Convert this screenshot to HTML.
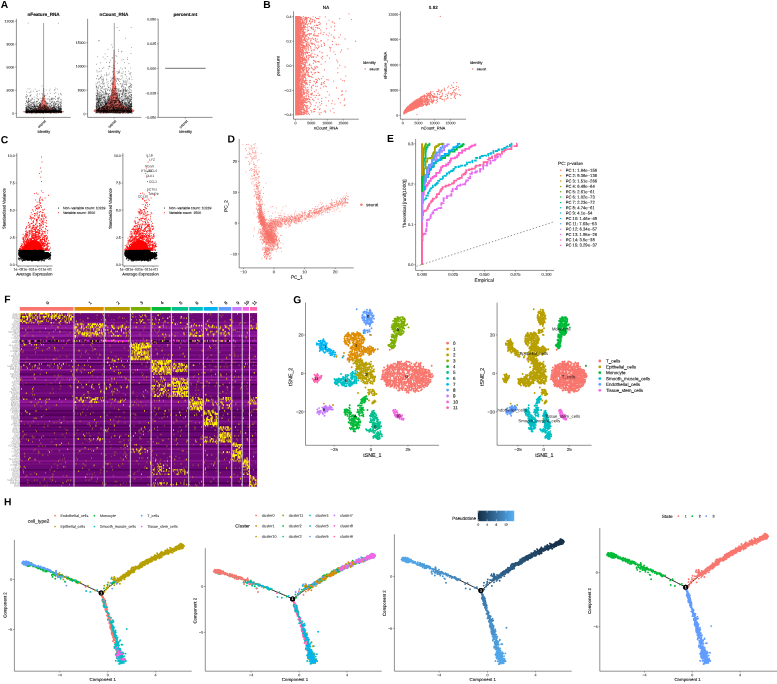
<!DOCTYPE html><html><head><meta charset="utf-8"><title>Figure</title><style>html,body{margin:0;padding:0;background:#fff}svg{display:block}text{font-family:"Liberation Sans",sans-serif;text-rendering:geometricPrecision}text:not([transform]){transform-box:fill-box;transform-origin:center;transform:rotate(.03deg)}</style></head><body><svg width="777" height="684" viewBox="0 0 777 684"><rect width="777" height="684" fill="#fff"/><text x=".8" y="8" font-size="10.3" fill="#000" font-weight="bold">A</text>
<path d="M43.6 23L43.6 92" stroke="#4a4a4a" stroke-width="0.5" fill="none"/>
<path d="M43.5 88L43.2 92L42.8 96L42.3 99L41.6 102L40.7 104L39.5 106L37.6 108L35.1 109.5L32.1 110.5L28.1 111.1L23.4 111.5L23.4 112.1L26.6 112.6L31.6 113.1L55.6 113.1L60.6 112.6L63.8 112.1L63.8 111.5L59.1 111.1L55.1 110.5L52.1 109.5L49.6 108L47.7 106L46.5 104L45.6 102L44.9 99L44.4 96L44 92L43.7 88Z" fill="#F8766D" stroke="#333" stroke-width="0.2"/>
<path d="M28.2 23.2h0m30.1 .1h0m-16.2 62.7h0m-14.2 2.8h0m2 .1h0m5.3 .3h0m14.9-.1h0m4.9 .7h0m.8-1.7h0m1.5 1h0m-30.5 2.8h0m2.4 .6h0m1.6-.1h0m.1-1.2h0m2.4 .1h0m3.4 .2h0m.6-.2h0m1.8-.8h0m7.1-.5h0m3.1 .8h0m5.1-.7h0m1.4 2.6h0m-29.3 1.9h0m.6 1.3h0m3.3 0h0m.1-.5h0m.5-.6h0m5.3 .2h0m1.1-1h0m2.2-.1h0m2.3-.3h0m.7 1.1h0m1.9 1.3h0m1.3-.4h0m1.8-1.8h0m2.7-.4h0m4.3 .1h0m4 .7h0m1.7-.6h0m.5 .4h0m.5 .9h0m-35.4 1.6h0m.1 .9h0m.4-.4h0m0 1.4h0m1.3-2.4h0m.5 2.8h0m.3-.2h0m.2-.2h0m1.1-2.2h0m2.1 2h0m.6 .5h0m1.7-1.7h0m1.9 .9h0m1.1 .7h0m.4-2.4h0m2.5 2.1h0m1.8 .1h0m.4 .5h0m.7-1.2h0m.3 1h0m.5 .2h0m.4-2.8h0m.3 .1h0m1.5 2.5h0m2.2 .1h0m1.4-2.3h0m1.9 1.8h0m.5-.2h0m.1 .4h0m1-.2h0m1.4 .3h0m.8-1.7h0m.2-.4h0m1.9 1.8h0m.4 .5h0m1-1.1h0m.1 .7h0m.2-1.1h0m-32.8 3.9h0m.1-.1h0m.5 0h0m.1 0h0m1.3-.4h0m.3 .9h0m.1-1.9h0m0 1.5h0m.1 .5h0m.2-1.6h0m.1 1.3h0m.2 .1h0m1-1.3h0m.4 1.8h0m.1-1.2h0m.3-1h0m.3 .1h0m1.3-.7h0m1.6 2.5h0m.2 .1h0m.1-2.1h0m2.1 1.9h0m0 .3h0m.3-.5h0m.1-.1h0m.1 0h0m.9-2.2h0m.5 .3h0m0 .6h0m2.4 .5h0m.1 .8h0m.9-.2h0m.4-.8h0m1.3 0h0m.8 1h0m.7 .1h0m.2-.1h0m.6 .6h0m1.6-2.8h0m1.7 .1h0m.1 2.1h0m.2-1.2h0m1.2 .9h0m0-1.6h0m.8 .3h0m0-.3h0m.4 2.1h0m.5 .2h0m.2-2.1h0m.7-.6h0m.4 2.9h0m.7-.1h0m1-2.4h0m1.4 2.1h0m.1 0h0m.3 .2h0m.6-1.3h0m.6-1.2h0m.4 2.4h0m1.8-2.3h0m.2 2.6h0m.3-2.2h0m.1 1.3h0m-35.7 2.5h0m1.4-1.1h0m.1 .3h0m.4 .1h0m.3-.1h0m.1 1.8h0m.4-.7h0m.1-1.2h0m.2 1.6h0m.5 .4h0m.3-1.2h0m.7 1.5h0m0 .1h0m.3-2.9h0m.5 2.6h0m.2 .1h0m.1-1.4h0m.2-.8h0m.4 2.1h0m.4-1.8h0m.5 0h0m0 .9h0m.3-.8h0m.2-.8h0m.4 2.4h0m.1-1.7h0m.3 .3h0m0-.4h0m.1 1.2h0m.1 .9h0m.4-.6h0m1.3-1.6h0m.1 1.4h0m.5 .6h0m.3-.8h0m.6 0h0m.7-.7h0m.4 .4h0m.8-1.2h0m.1 0h0m.1 1.8h0m.2 .6h0m.2-.2h0m0-.2h0m.2-1.3h0m.1 1.3h0m.1-.5h0m0 .3h0m0-.9h0m.5-.4h0m0 1h0m.1 .9h0m1.4-2.7h0m0 1.4h0m1.7 1.3h0m1 .2h0m.8-1.4h0m.4-.6h0m.6-.8h0m.1 .7h0m0 .5h0m.2 .8h0m.2 .1h0m.3-.9h0m.1-.1h0m.5-.1h0m.5 1.8h0m.3-1.3h0m.4 1.3h0m.6-1.7h0m.4 .7h0m0-.3h0m.8-.9h0m.1 2h0m.5-2.5h0m0 .2h0m.3 2.4h0m1.1-.8h0m.1-.8h0m.5 1.7h0m.1-1.8h0m0 .8h0m.4-1.6h0m.1 1.6h0m.9 1h0m.1-1.4h0m.2 1h0m0-1.7h0m.2 1.8h0m.3-.5h0m.1-.4h0m.2-.7h0m1.6 .5h0m0 .8h0m.5 .2h0m0-2.5h0m0 2.8h0m.8-1.8h0m.8-.3h0m0-.8h0m0 2.6h0m.2-1.6h0m.3 1.9h0m.1 0h0m.6-1.2h0m.1-.8h0m-35.8 2.5h0m.4 1.9h0m.1 .6h0m.2-.1h0m.1-.3h0m0-2.3h0m0 1.4h0m.2 1.3h0m.1 .1h0m.4-1.3h0m.1-1.1h0m.5 1.7h0m.3-.6h0m0 .4h0m.1-.8h0m0-.1h0m.1-.2h0m0 1.2h0m.3 0h0m.1-1.3h0m0-.9h0m.2 2.5h0m.4-.1h0m.1-1.7h0m.1 1.1h0m0 .5h0m.4 .1h0m0-1.8h0m.1 2.2h0m.1 .1h0m.3-1.8h0m.2 .3h0m.3 1.1h0m.5 .4h0m0-.1h0m.2-2.6h0m.4 1h0m.1 .7h0m0-.4h0m0-.1h0m.1 .1h0m.6-.1h0m.1 .4h0m.2 .5h0m.2-1.4h0m0 1.5h0m.3-2.3h0m.4 2h0m.1-.5h0m0 .3h0m.1-.4h0m0 1.3h0m.4-2.1h0m0-.5h0m.1 1.3h0m.1-.1h0m.1 .7h0m0-1.1h0m.1 .5h0m0-.5h0m.1-.7h0m0 1.2h0m.1-.3h0m.2 .2h0m.2 1.2h0m.1 0h0m.2-.9h0m0 1.2h0m.5-1.6h0m.5-.7h0m.1 .4h0m0 .2h0m0 .3h0m.2-.4h0m.1 .7h0m.2-.4h0m.1 .2h0m.1-1.5h0m.2 2h0m.7 .5h0m0-1.2h0m.2 .3h0m0 .1h0m.1 1.2h0m0-1.8h0m.2 1.7h0m0-.3h0m.2-1.9h0m0 1.8h0m.1-1.5h0m.1 1.6h0m.2-1.5h0m0-.4h0m.2-.2h0m.1 2.1h0m.1-2.1h0m.2 2.1h0m0-1.6h0m0-.5h0m.4 1h0m.1-.5h0m0 .8h0m0 .3h0m.1 .8h0m.1-.3h0m.6-2.5h0m.2 2.5h0m0 0h0m0 .3h0m.2-1.1h0m.1 .2h0m0 .1h0m.4-.4h0m.1 .8h0m0 .4h0m.4-2.6h0m.1 2.2h0m.1-1.8h0m0 .1h0m.2-.8h0m.1 2h0m0 .6h0m.1-1h0m.3 1.3h0m.4-2.8h0m.1 1.5h0m0 .2h0m.1-1.3h0m0 2h0m.1-.1h0m0 .3h0m0-1h0m.1-1.2h0m.1 2h0m.1-1.7h0m0 .3h0m.4 1.7h0m.1-1.1h0m0-.8h0m0 1.2h0m.1-.1h0m.1-.4h0m.5-.8h0m.1 1.4h0m0-.7h0m.1 1.4h0m.3-1.9h0m.1-.5h0m.2 2.3h0m.2-1.5h0m.7 1.5h0m.1-.5h0m.1 .3h0m.1-1.1h0m0 .7h0m.1 .3h0m.3 .4h0m.6-2.1h0m.2 1.8h0m.4-1.4h0m.1 0h0m.1 .5h0m.1-.5h0m.4 .5h0m.2 .5h0m.1 .7h0m.2-.6h0m.1-1.3h0m.4 0h0m0 2h0m.1-.6h0m.2-1.9h0m.4 0h0m.3 2.2h0m.4 .3h0m0-.5h0m.1 .3h0m.1-1h0m.3 .9h0m0-.3h0m0-.7h0m.1 .9h0m.2-.3h0m0-1.2h0m.1-.2h0m0 1.7h0m.5-.5h0m0-2.1h0m0 2.6h0m.4-1.2h0m.1 .9h0m.1-1.7h0m0 1.9h0m.1-1.6h0m0 1.3h0m.3-.9h0m.9 .3h0m.1 .8h0m.2-.3h0m.3-.6h0m.7-.9h0m.2 1.7h0m.1 .4h0m.4-1.7h0m.1 1.7h0m0-2.2h0m.3 2.1h0m0-.7h0m.1-.4h0m.2 .5h0m0 .2h0m0 .6h0m.3-.8h0m.4-.3h0m.4-.3h0m.2 1.4h0m0-.7h0m.5 .8h0m.4-2.4h0m.1 1.1h0m0 .3h0m.1-.5h0m.1-.4h0m-35.4 2.2h0m.2 1.1h0m0 .4h0m0 1.2h0m0-.1h0m.1 .1h0m.1-1.3h0m0-.8h0m.1 1.9h0m0-.4h0m0 .5h0m.1-.2h0m.1-1.2h0m.1 .9h0m0-1.2h0m.1 .1h0m.1-.4h0m.1 .2h0m.3 2h0m0-2.3h0m.1 2.1h0m.1-.6h0m0 .8h0m0-1.2h0m.1 0h0m.1-.1h0m0-.9h0m.1-.1h0m.2 1.2h0m.3 0h0m0-.1h0m.1 1.1h0m0-.5h0m.1-.8h0m0 1.4h0m0-2.2h0m0 .3h0m0 .3h0m.3 1.3h0m.1-2.7h0m.1 2.9h0m.2-.1h0m0-.8h0m.1 1h0m0-2.5h0m0 1.6h0m0 .7h0m.5 .1h0m0-.4h0m.2-2.2h0m0 1.7h0m0-.9h0m.1 1.8h0m.1-1.6h0m0-.5h0m.3 2.2h0m.1-1.1h0m0-1.4h0m0 2.4h0m.2-2.8h0m0 .9h0m0 .2h0m.1-.9h0m.1 1.4h0m0-1.4h0m.1 .3h0m.1 1.7h0m0-.2h0m.2 .9h0m0-2.3h0m0 1.9h0m.1-1.9h0m.3 .5h0m0 1.5h0m.1-.1h0m.1-.1h0m.1-2.2h0m0 2h0m0-1.1h0m.1-.2h0m.1 1.5h0m0-1.8h0m.1 2.3h0m.2-1.6h0m.1 .5h0m.1 .2h0m0-1.1h0m0 1.8h0m.1-2.6h0m.1 1.1h0m.3-.1h0m.1 .4h0m.1 .5h0m0 .8h0m.1 0h0m.1 0h0m.2-2.7h0m.1 1.7h0m0-.8h0m0 0h0m0 0h0m.1-.1h0m.1 .8h0m.1 0h0m0 0h0m.1-1.3h0m0-.4h0m.3 2.8h0m.1-.3h0m0 .3h0m0-.6h0m0-1.7h0m.2-.4h0m0 1.9h0m.1-1h0m.3 1.7h0m.2-2h0m0 .6h0m.1-.1h0m.1 .8h0m0 .8h0m.1-2.5h0m0 2.6h0m.1-2.8h0m0 2.5h0m0-.7h0m0 0h0m.1 .9h0m.1-1.3h0m.1-.8h0m0-.5h0m.1 2h0m0-.4h0m0-1.3h0m.1 1.2h0m0 1.2h0m0-1h0m.2 .9h0m.1 .1h0m0-1h0m.1 .1h0m.1-.1h0m.1 .2h0m0-2.1h0m0 1.1h0m0 1.3h0m.2-.7h0m.1 .7h0m.2 0h0m.2 .5h0m0-2.3h0m0 1.4h0m.2 .2h0m.1 .3h0m0 .1h0m.1-.4h0m.1-2h0m.1 .2h0m.1 .2h0m0 1.3h0m.1-.8h0m.1 1.2h0m.1-.5h0m.1 .2h0m.1-.2h0m.1 1h0m0-1.7h0m.1 .9h0m0 .5h0m.1-1.1h0m.1 .9h0m.1 0h0m.1-.6h0m.1-1.2h0m.1 2h0m0-.3h0m0-.7h0m.1 .5h0m.2-1.6h0m.4 2.4h0m0-.6h0m.1-.3h0m0-1.4h0m0 .5h0m.1 .6h0m.1-.1h0m0-1.3h0m0 2.5h0m.1-.6h0m.1 .2h0m.2-.4h0m0-1.2h0m0 1.4h0m.1-1.5h0m.1 0h0m0 .7h0m.2 1.2h0m0-1.1h0m.1 1.2h0m.1-.3h0m.1-.8h0m.1 1.3h0m.2-2.5h0m.1 1.4h0m0 .7h0m.1-.4h0m.1 .2h0m0 .2h0m.1-.3h0m0-2.1h0m.1 2h0m0 .6h0m.1-.9h0m.1 1h0m.1-2.7h0m.1 2.9h0m0-2.5h0m.2 1.8h0m0 .6h0m.1-2.6h0m.2 2h0m0 .1h0m.2-1h0m0-.8h0m.1 .7h0m.1 1.2h0m0 .3h0m0-.1h0m0-.7h0m.1-.4h0m.1 .8h0m0-1.9h0m.2-.5h0m.1 2.8h0m0 .1h0m.2 .1h0m0-1.4h0m0 .3h0m0-.4h0m.2-.9h0m.1 .8h0m.3-1.1h0m0 2.6h0m0-2.1h0m.1 1.5h0m0-.1h0m0 .4h0m.2-2.3h0m.2 .8h0m0 1.9h0m.1-1.6h0m0-1h0m.1 .6h0m0 1.9h0m.1-1.4h0m0-.9h0m0 .3h0m0 1.8h0m.1-.7h0m0-.1h0m.1 .1h0m.1-.1h0m0-.8h0m0 1h0m.1 .8h0m.1-2.1h0m0 2.2h0m.1-.3h0m0-1.4h0m.1 .8h0m0 .6h0m0-1.8h0m.1 1.8h0m.1-2.4h0m.1 2.2h0m0-2.5h0m.1 2.1h0m.2-.8h0m.1 1.6h0m.1-2.8h0m.1 .9h0m0 .7h0m.2-.2h0m0 1.5h0m.1-.1h0m0-.8h0m.1-.5h0m.1 .1h0m0-1.2h0m.4 .3h0m.1 1.3h0m0 .8h0m0-.2h0m.1-1.9h0m0 1.5h0m.1 .3h0m0 .4h0m0-2.6h0m.2 .6h0m.1 1h0m.1 .9h0m0-.3h0m0-.8h0m.1 .3h0m.1-.1h0m0-1h0m.2 1.3h0m.1 .5h0m0 .1h0m.1-.5h0m0 .1h0m.2 .2h0m0-.2h0m.1 .1h0m.2 .1h0m0-.5h0m0-.4h0m0-.7h0m0-.2h0m0-.9h0m.1 1h0m.2 1.2h0m.3 .1h0m.3-.3h0m.1 .6h0m.1-1.8h0m0 1.6h0m0-.4h0m0 .7h0m.2-2.1h0m0 .2h0m.1-.5h0m0 2.2h0m.1 .4h0m0-.3h0m.1-.6h0m0 .8h0m0-.2h0m.4-2.6h0m.1 1.9h0m0 .3h0m0-.8h0m.1-.9h0m.1 .8h0m.1 .8h0m0-1.3h0m0 1.6h0m.2-1.5h0m0 1.4h0m.1 .1h0m0-1.3h0m.1 .2h0m.2-.8h0m0 1.8h0m.1 .5h0m0-1.3h0m.1 1.4h0m0-.4h0m.1-.9h0m0 .3h0m.1 0h0m.2 1h0m0-.8h0m.1 .2h0m0 .2h0m.1-.3h0m0-.5h0m0-1.1h0m0 1.8h0m0-.6h0m0 1.1h0m.2-2.6h0m0 2.4h0m.1 .2h0m0-1.1h0m.1-.3h0m0 .3h0m0 1h0m0-2.8h0m.2 2.8h0m0-2.5h0m.1 2.5h0m0-2.1h0m0 2.1h0m.2-2.3h0m.1 .7h0m0 1.2h0m0-.2h0m.2-.5h0m.1 .6h0m0-.5h0m.1 .9h0m0-2.5h0m0 .2h0m.1 1.1h0m.1-.9h0m0 1.2h0m.1-.3h0m0 .9h0m0 .4h0m0-2.2h0m.1 .9h0m0 .4h0m.1-1h0m.1 .9h0m0 .7h0m.1-.6h0m.1 1h0m0 .1h0m.1-1.2h0m.1-1.7h0m0 2.5h0m.2 .3h0m.1-1.1h0m.1 1h0m.1-2.6h0m.2 2.6h0m.1 .1h0m.2-.7h0m.2-.7h0m.2 .7h0m0 .7h0m.2-2h0m.1-.4h0m.1 2.2h0m.1-.3h0m0 .4h0m.2-1.1h0m0 1.2h0m0-.3h0m.1-2.3h0m.1 .1h0m0 2h0m0-.5h0m.2-1.4h0m.1 1.4h0m0 .3h0m.1-.9h0m0 .1h0m0-.4h0m0 .8h0m.2 .9h0m0 0h0m.1-2.6h0m.1 2.8h0m0-.6h0m.2 .6h0m0-2.3h0m.1 0h0m0 1.8h0m.1-1.2h0m.1 .7h0m0-.5h0m0-.6h0m.1-.8h0m.1 1.6h0m0 .7h0m.1 .2h0m0-2.2h0m0 .6h0m.1 1.4h0m.1 .4h0m0-1.5h0m.1-.8h0m.1 .8h0m.1 0h0m.3 .5h0m.1-.5h0m.1-.9h0m.1 .8h0m0-.4h0m-35.9 4.2h0m.3-.7h0m.1 .3h0m.1-1.3h0m0 .2h0m.1 1h0m0-1.3h0m0 .8h0m0 .1h0m.1-.9h0m.1 1.4h0m.1-.7h0m0-.2h0m.1 1.2h0m0-1.3h0m0 1.3h0m.1-.4h0m0-.5h0m0-.1h0m0 .5h0m.1-.3h0m0-.2h0m.1 .8h0m0 .1h0m0-1.7h0m0 .6h0m.1 0h0m0 .3h0m.1-.9h0m0 0h0m0 .6h0m.1 1.1h0m0-.2h0m.1 .2h0m0-1.3h0m.1 .3h0m.1 1.1h0m.1-.2h0m0-1.5h0m.1 .2h0m0 0h0m0 .1h0m.1-.1h0m0-.1h0m.1 1.4h0m0-.7h0m0-.3h0m.1 .5h0m.1-.3h0m0-.6h0m.2 .4h0m.2 .5h0m.1-1h0m0 .9h0m.1 .7h0m0-.9h0m.1-.3h0m0 .3h0m.1 .1h0m.2 .9h0m.1-1h0m.1 1h0m.1-.9h0m0 0h0m0 .1h0m.1-.7h0m.1 .7h0m0-.4h0m0 .4h0m0 .5h0m.1-.4h0m0 .3h0m.1-.9h0m.1 .5h0m0-.4h0m0 .6h0m.2-.4h0m0-.2h0m.1-.4h0m0 .6h0m.1 1h0m0-1.1h0m.2 .4h0m0 .5h0m.2-.9h0m0-.1h0m.1 .4h0m.1 .2h0m.1-.7h0m0-.2h0m0 .2h0m0 .5h0m.1-.8h0m0 .3h0m.1 .4h0m.1-.2h0m.1 1.2h0m0-.3h0m.1-1.5h0m0 .8h0m0 1h0m0-1.8h0m.2 1.2h0m0 .3h0m0-.6h0m0 .7h0m0-1.6h0m.1 1.2h0m.1-.1h0m0-.9h0m0 .6h0m.1 .5h0m.1-.8h0m.1 .2h0m0 .2h0m0 .1h0m0-.9h0m0 .4h0m.1 .2h0m0-.4h0m0 1.4h0m.1-1h0m0 1h0m0-1.3h0m.1 .8h0m.1-.7h0m.2-.4h0m0 .9h0m0 0h0m.1 .5h0m0-1.3h0m0-.1h0m.1 .1h0m0 .1h0m.2 .7h0m.1-.3h0m0-.2h0m0 .9h0m.1-1h0m.1-.4h0m0 1.8h0m.1-1.3h0m.2-.4h0m0 0h0m0 .1h0m.2-.1h0m0 .2h0m0-.4h0m0 .3h0m.1 .1h0m0-.4h0m0 .2h0m.1 .5h0m.1 .3h0m0-.8h0m.1 .9h0m0 0h0m.1 .7h0m.1-1.6h0m0 .2h0m0 .3h0m0-.7h0m.1 .2h0m.1 .1h0m.1 1h0m0-1h0m.1 1.5h0m0-1h0m0-.2h0m0-.4h0m.3 1.6h0m.1-.9h0m0 .7h0m0-.3h0m.2 .1h0m.1-.2h0m0-.6h0m.2 .1h0m0 1h0m.1-.3h0m.1-1.4h0m0 1.4h0m0-.1h0m.1-.3h0m0-.9h0m.1 .3h0m.1 .1h0m0 1.3h0m.1-1.6h0m0 .5h0m0 1h0m.1 .2h0m.2-1.1h0m0-.7h0m0 .3h0m0 1.2h0m0-.7h0m.1 .2h0m0-.2h0m0 0h0m.1 .1h0m0 0h0m.1-.6h0m0 .2h0m.1-.2h0m.1-.1h0m.1 1.1h0m0 .5h0m.1-1.6h0m.1 .7h0m.1-.3h0m0 .1h0m0-.3h0m.1 .3h0m.1 .1h0m.1 .1h0m.1-.9h0m0 .9h0m0-1h0m.1 .3h0m0 .7h0m.1 .1h0m.1 .5h0m0-.5h0m0 .2h0m.1-1.1h0m0 .7h0m0-.5h0m0 .9h0m.1-.1h0m0-.7h0m.1 .9h0m0-.8h0m.1 .8h0m.1-.8h0m0-.5h0m.2 .7h0m0-.7h0m.1 .4h0m0 .4h0m.1-.7h0m0-.1h0m.1 .6h0m0-.1h0m0 .3h0m.2 0h0m0 .7h0m0-.5h0m.1 .7h0m.1-.3h0m0-1.1h0m.1 .5h0m.1 .2h0m.1-.1h0m0 .6h0m.1-.8h0m0 .3h0m0 0h0m0-.6h0m.1-.5h0m.1 .9h0m0 0h0m0-.3h0m.1-.6h0m0 .1h0m.1 1.8h0m0-1h0m.1-.1h0m0 .4h0m.1 .4h0m.1-1.6h0m0 1.7h0m0-.8h0m.2-.8h0m.1 .4h0m.1 .7h0m.1-.7h0m0 .7h0m.1-.4h0m0-.3h0m.2 1h0m0 0h0m0 0h0m0-1.1h0m.2 .2h0m0-.6h0m0 .5h0m0-.3h0m.1 .2h0m0-.3h0m0 1.2h0m0-.8h0m.1 1.3h0m.1-1.1h0m0-.1h0m.1-.2h0m0 .6h0m0 .6h0m.1-.4h0m0-1.2h0m.1 .6h0m0 .3h0m0-.3h0m0-.4h0m0 0h0m0 .4h0m0 .1h0m.1 .4h0m0-.3h0m0 .2h0m.1 .4h0m.1 .5h0m.1-1.2h0m.1 .2h0m0-.8h0m.1 .4h0m.1 .3h0m0 .6h0m0-.3h0m.1-.5h0m0 1.2h0m.1-1.4h0m0 .4h0m0 .1h0m.1 .2h0m0-.9h0m0 .3h0m0 1.4h0m0-.2h0m.1-.6h0m0 .4h0m0-1h0m.1 .6h0m0 .7h0m.2-1.3h0m.1 .4h0m0-.4h0m0 1.4h0m0-1.7h0m.2 .3h0m0-.4h0m.1 .2h0m.3 .2h0m0 .7h0m0-.3h0m0 0h0m.1 .2h0m0-.7h0m.1 .4h0m.1-.7h0m.1 1h0m.1-.4h0m0 .4h0m.1-1h0m0 1h0m0-.3h0m.1 .8h0m0-.8h0m0-.6h0m.1 0h0m0 .7h0m0 .7h0m.1-.2h0m0-.3h0m0-1h0m.1 .7h0m0-.5h0m.1-.1h0m0 1h0m.1 .1h0m.1-.6h0m.1 .6h0m0-.8h0m.1 1.1h0m.1-.6h0m0-.6h0m.1 1h0m.1-1h0m.1 1.1h0m0-1.4h0m.1 .6h0m0-.3h0m0 1.4h0m0-1h0m.1-.5h0m.1-.2h0m0 .8h0m.1 .2h0m0 .2h0m.2-.5h0m.1 .2h0m.1 .4h0m0-1.2h0m.1 1h0m0 0h0m.1-.5h0m.2-.1h0m.1 .4h0m0-.5h0m0-.4h0m0 1.4h0m0-1.3h0m.1 1.3h0m0-1.2h0m.1 0h0m.1 .6h0m0-.3h0m0 .3h0m0 .7h0m.2-1.5h0m0 .9h0m0-.9h0m0 .6h0m.3 .1h0m.1 .7h0m0-.6h0m.1 .6h0m.1-1.2h0m0 1.2h0m.1-1.2h0m0 .8h0m.1-.2h0m0 .1h0m.2 .1h0m0-.5h0m.2-.5h0m0 .2h0m.1 1.5h0m.1-1.7h0m0 .5h0m.1 .4h0m0 .1h0m.1-1h0m0-.1h0m0 1.8h0m.1-1.8h0m0 .7h0m0-.2h0m.2 .2h0m0-.5h0m.1 .8h0m0 .7h0m.1-1.7h0m0 .5h0m.1-.2h0m0 .2h0m.1 1h0m0-1h0m0 1.3h0m.1 .1h0m0-.9h0m.1-.8h0m.1 1.3h0m.1-.8h0m0 .7h0m0-.3h0m.1 0h0m0-.5h0m.1 1.2h0m0-.6h0m.1-.3h0m0-.5h0m.2 1h0m0 0h0m.1-1.1h0m0 .6h0m.1 .4h0m0-1.1h0m0 1.3h0m0-.6h0m.1-.4h0m0 0h0m.1 .1h0m0-.5h0m.2 .2h0m0 .5h0m.1-.5h0m0-.1h0m.1 .2h0m0 .2h0m.1 .1h0m0-.1h0m.2-.5h0m0 .6h0m.1-.6h0m.2 1.1h0m0-.8h0m.1 0h0m0 1.4h0m0-.8h0m.1-.2h0m0 .1h0m0-.2h0m.1-.6h0m0 .8h0m0-.1h0m.1-.7h0m0 1h0m0 .3h0m.1-.1h0m.1 0h0m0-.7h0m.2 1h0m.1-1.2h0m.2 .2h0m.1-.5h0m0 1.3h0m0-.2h0m.1-1.2h0m.1 .9h0m0-.4h0m0 1.3h0m0-1.6h0m.1 1.3h0m.1-1.3h0m0 .7h0m.1 .4h0m.1-.7h0m0-.2h0m0 .3h0m.1 .3h0m.3-.6h0m0 .3h0m.2 0h0m0 .1h0m0 1h0m0-1.1h0m.1 .3h0m.2-.4h0m.1-.6h0m0 .9h0m0-.8h0m0 .1h0m0 .4h0m.1-.5h0m.1 1.7h0m0-.5h0m.1-.4h0m.2-.8h0m.2 .7h0m.1-.6h0m0 .9h0m.1-.4h0m.1 1.1h0m0-1.1h0m0 1.1h0m.1-.3h0m0-1.1h0m0-.1h0m0-.2h0m.2 0h0m0 .2h0m.1 .2h0m.1-.4h0m.1 .2h0m0-.1h0m0-.1h0m.1 .6h0m.1 .4h0m.1 .1h0m0-.5h0m.1-.4h0m.1 .6h0m0-.4h0m.1-.3h0m0 .9h0m.1-1.1h0m.1 1.4h0m.2-.6h0m0-.4h0m.1-.3h0m0 .6h0m0 .1h0m.1 .7h0m0-.8h0m.1 .6h0m.1-.7h0m0 .8h0m0-.3h0m0-.3h0m.1 .1h0m0 .9h0m.1-1.3h0m.1 .7h0m.2-1.1h0m.1 0h0m0 .8h0m.1-.3h0m0 .2h0m.1-.2h0m0-.1h0m.1 .2h0m0-.5h0m0 .7h0m.1-.1h0m.1-.4h0m0 0h0m.1 .5h0m0-.2h0m.1 .2h0m.1 .3h0m0-.3h0m0-.5h0m.1 .2h0m.1 1h0m.1-1.3h0m0 .2h0m.1 .4h0m.2-.4h0m.2 1.2h0m0-.9h0m.1 .9h0m0-1h0m0 .6h0m0-.6h0m0 .2h0m0 .3h0m.1-.9h0m0-.2h0m0 .1h0m.1 .4h0m0 .2h0m0 .1h0m0-.9h0m0 .5h0m.1 .3h0m0-.7h0m0 1.2h0m.1-.2h0m.1-.1h0m0-.2h0m0-.8h0" stroke="#000" stroke-width="0.6" stroke-linecap="round" fill="none" opacity=".7"/>
<path d="M16.4 18.8V117.4H70.6" stroke="#222" stroke-width="0.5" fill="none"/>
<path d="M15.1 21.3L16.4 21.3" stroke="#222" stroke-width="0.4" fill="none"/>
<text x="14.3" y="22.6" font-size="3.5" fill="#333" stroke="#333" stroke-width="0.1" text-anchor="end">12000</text>
<path d="M15.1 44.2L16.4 44.2" stroke="#222" stroke-width="0.4" fill="none"/>
<text x="14.3" y="45.5" font-size="3.5" fill="#333" stroke="#333" stroke-width="0.1" text-anchor="end">9000</text>
<path d="M15.1 67.1L16.4 67.1" stroke="#222" stroke-width="0.4" fill="none"/>
<text x="14.3" y="68.4" font-size="3.5" fill="#333" stroke="#333" stroke-width="0.1" text-anchor="end">6000</text>
<path d="M15.1 90.3L16.4 90.3" stroke="#222" stroke-width="0.4" fill="none"/>
<text x="14.3" y="91.6" font-size="3.5" fill="#333" stroke="#333" stroke-width="0.1" text-anchor="end">3000</text>
<path d="M15.1 113.4L16.4 113.4" stroke="#222" stroke-width="0.4" fill="none"/>
<text x="14.3" y="114.7" font-size="3.5" fill="#333" stroke="#333" stroke-width="0.1" text-anchor="end">0</text>
<path d="M43.6 117.4L43.6 118.7" stroke="#222" stroke-width="0.4" fill="none"/>
<text x="46.1" y="121.3" font-size="3.6" fill="#333" stroke="#333" stroke-width="0.1" text-anchor="end" transform="rotate(-45 46.1 121.3)">seurat</text>
<text x="43.8" y="133.1" font-size="3.95" fill="#111" stroke="#111" stroke-width="0.1" text-anchor="middle">Identity</text>
<text x="43.6" y="16" font-size="4.65" fill="#111" stroke="#111" stroke-width="0.12" text-anchor="middle" font-weight="bold">nFeature_RNA</text>
<path d="M114.3 23L114.3 82" stroke="#4a4a4a" stroke-width="0.5" fill="none"/>
<path d="M113.9 50L113.7 60L113.3 70L112.8 80L112 88L111 94L109.8 98L108.4 101L106.2 104L103 106.5L99 108.3L95 109.6L93.8 110.4L93.8 111.2L96 112.2L102 113L126 113L132 112.2L134.2 111.2L134.2 110.4L133 109.6L129 108.3L125 106.5L121.8 104L119.6 101L118.2 98L117 94L116 88L115.2 80L114.7 70L114.3 60L114.1 50Z" fill="#F8766D" stroke="#333" stroke-width="0.2"/>
<path d="M117.2 27.6h0m14-.1h0m-11.5 3h0m5.7 7.7h0m-26.8 2.6h0m.7-.1h0m12.5 4h0m.6 2.5h0m19.3 .4h0m-23.7 1.8h0m10.4 .3h0m-13.3 4.2h0m13.3-2.5h0m3.3 .4h0m.1-.5h0m9.1 2.2h0m-33.2 3.2h0m9.5-.1h0m8.7-1h0m.9 .7h0m-13.6 .7h0m1.9 2h0m7-1h0m.5-.2h0m11.3 1.8h0m3.5-.1h0m0-1.7h0m-27 4.9h0m6-.4h0m2.9 0h0m.4 .4h0m.7-2.4h0m5.3 1.4h0m6.4-1.7h0m2.4 2.5h0m-28 1.8h0m17.3 1.2h0m3.6-2.3h0m11.5 .3h0m-29.5 5.1h0m3-.2h0m1.4-1h0m4.4 1.4h0m.8-2.2h0m.7 0h0m.2-.4h0m2.1 1.2h0m1.8 .6h0m1 .6h0m6-.7h0m4.2-.5h0m.4 1.2h0m5.3-.5h0m-33.9 2.2h0m.2 1.6h0m1.9 0h0m1.1-.6h0m1.5-.3h0m11 .9h0m.8-.5h0m3.6 .3h0m1.4 0h0m1-1.5h0m0 1.7h0m3.1-2.9h0m.8 2.8h0m2.2 0h0m3.3-.6h0m-27.4 3.7h0m5.1-.1h0m.1-1.9h0m.6 2h0m1.7 .1h0m.4-1.7h0m4.5 .9h0m3.7-.7h0m1.1-.7h0m.4-.1h0m.4-.6h0m1.9 1.1h0m1.5 .1h0m2.5 .9h0m.1 .6h0m4-1.5h0m.9 1.3h0m.1-.9h0m.7-1.2h0m-33.7 3h0m.5 .7h0m2.8 1.3h0m.3-.6h0m.5-.3h0m1.5 .5h0m1.7-2.1h0m2.1 .9h0m4.3 1.9h0m2.3-.2h0m.9-1h0m1.8 .3h0m5-.9h0m1.1-.4h0m.6 1.6h0m4.1-.5h0m4.5 .3h0m-34.8 1.7h0m1.7 .5h0m.7 0h0m.3-.8h0m1.1-.2h0m1.7 1.9h0m0-1.2h0m.2 .8h0m1.2 1.2h0m.1-2h0m0 .9h0m3.2 .1h0m.1-.9h0m3.6 1.8h0m.5 .2h0m.6-1.2h0m.8-1.5h0m.5 .1h0m1 0h0m.9 .7h0m.3 1.1h0m.4-1.1h0m.8 1.6h0m.1-1.8h0m1-.3h0m.1 .2h0m.6 .6h0m.6 1.2h0m.3-1.6h0m.2-.2h0m1.2 .7h0m1.6-.7h0m1.3 1.5h0m2.6 .3h0m.4-1.8h0m1.5 1.3h0m1.3-1.2h0m.3-.8h0m.2 1.1h0m2.5 .4h0m-36 4.2h0m1.2 0h0m.3-1.4h0m1.4-.5h0m.4 .1h0m.8 1.9h0m1.7-.5h0m.9-1.8h0m.1 .8h0m.3 1.5h0m.9-.3h0m.1-.4h0m2.8-.8h0m1.2-.9h0m.2 2.1h0m3.5 .2h0m.2-.6h0m.8-.3h0m.3 1h0m.3-1.9h0m3-.7h0m1.1 2.3h0m1.9-2.1h0m.8 2.4h0m.2-.4h0m2.5 .2h0m.7-1.5h0m.1-.9h0m1.1 .2h0m.2 .9h0m1.1 .4h0m.2-1h0m.4 2.1h0m1.2-2h0m1.3 1.3h0m1.2 .1h0m-34.3 2.6h0m.4 .8h0m.2-.4h0m2.3-.3h0m.3-.7h0m1.2 1.1h0m.3 0h0m1.6 0h0m.6-2.2h0m.9 2.1h0m.6-.3h0m2.8-1.2h0m.6 1.5h0m2.4-.9h0m1.8-1.3h0m.2 0h0m1 2.1h0m.1-1.6h0m2.3 1.9h0m3-1.6h0m3.2 1.6h0m.1-.2h0m0-1.2h0m.1-1h0m0 1.7h0m1-1h0m.6 2.1h0m.8-2.4h0m1.3-.3h0m.2 .1h0m.4 .9h0m2.3 1.8h0m.5-.7h0m.1 .7h0m.3-.3h0m.5-.1h0m.3-1.2h0m.5-.2h0m.1-.4h0m.2 1.4h0m.5-1.7h0m-35.5 3.6h0m.2 1.8h0m.2-2.6h0m1.2 .4h0m.1 1.4h0m.4-2h0m.1 1.1h0m1.9 1.7h0m.6-1.7h0m.6-.2h0m.5 0h0m.5-.2h0m1.2 1.5h0m.9-.2h0m1.1 .8h0m.1-1.4h0m1.1 .3h0m1.6-1.4h0m.4 2.3h0m0-1.9h0m.1-.5h0m1.4 2.1h0m.2-1.2h0m1.9 1.3h0m0-.6h0m.8-1.1h0m.9 1.1h0m.2-.4h0m.9 .6h0m.3-1.8h0m.1 1.4h0m.2-.3h0m.8-.1h0m.6 1.1h0m.7-.7h0m.7 .8h0m.4-.8h0m2.3-1.5h0m.6 2.6h0m.7-1.4h0m.5 1.3h0m.2-.6h0m.4-2.1h0m0 2.5h0m1 .5h0m.2-1.8h0m.4 1.2h0m.2 .5h0m0-2.2h0m0 .5h0m2.1 1.6h0m.5-1.9h0m1.1 .7h0m.5 .8h0m1.1 .5h0m0-2.4h0m.6-.3h0m-34.7 4.9h0m.5 .8h0m.2-2.5h0m.1 .2h0m0 1.7h0m0-1.2h0m1 .8h0m.8 .4h0m.5-.1h0m.5 .6h0m.5-2.1h0m.8-.4h0m0 .8h0m1 .8h0m.1 .2h0m.3-.3h0m.7 .9h0m1.4-2.7h0m.1 1.3h0m.2 1.5h0m.1-1.4h0m.2 1.3h0m.1-.8h0m1.5-1.7h0m.1-.2h0m2.2 .8h0m0-.2h0m1.3 .6h0m.7-.9h0m.5 .1h0m.2 2.1h0m.2 .4h0m.3-1.6h0m.1 1.4h0m.1-1.9h0m.2 1.9h0m.5-2.2h0m0 .2h0m.1 1.2h0m.8 0h0m.4-1.6h0m.1 2h0m1.9-1.8h0m.4 2h0m.5-1.1h0m.5-.3h0m.3-.8h0m.2 .5h0m.4 .3h0m.9 .9h0m.2-1.5h0m0 .9h0m.2-.5h0m.4-.2h0m.7 .5h0m.8 .8h0m.2 .3h0m.4-1.6h0m0 .1h0m.1 .3h0m.2-.3h0m.1 2.1h0m.1-.8h0m.1-.8h0m1.1-1.2h0m.4 .7h0m.4 .4h0m.1 1.8h0m0-2.2h0m.2 .8h0m.3-.9h0m.2 .5h0m0-1h0m.5 .7h0m.8 1.2h0m1.1-1.7h0m.1 1.8h0m.1 .2h0m.2-.5h0m.8 .5h0m.4 .2h0m.8-1.7h0m.3 1.4h0m-35.5 1.2h0m.1 2h0m.2 0h0m.5-.1h0m.5-1.1h0m.2-.4h0m0-.1h0m0 1.8h0m.2-1.6h0m.5-.2h0m.1 1h0m.3 .6h0m.3-1.9h0m.7 .6h0m.2 1.2h0m.1-.8h0m.3 .7h0m1-2h0m.4 2h0m.1-.1h0m.1 .3h0m.2-.3h0m0-.6h0m1.3-.1h0m0 1.6h0m.5-2.1h0m.5 .9h0m.5-1h0m.5-.4h0m.2 1.6h0m.3-.7h0m.2-.8h0m.3 1.2h0m.1-.8h0m.1-.8h0m.5 .5h0m.2-.2h0m.6 .8h0m.4 .5h0m.4-.5h0m.2 1.7h0m.2-2.3h0m.6-.2h0m1.5 2.4h0m.5-1.8h0m.2 1.3h0m.2-.5h0m.2-.4h0m.5 1.4h0m.2-.9h0m.4-.3h0m.3 .1h0m.3 1.2h0m.1-2.1h0m0 1.7h0m.1-1.6h0m.1 .4h0m.3-1h0m.1 .7h0m.7 .6h0m.2-1.6h0m.2 .9h0m.1 1.7h0m.1-1.8h0m.1 1.1h0m.1 .2h0m.1-1.5h0m.2 0h0m.8 1.1h0m.3-1.2h0m0 2.2h0m.1-2.2h0m0 2.4h0m.2-1.3h0m.3 .9h0m.4-2.4h0m.2 .9h0m.3 1.7h0m.1-.5h0m.2-.8h0m0-1.1h0m.3 1.9h0m0-.4h0m.4-.7h0m1.6 0h0m.2-.5h0m.2 1h0m.4-.2h0m0 .3h0m.1-1.3h0m.1-.1h0m.9 2.4h0m.2-1.3h0m.4-1.2h0m.1 1.8h0m.7-1.7h0m.1 1.4h0m.3 .6h0m.3-1.6h0m.2-.1h0m.2-.1h0m0 1.9h0m.1 .3h0m.7-1.7h0m1.4-.6h0m0 .4h0m.9 1.6h0m0 .5h0m.6 .1h0m.2-2h0m.9 .6h0m.4 .9h0m.1-.6h0m.1-.4h0m.2 .9h0m-35.5 3.3h0m.1-1.6h0m.4 .3h0m.2-1.4h0m.2 2.6h0m0-2.1h0m.1-.4h0m.2 1.6h0m.2 1.3h0m.1-.6h0m.2-.8h0m0 1.4h0m.3-2.6h0m.5 2.4h0m.2-.8h0m.1-1.3h0m.3-.5h0m0 .5h0m0 1.9h0m.1 .3h0m.1-.9h0m.3 .3h0m0-.1h0m0 .4h0m.2-2.3h0m.2 2.2h0m0-.1h0m0-1.4h0m.3-.6h0m.2 1.9h0m.9-1.9h0m0-.3h0m.1 2.7h0m.2-.9h0m0-.2h0m.1-.6h0m0 1.6h0m.1-1.5h0m.3 1.1h0m1-.7h0m.1-.6h0m.3 .8h0m0-.4h0m.2 .5h0m.1-1h0m.3 .7h0m0 .8h0m.4-1.1h0m0-.7h0m.1 1.2h0m.2-1.4h0m.4 1.7h0m1.4-1.4h0m.2-.7h0m0 2.7h0m.3-.6h0m.3-.9h0m.4 1.4h0m.3-1.5h0m.1 .9h0m.1-2h0m.2 .5h0m0-.3h0m.1-.1h0m0 1.8h0m.1 .6h0m.2-2.4h0m0 1.9h0m0-.1h0m.2-.1h0m.1 1.1h0m.6-2h0m.3-.8h0m.5 2.8h0m.3-1.3h0m.1 .7h0m.1-.8h0m.1-1.3h0m.3 2.7h0m.5-2.9h0m.3 2.6h0m.3 .4h0m.1-2h0m.1 .3h0m.3 0h0m0 .5h0m.3 .8h0m.4-.8h0m.1 .1h0m.8-.9h0m.7 1.4h0m.1-.8h0m.1 .4h0m.1-.1h0m.1 .6h0m.1 .4h0m.3-2.1h0m0 1.3h0m.1-.4h0m.1 .4h0m.6 .4h0m.1-.9h0m.1-.5h0m.1-.7h0m.2 2.4h0m.2-.7h0m.2-1.2h0m.5 1.3h0m.7-.8h0m0-1.4h0m.1 0h0m.1 2h0m.3 .2h0m0 .4h0m0 .3h0m.8-1.1h0m.6-1h0m.1 0h0m.1 0h0m.4-.5h0m0 2.1h0m.7-2.3h0m.1 1.8h0m.6 1h0m.6-2h0m.9-.7h0m0 2.1h0m0-2.3h0m.2 2.8h0m.1-.5h0m.2-.1h0m0-1.7h0m.4 .4h0m.3 1.2h0m.1-1.7h0m.1 1.2h0m.2 .9h0m.3-.1h0m.5 .3h0m.4-1.2h0m0-1.2h0m.2 .9h0m.1 .6h0m0 1.1h0m.1-2h0m.1 1.6h0m.2-2.3h0m.1 1.8h0m.4 .4h0m.3-.4h0m.6-1.7h0m.4 .8h0m.1-.4h0m.3 2.2h0m.5-2.7h0m0 .5h0m0 1.4h0m.3-.6h0m.2 .4h0m.3-.1h0m-35.7 2.1h0m.2 .4h0m.1-1.2h0m.4-.1h0m.1 2.7h0m.1-2.5h0m.1 .1h0m.3 .6h0m0 .7h0m.5-1.5h0m.3 1.5h0m0 .9h0m0-.2h0m.2-1.5h0m.1 .3h0m0 1.1h0m0 .8h0m.1-2.2h0m0 1.7h0m.1 .4h0m0-1.8h0m.1 1.1h0m.2 .6h0m.1 .1h0m.1-1.8h0m.1 1.2h0m.1-1.2h0m0 1h0m.1-1.9h0m.2 1.1h0m.4-.5h0m.2 .3h0m.3 .1h0m0 .1h0m.1 .4h0m.1 1.1h0m0-2.3h0m.4 2.4h0m.3-1.5h0m.5-.9h0m.2 2.4h0m.6-.2h0m.3-1.4h0m.3 .6h0m0-1.5h0m.7 .8h0m.1-.3h0m.4 .9h0m.1-.1h0m.2 1.1h0m0-2.7h0m.2 2.8h0m.2-.5h0m0-1.4h0m.1-.8h0m.1 2.2h0m.2-.5h0m.1 .1h0m0-1.2h0m.3 2.1h0m.1-.9h0m.4-.4h0m.6-1.1h0m0 1.9h0m.1-2h0m.2 1.6h0m.1 .8h0m.1-1.5h0m.2-.8h0m0 .7h0m.4 1.7h0m0-1.8h0m.2 0h0m.1-.7h0m0 1.4h0m.2-.2h0m0 0h0m.2-.9h0m.7-.4h0m.2 1.6h0m0-1.5h0m0 2.5h0m.1-.7h0m0-.9h0m.4 1.1h0m.4-1.8h0m.1 1.9h0m.1-.3h0m.5-.5h0m0-.8h0m0 1.1h0m0-1.7h0m.5 1.8h0m.6-1.3h0m0 1.3h0m.1-.5h0m.3-.2h0m.1 .6h0m.1-.2h0m0 .1h0m.1-.7h0m.3 .3h0m.7-.1h0m.1 .2h0m.3 .2h0m.1-.5h0m0 1.3h0m.1-.8h0m.3 .9h0m.1-1h0m.2 .1h0m.2-.9h0m.1 .6h0m0 .1h0m.1 .2h0m.4-.9h0m0-.8h0m.1 2.7h0m.2-1h0m0 .8h0m.4-1.3h0m.1 .8h0m.5-1.4h0m.2 .5h0m.3 .4h0m0 .4h0m0 0h0m.3-.4h0m0-1.4h0m.1 1.3h0m.2-1.3h0m.1 .3h0m.1 .8h0m.1 .2h0m.2 .6h0m.1 .5h0m.3 .3h0m0 0h0m.1-1.2h0m0 .8h0m.1-.4h0m.2 .6h0m0-2.1h0m.3 1.8h0m.3 .6h0m.7-.2h0m.3-.6h0m0-1.3h0m.1 1.4h0m.2-1.7h0m0 1h0m.4 .1h0m.1 0h0m.2-.5h0m.3 .6h0m.1 .5h0m.1-.8h0m.1-.5h0m.2-.5h0m.6 1h0m.4-.7h0m.3 1.7h0m.2-1.7h0m.6 1.1h0m.1-1.3h0m1.2 .5h0m0-.2h0m.3-.2h0m.4 1.5h0m.2-.3h0m.1-.9h0m.2-1h0m.2 2.3h0m.5-.3h0m.3 1h0m.1-2.1h0m.1 .1h0m0-.9h0m.3 0h0m0 2.6h0m.2-.9h0m.1 .4h0m.1 .1h0m.4-1.7h0m.1 1.4h0m.1-.1h0m.1-.5h0m.5 1h0m0-1.9h0m.1 .1h0m.2-.2h0m.3 1.7h0m-35.5 2h0m.3 1.3h0m0 0h0m.1-1.1h0m.1-.7h0m0 1.3h0m.2 1h0m.1-.2h0m.2-1.7h0m0 .5h0m0-1.3h0m.2 .6h0m.2-.1h0m.1 2.2h0m.1-.3h0m0-2.1h0m.2 2.3h0m0-2.1h0m.2 .7h0m0 .6h0m.1 .4h0m.1-1.7h0m.1-.4h0m0 .9h0m.8-.4h0m.1 0h0m.3-.1h0m.3 1.3h0m0 .2h0m0-.9h0m.1-.2h0m.3 1.6h0m0 0h0m.2-1.3h0m.1 1.1h0m.1 .5h0m0-2.4h0m.5 .6h0m.1 1h0m.2-1.6h0m.4 1.8h0m0-1.7h0m.2 .3h0m0-.6h0m0 2.2h0m.1-1.6h0m.1 .3h0m.4-.5h0m.5 1.6h0m0-1.4h0m.2 1.7h0m.2-2.1h0m.2 1.5h0m.4-.2h0m.1-1.7h0m.1 0h0m0 .6h0m.6 1.7h0m.1-2.2h0m.1 2h0m.2 .4h0m0-.9h0m.1-.1h0m0-.8h0m.1 .4h0m0 1.1h0m.1-1.4h0m0 .3h0m0 .9h0m0 .4h0m.1-1.3h0m0-.4h0m.1 .2h0m.1 .2h0m0 1.5h0m.1-1.2h0m.1 .4h0m.1-.2h0m0 1.2h0m.1-1.2h0m0-1.5h0m.1 2.4h0m.1-1h0m.2-.4h0m0 .2h0m0-1.2h0m.1 .7h0m.3 .5h0m.2-1.3h0m.1 2.1h0m.5-1.9h0m.2 .4h0m.1 .9h0m.2 .5h0m.2-1.3h0m.3-.2h0m.1 1.2h0m.1 .3h0m0 .6h0m.2-1.8h0m.1 .7h0m.2-.3h0m.5-.8h0m.1 2.2h0m.2-1.9h0m.1-.8h0m0 1h0m.1 .5h0m0-.7h0m0 .3h0m.1-.4h0m.2 .8h0m.1 1.2h0m.2-1.8h0m.1 1.6h0m0 .1h0m.1-2.4h0m0 .1h0m.1 0h0m.3 0h0m.1 1.9h0m0 .3h0m.2-1.5h0m.1-1h0m0 2.8h0m.4-.1h0m0-.6h0m0-1.9h0m.1 1.4h0m0 .4h0m.9-1.6h0m.1-.5h0m0 1.5h0m.3-1.2h0m0 1.3h0m0-.2h0m.2-.8h0m.2-.2h0m.1-.3h0m.1 .5h0m.1 2.1h0m0-.9h0m.3-1.5h0m.1-.1h0m.1 2.5h0m0-2h0m.4-.7h0m.1 0h0m0 2.1h0m.3-1.8h0m.6 2.5h0m0-2.1h0m.1 1.4h0m0-1.4h0m.3 2.1h0m.3 .1h0m.2-.1h0m.3 .1h0m.2 0h0m.3-2.4h0m.2 1.1h0m.2 1h0m0-1.1h0m.1-1.1h0m.2 2h0m.1-.3h0m.1-1.6h0m.1-.1h0m.1-.3h0m.2 .8h0m.3-.9h0m0 .7h0m.3 2h0m.2 .2h0m.1-.4h0m.1-1.1h0m0 .9h0m.1-2.1h0m0 1.4h0m.1 .4h0m.3 .4h0m.1 .1h0m.1-1.4h0m.2 0h0m.3 .2h0m.1-1.2h0m.1 1.9h0m.1-1.5h0m0 0h0m.1-.4h0m0 .3h0m.1 1.3h0m.1-.8h0m0-.1h0m.1 1.5h0m.1-2.2h0m.1 2.2h0m0-2h0m.5 2h0m.6-1.5h0m0 1.3h0m0-.6h0m.2 .5h0m.2-.4h0m.4-1.2h0m0 1.8h0m0-.9h0m.1 .2h0m.1-1h0m.1 2.3h0m.1-2.1h0m.1 2.2h0m0-.1h0m.1 .1h0m0-1.3h0m.1-.7h0m.5 1.8h0m0-1.4h0m.1 1h0m0-1.6h0m.1 2.1h0m.1-2.6h0m.1 1.4h0m0 1.4h0m.1-.1h0m.6-1.1h0m0-.6h0m.1 1.8h0m0-2.6h0m.1 2.4h0m.1-.2h0m.8-1.9h0m0 1.1h0m.1 .3h0m.5-1.5h0m0 .2h0m0 0h0m0 1h0m.2-1.7h0m0 1h0m.1-.5h0m.2 .3h0m.2 .6h0m.3 .8h0m.1-.2h0m.3 .6h0m0-.5h0m.1-.7h0m0 .8h0m.3 .2h0m.1 .1h0m.5-1.2h0m0 .8h0m0-.2h0m.1-1.8h0m.1 .9h0m.1 1.5h0m.1-.3h0m0-1h0m.2 .7h0m.1-.9h0m-35.8 4.5h0m0-2h0m.1 .7h0m.1 .1h0m0 1h0m0-1.4h0m.1 .2h0m.1 .1h0m.1 1.2h0m0-.4h0m.3-1.2h0m.3 .4h0m.4 .9h0m.1 .8h0m0-1h0m.1-1.7h0m.1 2.5h0m0-.8h0m.1-.4h0m.2-1.3h0m0 .7h0m.1 1h0m0-1.7h0m.3 1.4h0m0-1.3h0m0-.4h0m.1 2.7h0m.3-1.8h0m0 .5h0m0-.3h0m.1-.5h0m0 .3h0m.3 1.5h0m.2-1h0m0 1.3h0m.1-.2h0m0 .4h0m.1-1.2h0m0 1.2h0m.1-2.7h0m.2 2.1h0m0 .3h0m.1-1.6h0m.3-.4h0m.4-.5h0m.2 1.4h0m.1-1.1h0m.2 2h0m.1-2h0m.1 2.1h0m0-2.1h0m.2 1.9h0m.1-2.1h0m0 2.3h0m.1-1.1h0m0 1.5h0m.2-.8h0m.2-1.2h0m.1 .7h0m0-.3h0m0 1.6h0m.1-.6h0m.1 .6h0m.1-.4h0m.1-1.3h0m0 .7h0m.2 .8h0m.2 0h0m0-1.3h0m.1-1.1h0m0 1.7h0m.1-.1h0m0-.4h0m.4 1.5h0m.3-1.3h0m0 1.1h0m.1-1.3h0m0 1.3h0m.1-2.4h0m.3 1.1h0m.1-.4h0m0-.5h0m0 .8h0m.1-.9h0m.2 1.9h0m.1-1.3h0m.4 .2h0m.1 1.1h0m.1-.3h0m.1-1.4h0m.1-.6h0m0 .9h0m.2 .5h0m.3 1.2h0m0-.6h0m.1 .9h0m.1-.6h0m.2-.4h0m.1-1.1h0m0 1.5h0m.1-.6h0m0-.5h0m0 1.3h0m.1-1.4h0m.1 .8h0m0 .5h0m.1-1.3h0m.2 .8h0m.2-.8h0m0 .8h0m.1 .4h0m.1-2.1h0m.2 2.2h0m.2-1.2h0m.2 0h0m.1 .2h0m.3 .3h0m.1-.3h0m0 1.3h0m.2-.9h0m.3 .7h0m0-1.7h0m.1 1h0m.4 .6h0m.1-.2h0m0 0h0m0-1.5h0m.2 1.8h0m.2-2.2h0m.1 .9h0m.1-.2h0m.1-.8h0m0 .3h0m0 .6h0m.2 1.3h0m.3-1.7h0m0 .9h0m.2 .1h0m0-.7h0m.2 .7h0m.1 .5h0m.3 .3h0m0-2h0m.1 1.7h0m.1-2.2h0m.1 0h0m.2 2.5h0m.3-1.2h0m0-1h0m0 1h0m.1 .2h0m0 1.1h0m.2 .1h0m.2-2.7h0m0 1.2h0m0 1.2h0m.1 0h0m0 .5h0m0-2.6h0m.1 1.7h0m0-.5h0m.1-.4h0m.1 1.3h0m.3-2.4h0m.1 1.3h0m.2 .8h0m.1-.1h0m.1-1.6h0m0 2.3h0m.2-2.8h0m.1 1.3h0m.4-.1h0m0-.6h0m.2 2.1h0m.1-2.4h0m0 2h0m0 .4h0m0-.1h0m.2-.1h0m0 .1h0m.3-.5h0m.1-1.5h0m.1 2.1h0m0-2.2h0m0 2.1h0m.3-.1h0m.1-2.4h0m.1 1.4h0m.4 .5h0m.3 .2h0m.2 .5h0m.1-.4h0m0 .4h0m0-2.4h0m.3 2.5h0m.5-1.4h0m.1 .9h0m.1-1.4h0m.1 1.5h0m0-.5h0m.1-1.1h0m.2 .4h0m0-.7h0m.1 .3h0m0 2.1h0m.1-2.5h0m.1 1.2h0m.3 .4h0m.1 .7h0m0-.2h0m.2 .3h0m.2-1.1h0m.1-1h0m0-.7h0m.4 2.1h0m.1-1.8h0m.1 .5h0m.4-.5h0m.1 1.1h0m.1 .8h0m0-1.4h0m.1 1.9h0m.1-1.2h0m.1 .4h0m.2 .6h0m.2-1.2h0m.3-.9h0m.1 .8h0m.3 .2h0m.2 1h0m0 .1h0m.2-1.5h0m.3 .5h0m0 .4h0m0 .9h0m0 .1h0m0-2.2h0m.1 1.6h0m.6-1.2h0m.2 .6h0m.2-1.6h0m.5 2h0m.2 .8h0m.1-.5h0m.1-1.6h0m0 1.3h0m.1-.8h0m.2-1.1h0m.3 1.3h0m.1-.7h0m0 .4h0m.2-.1h0m0-.4h0m.6 1.7h0m0 .5h0m.3-1.7h0m0 1.6h0m.1-2h0m.1 .2h0m0 .4h0m0 .8h0m.2 .4h0m0-2.4h0m.2 2.1h0m.1 .5h0m.1-.2h0m0-2.6h0m.1 .5h0m.1-.1h0m.2 .8h0m0 1h0m.1-1.1h0m0 1.8h0m0-1.8h0m0-.7h0m.1 1.1h0m.1-1h0m.1 2.3h0m0-.8h0m0-.7h0m.2 1.5h0m.2-1.8h0m0 .4h0m0 .1h0m.1-1.3h0m.3 2.4h0m.1-.9h0m0 .1h0m0-.8h0m.1 .9h0m0-.7h0m0 1.6h0m.1-1.2h0m.1 .4h0m0-1.7h0m.1 1.9h0m.2-1.9h0m.1 1.3h0m.2-.2h0m.1-.5h0m0-.9h0m.1 1.7h0m0 .6h0m.2-1.4h0m0-.1h0m0 .5h0m.3-.4h0m0-.5h0m0 1.1h0m.3 .1h0m-35.9 3.5h0m.4-1.6h0m0 .3h0m.1-.8h0m0 .8h0m0 1.5h0m.1 .3h0m.1 .1h0m.1-.2h0m.1-.5h0m0-.4h0m.1 .4h0m.2 .2h0m.1-.2h0m.1 .6h0m0-1.3h0m.1 1.4h0m.1-2.6h0m0 2.4h0m.1-1h0m0-.1h0m0 1.4h0m0-.1h0m.4-.9h0m.1-1h0m0 1.6h0m0 .1h0m.1-1.4h0m.1 1h0m.2-.8h0m0 1.2h0m0-2h0m0 .5h0m.1 1h0m0-1.4h0m0 2.2h0m0-.3h0m.1-.5h0m0-1h0m0 .7h0m0-1.3h0m.1 2h0m0-2.1h0m.1 2.7h0m0-.3h0m0-1.1h0m.2 .7h0m.1-1.1h0m.1 0h0m.1 1.3h0m0-1.7h0m.1-.4h0m0-.2h0m.1 1h0m.3-.7h0m.1 1.9h0m.1-.4h0m.3-1.4h0m0 2h0m.1 .2h0m.1-.2h0m0-.9h0m.2-.7h0m0 1.5h0m.1 .1h0m.1-1.4h0m0 1.1h0m.1-1.7h0m0 1.3h0m.2-.1h0m0 1h0m.1-1.4h0m0 1h0m0-1.9h0m.1 2.2h0m.1 .2h0m.1-.9h0m.2 .7h0m0-.3h0m.2-.5h0m.1 .9h0m0-1.7h0m.1-.4h0m0 2.2h0m.1 0h0m0-.6h0m.1-2h0m0 2.6h0m0-2.6h0m0 0h0m.2 2.5h0m0-2.1h0m.1 1.8h0m.1 .2h0m0-1.5h0m0 .5h0m0-.7h0m.1 1.9h0m.1-1.2h0m0 1.3h0m.1-.9h0m.1-1.4h0m.1 1.9h0m0-.3h0m.1 .7h0m.1-2h0m.1 .7h0m.1-1.3h0m0 .1h0m.1 .2h0m.1 1.7h0m0-1h0m.1 0h0m0 1.6h0m0-.2h0m0-.5h0m0-.9h0m.1-.7h0m0-.5h0m.2 2.7h0m0-.2h0m.1-.6h0m0-1.8h0m0 2.5h0m.1-.2h0m0-2.1h0m0 1.5h0m.1-1.4h0m0 2.3h0m.2-1.3h0m.1-.1h0m0 .5h0m0-.3h0m.1-.5h0m0 1.8h0m.2-.4h0m0-1.7h0m.1 1.7h0m.1-2.6h0m.1 2.9h0m0-1.1h0m.1 1h0m0-2.2h0m0 .8h0m.2 1.2h0m0 .1h0m0-2h0m.1 2.2h0m.1-.1h0m.2-2h0m0 .5h0m0 1.3h0m0 0h0m.1 0h0m0 .3h0m0-.3h0m.1-2.5h0m0 2.5h0m.1-2.3h0m0 .9h0m.1-.9h0m0 1.7h0m0-.3h0m0-1.4h0m0 2.1h0m.3 0h0m0 .1h0m.1 .4h0m0-1.9h0m0 1.3h0m.1-2.2h0m0 .9h0m0 1.9h0m.1-.1h0m0-2.1h0m0 .6h0m.1-.4h0m0 1.7h0m.2-2.3h0m0 2.5h0m.1-.5h0m.1-.2h0m.2 .2h0m.3-1.1h0m.1 0h0m.1-.4h0m0 1.1h0m.1-.8h0m0 .3h0m.1 0h0m.1-.2h0m.1 1.3h0m0 0h0m.1-2.5h0m.1 2.9h0m.1-2.6h0m0 .4h0m.1 1.7h0m.1 .5h0m0-1h0m0 .4h0m.1-1.4h0m.1 1.3h0m.1 .7h0m.3-2.7h0m.2 1.2h0m.1 1.2h0m.1-.3h0m.1-1.3h0m0-1h0m.1 2.7h0m.1 .3h0m0-1.5h0m.1-.1h0m0 1.1h0m.1-1.3h0m.1 1.5h0m0-.2h0m.1-2.4h0m0 2.5h0m0-.1h0m.3-.4h0m.1 .4h0m.1-.8h0m0 .4h0m0-.2h0m.1 .6h0m.1-.6h0m.1 .4h0m.1-1.9h0m0 .4h0m.1 1.7h0m0-.1h0m0 .6h0m.2-1h0m.1-1h0m0 1.6h0m0-1.2h0m.3 1.2h0m0-1.1h0m.1-.3h0m0 1.1h0m0 .4h0m0-.2h0m.1-2.1h0m0 2.4h0m.1-.8h0m.1-1.1h0m.1 .5h0m.1 1.5h0m0-2.4h0m0 1.8h0m.1 .2h0m0-1.7h0m.1 1.9h0m0-1.1h0m0-.7h0m0 1.3h0m.1 .7h0m0 0h0m.1-2.8h0m.1 1.2h0m0-.6h0m0 1.6h0m0-1.3h0m0 .1h0m.1 1h0m.1-.9h0m.1 1.2h0m0-.5h0m0-.8h0m0 .6h0m.1-.4h0m.1 .6h0m0 .6h0m.1 0h0m.1-1.4h0m0 1.8h0m.1-.9h0m.1-1h0m0 1.3h0m0-1.2h0m.2-.2h0m0 1.7h0m.2-.2h0m.1-.4h0m0 1h0m.1-.6h0m.1-2.3h0m0 2.9h0m0-.2h0m.1-1.6h0m.2 1.1h0m.1 0h0m.1 0h0m0 .2h0m.1-.1h0m0 .2h0m0-1.5h0m.1 .3h0m0 1h0m0-1.7h0m0 1.9h0m.1-1.1h0m.1-.3h0m0 .4h0m0 1h0m.3-1.7h0m0 .9h0m0 .7h0m0 .3h0m.1-.1h0m0 0h0m0-.4h0m.1-.8h0m0 .5h0m0-1.9h0m.1 .8h0m.1 1.6h0m.1-.8h0m.1-.9h0m0-.2h0m.1 1.3h0m.1 1h0m.2-1.1h0m.2-.9h0m.1-.7h0m0 2.8h0m0-2.6h0m.1 1.5h0m0 .4h0m0-1.9h0m0 1.4h0m.1-1.1h0m.1 .1h0m0 1.5h0m0 .4h0m.1-.2h0m.1-1h0m0 1.3h0m.1-2.4h0m.1-.3h0m.1 .9h0m.1 .7h0m0 .7h0m.1-1.1h0m0 .7h0m.1 .4h0m.1 .4h0m0 .1h0m0-2.6h0m.1 1.3h0m.1 1.1h0m.2-2.1h0m0 2.4h0m0-1.9h0m.3 .5h0m0-.5h0m.1 .9h0m0 .6h0m0-.1h0m.1-.4h0m.1 .2h0m.1 .4h0m.1-1.1h0m0-.4h0m0 1.8h0m.1-2.3h0m.2-.2h0m.2 1.8h0m0-1.8h0m.1 .7h0m0-.3h0m0 1.2h0m0-1.6h0m.1 .7h0m.1-.7h0m0 1.3h0m.1 .5h0m0 .4h0m0-1.6h0m.1 1.4h0m.1-2.5h0m0 2.6h0m.1-2.5h0m.2 1.9h0m.2-1.6h0m0 2.4h0m0-1.5h0m.1 1h0m.1-.3h0m0 .7h0m0-2h0m0-.5h0m0 .5h0m0 2.2h0m.1-.3h0m0-2h0m0 .2h0m0 .6h0m0 1h0m.4-1.9h0m0 1.5h0m0-.8h0m0-1.2h0m.1 2.8h0m.1-2.8h0m.1 1.6h0m.1 .1h0m0 .9h0m0-.8h0m0 .8h0m.1-2.5h0m.1 .7h0m.1 1.3h0m.3-2h0m0 2.6h0m.1 .1h0m0 0h0m.1-.6h0m0 .7h0m0-2.7h0m0 .2h0m.1 .3h0m.2 1.9h0m0 .2h0m.1 .2h0m0 0h0m0-1h0m0 .4h0m0-1.2h0m0 1.7h0m.2-.5h0m0-.1h0m.1-1.1h0m0 1h0m.2 .2h0m.1-1.1h0m0 .6h0m.1 0h0m.1 .8h0m0-2.3h0m.2 .4h0m.3 .8h0m0-1.5h0m0 1.3h0m0 1.6h0m.2-.7h0m0 0h0m0-1.7h0m.1 0h0m0 2.3h0m0-.4h0m.2-2.3h0m.1 2.7h0m0-.5h0m.1-.8h0m0-.1h0m.1-.3h0m0 1.2h0m.1-1.4h0m.1 1.5h0m.2 .1h0m0-.2h0m0-1h0m.1-1.4h0m0 .7h0m.3-.7h0m.1 2.1h0m.1-.2h0m.1 .5h0m0-1.9h0m0 1.6h0m.1 .8h0m.1-1.1h0m0 1h0m0-.5h0m.1 .4h0m.1-2.6h0m0 2.7h0m.3-2h0m.1 2h0m0-2.4h0m.1 1.7h0m0-.9h0m.1 1.1h0m.1-.9h0m0 .9h0m0-.3h0m.1 .4h0m0-1.5h0m.1 1.6h0m.1-.7h0m.2-1.5h0m0 1.9h0m.2-1.7h0m0 2.2h0m.1 .1h0m.2-.8h0m0 .5h0m0-2.3h0m0 2.2h0m.1-1.2h0m.1 1.5h0m0-2h0m.3 1.2h0m.1-1.8h0m0 1h0m0-.9h0m0 .9h0m.1 1.4h0m.1-1.7h0m.1 2.2h0m.2-.1h0m0 0h0m0-1.4h0m.1 .3h0m0-1.5h0m0 2.6h0m.1-1.3h0m.1 .8h0m0 .1h0m.1-2.2h0m.1-.1h0m.1 2.4h0m0-2.5h0m0 .2h0m.1 .9h0m0 1.7h0m.1-.6h0m0 0h0m.1 .2h0m-35.7 1.5h0m.1 .9h0m0-.2h0m.1-.4h0m.1-1.2h0m0 0h0m.3 1.2h0m0-.9h0m.1 1.3h0m.3-.4h0m0-1.1h0m.3 .1h0m0 .9h0m.2 .2h0m.4-1.2h0m0 .1h0m0 1.1h0m.2 .2h0m.1-1.5h0m0 .3h0m0 .1h0m.1-.3h0m.4 1.7h0m.1-1.1h0m.2 0h0m.1 0h0m.1-.4h0m.1-.2h0m.1 1.1h0m0-1.1h0m.3-.1h0m0 .3h0m0 1.2h0m.2 .5h0m.3-1.2h0m0 .2h0m.1 1h0m0-1.3h0m0-.4h0m.3 0h0m0 .8h0m.1-1h0m.1 1.3h0m0-1.3h0m.2 1.6h0m0-.7h0m.1-.8h0m.1 .3h0m0 0h0m.2-.5h0m0 .1h0m.1 .4h0m0 .4h0m.2 .9h0m0-.9h0m.1-.8h0m0 .3h0m.2-.3h0m0 0h0m.3-.1h0m.1 1h0m.4 .9h0m.2-.7h0m0 .5h0m.1-1.7h0m.2 0h0m.1 .3h0m0 .2h0m0 .3h0m.1-.4h0m0-.3h0m0 .6h0m.1-.3h0m0 1.2h0m0-.2h0m0 .1h0m0-.7h0m0 .8h0m.1-1.5h0m.2-.1h0m0 0h0m.1 .1h0m.1 1.3h0m0-1.2h0m.2 1.6h0m.1-1h0m.1 .6h0m0-1.4h0m.2 .6h0m.1-.5h0m.1 .1h0m.2 .3h0m.1 .4h0m0-.8h0m.2 .2h0m.1 1.2h0m.1-.9h0m.1 .2h0m0 .8h0m0-1.3h0m.2 .9h0m0 .1h0m.2-.3h0m0 .9h0m.1-1.1h0m0 .1h0m.2-.8h0m0 .1h0m.1 .3h0m.1 .5h0m.1 .8h0m0-1.7h0m.1 1.3h0m.4 .5h0m.1-1.6h0m0 .9h0m.1-1.2h0m.1 .2h0m0 .3h0m.1-.2h0m0 1.1h0m0-.5h0m.1-.7h0m.3 .8h0m0 .3h0m0-1.1h0m.1 .1h0m.1 .8h0m.4-1.2h0m0 .1h0m0 .2h0m0 1.4h0m0-.1h0m.1 .1h0m.1-.3h0m.1-.9h0m.2 .7h0m.1-.1h0m0-.3h0m0-.7h0m.2 1.4h0m.2-1.3h0m.2 .2h0m0 0h0m0 .7h0m.1-1h0m.1 1.6h0m0-1.4h0m0 .2h0m.1 1h0m.1-1.2h0m.3 1.3h0m.1-.3h0m.1 .2h0m.1-.8h0m0 1.1h0m.2-.9h0m.2-.9h0m.1 .2h0m0-.1h0m.1-.1h0m.1 .9h0m.1-.5h0m.1 .3h0m0 .7h0m0-.9h0m.2 1h0m.1 0h0m.1-1h0m0 1h0m0-1.3h0m.2 0h0m.3 1h0m.2-.8h0m.1 1.3h0m.1 .3h0m0-1.2h0m.1 .2h0m.1 .6h0m.1-1.6h0m0 .3h0m.1 0h0m.1 .1h0m0-.2h0m.1 1.5h0m0-1.5h0m.2 0h0m0 1h0m.3 0h0m.1 .6h0m.2-1h0m.1 .5h0m.2 .4h0m0 0h0m.1-1.5h0m.1-.1h0m0 .8h0m0-.5h0m.1 1.1h0m.2-1.4h0m0 1.3h0m0-.7h0m.2-.5h0m0 0h0m0 1.7h0m0-1.4h0m.2 1.1h0m.1-1.2h0m0 0h0m0 .6h0m.1-.5h0m0-.2h0m0 .7h0m0-.2h0m0 .8h0m.1-1.5h0m0 1.6h0m0-.9h0m.3 .6h0m.2-.4h0m0 .9h0m.3-1.7h0m.1 1.1h0m0-.3h0m.2-.3h0m0 1.4h0m0-1h0m.2 .5h0m.1 .5h0m0-1.9h0m0 .5h0m.2-.3h0m.1-.1h0m0-.2h0m.1-.1h0m.1 .1h0m.1 .7h0m0 .6h0m0-.2h0m0-.4h0m0-.7h0m.2 1.6h0m.1 .4h0m.3-2h0m0 1.4h0m.2-.5h0m.2-.1h0m0-.7h0m.1 1.6h0m.2-1.1h0m.1 1.3h0m.2-.9h0m0 .4h0m.1-.5h0m.1-.5h0m0 1.3h0m.2-1.7h0m.1 1.7h0m0 .1h0m.1 0h0m0 .1h0m0-.5h0m.3 .3h0m.1-.9h0m.1-.8h0m0 1.6h0m.1-1.6h0m.1 .6h0m0 .5h0m.2-1.1h0m.1 0h0m.3 1.4h0m0-.8h0m.1-.6h0m.2 .8h0m.2 .5h0m.2-.3h0m.1-1h0m.1 1.8h0m.1-1.8h0m0 .2h0m0-.2h0m.2 1.9h0m0-.8h0m.1-.8h0m.1-.2h0m0 0h0m.2 1.3h0m.2 .3h0m.1-.6h0m0-.7h0m0-.5h0m.1 .8h0m.1 1h0m.1-1.6h0m0 .3h0m.1 .8h0m0-.8h0m.2 .6h0m.2 1h0m0-1.3h0m0 .8h0m.2-.8h0m0-.3h0m0-.4h0m.3 .3h0m0 0h0m0-.3h0m0 .1h0m.3 .1h0m.1 1.4h0m.1-1.6h0m.2 .1h0m.2-.1h0m.1 .1h0m.1 1.9h0m.2-.7h0m.3-.6h0m.1 0h0m.1-.3h0m.1 1.3h0m.2-.5h0m.2-1.2h0m0 1.4h0m.1 .2h0m.1-1.4h0m.1-.1h0m0 0h0m0-.1h0m.1 1.8h0m0-1.6h0m.1-.2h0m0 1.7h0m.2-1.5h0m.1 .7h0m0-.8h0m.2 1.4h0m0-.7h0m.1 1.1h0m.1-1.8h0m.1 0h0m0-.2h0m.3 1.9h0m.1-1.6h0m.1-.2h0m0 1.5h0m0 .4h0m0-1.7h0m0 .3h0m.1 1.1h0m.1 0h0m.1-.9h0m0 .3h0m0-1h0m.3 .8h0m.1 .6h0m.1-1.4h0m0 .2h0m0 .5h0m0 .7h0m0-.5h0m.1-.8h0m.1 1.4h0m.1-1.2h0m0 .2h0m.3 1h0m0-.2h0m.1-1.1h0m.1 1.3h0m.1-.5h0m0-.9h0m.2 .9h0m.1-.7h0m.1 0h0m.1 .7h0m0 .4h0m.1 .5h0m.1 0h0m0-1.4h0m.1-.2h0m.3 .2h0m0-.2h0m.1 .1h0m.1 1.1h0m.1-.7h0m.1 1h0m0-1.8h0m.1 1.8h0" stroke="#000" stroke-width="0.6" stroke-linecap="round" fill="none" opacity=".7"/>
<path d="M87.6 18.8V117.4H141.3" stroke="#222" stroke-width="0.5" fill="none"/>
<path d="M86.3 42.6L87.6 42.6" stroke="#222" stroke-width="0.4" fill="none"/>
<text x="85.5" y="43.9" font-size="3.5" fill="#333" stroke="#333" stroke-width="0.1" text-anchor="end">15000</text>
<path d="M86.3 66.3L87.6 66.3" stroke="#222" stroke-width="0.4" fill="none"/>
<text x="85.5" y="67.6" font-size="3.5" fill="#333" stroke="#333" stroke-width="0.1" text-anchor="end">10000</text>
<path d="M86.3 90.2L87.6 90.2" stroke="#222" stroke-width="0.4" fill="none"/>
<text x="85.5" y="91.5" font-size="3.5" fill="#333" stroke="#333" stroke-width="0.1" text-anchor="end">5000</text>
<path d="M86.3 114L87.6 114" stroke="#222" stroke-width="0.4" fill="none"/>
<text x="85.5" y="115.3" font-size="3.5" fill="#333" stroke="#333" stroke-width="0.1" text-anchor="end">0</text>
<path d="M114 117.4L114 118.7" stroke="#222" stroke-width="0.4" fill="none"/>
<text x="116.5" y="121.3" font-size="3.6" fill="#333" stroke="#333" stroke-width="0.1" text-anchor="end" transform="rotate(-45 116.5 121.3)">seurat</text>
<text x="114.2" y="133.1" font-size="3.95" fill="#111" stroke="#111" stroke-width="0.1" text-anchor="middle">Identity</text>
<text x="114" y="16" font-size="4.65" fill="#111" stroke="#111" stroke-width="0.12" text-anchor="middle" font-weight="bold">nCount_RNA</text>
<path d="M158.2 18.8V117.4H212.5" stroke="#222" stroke-width="0.5" fill="none"/>
<path d="M156.9 19.2L158.2 19.2" stroke="#222" stroke-width="0.4" fill="none"/>
<text x="156.1" y="20.5" font-size="3.5" fill="#333" stroke="#333" stroke-width="0.1" text-anchor="end">0.050</text>
<path d="M156.9 43.8L158.2 43.8" stroke="#222" stroke-width="0.4" fill="none"/>
<text x="156.1" y="45.1" font-size="3.5" fill="#333" stroke="#333" stroke-width="0.1" text-anchor="end">0.025</text>
<path d="M156.9 68.4L158.2 68.4" stroke="#222" stroke-width="0.4" fill="none"/>
<text x="156.1" y="69.7" font-size="3.5" fill="#333" stroke="#333" stroke-width="0.1" text-anchor="end">0.000</text>
<path d="M156.9 93.3L158.2 93.3" stroke="#222" stroke-width="0.4" fill="none"/>
<text x="156.1" y="94.6" font-size="3.5" fill="#333" stroke="#333" stroke-width="0.1" text-anchor="end">−0.025</text>
<path d="M156.9 117.4L158.2 117.4" stroke="#222" stroke-width="0.4" fill="none"/>
<text x="156.1" y="118.7" font-size="3.5" fill="#333" stroke="#333" stroke-width="0.1" text-anchor="end">−0.050</text>
<path d="M165.2 68.3L205.7 68.3" stroke="#111" stroke-width="0.6" fill="none"/>
<path d="M185.4 117.4L185.4 118.7" stroke="#222" stroke-width="0.4" fill="none"/>
<text x="187.9" y="121.3" font-size="3.6" fill="#333" stroke="#333" stroke-width="0.1" text-anchor="end" transform="rotate(-45 187.9 121.3)">seurat</text>
<text x="185.6" y="133.1" font-size="3.95" fill="#111" stroke="#111" stroke-width="0.1" text-anchor="middle">Identity</text>
<text x="185.4" y="16" font-size="4.65" fill="#111" stroke="#111" stroke-width="0.12" text-anchor="middle" font-weight="bold">percent.mt</text>
<text x="263.3" y="8" font-size="10.3" fill="#000" font-weight="bold">B</text>
<rect x="295.1" y="16" width="4.2" height="99.4" fill="#F8766D"/>
<path d="M349 13.8h0m-49.7 3.2h0m.1 .3h0m.1 .6h0m.2-1.3h0m.3 1.2h0m.1-.9h0m.4 .8h0m.1-.6h0m0-.1h0m.9 .7h0m.3 0h0m.1-.3h0m1.5-.8h0m1.5 .7h0m.5 .2h0m.5-.4h0m.9 .8h0m.2-.1h0m1.4-.4h0m4.7-.6h0m2.4 .6h0m4.4-.6h0m5.4 .1h0m-26.4 1.8h0m.2 .9h0m.3 1.3h0m0-2.7h0m.3 2.4h0m0-2.5h0m.3 .7h0m.2-.3h0m.1-.1h0m.1 1.2h0m0 .7h0m.1-.9h0m0-.2h0m.3 .6h0m0-.3h0m.3 .2h0m.1-.7h0m.4 .4h0m.1-.7h0m.4 1.4h0m.1-.2h0m0 .8h0m.3-.1h0m.2-.7h0m.1 1h0m.8-2.4h0m.9 1.7h0m.3-1.2h0m.2 .8h0m.1-1.7h0m0 1.7h0m.4-.4h0m.4-1.4h0m.1 .2h0m.4 2.5h0m.2-1.5h0m.1 1.6h0m.8-1.9h0m1.9 1.7h0m.4 .3h0m.2-2.7h0m.8 1.4h0m.1-.9h0m1.5 1.4h0m.6-.8h0m1.6 .7h0m.1 .4h0m1.8-1.9h0m.7 .2h0m.9-.4h0m.2 .2h0m.7 .3h0m10 1.3h0m10.7-1.4h0m11.8 .8h0m-52.8 3.3h0m.2 0h0m.2-1.5h0m.2 .9h0m0 .1h0m0-.9h0m.1 .1h0m.1 .8h0m0-.8h0m.2 .9h0m0-.2h0m.1 1.2h0m.1-1.7h0m.5 1.5h0m0-1.8h0m0-.1h0m.2 1.3h0m.1 1.2h0m.1 .2h0m.1-1.6h0m.3 1.1h0m.3 .2h0m.1 .3h0m0-.2h0m.2-1.3h0m.4-1.1h0m0 1.6h0m.1-1.5h0m.1 1.5h0m.5-.5h0m0 .6h0m.3 .4h0m.2-.8h0m.5-1h0m.2 1h0m.1-.7h0m.1 .7h0m.7 1h0m.7 .3h0m.2-.6h0m.2-.5h0m.1-1.4h0m.2 .2h0m.1 .5h0m.4-.9h0m1.9 2.3h0m.9-2.1h0m.3 .2h0m.5 2.2h0m.2-.8h0m1-1.3h0m.1 .2h0m.6-.3h0m2.4-.3h0m0 1.1h0m4-.1h0m1-.3h0m.6 1.7h0m0 0h0m6.2 .1h0m5.6-2.1h0m.6 .2h0m1.6 1.2h0m-35.7 1.3h0m.1 2.2h0m0-.1h0m0 .2h0m.1 .1h0m.1-2.9h0m.2 .9h0m.1 .1h0m.1 1h0m.1-.5h0m.1 .2h0m.1-1.2h0m.2-.2h0m0 .7h0m0 1.2h0m.3 .7h0m0-2.2h0m.1 .5h0m0 1.7h0m0-1.3h0m.3 1.1h0m.1-2.3h0m0 1.2h0m0 .1h0m.4 1h0m.6-1h0m.1-1.6h0m.1 .4h0m.1-.4h0m1 2.7h0m.2-1h0m.1 .8h0m.1-1.7h0m.1 1.8h0m.1 .3h0m.2-1.1h0m.2 .5h0m.5-1.5h0m.4 1.9h0m.2-2.5h0m.3 2.1h0m1.5-2.1h0m.6 2.7h0m0-2.1h0m1.6 1.7h0m4 .4h0m1.6-1.5h0m1.8-.3h0m.6 .4h0m.7-.2h0m1.4-1h0m12 2.5h0m3.5-.7h0m-36 3.5h0m0 .1h0m.1-2.6h0m.1 2.2h0m.1-.2h0m.2-1.9h0m0 .3h0m.3-.5h0m0 1.8h0m.1-1.7h0m0 1.2h0m.1-.4h0m0-.9h0m.1 .1h0m0 .9h0m0 .1h0m.1 1.1h0m.1-1.6h0m.1 1.7h0m0-1.1h0m0 1.2h0m.1-1.7h0m0 .8h0m.1 .3h0m.1-.7h0m.1 0h0m.1 .1h0m.1-.6h0m0-.4h0m0 .2h0m.2 0h0m0 .2h0m.1 1.4h0m.2 .9h0m0-2.7h0m.3 .7h0m.1 .8h0m.3-1.5h0m.2 2h0m.2-.3h0m0-.9h0m0 1.3h0m.2-1.2h0m.4-.5h0m.5 0h0m.1 1.8h0m0 .5h0m.3-1.9h0m.1 .2h0m.1-1h0m.2-.1h0m.1 1.9h0m0-1.3h0m.2-.2h0m1.1 2h0m.4-2h0m1.8 1.5h0m3-1.5h0m.1 .2h0m.6-.6h0m.2 1.2h0m1.2 .7h0m.6 .3h0m2.2-1.9h0m1.6 0h0m.5 .8h0m.3-.3h0m1.4 .3h0m1.3 1.6h0m5.8-1.2h0m-27.2 2.7h0m.1-.2h0m0 1h0m.2-1.2h0m.1-.3h0m0 1h0m.1-1.5h0m0 .2h0m.1 .1h0m.2 1.3h0m0-.1h0m0-1.1h0m0 1.6h0m.3 .1h0m.1-.6h0m0-.8h0m.2-.2h0m.1 .2h0m0-.3h0m.1 .1h0m.2-.4h0m.3-.1h0m.1 .1h0m.1 .2h0m.1 .6h0m0 1.6h0m.6-1.3h0m.3 1.6h0m.2-2h0m.3-.2h0m.1 1.9h0m.2-.4h0m.2-.4h0m.2 .6h0m.1-1h0m.6 1h0m.9-.4h0m1.9-1.2h0m1.2-.5h0m6 .9h0m.6-1.2h0m5.9 2h0m2.9 .6h0m10.5-2.5h0m-35.7 3.1h0m0 1.6h0m.1-1.7h0m0 .4h0m.1 0h0m.1 1.5h0m.1 0h0m0-2h0m.1 2.6h0m.1-.6h0m.3 .9h0m.1-1.8h0m.1 .7h0m.1 .7h0m0 .2h0m.1 .1h0m0-1.9h0m0 1.5h0m.5-1.9h0m0 2h0m.1 .3h0m0 0h0m.6-2.8h0m0 2.4h0m.8-.1h0m.1-1.2h0m.1-.2h0m.1 0h0m.3 .1h0m.1 1.7h0m.3-1.4h0m.2-.9h0m.5 1.9h0m.1-1.5h0m.3-.8h0m.2 .4h0m.2 1.3h0m.8 .3h0m.2 .4h0m.5 .3h0m.2-.1h0m.5-1.2h0m.7-.2h0m1.4-.7h0m.1 .7h0m.5 .8h0m.3-1.4h0m.7 .2h0m.7 .2h0m.2-.5h0m1.9 1.5h0m.6-.6h0m.3-1.4h0m.9 2h0m1.1 .6h0m.8 .2h0m1.1-.5h0m.5-1.8h0m2.1 0h0m2.4 1.1h0m3.2-.2h0m1.9 1.3h0m1.1-2.7h0m2 1.8h0m9.1-.1h0m-41.7 3.4h0m0 .3h0m.1-1h0m.2-.7h0m.4 .4h0m0-.7h0m.1 1.1h0m.1-.3h0m0-.6h0m0 1.6h0m.1-.8h0m.2 .3h0m0 .6h0m.1-.9h0m.1-.8h0m.1-.3h0m0 1.3h0m.1 1.1h0m0-.8h0m0 .5h0m.3 .2h0m0-.7h0m0 .2h0m.2 .3h0m.1 .3h0m0-.9h0m.5-1.8h0m.2 1.3h0m.1 0h0m.1-1.3h0m.3 1.8h0m0-.5h0m.1-.7h0m.5-.4h0m.5 .1h0m.4-.1h0m.4 1.5h0m0-.3h0m.1-.1h0m.2 .1h0m.1-.2h0m.3 1.1h0m.5-1.2h0m.4-.2h0m1 1.9h0m.5-2.7h0m1.4 2.7h0m0-1.3h0m0 1.2h0m1.4-.1h0m1.3 .2h0m1.3-.7h0m1.6-2.2h0m1.2 2.4h0m2.8-2.4h0m15.6 1h0m.6 1.2h0m4.7-.8h0m-40.1 3.1h0m.1-1h0m.2 2h0m.1 .1h0m.2 .4h0m.1-1h0m.1-.4h0m.2-1.3h0m0 1.9h0m.1-1.9h0m0 1.8h0m0-.7h0m.2-.7h0m.1-.5h0m.1 2.4h0m.2-.7h0m0-.3h0m.2-1.1h0m.3 .8h0m0 1.6h0m.2-.2h0m0-2.6h0m.1 1.6h0m.4-1.7h0m.3 .4h0m0 .2h0m.1 1.1h0m.2 1.2h0m.2-.6h0m.9-1.6h0m.2 .9h0m.8-1.5h0m.1 1.4h0m.1-1h0m0 .1h0m.2 .3h0m.2 .9h0m.3-.6h0m.1 1.5h0m.3-.5h0m.4 .3h0m.5 .3h0m.5-1.7h0m.4-.3h0m2.9 1.1h0m.4-.5h0m2.6-1h0m1.8 .5h0m.6 .9h0m.9 1.2h0m.4-2.9h0m1 2.9h0m2.5-1h0m.7-.3h0m6.6-.9h0m4.3 1.7h0m12.8-2.5h0m10.4 2.2h0m-56.8 3.2h0m.3-1.4h0m.6 1.3h0m0-.5h0m.3 .9h0m0-1.1h0m.1-1.5h0m.2 1.3h0m.1-.6h0m.1 1.5h0m0-2h0m.2 .6h0m.1-.6h0m0 2.4h0m.1-1.1h0m.4 1.1h0m.2-.7h0m0 .2h0m.4-1.5h0m.1 0h0m.1-.4h0m0-.1h0m.8 2.4h0m.1-.7h0m0 .8h0m.3-2.2h0m.6 .1h0m.1-.1h0m.2 .2h0m2 1.9h0m.1-1.2h0m.5 .5h0m.4 .7h0m.6-2.6h0m.5 1.2h0m.3 1.3h0m1.7-1.7h0m1.2 .9h0m.4-.9h0m.5 1.5h0m.4-.7h0m1.2-.3h0m.7 1.3h0m6.7 .3h0m2.7-2h0m.4 1h0m8 .6h0m3.7-.5h0m.5 .8h0m2.1-.4h0m-40 .7h0m0 .5h0m.1-.4h0m0 .2h0m.1 .1h0m.1 1.8h0m0-2.2h0m.1 2.1h0m.1-.6h0m.1-1.1h0m.1 1.8h0m.1-.5h0m.1 .3h0m.1-.3h0m.1 .8h0m.5-.6h0m.5 .8h0m.1-2.2h0m.1 1.7h0m.1 .6h0m.2-.7h0m.1-2h0m.2 2.1h0m.3-1.8h0m.5-.3h0m0 2h0m.1-.6h0m.4-.3h0m0 1h0m.4 .5h0m.2-2.3h0m0 2.2h0m.2 0h0m0-1.3h0m.1 .7h0m.4 .5h0m.1-.7h0m0 0h0m0 .5h0m.2-1h0m.1 0h0m.1-.8h0m.9 2.3h0m.3-1.4h0m.2-.6h0m0 .2h0m.2 .7h0m.1 .1h0m.6-1.4h0m.1-.2h0m.6 1.3h0m.5-.4h0m0 1.3h0m1.2-2.5h0m.1 .3h0m1.1 1.4h0m4.5 1.1h0m.2-2h0m1.4 2h0m1.3-2.6h0m.6 2.4h0m.4-1h0m2.7-.1h0m2.9-1.1h0m5 1.8h0m1.3 .4h0m-32.2 2h0m.1-.6h0m.1-.7h0m.2 2.4h0m.1-2.1h0m0 1.5h0m0-.7h0m.1 1.1h0m.1-.7h0m0 .7h0m.1-1.9h0m.1 .3h0m0 .9h0m.1-1h0m.3-.1h0m0 .8h0m0 0h0m.1 .7h0m0-.7h0m.1 .6h0m.1-.4h0m.2-.9h0m.1 .6h0m0-.1h0m.4 .3h0m.2 1.1h0m.2-.9h0m.7-.3h0m.1 .7h0m.3-.3h0m0-1.6h0m0-.3h0m.2 1.7h0m.1 1.1h0m.4-.7h0m0 .5h0m.3 .3h0m0-.2h0m.1-.1h0m0-2.5h0m.5 .7h0m.3 .3h0m.8-1h0m.6 1.8h0m0 .1h0m.1 1h0m.1-1.2h0m.3-.9h0m1.8-.2h0m.3 1.2h0m2.4-1.7h0m.4 1.9h0m.4 .8h0m1.7-.9h0m1.3 0h0m2.9-1.3h0m12.7 .1h0m.1 2h0m11.2-.9h0m6.4-1.1h0m-49.1 3.7h0m0 .7h0m.1-1.7h0m.6 2.4h0m0-2.2h0m.1 .5h0m0 1.5h0m.1-.7h0m0-1.4h0m.2 .4h0m.1-.6h0m.3 .7h0m.1-1h0m.4 1.3h0m.5-.9h0m0 1.1h0m.1 1h0m.1-1.9h0m.1 .6h0m0-.7h0m0 .9h0m0-.9h0m.2 2.4h0m0-.8h0m.3 .4h0m.1-1.2h0m.4 .3h0m.1-.6h0m0 1.2h0m.3-1.5h0m.6 1.9h0m.3-1.1h0m.4 .2h0m.8-.5h0m.6 .8h0m.4-.1h0m.5-.4h0m.4-.6h0m.1 .7h0m.4 .8h0m.5-1.1h0m1.3 0h0m2.7 1h0m7.8-1.7h0m2.2 1.3h0m.2-.4h0m11.7-.8h0m6.8 .1h0m-42 3.6h0m.1-.4h0m0 1.6h0m0-.3h0m.2-1.4h0m0-.9h0m.2 2.7h0m.1-2.4h0m0 .1h0m.1 2h0m.1-1.8h0m0 .5h0m.1 .4h0m0 1.3h0m0-2.7h0m.1 2h0m.2 .5h0m.2-.3h0m0 0h0m0 0h0m.5-.2h0m.1-1.8h0m.1 .5h0m.6 .3h0m.1-.8h0m.1-.3h0m0 1.2h0m.6-.1h0m.2 1.4h0m.7-1.4h0m.5-.6h0m.2 1.6h0m1.5-1.6h0m.9 2.2h0m.3-.1h0m.1-.9h0m.2 0h0m1.6 0h0m.4-.6h0m.8 .5h0m1.3-1.2h0m0 1.9h0m0-.9h0m1.9 1.5h0m1-.3h0m1.1-2.3h0m2.4 .7h0m.7 .7h0m4.7 .7h0m4.5-.8h0m8.1-1.4h0m-36.5 4.8h0m.1 .3h0m.2-1.3h0m0 .3h0m.1-.1h0m.3-.4h0m.1 0h0m0 .8h0m.1-.4h0m.1 1.5h0m0-.5h0m.2-.1h0m.1-.5h0m.3 .3h0m0-.3h0m.2-.2h0m0-.5h0m0-.6h0m.1 .4h0m.1 .2h0m.1 .7h0m.1 1.1h0m.1-2.3h0m.1 .8h0m.1 .4h0m.7 0h0m.2-1.4h0m0 .6h0m.1 1h0m.1-1.4h0m0 2.5h0m.1-2.9h0m.1 2.6h0m.2-.8h0m0-1.6h0m.1 2.2h0m0-.5h0m.2-.7h0m.7 .7h0m.5-1.3h0m.1 .7h0m.1 .9h0m0 .4h0m.1-1.5h0m0 .1h0m.2 1.3h0m.5-.3h0m.6-.1h0m.5 .1h0m.3-1.9h0m1.4 1.2h0m.5 .4h0m.4-1.6h0m2.5-.1h0m1.6 .3h0m3-.5h0m5.1 .5h0m1.1 1.4h0m7.2-.9h0m-30.8 3.1h0m.1 1.3h0m0-1.4h0m.1-.2h0m.1 .8h0m0 .6h0m.1-2h0m.3 .8h0m.1 1.2h0m.1-1.6h0m.1 1.8h0m.1-2.3h0m.4 1.1h0m.1 1.6h0m.1-2h0m.1-.4h0m.2 2.3h0m.1-1.6h0m0 .7h0m.1-.3h0m0 .3h0m0-1.1h0m.1 .7h0m.4-.7h0m.4 .7h0m.2 .5h0m.6-1.3h0m0 .7h0m.7 1.2h0m.3-2.5h0m.2 .3h0m.1 .2h0m.7 1.5h0m.1 .6h0m.5-.3h0m.1-1.6h0m.6-.4h0m.7 .4h0m.2 1h0m.1-.5h0m.2 1.5h0m1-2.7h0m5.4 .3h0m.4 .2h0m.8 .6h0m.8-.1h0m.4 1.2h0m1.3-1h0m1.4 .4h0m.5 .4h0m.1-.3h0m6 0h0m11.6-1.6h0m.9 1.7h0m-39 1.7h0m.1 1.2h0m0-.2h0m0-.3h0m.1 .9h0m.1-2h0m.3 2.7h0m.4-1.7h0m0-.8h0m.2 1.7h0m.2-1.3h0m.2-.1h0m.1 2.1h0m0 0h0m0 0h0m.1-.7h0m.1 .4h0m.7-1.9h0m0 1.5h0m.2 .7h0m.1-2.5h0m.5 .7h0m.4-.9h0m.3 .6h0m.6 .3h0m.4 .7h0m.7-.3h0m.2 1.1h0m.1 0h0m.5-1.3h0m.4 1.4h0m.1 0h0m0-2.6h0m2.3 2.1h0m1.5-1h0m0 .6h0m.2 .4h0m1.4 .7h0m2.1-2.6h0m0-.1h0m7.8 1.1h0m18.7 1h0m-41.1 1.1h0m0 1.6h0m.1-.1h0m.1 1.1h0m.2-2.7h0m.2 .3h0m.1 .3h0m0-.1h0m0 .2h0m.1 1.9h0m.1-1.7h0m.1-.4h0m.1-.2h0m.1-.5h0m.1 1.8h0m.1-1.1h0m.1 1.8h0m.2-1.6h0m.2 .5h0m0-1.4h0m.1 1.3h0m0 .7h0m0-1.3h0m.2 1.8h0m.1-.1h0m0 .4h0m0-1.2h0m.1 .6h0m0-.8h0m.1-.6h0m.3 2.1h0m0-.9h0m.3 .9h0m.2-.6h0m0-1.3h0m.1-.1h0m0 .1h0m.7 1.6h0m.3-.9h0m.1 .6h0m.1 .6h0m.5-2h0m.5 .7h0m0 .2h0m.1-.4h0m.1-.1h0m.3-.8h0m.9 .6h0m.5 1.5h0m.5-1h0m0 .1h0m.2 .5h0m1.5-.2h0m1.3 .4h0m1.8-.7h0m.8 .6h0m2.5-1.4h0m.1 .5h0m.9 .9h0m.7-1.6h0m1.1 .5h0m20.2 .8h0m7.3-1.1h0m-46.4 2.2h0m0 .4h0m.1 1.8h0m.2-2h0m.1 1.8h0m0-1.9h0m.2 1.2h0m.1 .3h0m.2-1.6h0m.4 .6h0m.1 .7h0m.2 .6h0m0-.9h0m.1 1.2h0m.4 .6h0m0-1.8h0m0-.1h0m.9 1.6h0m.9-1.4h0m.1-1h0m.2 .3h0m0 1.5h0m.2 0h0m.3-.9h0m.3 .7h0m.1 .7h0m.5-1.8h0m.8-.6h0m1.1 1.6h0m.4-.7h0m.1 1.4h0m.2-.5h0m.1 .9h0m0 0h0m.7-.3h0m.5-1.4h0m.6-.6h0m2.3 2.4h0m2.1-2.2h0m.9 .1h0m.1-.6h0m10.3 .8h0m-25.8 5h0m.3-1.8h0m.1 1.2h0m.1-.7h0m.2-.7h0m.1 1.7h0m.1-2.5h0m.2 2.4h0m0-2.1h0m.1 .4h0m.2-.4h0m.2 .5h0m.3-.8h0m.2 2.2h0m0-.1h0m.1-.2h0m.2-1.2h0m.3-.7h0m1.2 2h0m.4-1.8h0m.1 .7h0m0-.5h0m1.1 1.8h0m.2-1.6h0m.4 1.7h0m.2 .3h0m.3-1.7h0m.2 .9h0m.5 .2h0m.5-2h0m.9 .7h0m.1 1.9h0m1-.7h0m0-1.6h0m3.2 .2h0m.9 1.8h0m1.7-1.6h0m.7-.1h0m.7-.3h0m2.1-.4h0m.9 .3h0m.3 .3h0m18.8 0h0m-39.1 4.4h0m0-1.4h0m.1 .5h0m0 1.2h0m0-2.4h0m0 1.3h0m.2 1.1h0m.4 0h0m.1-.3h0m0-1.8h0m.1 .6h0m.3-.1h0m0 .4h0m.1-.6h0m.5 2.4h0m.1-2.2h0m.4 .5h0m.1-.4h0m.4 1h0m.2-1h0m.5 1.4h0m.1-2h0m.2 1.5h0m.2-1.6h0m.3 1.3h0m.3 1.1h0m0-2.5h0m.1 .2h0m.2 0h0m0-.2h0m.1 .4h0m.1-.2h0m0 .6h0m.5 .3h0m.1-.2h0m0 1.1h0m.3 .3h0m.1-.7h0m.5 .3h0m0 .6h0m.5-2.3h0m2.1-.1h0m.5 1h0m.3-.4h0m.8 .9h0m.3-.7h0m1.3 .4h0m.4 .7h0m1.4 .2h0m10.2-.7h0m22.7-.6h0m-47.1 3.2h0m.2-.4h0m0-.2h0m.1 .3h0m.1-.7h0m.3 2.1h0m0 .3h0m.2-.2h0m.3-1.4h0m0 .2h0m.3 1.4h0m.2-.8h0m0 .5h0m.1 .6h0m.4-1.3h0m.1-1.2h0m.7 1.5h0m.5-1.4h0m0 .4h0m.4 1.4h0m.1-.5h0m.3-.8h0m.1-.5h0m0 .8h0m.5 1h0m0-1.6h0m1.1 2h0m.5-.7h0m.6 .5h0m.1-2h0m.1 .5h0m.8 1.7h0m3-.2h0m.6-.2h0m5.4-.9h0m.5 0h0m1.1 .9h0m1.1-1.9h0m1 1.2h0m2.1-.9h0m5.3 .8h0m1.3 .4h0m12.7-.8h0m1.9 1.5h0m1.7 .3h0m-45.8 2.8h0m.2-1h0m0-.3h0m0 1.1h0m0-.4h0m.1-.7h0m.1 1.3h0m.4-2.5h0m0 1.1h0m0-.7h0m.5 2.1h0m1.1 .1h0m0-.9h0m0-1.5h0m.1 .6h0m0-.8h0m.5 .7h0m.2 1.5h0m.3-.5h0m.5-1.7h0m.1 1.1h0m.5-.5h0m.7 .2h0m.1 .6h0m.2-.5h0m.3-.6h0m0 .5h0m.2 1h0m.1-1.6h0m0 1.8h0m0-1.9h0m.9 2.6h0m0-1.4h0m.2 1.2h0m.6-1.1h0m.1 1h0m0 0h0m2.5-1.5h0m1 .3h0m3.7-1.3h0m.4 .5h0m1.4 1.9h0m.5-1.2h0m.2-.6h0m.7 .7h0m4.5 .5h0m1.7-.4h0m.8 1.1h0m.5-1.9h0m9-.7h0m-34.9 5.1h0m.8 0h0m.1-.4h0m.2 .5h0m.1-2.1h0m.2 .7h0m.5 1.7h0m.3 .3h0m.2-2.2h0m.2 1.2h0m.2 .7h0m0-2.3h0m.1 1.5h0m0 1h0m.2-2.2h0m.2 1.4h0m1-1h0m0-.6h0m.1 2.7h0m.1-1.2h0m.1-1h0m.4 1.6h0m1-.8h0m1.2-1h0m1.7-.4h0m1.9 .6h0m1.8 1.7h0m1.5-1.1h0m.6-.2h0m2.3 .8h0m1.5 .4h0m3.9-2.2h0m.7 .3h0m1.6 2.3h0m1.8-.9h0m1.1 .7h0m-27.4 2.4h0m.1-1.8h0m.1 .4h0m.1 .6h0m0-.7h0m.1 .5h0m.1 .4h0m0 1.3h0m0-1.3h0m.2-.7h0m0 2.2h0m.2-1.9h0m.2 1.9h0m0-.3h0m.2-1.8h0m0 1.5h0m.2-1.7h0m.2-.1h0m.1 1.7h0m0-1.3h0m.1 .3h0m.3 1.5h0m.2-2.1h0m0 1.1h0m.8-.2h0m0 .7h0m.1-2.1h0m.3 1.4h0m.5 1.2h0m.3-2.5h0m.1 2.7h0m.1-2.8h0m.3 2h0m.4-1.8h0m1.5-.1h0m0 1.7h0m0-1.9h0m.4 2.1h0m1.7-1.5h0m.4 2.1h0m3.2-2.2h0m.5 .5h0m4.4 1.9h0m4.1-1.9h0m16.1-.1h0m-37.7 3.9h0m.1 1.2h0m.4-1.7h0m.2-.4h0m0 .2h0m.1 .9h0m.1-.9h0m0 1.9h0m.4-2.5h0m0 1.4h0m.1-.1h0m0-.2h0m.1 .7h0m.1-.3h0m0-.6h0m.1-.6h0m0 .1h0m.1 1.9h0m0-2.8h0m.2 .4h0m.1 1.1h0m0 .3h0m.1-1.5h0m.3 2.4h0m0-.9h0m.1-.5h0m0 .6h0m.1 0h0m.2-1.8h0m0 .5h0m.2 1.8h0m.1-.5h0m.3 .3h0m.8-.4h0m.4 .3h0m0-.5h0m.1-.6h0m0 .6h0m.1 .6h0m0-1.4h0m.1-.7h0m.1 .9h0m0-.4h0m.2-.4h0m.1 1.8h0m.5 .6h0m.5 0h0m.9-2.2h0m.4 1.5h0m.3 1.1h0m.7-1.8h0m.1-1.1h0m1.1 2.1h0m0-.2h0m.1-.1h0m2.6-1.8h0m1 2.9h0m2.1-1.5h0m12.7 .1h0m14.3-.6h0m1-.1h0m3.3 0h0m-46.9 4.5h0m0-.3h0m.2-1.7h0m.3 .2h0m.1 2.4h0m0-1.1h0m.1-.9h0m.1 .8h0m.1 1h0m0-2.3h0m.2 2h0m.1 .2h0m0 .3h0m.1-.3h0m.2-.8h0m.2-.8h0m0-.2h0m0-.1h0m0 1h0m.1-.5h0m.2 1.1h0m.1 .4h0m.2-.6h0m.1 .5h0m.1-1.2h0m.2-1.5h0m0 1.1h0m.4 .8h0m.1 .9h0m.1-.8h0m.3-.3h0m0 .6h0m.1-.8h0m.1 1.4h0m.2-1.9h0m.3 .4h0m.1-.8h0m.2-.4h0m.9 1.1h0m.2-.8h0m1.7 1.9h0m.6-1.8h0m.5-.4h0m.6 1.8h0m.6-.9h0m2.2 .6h0m.3-1h0m.1 .8h0m.5-.3h0m.3 .6h0m2 .5h0m2.4 .2h0m1.7-2.4h0m.9 2.3h0m.8-.5h0m9.4 .1h0m12.1 .2h0m1.3-.5h0m-43.9 2.4h0m.3 0h0m.1 1.8h0m.2-1.9h0m.2 1.8h0m.1-.5h0m.2-.3h0m0-.5h0m0 .8h0m.1 .4h0m.3-1.5h0m.1 0h0m0 1.6h0m0-2.5h0m0-.1h0m.2 1.2h0m0 1.2h0m.3-.8h0m.1-1.1h0m.7-.1h0m0 .4h0m.1-.2h0m.1 .4h0m.2 1.3h0m0-1.2h0m1.2-.6h0m0 1h0m.2-.4h0m.7 1.1h0m.7-2h0m.1 1.3h0m.2 .8h0m1.1 .1h0m.4-1.8h0m.6 1.8h0m1.4-2.2h0m.2 2h0m.1-1.5h0m.3 2h0m1.8-1.5h0m4.2 .1h0m6.6 .8h0m4.1-1h0m12.6 1.2h0m6.1 .3h0m-45.9 .2h0m0 1h0m.2 1.9h0m0-1h0m.2 .3h0m0-1.5h0m.3 .9h0m0 1.4h0m.1-.3h0m.4-2.4h0m.5-.3h0m.1 1h0m0-.9h0m0 2.4h0m0-.1h0m.2 .2h0m.1 .2h0m.1-2.1h0m.4 1.2h0m.1-1h0m.1 .8h0m.2-.6h0m.3 1.4h0m.2-.9h0m.2-1.5h0m.2 1.7h0m.2 .7h0m.1-.3h0m.2-1.4h0m.1 2h0m.5-2.8h0m0 1.7h0m.1-1.3h0m.6 2.6h0m.4-1.3h0m.2-.7h0m.2 1.3h0m.3-2.3h0m.2 .2h0m.4 1.6h0m.5-1.6h0m.4 .8h0m.1-.3h0m.6-.3h0m.6 1.9h0m1-2h0m.2 2.3h0m.5-1.8h0m2.5-.7h0m.3 .3h0m1 1.3h0m4.3-1.5h0m3.5 2h0m6.9-.2h0m3.9-.2h0m11.8-.6h0m-45.3 2.2h0m.4 .8h0m.2 .7h0m0-1.9h0m.1 .4h0m.1 1.7h0m.1-1.8h0m.1 2.4h0m.2 .3h0m.1-1.8h0m.2-.1h0m.2-.9h0m.1 2.2h0m.1-1.2h0m.1 1.6h0m.1-1.3h0m.3 .5h0m.2-1.4h0m.1 .3h0m.1 1.6h0m.4-1.5h0m0 0h0m0 .4h0m.1-1.2h0m0 0h0m.1 .2h0m.4 2h0m0-.3h0m.3-.1h0m.1-1.1h0m.1 .8h0m.1 0h0m.1-1h0m.1-.4h0m.1 0h0m.5-.1h0m.2 .3h0m.2 1.9h0m.1-2.2h0m1.1 .4h0m.5 .2h0m.7-.1h0m.3-.6h0m2.7 .7h0m.8 .4h0m.4 1.4h0m5.1-1.8h0m3.4-.2h0m2 1.1h0m10.2-.1h0m3.1 .4h0m5.3-1.2h0m4.9 2h0m-46.3 .7h0m.1 .7h0m0 1.3h0m.2 .1h0m.2-1.7h0m0 1.4h0m.1-1h0m.1 .3h0m.1-1h0m0 .3h0m0-.2h0m.1 .8h0m.1 .6h0m.3-1.3h0m.1-.7h0m.1 1.3h0m0 .3h0m.2-.4h0m0 1.3h0m0-1.5h0m.6 1.6h0m.2-1.4h0m.1-.2h0m.3 1.5h0m.1 .3h0m0-.2h0m.4-2.3h0m.2 .7h0m.3 1.2h0m.2-1.5h0m.1 .3h0m.2 .7h0m0-.3h0m.1 .8h0m.1 0h0m.2-1.8h0m0 1.4h0m.6-1.7h0m1.1 .6h0m.2 .9h0m.5-1.1h0m0 .1h0m.4 .5h0m.2 1.5h0m.4-2.2h0m.3 2.3h0m.5-2h0m.1 .3h0m1.4 1.7h0m1.1-1.5h0m4.9-.7h0m2.6 1.4h0m0-.1h0m2.3-1.8h0m6.1 .5h0m17.9-.1h0m-45.5 5.4h0m.1-1.3h0m.1-.1h0m.5 0h0m.1 1h0m0-2.2h0m.2 1.1h0m0-.6h0m.1-.6h0m.1 .5h0m.2 1.6h0m0-.8h0m.3 .4h0m0 0h0m.2-.3h0m.1 0h0m0 .4h0m.2 .9h0m0-1.4h0m0 .4h0m.1 .6h0m.2-.4h0m0-.8h0m.1-1.3h0m0 .5h0m.2 1h0m.2-.1h0m.9-.1h0m.2-1h0m.2 .4h0m0 .5h0m.2-.8h0m.4 .8h0m.1 1.1h0m.1-.6h0m0 1.2h0m0-1h0m.1-.2h0m.2-.3h0m.6 1.1h0m0-1.7h0m.8 1.7h0m1-1.6h0m.2 1.8h0m.1-1.8h0m.1-.8h0m.1 1.3h0m.2-.4h0m1.8-.6h0m2 2h0m2.8-.9h0m.7-.7h0m.6 .6h0m4.5 0h0m.4-.8h0m5.2 2.3h0m5.1-.1h0m2.7-2.2h0m-34.2 4h0m.1-.5h0m.1-1.1h0m0 2.4h0m.1-.1h0m.4 .7h0m0-.9h0m.1-.7h0m0 .9h0m.1-1.7h0m.2 2h0m.2-1.9h0m0 .4h0m.1 1.8h0m0-1.9h0m.1 1.7h0m.1-1.6h0m.1 1.8h0m.6-.8h0m0 .3h0m.1-.1h0m.1-2.2h0m.3 .8h0m0 1.3h0m.6-1h0m.4 .2h0m.3-.3h0m.4 1.4h0m.6-1.1h0m.4 .1h0m.2 .9h0m.1-1h0m.2 .9h0m.1-.1h0m.1-1.5h0m.6 1.3h0m.6-1.7h0m0 1.3h0m.2-1.1h0m.4 2.1h0m.5-2.5h0m.4 .9h0m.1-.9h0m0 .1h0m.8 2.1h0m3-1.4h0m1.7-.1h0m1.3-.3h0m4.4 1.3h0m2-.1h0m3.2-1.6h0m1.3 1.1h0m8.6 .4h0m-35 2h0m1.3 0h0m.8 .1h0m.2-.6h0m.5 .3h0m.1-.2h0m1.2 .3h0m.9-.1h0m2.8 0h0m2.4 .1h0m10.4-.1h0" stroke="#F8766D" stroke-width="1.25" stroke-linecap="round" fill="none"/>
<path d="M293.5 11.3V119.2H358.8" stroke="#222" stroke-width="0.5" fill="none"/>
<path d="M292.2 16.6L293.5 16.6" stroke="#222" stroke-width="0.4" fill="none"/>
<text x="291.4" y="17.9" font-size="3.6" fill="#333" stroke="#333" stroke-width="0.1" text-anchor="end">0.4</text>
<path d="M292.2 41.3L293.5 41.3" stroke="#222" stroke-width="0.4" fill="none"/>
<text x="291.4" y="42.6" font-size="3.6" fill="#333" stroke="#333" stroke-width="0.1" text-anchor="end">0.2</text>
<path d="M292.2 65.7L293.5 65.7" stroke="#222" stroke-width="0.4" fill="none"/>
<text x="291.4" y="67" font-size="3.6" fill="#333" stroke="#333" stroke-width="0.1" text-anchor="end">0.0</text>
<path d="M292.2 90.5L293.5 90.5" stroke="#222" stroke-width="0.4" fill="none"/>
<text x="291.4" y="91.8" font-size="3.6" fill="#333" stroke="#333" stroke-width="0.1" text-anchor="end">−0.2</text>
<path d="M292.2 114.8L293.5 114.8" stroke="#222" stroke-width="0.4" fill="none"/>
<text x="291.4" y="116.1" font-size="3.6" fill="#333" stroke="#333" stroke-width="0.1" text-anchor="end">−0.4</text>
<path d="M295.5 119.2L295.5 120.5" stroke="#222" stroke-width="0.4" fill="none"/>
<text x="295.5" y="124.2" font-size="3.6" fill="#333" stroke="#333" stroke-width="0.1" text-anchor="middle">0</text>
<path d="M311.3 119.2L311.3 120.5" stroke="#222" stroke-width="0.4" fill="none"/>
<text x="311.3" y="124.2" font-size="3.6" fill="#333" stroke="#333" stroke-width="0.1" text-anchor="middle">5000</text>
<path d="M327.2 119.2L327.2 120.5" stroke="#222" stroke-width="0.4" fill="none"/>
<text x="327.2" y="124.2" font-size="3.6" fill="#333" stroke="#333" stroke-width="0.1" text-anchor="middle">10000</text>
<path d="M343.2 119.2L343.2 120.5" stroke="#222" stroke-width="0.4" fill="none"/>
<text x="343.2" y="124.2" font-size="3.6" fill="#333" stroke="#333" stroke-width="0.1" text-anchor="middle">15000</text>
<text x="326" y="8.9" font-size="4.6" fill="#111" text-anchor="middle" font-weight="bold">NA</text>
<text x="326" y="129.5" font-size="4.1" fill="#111" stroke="#111" stroke-width="0.1" text-anchor="middle">nCount_RNA</text>
<text x="279.5" y="66" font-size="4.1" fill="#111" stroke="#111" stroke-width="0.1" text-anchor="middle" transform="rotate(-90.03 279.5 66)">percent.mt</text>
<text x="363" y="63.9" font-size="3.95" fill="#111" stroke="#111" stroke-width="0.1">Identity</text>
<path d="M365.2 69h0" stroke="#F8766D" stroke-width="1.5" stroke-linecap="round" fill="none"/>
<text x="369.6" y="70.2" font-size="3.45" fill="#222" stroke="#222" stroke-width="0.1">seurat</text>
<path d="M403.8 112.2L404.7 110.6L405.7 109.4L406.6 108.3L407.6 107.3L408.5 106.4L409.5 105.6L410.4 104.8L411.4 104L412.3 103.3L413.3 102.6L414.2 101.9L415.2 101.3L416.2 100.6L417.1 101.4L418.1 100.8L419 100.3L420 99.7L420.9 99.2L421.9 98.7L422.8 98.2L422.8 103.9L421.9 104.3L420.9 104.6L420 105L419 105.4L418.1 105.7L417.1 106.1L416.2 107.8L415.2 108.2L414.2 108.6L413.3 108.9L412.3 109.3L411.4 109.7L410.4 110.1L409.5 110.6L408.5 111L407.6 111.5L406.6 112L405.7 112.6L404.7 113.2L403.8 113.9Z" fill="#F8766D" stroke="none" stroke-width="0"/>
<path d="M440.3 16.4h0m13.2 66.1h0m3.2 .1h0m-8.1 3.4h0m3-.9h0m4.8 1.2h0m-17.6 3.4h0m5.4-1.5h0m.2 1.5h0m3.4-2.1h0m3 .8h0m2-1.3h0m.1 .2h0m.8 .3h0m.9 1.9h0m.9 .3h0m.9-1.3h0m2.2-1.5h0m.4 2.9h0m-28.7 2.8h0m.5-1.4h0m0 1.5h0m.2 0h0m2-1.2h0m3.9 .1h0m.7-.3h0m1.1 .1h0m.3-1.1h0m1.1 2.3h0m.2-.4h0m.9-1.7h0m.1 1h0m.9-1.5h0m2.7 .7h0m3.8 1.2h0m3.6 .9h0m.7-.3h0m.4-2h0m.3 .3h0m.5 1.6h0m-30.4 3.1h0m.4-.7h0m.2 .5h0m.2 .5h0m.8 0h0m1.1-2.2h0m.1 2.1h0m.9 .1h0m.1-1.3h0m.3-1.4h0m.1 2.3h0m.3 .2h0m.2-2.1h0m.2 0h0m.1 .2h0m0 .5h0m.2 1.3h0m.1-.3h0m.1-1.8h0m.3 .6h0m.4-.5h0m0 1.8h0m.9-1.1h0m.1 .9h0m.6-.7h0m.8 1.3h0m0-.3h0m.6 0h0m1.1-1.9h0m.7 .6h0m2.9-.6h0m.3 .8h0m1.7 .2h0m2.5 1h0m.2-1.5h0m.1-.8h0m3.7 .9h0m1.3 1.2h0m.1 .4h0m.7-2.1h0m2.3-.4h0m.6 1.9h0m.1-1.2h0m.7 .2h0m2.4 1h0m.9-1.5h0m.4 1.4h0m.6-2h0m1 1.2h0m2.1 .3h0m1.1 .6h0m-42.3 3.6h0m1.1-.2h0m.3-.2h0m.3 .5h0m0-.8h0m.7 .8h0m0-1.7h0m.2 .6h0m.1 .8h0m.4 .3h0m.2-2.2h0m.4 .9h0m.3 1h0m.1-2h0m.3-.4h0m.6 2.7h0m.1-2.1h0m.1 .1h0m0 2h0m.6-2.6h0m.1 2.2h0m0-2.1h0m.5 .6h0m0 .7h0m.1 1.3h0m.3-2.9h0m.3 2.8h0m.1-2.8h0m.6 0h0m.1 2.8h0m.3-.5h0m0-2.4h0m0 2.6h0m.2-.9h0m0 0h0m0 .3h0m.1 0h0m.1-.8h0m.1 1.4h0m.1-2.1h0m.1 1.9h0m.3-.8h0m.2 .5h0m.2 .3h0m0-.2h0m1.4-1.3h0m.7 .5h0m.2 1.4h0m.1-2h0m.3-.2h0m.2 .6h0m.5 .3h0m.1 .4h0m1.4-1.5h0m.2 1.4h0m.2-1.3h0m.2 .3h0m0-.5h0m.2 1.5h0m0-.5h0m.3-.6h0m.5-.7h0m.3 1.4h0m.4-.3h0m0-.6h0m.5 .4h0m1.3 .3h0m.1-.3h0m.1 1h0m.1-1.9h0m.7 1.5h0m2 1.1h0m.3-1.6h0m.3-.4h0m.3 1.6h0m.3 .3h0m.4-2h0m.7-.3h0m3.3 .2h0m1.2 2.5h0m1.3-1.6h0m.1 1h0m3.1 0h0m3.3-1.1h0m.3-.5h0m.8 1.7h0m-42.2 3.5h0m.8 0h0m.4-.9h0m.2 .6h0m.1-.1h0m.2-.2h0m0-.4h0m.1 .6h0m.3 0h0m.2-.3h0m.2 .4h0m0-1.1h0m0 1.3h0m.2-.9h0m.3 .2h0m0-1.5h0m.1 1h0m.1 1.2h0m0-.6h0m.1-.8h0m0 .6h0m0-.3h0m.3-.2h0m0 1.4h0m.1-1.3h0m.2 1h0m.1 .1h0m.1-2.4h0m.1 1.1h0m0 .7h0m.2 .8h0m.1-1.2h0m.2 .8h0m.1 0h0m.4-1.1h0m0-.9h0m.1 2.4h0m.1-.3h0m.2-1.4h0m.1 1h0m.1-1.6h0m.1 .2h0m.1 1.3h0m0-.5h0m.2-.8h0m.1 1.5h0m.2-.8h0m0 .8h0m.1-.6h0m0 .7h0m.1-.7h0m.1-1.5h0m0 .9h0m.2 1.6h0m0-.6h0m.1-.3h0m.1-.3h0m.2 0h0m.2-.3h0m.1 1.1h0m.2-.6h0m.1 .1h0m.2-1.1h0m.1 .9h0m0-.1h0m.1-.8h0m0 1h0m.1-1.6h0m.2 2.3h0m.4 .3h0m0-2.3h0m.2 .8h0m.2-.7h0m.1 .5h0m.1 1.4h0m0-2.1h0m.1 .9h0m.3 .8h0m1 0h0m0 .5h0m.4-1.5h0m.1 1.6h0m0-2.6h0m.3 2.7h0m.1-.1h0m.1 .3h0m0-.3h0m.2-.7h0m0-1.5h0m0 1.8h0m.1-.9h0m.1-.2h0m0-.6h0m.1 1.7h0m.1-.5h0m.2-1h0m.2 0h0m0-.4h0m.2 .8h0m.4 1.6h0m.4-.7h0m0 .9h0m.1-.5h0m0 .5h0m0-1.1h0m.1-.2h0m.1-1h0m.2-.5h0m.2 1.9h0m.2-1.6h0m.6 .9h0m.1 .8h0m.1-1.2h0m.1 1.1h0m0 .9h0m.1-2h0m.9-.9h0m.4 2.3h0m.8-1.9h0m.1 1.5h0m.2 0h0m0 .1h0m.3-.9h0m.2 1.9h0m.1-1.4h0m.1 .8h0m.1-.7h0m.4 1h0m.5-.8h0m.1-.2h0m.1 1.1h0m.3-1.2h0m0-1.3h0m.3 1.3h0m2-.3h0m.9-.1h0m.2-.6h0m.4 2h0m4.4-2.3h0m1 0h0m1.4 1.6h0m.4-1.9h0m-35.2 5.9h0m.4 .1h0m.2-.1h0m.2-.4h0m.2 0h0m.1-.4h0m0 .8h0m.2 0h0m0-.1h0m.1 .1h0m0-1h0m.1 .8h0m0-.1h0m.2-.6h0m.1-.6h0m.1 .2h0m0 .9h0m0-.3h0m.1 .5h0m0-.3h0m0 .1h0m.1-.2h0m.1 .5h0m0-.2h0m.1-1.1h0m.3 .8h0m0-.7h0m.1-.4h0m0 .3h0m0 .4h0m.1-.9h0m.2 1.6h0m0-1.6h0m.1-.1h0m0-.2h0m0-.1h0m0 1h0m.1 .8h0m.1 0h0m.1-.6h0m0-.1h0m0-.6h0m0 1.4h0m.2-1.1h0m.1 1.1h0m0-1.3h0m.1-.7h0m0 1.4h0m.2-1.7h0m0 2.5h0m0 .2h0m.1-2h0m.1-.3h0m.1-.1h0m0-.3h0m.1-.1h0m.2 2.4h0m0-.2h0m0-1.5h0m0 .5h0m.1-1.2h0m0 2.3h0m.1 .4h0m.1-1.7h0m0-.2h0m0 1.3h0m0-1.2h0m.1 .8h0m0 .9h0m.1 .1h0m0-1.4h0m0 .1h0m.2-.8h0m0 1.8h0m.1-1.8h0m0 1.2h0m0-1h0m.1 0h0m.1 1.6h0m.1 0h0m0-2h0m.2 0h0m.2 1.4h0m0-1.6h0m.1-.3h0m.1 .8h0m0 .8h0m.1 .7h0m.1-1.3h0m.1 .2h0m0 1.4h0m0-.8h0m.1-1.5h0m.1 0h0m.2 2h0m0-1.2h0m0-.4h0m.1-.4h0m0 2.2h0m0-1.4h0m0-.8h0m.1 2h0m0-1.3h0m.2 1.6h0m.1-.7h0m.1-1.3h0m.1 .4h0m0 .3h0m0-.4h0m0-.7h0m.3 2.3h0m0-1.8h0m0-.5h0m.1 2.6h0m0-1.7h0m.1 1.7h0m0-.6h0m.1-1.5h0m0 1.7h0m.2-1.4h0m0-.2h0m.1 .6h0m0 1.4h0m0-.1h0m.1-.5h0m0-.2h0m0 .9h0m0-.4h0m0-1.4h0m.1-.4h0m.1-.2h0m0 2.1h0m.3-.4h0m.1-1.9h0m.1 1.9h0m0-.6h0m.1-.6h0m.1-.5h0m0-.3h0m.1 2.2h0m0-1.4h0m.1 1.2h0m0 .6h0m0-2.5h0m.1 .3h0m.4 .9h0m0-.7h0m.1 1.3h0m.2-.9h0m.1 1.8h0m.1-.9h0m0-1.4h0m.2 .4h0m.5 1.5h0m.1-1.4h0m.1 1.2h0m0-1.2h0m.1-1.1h0m.1 2.3h0m0-1.5h0m.3 .2h0m.1 1.8h0m0-1.9h0m0-.2h0m.2-.4h0m.1 .6h0m.4 .7h0m.2-.8h0m.2 1.9h0m.1-.8h0m.3 .6h0m.6-2h0m.2 1.5h0m.7-2h0m0 .2h0m.2 .5h0m.1 1.7h0m.3-.3h0m.2 .5h0m0-1h0m.1-.2h0m0 .4h0m.1 .5h0m.1 .6h0m.5-.7h0m.1-2h0m.2 2.1h0m.2-1.9h0m.1-.1h0m.1 1.4h0m.3 .6h0m.3-.3h0m.2-1.1h0m.3-.4h0m0 1.4h0m1-.5h0m.1 1h0m1.9-2h0m1.2 .6h0m3.6-.2h0m-29.6 5h0m.4-.1h0m.1 .1h0m.2-.4h0m0 .3h0m.1-.1h0m0 0h0m.1-.5h0m.2 .7h0m0-1h0m0 .9h0m0-.4h0m0-.2h0m.1 .2h0m0 .4h0m.1-1.1h0m0 .3h0m0 .6h0m0-.6h0m0 .6h0m.1-1.1h0m.1 .9h0m0-.9h0m0 .7h0m.1-.2h0m0 .8h0m0 .1h0m0-.2h0m.1-.4h0m0 .2h0m0 .2h0m0 .3h0m0-1.1h0m0 .8h0m0-.9h0m0 1h0m.1-.1h0m.1-.4h0m0 .3h0m0 .1h0m0-.4h0m.1-.2h0m0-.5h0m.1 .9h0m0-.9h0m0 .7h0m0-.6h0m0 .5h0m.1-.5h0m0 .7h0m0-.3h0m0 .6h0m.1-.5h0m0-.2h0m0-.1h0m0-1.1h0m.1 .1h0m0 .5h0m0 .1h0m0 .4h0m.1 .3h0m0 0h0m0 .7h0m0-.2h0m.1-1.6h0m0 .9h0m.1-.9h0m0 1h0m0 .1h0m0 .1h0m0-1.7h0m.1 2.1h0m0-1.1h0m.1 0h0m0-1.4h0m.1 1.3h0m0 .6h0m.1-1.7h0m0 1.6h0m0-2h0m0 1.2h0m0 .7h0m0-1.8h0m0 2.8h0m.1-2h0m0 2.1h0m0-1.5h0m0-1.3h0m.1 1h0m0 0h0m0-.3h0m0-.6h0m.1 2.3h0m0-1.4h0m.1-.3h0m0-.5h0m0 1.5h0m.1-.1h0m0 .4h0m0-.4h0m.1 .4h0m0 .2h0m0-.5h0m0 .8h0m0-1.5h0m.1 .3h0m0-1.4h0m0 1.7h0m.1-.8h0m0-.3h0m0-.7h0m.1 .5h0m0 1.1h0m0-.6h0m.1 0h0m0 1h0m0 .3h0m.1 .4h0m0-1.6h0m0-.5h0m0 .4h0m0 .5h0m0-.3h0m.1-.6h0m0 .6h0m0 1.2h0m0-.3h0m0 .2h0m0-1.3h0m0 .7h0m0-1.6h0m0 .5h0m0 2h0m.1-1.4h0m0 1.5h0m0-.7h0m.1-1.6h0m.1 2.2h0m0-1.7h0m.1 2h0m0-2.6h0m0 .6h0m.1 .7h0m.1 0h0m0 .3h0m0 0h0m0 .9h0m.1-1.1h0m0-1.3h0m.1 1h0m.1-.8h0m0 .2h0m0 .5h0m0 0h0m0 1.6h0m0-.6h0m.1 .4h0m0-1.7h0m0 1.4h0m0 .1h0m.1-1.6h0m0 .1h0m.1 1.5h0m0-.3h0m0-1.1h0m0-.7h0m0 .3h0m0 1.9h0m0-2.6h0m0 .9h0m.1 .5h0m0-.6h0m0-.1h0m0 2.1h0m.1-1.6h0m0-1.1h0m0 1.1h0m0 .5h0m0-.6h0m.1 1.1h0m0-1.3h0m0-.5h0m0 2.1h0m0 .2h0m.1-2.4h0m0 1.5h0m0-.1h0m0-.3h0m0-.8h0m.1-.6h0m0 2.4h0m0-.5h0m.1 .6h0m.1-.1h0m0-1.1h0m.1 .7h0m0-.7h0m.1-.7h0m0 1.9h0m0-.8h0m0-1.4h0m.1 1.4h0m0 .6h0m.1-2.3h0m0 1.1h0m0-.4h0m0 .9h0m0 1.1h0m.1 .3h0m0-.6h0m.1 .1h0m0-.3h0m0 .4h0m0-2.4h0m.1 .5h0m0 0h0m0-.1h0m0 .1h0m0 2.2h0m0-1.2h0m.1-1.3h0m0 1.2h0m0-.3h0m0 .8h0m.2-.8h0m0-.5h0m0 1.2h0m.1-1.9h0m0 .4h0m0 1.5h0m0-.4h0m.1-.5h0m.1 1.7h0m0-2.3h0m.1 .2h0m0 .7h0m.1-1.3h0m.1 .7h0m0 0h0m0-.8h0m0 2h0m.1-.3h0m0 1.3h0m.1-2.2h0m0 2h0m0-1.6h0m0 .2h0m.2-.5h0m0 .9h0m.1 1h0m.1-2.7h0m.1 1.8h0m0-1.6h0m0 1h0m.1-.8h0m0 .7h0m.1 .9h0m.1-1.9h0m0 .6h0m0 1.5h0m0-2.2h0m.2 2.1h0m0 .3h0m0-2.5h0m.1 2.6h0m0-1.9h0m.1 .2h0m0-.5h0m0 1.7h0m.1-1.5h0m.1 .5h0m0-.5h0m0 2.1h0m0-1.7h0m0 1.5h0m.2-1.2h0m.1 .4h0m0-1.6h0m0 1h0m0-.1h0m.1 .1h0m.1 1.3h0m.2-1.6h0m.1 .9h0m.2 .7h0m.2-1h0m.3 0h0m.1-1.3h0m.1 .1h0m0 1.2h0m.1-.3h0m.2 1.6h0m.1-1.7h0m.2-.7h0m.1 1.8h0m.1-1.6h0m0 .9h0m0-.6h0m.2 .2h0m0 .3h0m.2-.2h0m.4-.1h0m.2 .1h0m.2 .3h0m.2-1.2h0m.4 .7h0m.3 .3h0m1.3-.8h0m0 1.2h0m.6-.7h0m1-.8h0m0 .2h0m3.3 .1h0m-22.3 5.5h0m.1 0h0m0-.1h0m.1-.4h0m.1 .3h0m0 0h0m.1 .3h0m0-.5h0m0-.2h0m0 0h0m0 .5h0m0-.5h0m.1 .7h0m0-.5h0m0-.4h0m0 .4h0m0-.4h0m0 0h0m.1 .9h0m0-.7h0m0-.1h0m.1 .5h0m0-.1h0m.1-.3h0m0 .5h0m0-.8h0m0 .4h0m0 0h0m.1 .5h0m0-.9h0m0 .9h0m0-.4h0m.1 .2h0m0-.3h0m0 .3h0m0-.2h0m0 .2h0m0-1.2h0m0 0h0m.1-.2h0m0 1.2h0m0-1.2h0m.1 1.2h0m0-.7h0m0 .9h0m0-.4h0m0 .4h0m0 .1h0m0 0h0m.1-.3h0m0 .2h0m0 0h0m0-.5h0m0 .5h0m0-.5h0m0 0h0m.1 .4h0m0-.1h0m0-.1h0m0-.9h0m0 .6h0m0-.2h0m0 .7h0m0-.7h0m0 .7h0m.1-.2h0m0-1.4h0m0 .7h0m0 0h0m0 .8h0m0-1.8h0m0 2h0m0 .2h0m0-1.1h0m0 .6h0m0-.7h0m0 .8h0m0-.4h0m.1 0h0m0-.7h0m0-.4h0m0 .4h0m0-.2h0m0 1.3h0m0-.2h0m0-.6h0m0 .4h0m0 .5h0m0-.2h0m0 .3h0m0 .1h0m.1 0h0m0-1.1h0m0-.2h0m0 1.1h0m0-1.9h0m.1 1.8h0m0-1.2h0m0-.2h0m0 1.8h0m0-2.3h0m0 .8h0m0 .1h0m0 .7h0m0-1.2h0m0 1.7h0m.1-1.1h0m0-.5h0m0-.2h0m0 1.7h0m0-.4h0m0-.5h0m0 .3h0m0 .1h0m.1 .1h0m0 .7h0m0-.5h0m0-1.2h0m0 .9h0m0 .3h0m0-1h0m0 .3h0m0-1.7h0m0 1.3h0m0 1.3h0m0 .4h0m.1-2.5h0m0 .6h0m0 1.6h0m0-.8h0m0 .4h0m0-1.5h0m0 .3h0m.1-.6h0m0 2.2h0m0-1.5h0m0 1.8h0m0-1.7h0m0 1.2h0m0-1.1h0m0 .2h0m0-.6h0m0 .8h0m0-.2h0m0-.3h0m0 1.3h0m0-.4h0m0-1.4h0m.1 2h0m0-1.3h0m0 .3h0m0 .9h0m0-.6h0m0-.6h0m0-.3h0m0 .9h0m0 .6h0m.1-1h0m0 1h0m0-.1h0m0 .1h0m0-.4h0m0-1.4h0m0-.2h0m0 1.9h0m0 .4h0m0-.5h0m0-2.3h0m.1 2.5h0m0-1.8h0m0 .9h0m0 .7h0m0-1.2h0m0 1.5h0m0-.4h0m0-1.4h0m0-.6h0m.1 1.1h0m0-.8h0m0 1.2h0m0 .2h0m0 .1h0m0-1.8h0m0 .1h0m.1 .4h0m0 .3h0m0 .1h0m0-.1h0m0 1.2h0m0-2.2h0m0 1.9h0m0-.7h0m.1-.4h0m0 .9h0m0-.2h0m0-1.2h0m0 .5h0m0 0h0m0 0h0m0 0h0m0-.2h0m0 2h0m.1-.1h0m0-1.3h0m0-.4h0m0 .7h0m0-.6h0m0 .3h0m0-.5h0m0 .2h0m0-.5h0m0 2h0m0-2.2h0m0 1.1h0m.1 .4h0m0-1.6h0m0 .9h0m0 .1h0m0 1.1h0m0 .3h0m0 .2h0m0-2.2h0m.1 2.1h0m0-1.5h0m0-.2h0m0 .6h0m0 0h0m0 .9h0m0-1.9h0m0 1h0m.1 .3h0m0-1.5h0m0 1.4h0m0-1.8h0m0 1.5h0m0 .6h0m0-1.1h0m0 1.2h0m0-.8h0m.1 .6h0m0-.7h0m0 1.1h0m0 .4h0m0-2.6h0m0 1.8h0m0-.6h0m.1 1.3h0m0-2.2h0m0 .3h0m0 1.9h0m.1 .1h0m0-1.2h0m0-.3h0m0 .7h0m0 .5h0m0-.4h0m0 .2h0m0 .1h0m.1-2.4h0m0 .1h0m0 .5h0m.1-.2h0m0 .7h0m0 .9h0m0 .5h0m0-1.6h0m0 .9h0m0 0h0m.1-.1h0m0-.6h0m0 .7h0m.1-.4h0m0-1.3h0m0 2.1h0m0-1.7h0m0 1.2h0m0 .6h0m0-1.2h0m.1-1h0m0 .9h0m0-.7h0m0 .6h0m0 .5h0m0-.4h0m0 1.8h0m0-2.3h0m0 .5h0m0 .2h0m.1-.1h0m0-.2h0m0 0h0m0-.1h0m0-.5h0m0 .5h0m0 .7h0m0 1.2h0m.1-.1h0m0-.4h0m0-1.3h0m0 1.2h0m0-1.5h0m0 .6h0m.1 1.3h0m0-2.3h0m0 1.4h0m0 .8h0m0 .1h0m0 .2h0m.1-.8h0m0 .6h0m.1 .2h0m0-.7h0m0-1.2h0m0 1h0m0-.1h0m0-.9h0m.1 .6h0m0-1.3h0m0 .1h0m0 1.6h0m0-.1h0m0-.2h0m0-.9h0m.1-.7h0m0 2h0m0-2h0m0 1.1h0m0-1h0m0 2h0m0-1.9h0m0 .3h0m.1 0h0m0 .2h0m.1-.4h0m0 1.2h0m0-1h0m0 .3h0m.1-.5h0m0 1.8h0m.1 .8h0m0-2.3h0m0-.4h0m0 .1h0m.1 .8h0m0-.2h0m0-.9h0m0 1.5h0m.1 .9h0m0-1.7h0m0 0h0m0 .4h0m0 .8h0m.1-1.2h0m.1 1.7h0m0-1.3h0m0 1.9h0m0-2.1h0m0 .7h0m.1-.6h0m0 .8h0m0 .8h0m0-2.4h0m0 1.5h0m0 .8h0m0-2.1h0m0-.2h0m0 .8h0m0-.4h0m.1 0h0m0 .9h0m0-1.2h0m0 .7h0m0 1.6h0m0-2.5h0m0 1.7h0m0-.8h0m0 .6h0m0-.6h0m0 .7h0m0 .4h0m.1-.1h0m0-1h0m0-.8h0m0 .6h0m0 0h0m0-.1h0m.1-.1h0m0 .8h0m0 .1h0m0-.6h0m.1 .9h0m0 .1h0m.1-1.8h0m0 1.1h0m0-.4h0m0-.6h0m0 .7h0m0 .6h0m.1 .9h0m0 0h0m0-1.3h0m0 .7h0m0 .5h0m.1-2h0m0 .8h0m.1 .2h0m0-.1h0m.1-.3h0m0 .6h0m0-1.1h0m0 0h0m.1 1.2h0m0-.6h0m0-.5h0m0-.4h0m0 .5h0m.1 1.7h0m0-1.6h0m0 .3h0m.2-.2h0m0-.4h0m0 1.2h0m0 0h0m0-.2h0m.1-.5h0m0-.4h0m.1 .3h0m.1 1.3h0m0-1.2h0m.1-.8h0m.1 2h0m0-2h0m.1 1.2h0m0-1.3h0m0 2.1h0m0-1.8h0m.1 1.4h0m.1 .2h0m0-1.4h0m0-.4h0m0 .3h0m.1-.3h0m0 .9h0m.1-.8h0m.2 1.6h0m0-1h0m0 0h0m.1 .8h0m.1 .1h0m.2-.9h0m0 .3h0m0-1h0m.1 .5h0m.2 .2h0m.2 .6h0m0-1.1h0m.1 1.1h0m.1-.5h0m0 .3h0m.3 .3h0m.1-1.1h0m.4 .1h0m.2-.2h0m.2-.2h0m.3 .1h0m1.2 .1h0m.1-.1h0m-12.5 4h0m0 1.3h0m0-1.4h0m0 1h0m0-1.1h0m0 1.7h0m0-1h0m0-.4h0m0 1h0m0-1h0m0 1.2h0m0 .4h0m0-1.2h0m.1 .2h0m0 .1h0m0 0h0m0-.2h0m0 .3h0m0-1.2h0m0 2h0m0-.5h0m0-.1h0m0-.3h0m0 .1h0m0 .4h0m0 .4h0m0-1.2h0m0 1h0m0-1.8h0m0 .8h0m0-.5h0m0 .1h0m0-.2h0m.1 0h0m0 .3h0m0 .7h0m0-.1h0m0 .2h0m0 .2h0m0 .1h0m0-1.6h0m0 1h0m0 .3h0m0-1.1h0m0 .3h0m0 .7h0m0-1.1h0m0 1.3h0m0-.1h0m.1 .2h0m0-1.8h0m0 2h0m0-1.5h0m0 .5h0m0-.5h0m0 1.6h0m0-.8h0m0-.1h0m0-.3h0m0-.8h0m0-.1h0m0-.4h0m0 1.7h0m0 .4h0m0 0h0m0-.3h0m0-1.4h0m0 1.8h0m0-1h0m0 .9h0m0-.7h0m0-.9h0m0 1h0m0-.3h0m.1 .5h0m0 .4h0m0-1.1h0m0 .9h0m0-.7h0m0 .9h0m0-.4h0m0-1h0m0 .8h0m0 .5h0m0-1.7h0m0 1.1h0m0-.5h0m0 .9h0m0-1.1h0m0 1.7h0m0-1.8h0m0 1h0m0-1h0m0-.1h0m0 .8h0m0-.9h0m.1 1.2h0m0-.3h0m0 .4h0m0-1.4h0m0 1.5h0m0-1.4h0m0 .4h0m0 .6h0m0-.7h0m0-.7h0m0 .7h0m0 .8h0m.1-1.6h0m0 .9h0m0 .2h0m0 .8h0m0 .1h0m0-.4h0m0-.8h0m0 .9h0m0-.8h0m0 .3h0m0 .9h0m0-.5h0m0 .7h0m0-1h0m0 1h0m0-.7h0m0-1.1h0m.1 .2h0m0 1.4h0m0-1.4h0m0 1.5h0m0-1.4h0m0-.4h0m0 1.8h0m0-1h0m0-.2h0m0 1.1h0m0-1.5h0m0 .1h0m0-.6h0m0 .6h0m0 .7h0m0 .2h0m0-.5h0m0-1.1h0m0 .8h0m.1-.1h0m0 .9h0m0-1.2h0m0 1.7h0m0-.1h0m0-.3h0m0-.4h0m0-1.2h0m0 1.8h0m0-.2h0m0-.2h0m0-1.6h0m0 .6h0m.1 1.1h0m0-1.3h0m0 .4h0m0-.3h0m0 .8h0m0-.7h0m0 1.4h0m0-.7h0m0-.1h0m0 .5h0m0 .2h0m0 .1h0m0-.3h0m.1-1.3h0m0 .7h0m0-.6h0m0 .8h0m0-.1h0m0-.1h0m0 .4h0m0-.2h0m0-1.3h0m0 1.9h0m0-.7h0m0-.1h0m0 .7h0m.1-.2h0m0-.9h0m0 0h0m0 .9h0m0-1.6h0m0 .3h0m0 1.4h0m0 .2h0m0-.6h0m0-.8h0m0-.2h0m0 .1h0m.1 .7h0m0 1h0m0-.5h0m0-.6h0m.1 .3h0m0-.6h0m0-.4h0m0-.1h0m0 1.3h0m0 .1h0m0 .5h0m0-1.4h0m0 .2h0m0-.6h0m.1 .9h0m0-.3h0m0-.8h0m0 .7h0m0 .3h0m0 .8h0m0-.4h0m.1-.4h0m0-.1h0m0 .4h0m0 .1h0m0-.8h0m0 1h0m0-.7h0m.1-.2h0m0-.6h0m0 .9h0m0-.4h0m0-.4h0m.1-.1h0m0-.1h0m0 1.2h0m0 .3h0m0 0h0m.1-.3h0m0-.9h0m0 .7h0m0-.6h0m0 .3h0m.1-.2h0m0 1h0m0-.4h0m0 .6h0m0-1.1h0m0 .4h0m.1-1h0m0 1.3h0m0-1.4h0m.1 1.3h0m0-.5h0m0 .4h0m0-1h0m0 .2h0m0 .1h0m0 0h0m.1-.2h0m0 .2h0m0 .4h0m0-.6h0m0 .2h0m.1 .9h0m0-.6h0m0-.7h0m0 .9h0m0-.9h0m0 1.2h0m0-1h0m0 .2h0m0-.4h0m0 1.2h0m0-1.3h0m.1 1.1h0m0-.7h0m.1-.2h0m0 .2h0m0 .2h0m0-.5h0m.1 1.3h0m0-1.3h0m0 1.2h0m.1-1h0m0 .6h0m0-.8h0m.1 1.1h0m0-.9h0m0 .5h0m0 .3h0m.1-.8h0m0-.1h0m0 .7h0m0 0h0m.1-.7h0m0 .7h0m.1-.1h0m0-.4h0m0 .1h0m.1 .4h0m0-.7h0m0 .5h0m.1-.1h0m.2-.4h0m.1 .3h0m0-.3h0m0 .3h0m.1 .2h0m.2 0h0m.1 0h0m0-.4h0m0-.3h0m.3 .4h0m.2-.3h0m.2 0h0m8.4 3.5h0" stroke="#F8766D" stroke-width="1.25" stroke-linecap="round" fill="none"/>
<path d="M400.4 11.3V119.2H466" stroke="#222" stroke-width="0.5" fill="none"/>
<path d="M399.1 14.5L400.4 14.5" stroke="#222" stroke-width="0.4" fill="none"/>
<text x="398.3" y="15.8" font-size="3.6" fill="#333" stroke="#333" stroke-width="0.1" text-anchor="end">12000</text>
<path d="M399.1 39.5L400.4 39.5" stroke="#222" stroke-width="0.4" fill="none"/>
<text x="398.3" y="40.8" font-size="3.6" fill="#333" stroke="#333" stroke-width="0.1" text-anchor="end">9000</text>
<path d="M399.1 64.9L400.4 64.9" stroke="#222" stroke-width="0.4" fill="none"/>
<text x="398.3" y="66.2" font-size="3.6" fill="#333" stroke="#333" stroke-width="0.1" text-anchor="end">6000</text>
<path d="M399.1 90.2L400.4 90.2" stroke="#222" stroke-width="0.4" fill="none"/>
<text x="398.3" y="91.5" font-size="3.6" fill="#333" stroke="#333" stroke-width="0.1" text-anchor="end">3000</text>
<path d="M399.1 115.4L400.4 115.4" stroke="#222" stroke-width="0.4" fill="none"/>
<text x="398.3" y="116.7" font-size="3.6" fill="#333" stroke="#333" stroke-width="0.1" text-anchor="end">0</text>
<path d="M402.8 119.2L402.8 120.5" stroke="#222" stroke-width="0.4" fill="none"/>
<text x="402.8" y="124.2" font-size="3.6" fill="#333" stroke="#333" stroke-width="0.1" text-anchor="middle">0</text>
<path d="M418.6 119.2L418.6 120.5" stroke="#222" stroke-width="0.4" fill="none"/>
<text x="418.6" y="124.2" font-size="3.6" fill="#333" stroke="#333" stroke-width="0.1" text-anchor="middle">5000</text>
<path d="M434.6 119.2L434.6 120.5" stroke="#222" stroke-width="0.4" fill="none"/>
<text x="434.6" y="124.2" font-size="3.6" fill="#333" stroke="#333" stroke-width="0.1" text-anchor="middle">10000</text>
<path d="M450.5 119.2L450.5 120.5" stroke="#222" stroke-width="0.4" fill="none"/>
<text x="450.5" y="124.2" font-size="3.6" fill="#333" stroke="#333" stroke-width="0.1" text-anchor="middle">15000</text>
<text x="433.3" y="8.9" font-size="4.6" fill="#111" text-anchor="middle" font-weight="bold">0.82</text>
<text x="433.3" y="129.5" font-size="4.1" fill="#111" stroke="#111" stroke-width="0.1" text-anchor="middle">nCount_RNA</text>
<text x="386.8" y="65.5" font-size="4.1" fill="#111" stroke="#111" stroke-width="0.1" text-anchor="middle" transform="rotate(-90.03 386.8 65.5)">nFeature_RNA</text>
<text x="469.8" y="63.9" font-size="3.95" fill="#111" stroke="#111" stroke-width="0.1">Identity</text>
<path d="M472.8 69h0" stroke="#F8766D" stroke-width="1.5" stroke-linecap="round" fill="none"/>
<text x="476.7" y="70.2" font-size="3.45" fill="#222" stroke="#222" stroke-width="0.1">seurat</text>
<text x=".7" y="143.2" font-size="10.3" fill="#000" font-weight="bold">C</text>
<path d="M21.5 250.3L23.5 247.6L26 244.6L28.5 242.2L31 240.6L33.5 240L36 240.3L38.5 241.6L40.5 243.8L42 246.6L43 250.3Z" fill="#FF0000" stroke="none" stroke-width="0"/>
<path d="M41.5 157h0m.5 5h0m-1.4 6h0m-1 5.4h0m1.6-1.6h0m-.4 5.4h0m.6 4.4h0m.1 9.3h0m-7.2 2.7h0m2.2-.5h0m1.5 1.1h0m5-1.7h0m-2.4 4.7h0m4.4 .8h0m3.5-2.7h0m-12.8 4.7h0m3.9-.9h0m0 1.2h0m.4-.1h0m0-2.1h0m2 1h0m.1 .6h0m.8 .7h0m-5.8 1.8h0m2 .1h0m.4-.4h0m.8 1.5h0m.2-.6h0m-5.4 4h0m.2 0h0m1.2-.9h0m.5-.6h0m.9-.4h0m1.4-.7h0m1.3 1.5h0m.6 .3h0m-8.7 3.9h0m3.8-1.1h0m.2-.5h0m.2 .2h0m.3-.4h0m.5 1h0m.7-2h0m.2 1.7h0m.6-1.4h0m.2 .9h0m.2-1h0m2.1 0h0m.9 2.5h0m2-.6h0m-13.2 3.5h0m2.1-1.6h0m2.2-.9h0m2 2.8h0m.3-1.3h0m1.5 .4h0m.5 .3h0m.6-.9h0m1.6 1.3h0m.3-.4h0m.8 .1h0m.6-2.3h0m-13.4 5.7h0m1.8-1.4h0m2.2-.8h0m.1-.2h0m.1 1.9h0m1.2-1.6h0m.4 1.3h0m.2-2h0m1.4 1h0m1.4 1.4h0m.3-.7h0m2.5 .3h0m0 0h0m1.1-.2h0m1.7-.7h0m.1 1.1h0m-14.8 3.2h0m.3-1.8h0m.4 .4h0m.2 1.6h0m.2-1.1h0m.9 .3h0m.1 0h0m.8 .3h0m.7-.4h0m1.2 .8h0m0-2.4h0m3.1 0h0m0 1.5h0m.6 .5h0m.3-.4h0m0-.6h0m.5-.2h0m1.8 1.5h0m.3-2.4h0m.6 0h0m.5 .2h0m.5 1.7h0m.8 .9h0m.2-.1h0m.3-2.4h0m1.2 .9h0m.5-.4h0m0 1.1h0m-14.4 1.8h0m1.4 1.8h0m.6-.9h0m.9-1.6h0m1.8 .9h0m.2 .5h0m.1-1.3h0m.1 1.8h0m.1-1.1h0m.1 .8h0m0-.7h0m.3 1.9h0m.2-2.5h0m2 .8h0m1.4 .7h0m.3-1.6h0m.6 .1h0m.5 1h0m.5 1.3h0m0 .2h0m.4-.4h0m.8-1.2h0m2.5 .3h0m-18.1 2.3h0m.1-.3h0m1.4 2h0m.3-.7h0m1.4-.5h0m0 .2h0m.9-.4h0m1-1.1h0m0 .1h0m1.9 2.1h0m.4 0h0m.5-.5h0m.6-1h0m2.4 .8h0m.4-.1h0m.5-.3h0m0 1.4h0m1.4 .4h0m.2-2.8h0m.4-.1h0m0 1.9h0m.8-.3h0m.5 .7h0m.5-1.7h0m1.3-.1h0m1.2 .5h0m-19.8 3.6h0m.3 .4h0m1.1-1.9h0m.9 2.6h0m.1-2.3h0m.5 1.1h0m.3 .9h0m.6-1.3h0m2.3 1.6h0m.1-.4h0m0-1.6h0m.4 .1h0m.1-.7h0m.1 2.3h0m.1-.5h0m.1-1.6h0m.7 1.7h0m0-1.5h0m1.2 1.7h0m.3 .4h0m.4-1.3h0m.3 1.3h0m0 .1h0m.7-2.3h0m.5 1.5h0m.2-.5h0m1.4-.7h0m.3 .1h0m.4 1.8h0m.4-2.4h0m.4 1.5h0m.8-1.3h0m.9 1.7h0m1.1-.1h0m2.2-1.2h0m.8 .6h0m.1 .1h0m-21.2 2.1h0m.6 1.5h0m.4-2.1h0m2.3 2.9h0m1.2-.1h0m.1-.7h0m1-2h0m.5 2.4h0m.2-1.5h0m.1 .9h0m.2-1.8h0m.2 .2h0m.3 2.6h0m.6-1.7h0m.7-.1h0m.8 0h0m.2-.1h0m0 .8h0m.2-.7h0m0-.3h0m.3 1.7h0m.2-.5h0m.3-.7h0m.5-.6h0m.9 2h0m.2-1h0m.8-.1h0m.2 0h0m.3 1.2h0m.9-.3h0m0 0h0m0-2.3h0m.4 .5h0m.1 2h0m1.5-1.6h0m0 .4h0m3.7-1h0m.5 1.1h0m1.4 .9h0m.6 .1h0m-22.4 3.1h0m.1-2.1h0m.5 1.8h0m.3-2.2h0m.5 1.6h0m.1-.3h0m.4-.4h0m.7 .5h0m1.3 1.1h0m.1-1.1h0m.1-1.7h0m0 .4h0m.6 0h0m.1 1.6h0m1.3-.3h0m.3-1.1h0m.1-.4h0m.2 1.3h0m.8 1.3h0m0-2.3h0m0 1.9h0m.2-2h0m.1 2.5h0m1.2-2.6h0m.2 2.2h0m.8-1.8h0m0 1h0m.2-.2h0m.1 .8h0m0-.2h0m.2-.5h0m0-.9h0m.6 .6h0m.2-.2h0m.1-.6h0m.1 1.2h0m0-.9h0m.7 .9h0m.5-.3h0m.1-.2h0m.1 1.5h0m.4-.6h0m.5-.4h0m0-1.1h0m0 1.9h0m.4-1.1h0m.1 1.1h0m1.2-.1h0m.8-2h0m.5 .7h0m.1 1.2h0m.4-2.2h0m.2 2.4h0m.7-2h0m.7 0h0m.4 .7h0m.3 1.2h0m.7-1.6h0m1.9 1.2h0m-24.6 1.4h0m1.8 1.2h0m.2 .4h0m.5-1h0m.3 .1h0m.1 1.3h0m.2 .6h0m0-2.2h0m.2 1.2h0m0-1.7h0m.5 .3h0m.1 .6h0m0 .7h0m.4-1.6h0m.3 1.5h0m.2-1.7h0m.9 1.9h0m.4-1.9h0m.3 1.6h0m1.3-1.7h0m.7 1.8h0m.2 .9h0m.1-2.3h0m.2 1.8h0m.1-2.1h0m.2 2.9h0m.2-1.4h0m.2 .6h0m.1-2.1h0m.1 1h0m.4 .2h0m.5 0h0m0 1.1h0m.2-1.4h0m.1 .8h0m.1-.5h0m.6-.7h0m.1 1.9h0m.5-2.1h0m.1 .2h0m.1 1.7h0m0-.7h0m.1 .4h0m.2 .3h0m.1-.6h0m0-1h0m0 1.3h0m.3 .8h0m.3-.1h0m.2-1.8h0m.2 1.9h0m.1-2.3h0m.6 2.1h0m.2 0h0m.1-.3h0m0-.5h0m.5 .3h0m.1-1.5h0m.1 .4h0m.7 1.4h0m.3 0h0m.4-1h0m1.2-.7h0m.4 1h0m.1 .3h0m.1-1.5h0m1 .1h0m.3 1.5h0m1-.4h0m.3 .2h0m.5 .2h0m0 .1h0m.2 .3h0m.4-.8h0m.5-.3h0m.4-.1h0m1 1.5h0m-24.7 2.2h0m.2-1h0m.1 .2h0m.2-1.1h0m.2 1.2h0m0 1h0m.1 .1h0m.8-2.3h0m.7 1.6h0m.2-1.5h0m0 2h0m.6 .6h0m.4-1.9h0m0-.8h0m1.1 2.3h0m.1 .2h0m0-1.5h0m.4 1.1h0m0 0h0m0-.2h0m.6-1.9h0m.4 2.8h0m.6-1.2h0m.3 .3h0m.4 .3h0m.3-.7h0m.5 .9h0m0-.2h0m.2-1.2h0m.1 1.5h0m.2 .2h0m.1-.7h0m.3-.6h0m0-.6h0m.2-.2h0m.4 .8h0m.1-.8h0m.6 .4h0m.2-.2h0m.1-.2h0m0 .7h0m.4 1.4h0m.1-.7h0m0-.8h0m.2-.4h0m.3 1.7h0m0 .2h0m.1-.1h0m.1-1.6h0m.2-.6h0m.1 .4h0m.1 1h0m.1 .8h0m.3-2.1h0m.1 0h0m.3-.3h0m.1 1.8h0m.3-1.1h0m.3 1.9h0m0-1h0m.3 .4h0m.1 0h0m0-2h0m.4 .7h0m.3 1.4h0m.4-.9h0m0 1h0m.4-1.1h0m.3-1h0m.1 .4h0m.2 .4h0m.3 .5h0m.1-1.6h0m.7 2.4h0m.1-2.3h0m0 .6h0m.2-.7h0m.2 2.3h0m.4-.1h0m.7 .7h0m.2-.5h0m.5-1.4h0m.1 .4h0m.2 .9h0m0 .5h0m.1-2.7h0m0 2.3h0m.1 0h0m.4-2h0m.6 2.2h0m.2-.3h0m.1-.9h0m.2-1.2h0m.1 2.3h0m.4-1.4h0m1.2 .3h0m.1 1.2h0m.1-.3h0m.3-.5h0m0-1.6h0m.6 1.3h0m.4-.8h0m-24.6 3.5h0m.3 .8h0m.2 .1h0m.2-1.2h0m.1 .2h0m.1-.9h0m.4-.1h0m.3 2.6h0m.1-1.1h0m.4 .1h0m.2-.1h0m.8 0h0m0-.3h0m.1-.1h0m.1-.2h0m.2 1.2h0m0 .6h0m0-2.8h0m.2 2.6h0m0-.1h0m.4-1.2h0m0-1.3h0m.1 .5h0m.4 1.8h0m.2 .2h0m0-1.7h0m.1 .1h0m.4-.1h0m0 1.3h0m.2-.2h0m0-1.9h0m0 1.4h0m0 1.2h0m.3-1.4h0m.6-.8h0m.5 .7h0m.5-.2h0m.1-.8h0m.2 0h0m.1 0h0m.3 1h0m.2-.5h0m1.3-.5h0m1.2 2.7h0m.5-1.6h0m.2 1.6h0m.2-2.3h0m.3 1h0m.5-1.2h0m1.1 .1h0m.5-.5h0m1.1 2.7h0m.3 .1h0m.1 .2h0m.1-1.4h0m.2 1.1h0m.1 .3h0m.2-.6h0m.4-.5h0m.1-1.5h0m.6 .6h0m0 1.9h0m.2-2.6h0m0 .1h0m.2 1.7h0m0-.3h0m.3-1h0m.2 .2h0m0 1.1h0m.2 .6h0m.1-1.4h0m0 1.7h0m.2-.8h0m.6-.9h0m.5 1.1h0m.5 .4h0m.2 .2h0m.8-1.5h0m.1-1h0m.3 .1h0m.4 .6h0m.3 .1h0m.7-.5h0m.3 .9h0m1.3 .8h0m.6-1.8h0m-27.3 3.1h0m.5 1.5h0m.1 .2h0m.2 .2h0m.2-.8h0m.2-.9h0m1.2-.1h0m.3 1.4h0m.5 .7h0m.1-2.2h0m.1-.6h0m0 1.1h0m.5 1.6h0m.1-1.8h0m0 1h0m.1-.5h0m0-.1h0m0 .7h0m.1-2.2h0m0 1.6h0m.1 .5h0m.1 .8h0m.1-.3h0m.7-.5h0m.2-.9h0m.2 1.4h0m.1-2.4h0m.3 .3h0m.1 2.1h0m.1-2.2h0m.1 1.6h0m.2-1.2h0m0 2.1h0m.4-1.3h0m0-.4h0m.1 1.6h0m.2-.4h0m.1 .3h0m0-.7h0m.2-.1h0m.1 .7h0m.1-.1h0m.2-.5h0m.3 .6h0m2.8-.4h0m.2 .1h0m.4-1.6h0m1.3 1h0m.2-.6h0m.2 1.4h0m1.6 .2h0m.5-1.3h0m1.1 1h0m.6-2.2h0m0 1.6h0m0-.1h0m.1-1.2h0m0-.2h0m.1 1.2h0m0-.1h0m.1-1h0m.2 .9h0m0 1.3h0m.2-.5h0m.1-.7h0m.2 .2h0m0 .3h0m.1 .3h0m.3 0h0m.1-1.6h0m.1 .9h0m0 1.4h0m.5-.1h0m.1 .1h0m.2-.7h0m.1 .6h0m.1 .1h0m0-2.3h0m.1 1.8h0m.1-1.6h0m0 .7h0m.2 .8h0m.2-1h0m.8-1.3h0m0 .7h0m.1 1.6h0m.3-1.4h0m0 .9h0m.1-1.2h0m0 1.7h0m0-.2h0m.1-1.7h0m.3 .3h0m0 2.2h0m.1-1.7h0m.3-.4h0m0 0h0m.3 1.3h0m.2-.2h0m.2 .6h0m.1-2.5h0m0 2.6h0m.1-.1h0m.2-2.2h0m0 .5h0m0 1.6h0m.5-.3h0m0 .6h0m.2-2.5h0m.2 0h0m.4 1h0m.7 .2h0m0 .7h0m.4-.2h0m.1-.6h0m.2 .9h0m.4-1.4h0m0 .1h0m.3-.4h0m.9-.3h0m.9 .4h0m-30.2 5.2h0m.1 0h0m.6 .2h0m0-2h0m0 1.8h0m.3 .1h0m.1-2.5h0m.4 1.3h0m.4 .3h0m.4-1.1h0m.1-.4h0m.4 1.6h0m.1-.3h0m.3-.7h0m.1 1.2h0m0 .1h0m.1-.4h0m0-1.1h0m0-.3h0m.2 2h0m.1-.8h0m.4-.9h0m.3 .7h0m0 .5h0m.1-.3h0m.1-.1h0m0-.4h0m0-1h0m.1 .3h0m0 2.1h0m.1-1.7h0m.2 1.9h0m.2-2.8h0m.1 2.4h0m0-1.2h0m.1 .5h0m0 0h0m.1 .3h0m.2-.1h0m.3-.2h0m.2 1h0m.8-.3h0m.8-1.5h0m1.4-.6h0m0 1.8h0m.6-.3h0m.3 .3h0m.1 .2h0m.2 .4h0m.9-.9h0m0 1h0m.4-2h0m1 .1h0m.2 1.5h0m.1-1.9h0m0 1.5h0m.3 .3h0m.4-.3h0m.1 .3h0m.2-.5h0m.3-.4h0m.1-.4h0m.1 .4h0m.2-.4h0m1.2 1h0m1.2-1.4h0m.3 1.8h0m0-2.1h0m.7 0h0m.1 1.1h0m.8 .2h0m.3-.7h0m1.2 1.1h0m.9-1.3h0m.1-.1h0m.1-.5h0m.1 1.6h0m.8-1.1h0m0 1.8h0m.2-1h0m.4 1.2h0m.7-1.5h0m.3 1.5h0m0 .2h0m.1-.1h0m.1-2.3h0m.4 0h0m1 1.7h0m.2 .6h0m.8-.5h0m.2 0h0m0-.4h0m.4-1.8h0m.4 2.4h0m.1-.9h0m.1 1.3h0m0-2.2h0m.7-.3h0m.1-.2h0m.9 2.7h0m1.2-1h0m-31.1 2.4h0m.6-1.3h0m.2 .6h0m.5-.2h0m.2 .4h0m.2 0h0m.4-.2h0m.2 .5h0m.2-.2h0m.1 0h0m.3-.5h0m.1 .4h0m.8 .1h0m.2 .2h0m.3-.4h0m0 .1h0m.9 .3h0m0-.4h0m.1 .3h0m.1-.7h0m.4 .9h0m1.9-.1h0m.5-.7h0m1.5-.2h0m.2 .4h0m1 .6h0m.3-.4h0m.1 .4h0m3.7-.9h0m2.4 .4h0m1.6 .3h0m.5-1h0m.3 .8h0m.9-.1h0m1.1 .1h0m0 .1h0m.4-.2h0m.4 .2h0m.1 .3h0m.2-.4h0m.7-.2h0m.3 .8h0m.8-.4h0m.7-.8h0m.8 .5h0m0 .5h0m0 0h0m.1-.7h0m.1 .2h0m.1 .5h0m.2-.6h0m.2 .8h0m.2-.9h0m.3-.2h0m.1 .6h0m.2 .5h0m.1-.5h0m.1-.8h0m1 1h0m0 .2h0m.3-.1h0m.8-1h0m.3 .8h0" stroke="#FF0000" stroke-width="0.95" stroke-linecap="round" fill="none"/>
<path d="M18.1 254L18.4 251.4L19.6 250.2L25 250L33 250L40 250L43.6 250.3L45 252L47.5 252.4L50.3 253.2L51.3 255L50.8 256.6L48.5 258L45.5 258.9L42 259.8L36 260.6L28 260.6L23.5 259.6L20.5 257.8L18.6 256Z" fill="#000" stroke="none" stroke-width="0"/>
<path d="M18.7 250.5h0m.2-.1h0m.2-.1h0m.7 .1h0m0 0h0m.2-.1h0m.2 .1h0m1.1 .1h0m1.7 .5h0m0-.8h0m.9 .2h0m2.4-.1h0m1.2 .3h0m1.2-.2h0m.7-.1h0m.1-.1h0m.8 .3h0m3.2-.2h0m.3 0h0m.3-.1h0m.3 .2h0m.2 0h0m0 0h0m.5-.2h0m.6 0h0m2.1 .3h0m.8 .1h0m.2-.2h0m.3-.2h0m.2 0h0m.7 0h0m0 0h0m1.1 .1h0m1.3 0h0m.4 .3h0m.5-.1h0m.3 .1h0m.4-.2h0m.4-.1h0m1.6 2.2h0m.2 0h0m.3 .5h0m.1 0h0m.5-.4h0m.6 .1h0m.1-.2h0m0 .1h0m.1 .2h0m.8 0h0m1.9-.1h0m.2-.1h0m-31.9 5.3h0m2.1-.2h0m.8 .2h0m27.4-.6h0m1 .4h0m-31.5 1.6h0m.2-.7h0m.1 .2h0m.2-.6h0m.3 .6h0m.2 0h0m.1 1.4h0m.8-1.3h0m.1-.2h0m.3-.1h0m.4 .3h0m.3 .3h0m.4 1.6h0m0-1h0m.1 .4h0m.4 .4h0m.3-.7h0m.3 .1h0m.2 .1h0m0-.6h0m.5 1h0m.3-.5h0m.2-.7h0m.1 .1h0m.1 .9h0m.3 0h0m1-.2h0m0 .2h0m1.2-.4h0m.3 .2h0m.2-.2h0m.2 0h0m.7 0h0m.3-.2h0m.2 .2h0m0 .3h0m.4-.3h0m.1-1.3h0m.9 .2h0m.6 .8h0m.1 0h0m.1 .7h0m.1-1h0m.4 1.3h0m.1 .3h0m.1-.7h0m.1-.2h0m.1 .8h0m.1-1.1h0m0 .5h0m.3 .1h0m0 .5h0m.6-.7h0m.7 .1h0m.4-.1h0m.6 .1h0m.1 .2h0m.2-.1h0m.5-.6h0m.1 .4h0m.2 .4h0m.7-.9h0m.1 .6h0m0-1.1h0m.2 1.5h0m.4-.4h0m0-.6h0m.7 1.3h0m0-.5h0m.5-.2h0m.1 .4h0m.4 .1h0m.3-.1h0m.5-.9h0m.6 .1h0m.3-.5h0m.4 .7h0m.5-.2h0m.3 .4h0m.3-.2h0m.1 0h0m.2-.5h0m.3 .6h0m.9 .5h0m0-.5h0m.8 .1h0m0-1.4h0m.6 .2h0m0 .1h0m.8-.7h0m.4 .6h0m1.4-.9h0m.1 .6h0m.3-.2h0m.6 1h0m.8-.6h0m.1-.7h0m.3 .3h0m0-.3h0m.3 1.4h0m.1-1.5h0m-27.6 3h0m18.5-.1h0m3.1 0h0" stroke="#000" stroke-width="0.9" stroke-linecap="round" fill="none"/>
<path d="M16.8 153.1V266H52.6" stroke="#222" stroke-width="0.5" fill="none"/>
<path d="M15.5 155.6L16.8 155.6" stroke="#222" stroke-width="0.4" fill="none"/>
<text x="14.7" y="156.9" font-size="3.5" fill="#333" stroke="#333" stroke-width="0.1" text-anchor="end">10.0</text>
<path d="M15.5 183L16.8 183" stroke="#222" stroke-width="0.4" fill="none"/>
<text x="14.7" y="184.3" font-size="3.5" fill="#333" stroke="#333" stroke-width="0.1" text-anchor="end">7.5</text>
<path d="M15.5 210.2L16.8 210.2" stroke="#222" stroke-width="0.4" fill="none"/>
<text x="14.7" y="211.5" font-size="3.5" fill="#333" stroke="#333" stroke-width="0.1" text-anchor="end">5.0</text>
<path d="M15.5 237.6L16.8 237.6" stroke="#222" stroke-width="0.4" fill="none"/>
<text x="14.7" y="238.9" font-size="3.5" fill="#333" stroke="#333" stroke-width="0.1" text-anchor="end">2.5</text>
<path d="M15.5 264.7L16.8 264.7" stroke="#222" stroke-width="0.4" fill="none"/>
<text x="14.7" y="266" font-size="3.5" fill="#333" stroke="#333" stroke-width="0.1" text-anchor="end">0.0</text>
<path d="M18.4 266L18.4 267.2" stroke="#222" stroke-width="0.4" fill="none"/>
<text x="18.4" y="270.6" font-size="3.4" fill="#333" stroke="#333" stroke-width="0.1" text-anchor="middle">1e−05</text>
<path d="M28 266L28 267.2" stroke="#222" stroke-width="0.4" fill="none"/>
<text x="28" y="270.6" font-size="3.4" fill="#333" stroke="#333" stroke-width="0.1" text-anchor="middle">1e−03</text>
<path d="M37.6 266L37.6 267.2" stroke="#222" stroke-width="0.4" fill="none"/>
<text x="37.6" y="270.6" font-size="3.4" fill="#333" stroke="#333" stroke-width="0.1" text-anchor="middle">1e−01</text>
<path d="M47.2 266L47.2 267.2" stroke="#222" stroke-width="0.4" fill="none"/>
<text x="47.2" y="270.6" font-size="3.4" fill="#333" stroke="#333" stroke-width="0.1" text-anchor="middle">1e+01</text>
<text x="34.4" y="275.5" font-size="4.08" fill="#111" stroke="#111" stroke-width="0.1" text-anchor="middle">Average Expression</text>
<text x="5.6" y="208.6" font-size="4.08" fill="#111" stroke="#111" stroke-width="0.1" text-anchor="middle" transform="rotate(-90.03 5.6 208.6)">Standardized Variance</text>
<path d="M58.5 208h0" stroke="#000" stroke-width="1.1" stroke-linecap="round" fill="none"/>
<path d="M58.5 212.7h0" stroke="#FF0000" stroke-width="1.1" stroke-linecap="round" fill="none"/>
<text x="63" y="209.2" font-size="3.55" fill="#222" stroke="#222" stroke-width="0.1">Non−variable count: 10239</text>
<text x="63" y="213.9" font-size="3.55" fill="#222" stroke="#222" stroke-width="0.1">Variable count: 1500</text>
<path d="M127.6 250.3L129.6 247.6L132.1 244.6L134.6 242.2L137.1 240.6L139.6 240L142.1 240.3L144.6 241.6L146.6 243.8L148.1 246.6L149.1 250.3Z" fill="#FF0000" stroke="none" stroke-width="0"/>
<path d="M147.6 157h0m.5 5h0m-1.4 6h0m-1 5.4h0m1.6-1.6h0m-.4 5.4h0m.6 4.4h0m.1 9.3h0m-7.2 2.7h0m2.2-.5h0m1.5 1.1h0m5-1.7h0m2 5.5h0m3.5-2.7h0m-12.2 3.7h0m.2-.3h0m.6 .4h0m1.3 1.6h0m.4 .3h0m1.2-.8h0m2-1.1h0m1.1 1.1h0m-3.2 2.2h0m.4 .7h0m.8-.7h0m-4.2 2h0m2.4 .6h0m.4 .4h0m1.7-.6h0m.4 1.7h0m1.5-2h0m-10.3 4.6h0m1.5 .4h0m2.8 0h0m.6 .1h0m.6-2.5h0m0 2.7h0m.8-2h0m.5 .2h0m.8 .6h0m-8.5 3.1h0m.7 .4h0m.2-.2h0m.3 .9h0m.1-.2h0m.5-1.3h0m.1 .7h0m.7-1.7h0m.3 2.6h0m0-2.2h0m.7 1.2h0m.2-1.4h0m.3 1.8h0m2.1-1.3h0m.4 .9h0m2.5 0h0m.4-.4h0m3.4 1h0m-12 1.3h0m1.1 1.1h0m.6-1.4h0m1 0h0m1.4 1h0m.5-1.2h0m1.1 1h0m.4-1.2h0m0 2.8h0m.7-2.8h0m.5 2.3h0m.7-.4h0m.5-.2h0m1.1-.1h0m1.5 .2h0m1.6-1.3h0m-15.9 4h0m1.7 .1h0m3.1 .5h0m.9 .4h0m.6-.3h0m.3 .1h0m.3 0h0m.2-2.3h0m.2 2.1h0m1.9-2.2h0m.2 2.7h0m.6-.3h0m.8-1.2h0m3.7-.4h0m.3 2.1h0m-16.6 3h0m.8-1.6h0m.3 1.5h0m.3 .1h0m3.5-2.6h0m.3 0h0m0 1.6h0m.6-1.3h0m1 .7h0m.5-.3h0m1.3 1.3h0m.5 .7h0m1.2-2.7h0m.2-.1h0m.2 2.5h0m.7-.5h0m.7-2.1h0m.9 1.6h0m1.5-1.4h0m1.4 1.1h0m1.5 1.3h0m-16.2 2h0m.2-.7h0m1.4 .5h0m.6-1.3h0m.6 2.5h0m.2-.6h0m.1-1.8h0m1.6 2.2h0m1.1-.5h0m1.3 .3h0m.1-.3h0m1.3 .8h0m1.2-.3h0m.2-1.5h0m.2-.5h0m.2 .4h0m.4 1.6h0m.3-.7h0m1.2-1.6h0m.6 2h0m.2 .1h0m0-1.9h0m1 2.5h0m.4-.5h0m1.9 .6h0m.8-1.6h0m-18.6 3.7h0m.5-.7h0m.2-.3h0m0 .4h0m.7-.2h0m.4-.4h0m.3 1.9h0m.4-2.1h0m.7-.3h0m.1 2.6h0m0-2.4h0m.2 .9h0m.6 .4h0m1.7-1.2h0m.1 1h0m0 .4h0m1.4-1.7h0m0 1.4h0m.3 1.1h0m0-.9h0m.4 .5h0m.2-1.6h0m3-.1h0m.5 2h0m0-.1h0m.7-.5h0m.4 0h0m.4 .7h0m.2-1.4h0m0 .2h0m.1-1.5h0m.2 .7h0m.3-.6h0m.2 .1h0m.2 .8h0m.4-.1h0m.2 .7h0m0-1.7h0m.2 1.2h0m.7 .1h0m.1 1h0m1.7-.7h0m1.1-.4h0m0-.2h0m.7 .8h0m-21.3 2.5h0m.2 0h0m.7-.6h0m.3-.4h0m.5 1h0m.2 0h0m0 1.4h0m.6-1.5h0m.4 1.3h0m.8-1.5h0m.2 .3h0m0 .6h0m.7-.7h0m.6-.5h0m.1 1.7h0m.1-.8h0m.3 .5h0m.5 .3h0m.3-1.6h0m.1 .5h0m.1-.4h0m.1-.8h0m.3 .2h0m.2 .1h0m0-.4h0m.6 2.3h0m.2 .4h0m.1-2.3h0m.1 1h0m.7 1.3h0m.3-1h0m.3-.9h0m.9 1.8h0m.5-.1h0m.2-.3h0m.7-.1h0m.1-.8h0m.5-1.1h0m.1 1.5h0m.4-1.4h0m.2 .5h0m.3 .9h0m.3 .9h0m1.4 .1h0m.8-.5h0m0 .6h0m.6-2.1h0m.8 1.8h0m.5-.6h0m0-.6h0m.1-.8h0m.1 .4h0m0 1.7h0m.1-2.4h0m.3 2.4h0m2-1.6h0m.1 .3h0m.3-.1h0m.7-.6h0m-23.1 3.3h0m.7-.5h0m.6 1.9h0m.1 .4h0m.1-1.6h0m1.8 1.6h0m.3-2.2h0m.2 1h0m0-.1h0m.2 1.2h0m.1 .2h0m.2-.1h0m.1-2.5h0m.4 2.5h0m.1-2.6h0m0 0h0m.3-.1h0m.2 .5h0m.1 1h0m.2-.5h0m.5-.3h0m0 1.8h0m.1-.3h0m0 0h0m.3-2.1h0m.1 1.7h0m.1-.8h0m.2-.8h0m0 1.1h0m0 1.4h0m.5-1.1h0m0 1.2h0m.7-2.7h0m0-.2h0m.1 .7h0m.1 0h0m0 1.2h0m.4 .8h0m.1-.8h0m.5-1.5h0m.2 2.5h0m.2-1.8h0m.2 1.4h0m1-.6h0m.4 .4h0m.4-.1h0m.1 .7h0m0-.5h0m.7-1.1h0m.6 1.3h0m.2-2.2h0m.3 .1h0m.1 2h0m.3-2h0m1.7-.2h0m.2 .4h0m.1 1.7h0m.5-.8h0m1.1-1.5h0m.6 2.6h0m.5-.7h0m.3-1.7h0m.6 2.1h0m.3-1.5h0m.7-.6h0m.5 1.9h0m2.4 .6h0m-24.8 2.5h0m.8-2.3h0m.8 2.3h0m.2-2h0m.7 2.1h0m.1-.1h0m0-1.3h0m.1 1.3h0m0 .3h0m.3 .4h0m.4-1.6h0m1.2 1.4h0m1.1 0h0m.3-1.9h0m.5 .4h0m.1 .5h0m0 1h0m.5-2.2h0m.2 2h0m.2 0h0m.2 .3h0m0-.3h0m.9 .1h0m.1-.2h0m.6-1.4h0m.1 0h0m.3-1h0m0 2h0m.2-.2h0m.2-1.2h0m0 .1h0m.7 2.1h0m.1-2.2h0m.3-.5h0m.2 1.8h0m0 .1h0m.1 .8h0m.6-1.4h0m.2-.4h0m.6 .4h0m.1-.3h0m0 1.1h0m.1-.7h0m.1 .5h0m.8 .3h0m.1-.7h0m.3-.9h0m.3 1.9h0m.4-.5h0m.1-.6h0m.1 .6h0m.3-.1h0m.5-2.1h0m0 2.2h0m.2-1.7h0m0 2.5h0m.8-.3h0m.2-1.2h0m.1 1h0m.2-1h0m.2-.9h0m1 .7h0m.1 .8h0m.3-.5h0m.2 .6h0m.1-.4h0m.3 .2h0m.1-.6h0m.3 1h0m.2-1.8h0m.2 2.3h0m1-.6h0m.3-.9h0m1 1.4h0m1.1-2.1h0m.1 .2h0m.1 1.3h0m.1 .6h0m.4-1.2h0m.7 1.2h0m-26.7 1.4h0m1.2 1.4h0m.8 .3h0m.1-.6h0m.1-2.1h0m.4 1.1h0m.1-1.1h0m.5-.1h0m.5 .5h0m.5 1.1h0m0 1h0m.5-.5h0m.3-1.6h0m.3 2.1h0m.3-1.1h0m.4 .2h0m.1 1.1h0m.2-2.2h0m.1 1.3h0m0 .8h0m.3-.7h0m.1-.9h0m.1 .2h0m.3 1.3h0m0-2.6h0m.1 1.2h0m0-1.3h0m.3 .7h0m.6 1.3h0m.1 .8h0m0-1.9h0m.2 2h0m0-.1h0m.3-1.4h0m.1 1.1h0m.7-.2h0m.1 .3h0m.2-.6h0m.5-.4h0m0 .7h0m.3-1h0m.5-1h0m.2 .9h0m.1 .6h0m.4 .8h0m.1-1.3h0m.1-.9h0m.1 .8h0m.1-.8h0m0-.4h0m.3 .7h0m.3-.6h0m.1 .7h0m0-.5h0m0 .8h0m.1-.8h0m.1 1.4h0m0 .2h0m.7-1.8h0m0 1.6h0m.2-1.6h0m0 .9h0m.2-.9h0m.1 .8h0m.1 1.5h0m0-.5h0m.3-.2h0m0-.8h0m.1-.6h0m.2 .3h0m.5 .2h0m.1 1.6h0m.5-.6h0m0-1.4h0m.3 1.9h0m1.3-2h0m.3 2h0m.4-1.5h0m.3 2h0m.1-.4h0m.2-1.9h0m0 1.1h0m.3-.5h0m.4 1.6h0m.2-2.1h0m.5 1.3h0m.4-1.3h0m.4 .8h0m.8 1.6h0m.1-1.7h0m.3 1.2h0m.1-.6h0m1.3-.9h0m.2 .2h0m.1-.2h0m1 .6h0m-25.3 2.2h0m.1 1.8h0m.4 .3h0m.2-2.2h0m.3 .7h0m.5-.8h0m0 .4h0m.5 1h0m.2-.6h0m.3 .4h0m.1-.5h0m.3-.3h0m.2 .5h0m.2-.6h0m.2-.4h0m.1 1.1h0m.5-1.5h0m.2 2h0m0-1.7h0m.1 .1h0m0 2.1h0m.3-.3h0m.3 .5h0m.2-1.8h0m.5 1h0m0-1.9h0m.1 2h0m.2-.1h0m.2 .1h0m.3 .7h0m.1-1.1h0m.3-.6h0m0 .2h0m.3-.7h0m.1-.5h0m.2 2h0m1.2-1.6h0m.6-.1h0m.2 .9h0m.1-.6h0m.8-.2h0m.4-.3h0m0-.1h0m.4 .5h0m0-.5h0m.1-.1h0m.1 0h0m.2 .7h0m.9 .7h0m.6-1h0m.8-.1h0m.4 1.8h0m.2-.3h0m.2-.7h0m.8-.9h0m.7 2.8h0m1.2-.5h0m.5-2h0m0 2.2h0m.2-.9h0m.2-1.4h0m.2 1.2h0m.4-.6h0m.8-.2h0m.2 .6h0m0-.1h0m.3 1.5h0m0-.3h0m.2-2.3h0m0 2.7h0m.2 0h0m0-2.1h0m0 1.9h0m.1-2.5h0m0 1.8h0m0 0h0m.4 .2h0m0-1.1h0m0 .6h0m.6 0h0m.1-.2h0m.3-.4h0m0 .6h0m.1-1.1h0m.2 1.1h0m.9 .7h0m.1-.4h0m.8 .3h0m.2-1h0m.3 .4h0m0 0h0m1.5 .6h0m1.2-.2h0m-30.1 3.5h0m1.4-.5h0m1.2-1.1h0m.6 .2h0m1 1.2h0m.1-.1h0m.3-.1h0m.6-.7h0m.2 0h0m.2-.3h0m.1 0h0m.2 .8h0m.1-.8h0m.2 1h0m.1-1.6h0m.4 2.2h0m0-1.1h0m.2-.5h0m.1 .4h0m.1 .1h0m0-.8h0m.1 1.9h0m0-.1h0m.1-1.2h0m.1 .5h0m.3-1.7h0m.4 1.3h0m0-1h0m.1 1.2h0m0-1.7h0m.2 1.5h0m0 1.1h0m0 0h0m.2-2.3h0m.2 .1h0m0 2.1h0m.1-.9h0m.3 .9h0m.3-2.5h0m.1 .4h0m.3 .6h0m.9-.9h0m1.1 0h0m1.1 2.3h0m.6-1.5h0m1.8 1.8h0m1.3-2.7h0m.1 .6h0m.1-.4h0m1 1.6h0m.1 .5h0m.3-1.9h0m.9 .7h0m.3 1.5h0m.3-1.1h0m.1-1.1h0m.1 0h0m.3-.1h0m.1 .7h0m.2 .5h0m.3 0h0m.1 .2h0m.2-1.5h0m0 .5h0m.1 1.7h0m.3-.1h0m.2-1h0m.3 .7h0m.2-1.6h0m.5 .2h0m.4 .3h0m0 1.5h0m.5 .5h0m.2-.6h0m.3-1.3h0m.2 .2h0m.2 .7h0m.1 .1h0m.8-2.1h0m.1 2.1h0m0-.9h0m0 1.8h0m.2-1.6h0m1 1.2h0m.2-1h0m.1 .2h0m.2 .3h0m.3 .6h0m.1-2.6h0m0 2.5h0m.1-1.5h0m.1 .8h0m.1 1h0m0 .1h0m.4-.7h0m.5-1.5h0m.3-.4h0m.3 2h0m.6-.4h0m.2 .5h0m.3-1.2h0m.2-.4h0m-30.3 4.4h0m.8-1.2h0m.2-.3h0m.2 2.2h0m.1-2.3h0m.1 2.2h0m.1-1.4h0m.2 .1h0m.1 1.2h0m.3-2.5h0m0-.1h0m0 1.6h0m.2 .5h0m.1-.5h0m.1 0h0m.1 .1h0m.4 .4h0m.2 .7h0m.6-.2h0m0-1.7h0m0-1h0m0 1.3h0m.2-.8h0m.1-.5h0m.2 2.4h0m.1-2.2h0m0 0h0m0 2h0m.1-1.1h0m0-.4h0m.3 1.8h0m.1-1.5h0m0 1.4h0m1.5-.9h0m.7-1.6h0m.1 .7h0m.1-.7h0m.2 .5h0m1.2 .9h0m.1-.3h0m.4 0h0m1.2 1.6h0m2 .2h0m0-.8h0m.9 .9h0m0-1.7h0m.1 1.5h0m0-.5h0m.3-.9h0m.1 1.4h0m.7-.5h0m1-1h0m.9 1.1h0m.8-.1h0m1.2-.7h0m0-.6h0m.6-.7h0m.1 2.3h0m1 .2h0m.4-1.1h0m.4 .1h0m.7-1.6h0m.1 .5h0m.2-.5h0m.2 2.2h0m0 .4h0m.6-.6h0m.2 .2h0m.3 .1h0m.1 .2h0m0-1.1h0m.3 .6h0m0 .3h0m.1-2h0m.2 1.4h0m.5 .7h0m.1-.2h0m.1-.1h0m.4-.7h0m.2 .9h0m.2 0h0m.2 .4h0m0 0h0m.3-.1h0m.2 .1h0m.1 .1h0m.1-1.5h0m.1 .1h0m.1-.3h0m.2-.7h0m.1 2.3h0m0-.9h0m.2-.2h0m.1 .6h0m1 .5h0m.1-2h0m0 .9h0m.2-.6h0m.5-1h0m.4 1.7h0m.3-1.2h0m.3-.2h0m.3-.5h0m.5 .6h0m-31.4 3.8h0m0-1.1h0m.1 .5h0m.8 .2h0m.4-.5h0m.1 0h0m.1 .7h0m.2-.3h0m.4-.7h0m1 .7h0m1.2 .3h0m0-.9h0m.2 .8h0m.6-.9h0m.1 .2h0m2.9 .4h0m1.5-.2h0m.1-.5h0m2.8 .1h0m.7 .9h0m.5-.2h0m2 0h0m.3-.7h0m.3 1.2h0m.3-.3h0m1.2-.9h0m2.6 .6h0m1.7 .1h0m.1 .2h0m.2-.5h0m0 .4h0m.2-1h0m.1 1.2h0m.8-.9h0m.2 1h0m.1-.4h0m0-.3h0m.1-.4h0m0 1h0m.3-.3h0m.1-.7h0m.2 0h0m.9 .5h0m.4 .7h0m.1-.5h0m0 .2h0m.4-.9h0m0 .3h0m.1 .4h0m.3 .4h0m.7 .1h0m.3-.4h0m.1-.2h0m.1 .1h0m0 0h0m2-.3h0m.2 .1h0m.1 .7h0m.1 0h0" stroke="#FF0000" stroke-width="0.95" stroke-linecap="round" fill="none"/>
<path d="M124.2 254L124.5 251.4L125.7 250.2L131.1 250L139.1 250L146.1 250L149.7 250.3L151.1 252L153.6 252.4L156.4 253.2L157.4 255L156.9 256.6L154.6 258L151.6 258.9L148.1 259.8L142.1 260.6L134.1 260.6L129.6 259.6L126.6 257.8L124.7 256Z" fill="#000" stroke="none" stroke-width="0"/>
<path d="M125.3 250.4h0m1.1 .1h0m1 0h0m.3 0h0m.9-.1h0m.1 .1h0m.7-.1h0m.1 0h0m.2-.2h0m1.7 .5h0m0-.3h0m.1 0h0m0 .3h0m.7-.1h0m1.2-.3h0m1.6 0h0m1.4 0h0m0 .1h0m.4-.2h0m0 .4h0m.1-.1h0m0 .1h0m.2-.1h0m1.7-.1h0m.4 0h0m.3 0h0m.8-.1h0m.9-.1h0m.8 .2h0m1.1-.2h0m.1 .2h0m1-.2h0m0 0h0m.3 .4h0m0-.1h0m0-.2h0m.9 0h0m.9 0h0m.4-.1h0m.2 .2h0m.5 .2h0m.4-.4h0m.8 .1h0m0 .1h0m.5 0h0m.9 0h0m.1-.2h0m.6 2.4h0m.4 .5h0m.6-.4h0m.5 0h0m.1 .2h0m.3-.2h0m0 0h0m1.7-.2h0m.5 .2h0m.2-.1h0m1.2 .1h0m.1 .2h0m0-.4h0m.7 .1h0m-29.7 5h0m.7-.1h0m23.6 .3h0m1.7-.6h0m.7 .7h0m.7-.1h0m1.2 0h0m1.1 .2h0m-30.8 1h0m.2-.3h0m0-.5h0m1.4 0h0m.4 2.4h0m0-.5h0m.5-1.2h0m.5 .8h0m1.7 .3h0m.3 .3h0m.2-.6h0m.3 .1h0m.2 1.1h0m.1-.1h0m.2 0h0m.3-.8h0m0-.5h0m.4-.2h0m.2 .9h0m0-.1h0m.2 .9h0m.1-.4h0m0-.8h0m.9 .3h0m.3-.1h0m.6 .1h0m.8-.3h0m.1 1h0m.8-.4h0m.6-.9h0m.3 .8h0m.6-.1h0m.7-.4h0m.2 .3h0m1.4-.4h0m.6 1.3h0m0-.8h0m.2-.8h0m.1 .5h0m.6-.3h0m.3 .9h0m.1-.7h0m.3 .2h0m.6 0h0m.6 0h0m.3 .7h0m.1-.5h0m.1-.4h0m0 .6h0m.5-1.1h0m0 .1h0m.1 .7h0m.8-.2h0m0 .3h0m.1-.1h0m.1-.1h0m0 .1h0m.6-.5h0m0 .6h0m.2-.7h0m.4 1.4h0m.4-1.4h0m0 .7h0m.1-.8h0m.1 1.2h0m.1 .1h0m.1-1.1h0m.3 .8h0m.3-.7h0m.1 .7h0m.1-.3h0m.6-.2h0m.4 .9h0m.3-1.1h0m.2 .5h0m.3-.5h0m0-.1h0m0 .7h0m1-1.8h0m.2-.3h0m.2 .4h0m.1 0h0m1.9 .5h0m.3-.4h0m.2-.3h0m.4-.1h0m.5 .8h0m.4-.6h0m.2 .2h0m.6-.1h0m-8.6 2.6h0" stroke="#000" stroke-width="0.9" stroke-linecap="round" fill="none"/>
<path d="M122.9 153.1V266H158.7" stroke="#222" stroke-width="0.5" fill="none"/>
<path d="M121.6 155.6L122.9 155.6" stroke="#222" stroke-width="0.4" fill="none"/>
<text x="120.8" y="156.9" font-size="3.5" fill="#333" stroke="#333" stroke-width="0.1" text-anchor="end">10.0</text>
<path d="M121.6 183L122.9 183" stroke="#222" stroke-width="0.4" fill="none"/>
<text x="120.8" y="184.3" font-size="3.5" fill="#333" stroke="#333" stroke-width="0.1" text-anchor="end">7.5</text>
<path d="M121.6 210.2L122.9 210.2" stroke="#222" stroke-width="0.4" fill="none"/>
<text x="120.8" y="211.5" font-size="3.5" fill="#333" stroke="#333" stroke-width="0.1" text-anchor="end">5.0</text>
<path d="M121.6 237.6L122.9 237.6" stroke="#222" stroke-width="0.4" fill="none"/>
<text x="120.8" y="238.9" font-size="3.5" fill="#333" stroke="#333" stroke-width="0.1" text-anchor="end">2.5</text>
<path d="M121.6 264.7L122.9 264.7" stroke="#222" stroke-width="0.4" fill="none"/>
<text x="120.8" y="266" font-size="3.5" fill="#333" stroke="#333" stroke-width="0.1" text-anchor="end">0.0</text>
<path d="M124.5 266L124.5 267.2" stroke="#222" stroke-width="0.4" fill="none"/>
<text x="124.5" y="270.6" font-size="3.4" fill="#333" stroke="#333" stroke-width="0.1" text-anchor="middle">1e−05</text>
<path d="M134.1 266L134.1 267.2" stroke="#222" stroke-width="0.4" fill="none"/>
<text x="134.1" y="270.6" font-size="3.4" fill="#333" stroke="#333" stroke-width="0.1" text-anchor="middle">1e−03</text>
<path d="M143.7 266L143.7 267.2" stroke="#222" stroke-width="0.4" fill="none"/>
<text x="143.7" y="270.6" font-size="3.4" fill="#333" stroke="#333" stroke-width="0.1" text-anchor="middle">1e−01</text>
<path d="M153.3 266L153.3 267.2" stroke="#222" stroke-width="0.4" fill="none"/>
<text x="153.3" y="270.6" font-size="3.4" fill="#333" stroke="#333" stroke-width="0.1" text-anchor="middle">1e+01</text>
<text x="140.5" y="275.5" font-size="4.08" fill="#111" stroke="#111" stroke-width="0.1" text-anchor="middle">Average Expression</text>
<text x="111.7" y="208.6" font-size="4.08" fill="#111" stroke="#111" stroke-width="0.1" text-anchor="middle" transform="rotate(-90.03 111.7 208.6)">Standardized Variance</text>
<path d="M164.4 208h0" stroke="#000" stroke-width="1.1" stroke-linecap="round" fill="none"/>
<path d="M164.4 212.7h0" stroke="#FF0000" stroke-width="1.1" stroke-linecap="round" fill="none"/>
<text x="168.9" y="209.2" font-size="3.55" fill="#222" stroke="#222" stroke-width="0.1">Non−variable count: 10239</text>
<text x="168.9" y="213.9" font-size="3.55" fill="#222" stroke="#222" stroke-width="0.1">Variable count: 1500</text>
<text x="149.6" y="156.6" font-size="3.2" fill="#2a2a2a" text-anchor="middle">IL1B</text>
<text x="152.1" y="160.7" font-size="3.2" fill="#2a2a2a" text-anchor="middle">LYZ</text>
<text x="149.6" y="167.2" font-size="3.2" fill="#2a2a2a" text-anchor="middle">RGS5</text>
<text x="146.6" y="172" font-size="3.2" fill="#2a2a2a" text-anchor="middle">PTGDS</text>
<text x="153" y="171.8" font-size="3.2" fill="#2a2a2a" text-anchor="middle">CCL4</text>
<text x="150.3" y="177" font-size="3.2" fill="#2a2a2a" text-anchor="middle">DLK1</text>
<text x="153" y="182.8" font-size="3.2" fill="#2a2a2a" text-anchor="middle">CCL3</text>
<text x="151.9" y="190.6" font-size="3.2" fill="#2a2a2a" text-anchor="middle">ACTA2</text>
<text x="153.9" y="195.1" font-size="3.2" fill="#2a2a2a" text-anchor="middle">MMP9</text>
<text x="143" y="197.6" font-size="3.2" fill="#2a2a2a" text-anchor="middle">CCL20</text>
<text x="227.6" y="142.4" font-size="10.3" fill="#000" font-weight="bold">D</text>
<path d="M255.4 143.7h0m-12.4 .9h0m3.6 .1h0m.3-.3h0m1.4 0h0m2.8 1.2h0m.4 1.2h0m2-2.6h0m1.3 .9h0m-9.4 3.4h0m3.7-.6h0m.8 1.8h0m.3-1.3h0m1.6 .8h0m.4-.3h0m.7-1.2h0m1.2 .7h0m.6-1h0m2.3 .6h0m-10.4 2.7h0m2.4 1.4h0m3.7 .1h0m0-1.5h0m.2 2h0m.4-.5h0m1.3 .7h0m.8-.4h0m.3-.8h0m.2-1.2h0m1.1 2.4h0m-9.6 1.4h0m1.6 .3h0m.6-1.1h0m.1 .5h0m.5-.3h0m.5 2.2h0m1.2-1.7h0m3.1-.5h0m.3 1.6h0m1.3 .6h0m4.5-2.5h0m-15.7 4.3h0m1.2 .2h0m1.2-.6h0m3.2-.8h0m.3 1.7h0m1.7-.6h0m0 .8h0m.3-1.1h0m1.2-.9h0m.4 2.4h0m.1-.4h0m.2-1.6h0m1.1 1.1h0m-7.9 3.6h0m2.6-.2h0m1.1-1.3h0m.2-1h0m5 1.8h0m1.7-1.1h0m-9.7 5h0m.2-1.6h0m.5 .4h0m3.5-1.3h0m.2 2h0m.1 .2h0m.8-.3h0m-.1 2.8h0m.5 .5h0m.2-1.9h0m.8 2.1h0m.2-2h0m2.7 2.2h0m-9.2 2.4h0m.6-.4h0m.9-1.4h0m.1 .1h0m.3 2.1h0m.8-.8h0m.8-.3h0m1-.2h0m.5 .6h0m1.2 1h0m.9-1.3h0m-10.9 2.2h0m7.9 2h0m.1-2.2h0m.7 .7h0m0-.4h0m.3-.3h0m1.1 1.6h0m.1-2.1h0m.4 .9h0m.2-.1h0m.1 2h0m1.3-.8h0m.6-2h0m.8 .6h0m-8.1 4.3h0m.7 .2h0m1.4-1h0m.9-.1h0m.1 .8h0m.1-.6h0m.1-.6h0m2.7 0h0m.3-.3h0m.1-.3h0m0 .3h0m.6 1.9h0m1 .3h0m-8.3 2.4h0m1.4-.2h0m1.1-.5h0m.7 1.6h0m.6-2h0m.6 .1h0m.7 1.6h0m0-2h0m.1 .4h0m1.7 .4h0m.4-1h0m-6.9 5.5h0m1.5-1.2h0m2.9-1.5h0m.7 2.3h0m1.5-1.8h0m.7 1.4h0m0 .1h0m.9 .6h0m.1-.1h0m-6.8 1.3h0m1.9 .8h0m.1 .7h0m.8-1.4h0m.7 1.2h0m.2-.7h0m.9-.9h0m.2 1.7h0m.6-1.9h0m.9 1.9h0m0-.1h0m6.6-2.2h0m-11.9 3h0m2.4 .2h0m0 2.3h0m.1-.5h0m.4-1.6h0m.1-.2h0m.1 .4h0m.2-.2h0m.2 1.9h0m0-2.1h0m.4 1.2h0m.1 .6h0m.4-1.3h0m.3 2h0m4.8-1.1h0m-9.2 1.9h0m.6-.4h0m.1 2.3h0m.1 .2h0m1.8 .1h0m.3-2.5h0m.8 .6h0m.1 2h0m.3-.7h0m.3-.1h0m.5 .2h0m1-.2h0m1-1.1h0m-5.8 2.1h0m.5 2.3h0m0-.6h0m.2 .7h0m0 .4h0m.1-2.6h0m1.4 .5h0m.1 1.7h0m.5-.4h0m.4 .3h0m.1 .4h0m.3-1.2h0m.1-.3h0m.6-.2h0m.3-.6h0m.5 .9h0m3.1 .1h0m82.8-.4h0m-92.2 3h0m.1-.1h0m2.3 1.4h0m.1-.2h0m.3-.5h0m.2-1.3h0m.2 1.9h0m.8-.5h0m.3 .4h0m.2 .3h0m.3-2.2h0m.1 .3h0m.1 .1h0m.2 1.8h0m0-1.6h0m.3 .1h0m.2-.4h0m0 .5h0m.1 .7h0m.3 1.1h0m2.2-.8h0m80.8-.1h0m1.9-1h0m.2 1.5h0m1-2.2h0m1.3 1.2h0m.6 .1h0m-91.6 1.5h0m.2-.1h0m.1 .1h0m0 1.2h0m1-.2h0m.1-.3h0m.3-.1h0m.3 1.3h0m.2-.3h0m.1-.4h0m.2-.8h0m.4 .2h0m.7 1.8h0m.5-1h0m.5 .2h0m.1-.6h0m.6 1.9h0m69.6-1.4h0m.5 1.3h0m4-.8h0m.9 .9h0m.9-2.9h0m1.3 2.8h0m.4 0h0m1.1-2h0m1 .9h0m0-.5h0m.8-1h0m1.1 1.5h0m.3-.8h0m.2 0h0m.4-.4h0m.2-.5h0m.2 2.1h0m.6-.7h0m.1 .8h0m0-.3h0m.1-.9h0m.7-.7h0m1.2 .7h0m.5 0h0m-92 3h0m.6 1.8h0m0-1.6h0m.4 1.5h0m1.8-2.4h0m.5 .5h0m.1-.1h0m0 1.5h0m.3-1.5h0m.3 2.1h0m.7-2h0m1.4 .1h0m58 .6h0m2.3 .5h0m7.6 .4h0m.6-.1h0m.1 .5h0m.1-.1h0m.7-1.2h0m1 .6h0m1.6-.6h0m.5-.1h0m1.8-.3h0m.2-.6h0m.2 .3h0m.1 1.5h0m0 0h0m1.5-.8h0m.1 1.2h0m.8-1.9h0m.4-.4h0m.4 1.7h0m0-.1h0m.3-.8h0m0 1.1h0m1.1-.5h0m0-1h0m.1-.8h0m.4 0h0m.2 2.4h0m.2-2.4h0m.3 2h0m.4 .5h0m.2-1.3h0m.6-.1h0m.1 1.7h0m.5-1.1h0m.1-1.4h0m.8 .6h0m.1 0h0m0 .4h0m.3 1.1h0m.3-.9h0m.2-.2h0m.9-.1h0m.2 .7h0m0-.5h0m.6 .6h0m-91.6 1.7h0m1.2 1h0m.2-1.5h0m.1 .5h0m.3-.1h0m.2 .8h0m.3 1.2h0m.1-2.2h0m.2 1.9h0m.4-.8h0m.1 0h0m.2 1.2h0m0-2.5h0m.2 .2h0m.2 1.5h0m.1-.2h0m0 .3h0m.1 0h0m.1-.2h0m.2-1.5h0m.5 1.5h0m0 .6h0m.2 .3h0m.2-2.3h0m.4-.3h0m.2 .2h0m.7-.3h0m1.9 .8h0m7.6 1.6h0m10.7 .4h0m2.7-.8h0m29.9 .6h0m2-.1h0m1.1-1.7h0m2.7-.5h0m1.1 2.2h0m.4 .1h0m.4-.8h0m1.7 .3h0m1.3 .6h0m.3-1.5h0m.2 .6h0m1.4 .2h0m2.4 .3h0m.4-1.2h0m.4-.1h0m0-.7h0m.3 2.5h0m.3-2h0m0 .3h0m.2 .2h0m0-.4h0m1 1.4h0m.6-1h0m.7-.5h0m0 1.6h0m.2 .1h0m.5 .2h0m0-.8h0m.2-1.5h0m.5-.3h0m.2 0h0m.8 1.4h0m.4 .5h0m0-1.3h0m.5 1.1h0m.4-1.7h0m.5 .2h0m0 .9h0m.1-.3h0m.1-.9h0m1.3 .4h0m1 .7h0m1-.3h0m.2 .8h0m.3-1.6h0m1.7 2h0m.8-.5h0m-89 2.9h0m.5-1.5h0m0 2.4h0m.9 .5h0m.6 0h0m.1-.2h0m0-.7h0m.3-.7h0m.4-.1h0m0 1.7h0m.2-1.4h0m.1 .6h0m.2-.5h0m.1-1.1h0m0 1.9h0m0-.7h0m0 .5h0m.5-2.1h0m.2 1.4h0m0-.5h0m0 1.2h0m.3-1.1h0m.2 1.7h0m.7 0h0m0-1.1h0m0 .1h0m0-1.5h0m.1 2.4h0m.2-1.5h0m2.1 1.1h0m6.8-2.2h0m5.4 .9h0m36.1 .6h0m2-.3h0m.4 .8h0m1 .4h0m.4-.4h0m.1 .6h0m.4-.2h0m1-.4h0m.2-.3h0m1.4 .3h0m.1-.5h0m.4-.1h0m.5 .2h0m.1-.2h0m.2-.6h0m.5 1h0m.2-1h0m.2 1.2h0m0 .8h0m0-2.8h0m.2 .5h0m.3 1.9h0m.2-1.4h0m.4-.3h0m1.4-.7h0m.1 2.9h0m.4-1.7h0m.4 .9h0m.1-1.1h0m.1 1h0m.3 .1h0m.5-.3h0m1-.4h0m0-.3h0m.2 1h0m0-.2h0m.6 0h0m.1-.8h0m0 1.1h0m.1-1.3h0m.1-.3h0m.1 1.7h0m.2-.2h0m.1-1.2h0m0-1h0m.7 .4h0m.1 1.3h0m.2 .2h0m0-.9h0m0-.3h0m.3-.2h0m.6 2.3h0m.2-2.2h0m.2 1.8h0m0-2h0m1.1 .2h0m.8 .1h0m.5-.6h0m.1 1.2h0m1.8 .9h0m1.7 .5h0m.6-1.8h0m.9 .2h0m3.8-.9h0m-84.6 3.3h0m.2 2h0m.1-1.1h0m0-1h0m.7 2.2h0m.7-.3h0m.3-1.7h0m0-.2h0m.2 2.2h0m.1-.9h0m.2 .5h0m0-.6h0m0-1.4h0m.3 2.6h0m0-1.4h0m.1-1.2h0m0 .3h0m.1 1.2h0m0 .8h0m0-.1h0m.1-1.4h0m.1 2h0m.1-1.9h0m0 .7h0m.2 .5h0m.1-2h0m0 1.6h0m.1-1.3h0m.1 2.2h0m.1-2.4h0m.1 1.7h0m.1-.4h0m0-.1h0m.1 .1h0m0-.5h0m.3 1.3h0m.1 .4h0m0-1.9h0m.1 1.1h0m.1-.9h0m.3 1.7h0m1.3-.8h0m1-.8h0m3.6 .3h0m7 .6h0m6.7-1.8h0m13.7 .7h0m5.8 .7h0m1.1 .2h0m1.7 .6h0m.6-.5h0m.2-1.3h0m.6 1.7h0m3.1-1.2h0m.6 1.1h0m.1-2h0m.4 1.4h0m.1-1.2h0m.4 0h0m.7 0h0m0 1.3h0m.1 .7h0m1.5-.1h0m.6-.6h0m.4-.9h0m.3 1.6h0m.1-1.8h0m0 1.4h0m.4-1.3h0m0 1.6h0m.2-2.1h0m.2 2.3h0m0 .1h0m.1 .1h0m.1 .1h0m.3-.9h0m.1 0h0m.3 .1h0m.4 .4h0m0-.3h0m.4-.6h0m0-.7h0m.1 .7h0m.1 .8h0m1-.9h0m.2 .7h0m.2-.6h0m.1-.9h0m.2 1.7h0m0-1.2h0m.4 1h0m.3-1.7h0m.3 .4h0m0 .3h0m.3 1.1h0m.2-2.1h0m.1 .7h0m.2-.2h0m.1 .6h0m.2-.1h0m.8-1h0m.3 2.6h0m.1-2.2h0m.4 1.3h0m.1 .6h0m.6-2.1h0m.4 1.2h0m.8 0h0m1.1-.4h0m.3-1.1h0m.3 2.2h0m1-1.6h0m.4 .2h0m.4 1.4h0m.2 .2h0m1.3-.2h0m.3-1.8h0m2.7 .8h0m2.2-.5h0m5.6 .7h0m-85.7 1.6h0m3.8 2.1h0m.1-.5h0m.6-1.5h0m0-.1h0m.1 1h0m.1 1.6h0m.1-1.7h0m0 1.4h0m.2-1.9h0m.1 .6h0m.2-1.1h0m0 2.1h0m0 .8h0m.1-.1h0m.2-1.3h0m0 .2h0m0 .5h0m.1-1.5h0m.1 .2h0m0 1.4h0m.1 .5h0m0-1.9h0m.1 1.1h0m0-2h0m0 0h0m.1 2.1h0m0-.3h0m0-.6h0m.1-.4h0m0 .7h0m.1-.7h0m0 1.2h0m.1 .2h0m0-2h0m.1 2h0m0 0h0m0 0h0m0-.3h0m0 .9h0m.1-.6h0m.1 .5h0m0-2.4h0m.1 1.9h0m.1 .1h0m0-1.1h0m.1 .6h0m.1-.8h0m.1 1.8h0m.3-1.5h0m.3 1.3h0m0 .2h0m.1-2.3h0m0 2.4h0m0-1.8h0m.1-.7h0m.5 1.5h0m.1-1.7h0m.2 1.7h0m.2-.2h0m0 0h0m.4-.5h0m.8-.7h0m.6 2h0m7.4-2.5h0m5.7 0h0m.7 2.5h0m.9 0h0m.7 0h0m.6-2.5h0m.5 2.8h0m3-2.1h0m3.5 1h0m2.6 1h0m1.1-.8h0m2.7 0h0m.1-1.9h0m1.9 2.9h0m.1-1.1h0m.7 1h0m.3-.6h0m.2 .5h0m.9-1.9h0m.5 1.1h0m0 .2h0m.5-1.1h0m.5 1.5h0m.3-.9h0m1.3 .7h0m0 .2h0m.1 .2h0m.1-.2h0m.5 0h0m.1-1.4h0m.1-.9h0m.4 .3h0m0 2.3h0m1.2-2.9h0m.2 0h0m.3 2.1h0m.1 .7h0m.4-1.9h0m.5 .7h0m.9 1.2h0m.1 .1h0m1.2-1.3h0m0 .6h0m.1-2h0m.1 2.1h0m.1-1.6h0m.2 2.3h0m.3-1.8h0m.2 .5h0m.1 0h0m0-.3h0m.2-1h0m0 1.2h0m0-1.2h0m.1 1.7h0m.1-1.5h0m.1 2h0m.4-1.9h0m.4 2h0m.8 0h0m.1-2.1h0m.6 1.8h0m.6-1.4h0m.2-.1h0m.8 1.8h0m.7-2.4h0m.1-.1h0m.5 1.8h0m.2-1.1h0m.6 0h0m.5-.3h0m.8 .1h0m0 2.2h0m.3-2.9h0m.4 .8h0m.4-.3h0m.6 1.7h0m.1-1.5h0m.7 .6h0m.2-.8h0m1.5-.1h0m.7 1.6h0m1.5-.2h0m-66.3 2.7h0m.2-1h0m1.1-.2h0m.2 0h0m.1 1.1h0m.2-.5h0m.1 1.2h0m0-1h0m0 1.2h0m.2-.3h0m.1 .1h0m0-1h0m.2-.7h0m.2 2.1h0m0-1.3h0m0 1.1h0m.2 .4h0m.1-1.3h0m.1 .2h0m0-1.5h0m.1 2.3h0m0-.6h0m0-.7h0m.2 .1h0m0 .4h0m0-1.4h0m0 .2h0m.1 1.4h0m0 .1h0m0-.7h0m0-.7h0m.2 2.4h0m0-.7h0m0-.3h0m.1-1.4h0m0 1.4h0m0 1h0m.2-1.9h0m.1 .8h0m.1 .2h0m0-1.4h0m.1 .3h0m.1 1.6h0m.1-2h0m0 .4h0m.1 .4h0m0-.6h0m0 2.3h0m0-.1h0m0-1h0m.1-1h0m0 .8h0m.1 .6h0m.1-.8h0m0 1.2h0m0-1.6h0m.1 1.8h0m0-1h0m.1-1.8h0m0 1.3h0m.1-.1h0m0 1.2h0m.1-.9h0m0 1.3h0m0-2.1h0m.1-.4h0m0-.2h0m0 1.3h0m.1 .2h0m.1 0h0m.1 .1h0m0 .6h0m0-1.8h0m0-.4h0m.2 .1h0m.2 1.8h0m0-.2h0m.1 .1h0m.1 .2h0m0 0h0m.1-.5h0m0 0h0m0 .5h0m0-1.7h0m.1 0h0m0 .2h0m0 1.7h0m.1-1.6h0m0 .9h0m0-.2h0m.1 1.4h0m.1-2.3h0m0 1.8h0m0-.8h0m0 .6h0m.1-.3h0m.2 .6h0m.1-.5h0m.2 .8h0m0-2.5h0m.3 2.5h0m0-1.4h0m0 .4h0m5.2-1.6h0m0 2.2h0m1.8-2.4h0m.1 2.6h0m3.8-.7h0m.8-.4h0m1.9 0h0m1.2 1.2h0m.2-1.3h0m.9 1.4h0m.3-.7h0m.9-.4h0m.2 .3h0m.9 1h0m0-.1h0m.2-.1h0m.2-2.6h0m.9 1.4h0m.1 1.4h0m.4-2.6h0m.1 .5h0m.1 1.8h0m.6-2.3h0m.8 2h0m.1-.4h0m.5 .2h0m.1-1.1h0m1 1.5h0m0-1.4h0m.1 1h0m.5-1.9h0m.7 1.5h0m.1 .5h0m.3-1.8h0m.1 .8h0m.7 1.4h0m.3-.7h0m.1-.5h0m.8-1h0m0 0h0m.4 .1h0m0-.3h0m.5 .7h0m.2 .4h0m.4 .1h0m.2 1.3h0m.1-.7h0m.7 .4h0m.1-1.8h0m.3 1.3h0m.3 .6h0m.2-1.7h0m0 1h0m.1-1.1h0m.1 1.8h0m.1-.2h0m.1-.8h0m.1 1h0m.1-1.5h0m.3-1h0m.3 2.8h0m.1-.6h0m.2-.3h0m.4 .7h0m.1-.6h0m.9-1.8h0m.1 2.6h0m.2-1.8h0m.1 1.3h0m.1-.1h0m0-.7h0m.4 0h0m.7-.6h0m.1 1h0m.2 .2h0m.6-.5h0m.4-.2h0m.2-1.2h0m0 1h0m.2 .3h0m0-1.2h0m1.1 .1h0m.3 1.2h0m.1-1.5h0m1.4 2.5h0m.1-1.5h0m.5 1.6h0m.3-1h0m.4 .6h0m.4 .5h0m.4 0h0m.1-.7h0m.2-1.4h0m.9-.2h0m.3-.3h0m0 1.1h0m.8-1.2h0m.2 1h0m0-.2h0m.1-.2h0m.7 .3h0m.6 .3h0m.4-.7h0m.5 .2h0m.7-.4h0m.6 1.7h0m.6-1.4h0m2.1 .8h0m.1-.8h0m-56.7 5.2h0m0-2.4h0m1 1.7h0m0-.4h0m.3 1.1h0m0-1h0m.1 .7h0m.3-1.2h0m0-.8h0m.1-.7h0m.2 .7h0m.1 .1h0m0 .5h0m0 0h0m.2 1h0m.1-.6h0m0-1.1h0m.2 1.7h0m0 .4h0m0-2.6h0m0 2.3h0m0-.5h0m.1 0h0m.1 .9h0m.1-1.9h0m0-.1h0m0 .7h0m.1-1.1h0m0 1.3h0m0 .3h0m0-1.4h0m.2 0h0m0 2.4h0m0-1.2h0m.1 .8h0m0 .1h0m.1-1.3h0m0-.8h0m.1 .4h0m0-.4h0m.1 .4h0m0 1.2h0m.1-1.4h0m0-.7h0m0 .9h0m0 .9h0m.1 .7h0m.1-1.9h0m0 .8h0m.1-.8h0m0 .9h0m0 .7h0m0-1h0m0 0h0m.1 0h0m0-.2h0m.1 1.2h0m0-.7h0m0 .6h0m.2 0h0m0-1.6h0m0 1.5h0m.1-.4h0m.1-1.2h0m0 2.3h0m.2-2.2h0m0 1.2h0m.1-.5h0m.1-.5h0m0 2.1h0m.1-.6h0m0-.7h0m0 .7h0m.1 .3h0m0-.8h0m.1-1.8h0m.3 2h0m.1-.1h0m0 .9h0m0-2.3h0m.1 .1h0m0-.2h0m.1 .7h0m0 1.1h0m.1-.6h0m0 1h0m.6-2h0m0 1.3h0m0-.5h0m.1 .6h0m.1-1h0m.3-.1h0m0 1.9h0m.4-2.7h0m.3 1.1h0m.3-.8h0m.7-.1h0m1.1 .9h0m.3 .6h0m1 .3h0m.6-.4h0m.3-.6h0m.1 1h0m.3-1.7h0m.3 .8h0m.3 .7h0m.5 .1h0m.1-1h0m.4 1.4h0m.1-.3h0m.5 .5h0m0-2.1h0m.1 1.1h0m.2-.5h0m.1 .9h0m.2 .7h0m.2-.5h0m.2 .7h0m.1-1h0m.2 .9h0m.5-2.7h0m0 .7h0m.1-.2h0m.1 1.8h0m.2 .4h0m.1-1.9h0m.1 1.5h0m.1-1.1h0m.3 1.7h0m.2-1.6h0m0 1.4h0m.7-1.6h0m.2 1.3h0m.1-1.9h0m0 .4h0m.2 1.4h0m.2 .2h0m.2-.3h0m0 .2h0m.2-.2h0m.1-2.1h0m.2 1.6h0m0 1.1h0m.3-2.6h0m.1 1.7h0m.7-.4h0m.4 1.2h0m.1-.4h0m.5-1.5h0m.1 1.8h0m.2-1.7h0m1.2 .5h0m0-.6h0m.4 .2h0m.3 .8h0m0 .9h0m.2-2.7h0m.1 1.2h0m0 .1h0m.1-1.1h0m.3 1.9h0m.3-1.8h0m.8 2.1h0m.1 0h0m.2-.1h0m.2 .1h0m.1 .1h0m.1-1.7h0m.1 1.3h0m0-.4h0m0-1.1h0m.3 1.1h0m.5-1h0m.2 1h0m0-1.2h0m.3 1.6h0m.1 .2h0m.3-1.5h0m.1 .8h0m.1-.9h0m.2 .2h0m.7 .5h0m.3-.4h0m.4-.9h0m.2 1.9h0m0 .3h0m.1 .2h0m.5-1.1h0m0-.2h0m.1-.6h0m.1 2h0m.2-2.6h0m.6 .5h0m.2 2.1h0m.1-2.5h0m.3 2.8h0m0-2.7h0m.4 .9h0m.1 .9h0m0-.8h0m0 1.6h0m.1-1.6h0m0 .5h0m.1 .4h0m.1-1.2h0m.1 1.6h0m0-2.3h0m.5 0h0m.4 1.6h0m.2-1.7h0m.1 1.3h0m.9 1.2h0m0-1.7h0m.2 .1h0m.5 .8h0m.2 .7h0m.4-1.2h0m.1-.8h0m.3 .7h0m.1 .7h0m0-1.9h0m.8 2.1h0m.3-1.1h0m.1-.5h0m.2 1h0m.1 0h0m.3 .3h0m.8-1.1h0m.1-.2h0m0 2h0m.1-2.2h0m.1 2.2h0m.2-.8h0m.2-.3h0m.1-1.5h0m0 2.6h0m.3-2h0m.1 1.5h0m0-1.8h0m.3 2.2h0m.3-.2h0m0-2.2h0m.2 1.8h0m.9-1.6h0m.7 .8h0m.6 1h0m.3-1.1h0m2.3-.2h0m.3-.4h0m1.8 2h0m1.8-2h0m-50.5 3h0m1.5 2.1h0m.5-.8h0m0 .2h0m0-.1h0m.1-.4h0m0-1.3h0m.4 0h0m0 .5h0m0 .3h0m0 1.7h0m.1 .2h0m0-2.4h0m0 1.3h0m0-1.6h0m0 .7h0m.1-.8h0m0 1.4h0m.2 .6h0m.1-.9h0m.1 .3h0m.1-.5h0m.1 .7h0m0 .2h0m0 0h0m.2-.7h0m0 .3h0m0-.4h0m.1 1.3h0m.1-2h0m0 1.8h0m0-.2h0m.1 .6h0m.1-.3h0m0-2.1h0m.1 2.5h0m0 .1h0m0-.8h0m0-.1h0m0 1h0m.1-2h0m0-.6h0m.1 2.3h0m.1-1.7h0m.1 .8h0m0 1.4h0m0-1.7h0m0-.3h0m.1 1.3h0m.1-.9h0m.1-.3h0m0 1h0m0-.2h0m0-.1h0m.2-.6h0m0 .7h0m0 .8h0m0-1.1h0m0-1.1h0m0 .2h0m0 1.7h0m.1-1.9h0m0 .1h0m0 1.4h0m0-.4h0m0 1h0m.1-2.3h0m0-.3h0m0 .6h0m0 1.8h0m0-1.6h0m0 1.1h0m0 .2h0m.1-1.4h0m0-.3h0m0 1.1h0m.1-.6h0m.1-.9h0m.1 .4h0m0 .6h0m0 1.9h0m0-.2h0m.1-1.5h0m0 .4h0m.1-.3h0m0 .3h0m0 1.1h0m.1-2.3h0m0 .2h0m.1 1.1h0m.2-1.3h0m0 1.1h0m0 1.3h0m0-.5h0m.1 .7h0m0-2.4h0m.3-.5h0m.1 2.5h0m.2-1.6h0m.1-.9h0m.1 2.9h0m0-.1h0m.1 0h0m.1-1.4h0m0 1.4h0m0-2.8h0m.1 2.6h0m0-2.4h0m.2 2.2h0m0-1.8h0m.3 .5h0m.1 1.3h0m.1-.5h0m.4-.5h0m.1-.1h0m0-.8h0m.2 1.3h0m.5-.7h0m.1 .9h0m.1-1.9h0m.3 2.2h0m.1-.5h0m.3-1.2h0m.8 .8h0m0 .8h0m.1-1.5h0m.2 .8h0m.2 1.1h0m.1-1.6h0m0 .9h0m.1-.2h0m.1-1.2h0m.3 1.4h0m0 1h0m.1-1.8h0m.3 1.1h0m.1-1.2h0m.1-1h0m.1 .3h0m0 2.5h0m.2-1.3h0m.1-.2h0m.2-.4h0m.1-.7h0m.2 .8h0m.1 .8h0m0-.6h0m.2-1h0m0 1.7h0m.1-.6h0m.1 .6h0m.1-.3h0m.2 .9h0m.1 .3h0m.3-.4h0m.3-2.3h0m.2 .8h0m.2 .8h0m.1-.9h0m.1 .6h0m0 .8h0m0 .6h0m.1-2.5h0m.2 1.4h0m0-1.5h0m.1 0h0m.3 .4h0m0 .6h0m0 1h0m.2 .4h0m.3-1.8h0m.2 .8h0m0 .4h0m.1 .6h0m.4 .3h0m.1-.9h0m.2-.1h0m.4-1.2h0m0 2h0m.1-1.7h0m.4 0h0m.1-.5h0m0 1h0m.3 1.3h0m.2-2.3h0m0 .8h0m.5 1h0m0 .1h0m.1-.3h0m.2-1.7h0m.3 1.4h0m0 .2h0m.3-1.4h0m.1 1.1h0m.1-1.8h0m.7 .6h0m.1 .4h0m.2-.5h0m.2 1.3h0m.1-.8h0m.1 1.6h0m0-.9h0m.2 .8h0m0-2.5h0m.3 1.5h0m0 1.4h0m.1-1.8h0m0 0h0m.6-.1h0m.3 1.5h0m.5-.5h0m1.2-1.7h0m.4 1h0m.1-1.3h0m.2 1.9h0m.2-.5h0m.1-1.1h0m.4 2.1h0m.2-2.3h0m0 2.4h0m.8 .4h0m.7-1.8h0m.6-1.1h0m.2 1.4h0m.2-.6h0m.2 1.8h0m.2-.7h0m.5-1.2h0m.5 2.1h0m.9-1h0m.3-.6h0m.6-.6h0m2.7-.2h0m.6 0h0m.2 .2h0m.9 1h0m.4-.8h0m.5 .2h0m1.3 .9h0m3.7-.9h0m-47.1 5h0m7-2.8h0m0 .6h0m.1-.5h0m0 .3h0m.1 .4h0m.4-.2h0m.2-.8h0m.1 .4h0m.3 .6h0m0-.6h0m0 2h0m.5-1.8h0m0 2.3h0m.1-1.5h0m.1 1.1h0m0-.6h0m.2-.1h0m.1 .8h0m0-2.5h0m.1 1.7h0m0-1.1h0m.1 1.2h0m0-.2h0m.2-1.1h0m0 2h0m.1-1.1h0m0-.8h0m0-.4h0m.1-.3h0m.1 1h0m0 1.1h0m.2-.5h0m.1 0h0m0 0h0m0-.4h0m.1-.2h0m.1 .5h0m.1 .4h0m0 .7h0m.2-1.7h0m0 1.8h0m.1-1.1h0m.2-1h0m.3-.5h0m0 .6h0m.1 2.1h0m0-1.7h0m0 .3h0m.1 1h0m.1-2h0m0 2.4h0m.4-1.6h0m0-.2h0m.2-.3h0m.1 1.9h0m0-.5h0m.3 .5h0m.2-2.5h0m0 1h0m.1-.9h0m0 2.1h0m.1-1.5h0m.1 2.2h0m.1-2.3h0m0-.6h0m.3 0h0m0 2h0m.1 .8h0m.1-.4h0m0-1.9h0m.1-.4h0m.3 1.4h0m.1-.7h0m0 1.7h0m.1-1.8h0m0-.1h0m.1 1.8h0m.2-1.8h0m.1-.2h0m0 .9h0m0-.4h0m0 .5h0m.1 .8h0m.2-1.3h0m.1-.1h0m0 .9h0m0 .8h0m0-1.6h0m.2-.7h0m.1 0h0m.2 2.1h0m.1-2.2h0m0 .2h0m.2 1.6h0m.1-.6h0m.2 .9h0m.2-2.2h0m0 1.3h0m0-.4h0m0-.9h0m.2 0h0m0 .3h0m.2 2.5h0m0-.5h0m0 .4h0m.1-.3h0m.1-2h0m.3 .6h0m.1 1h0m0-.7h0m0 .8h0m.1 .4h0m0 .3h0m0 0h0m0-1h0m.1-.7h0m.3 1.8h0m0-1.9h0m.1 .1h0m.3 1h0m.2-.8h0m.3 1.5h0m.1-2.2h0m.1 .5h0m.4 1.1h0m0 .2h0m.1-.7h0m0-.2h0m.2-.7h0m.2 .1h0m.4 1.3h0m.6-1.5h0m.1 .8h0m.1 0h0m.1 .7h0m.1-.2h0m0-1.2h0m.2 .2h0m.2 .1h0m.3 1.3h0m.4-2.5h0m.4 0h0m.2 .5h0m.2 .7h0m.3-.8h0m0 .7h0m.4 0h0m.3-.1h0m.2 1.1h0m.7-1.7h0m0 1.2h0m.4-.3h0m.2-.7h0m.2 .7h0m.5 1.1h0m.2-1h0m.5-.4h0m.9 0h0m3.6 1.9h0m2.7-1.1h0m.5-1h0m.7-.7h0m.3 .7h0m-36.1 4.2h0m5-.9h0m.8 .8h0m.1 .1h0m.3-.9h0m1.5 1.3h0m.2-1.2h0m.2-.5h0m.2-.6h0m.1 .2h0m.1-.1h0m0 2.5h0m0-.9h0m.2 .6h0m.1-2.2h0m.2 .6h0m.2 1.1h0m.2-.9h0m.3 .9h0m0-1.8h0m0 .4h0m.2 .3h0m0-.2h0m0 1h0m0-.1h0m.1-.1h0m0 0h0m.1 .6h0m.2 .1h0m.1-2h0m0 0h0m.1 2.2h0m.1-.6h0m0 1.3h0m0-.1h0m.3-2h0m.3 1.2h0m.2-1.8h0m0 .4h0m0 1.5h0m.1-.9h0m.1-.4h0m.2 1.7h0m.1-2.3h0m.2 2.1h0m.1-1.7h0m0 2.2h0m.1-.6h0m.1 .2h0m.1-1.4h0m0 1.5h0m.2 .2h0m0-1.1h0m0 .3h0m.1 0h0m.2-1.7h0m0 2.6h0m0-2.7h0m.1 2h0m.1 .4h0m.4-.7h0m.1-.8h0m.1 1.3h0m.3 .1h0m0-.6h0m.2-.2h0m.1 .5h0m.2-.5h0m0-.4h0m.1 1.5h0m.3-2.6h0m.3 1.1h0m.2 .4h0m.1-1.2h0m.1 1h0m0-.1h0m0-1h0m.1 1.1h0m.1 .1h0m.1-1h0m0 .7h0m.2-.4h0m.1 1.1h0m.1 .7h0m0-1.3h0m.2-.8h0m.1 .9h0m.1-.6h0m0 .4h0m0-.2h0m.1 1.4h0m.2-1h0m.1 1h0m0-1h0m0 1h0m.2-1.1h0m0 .5h0m.1-.1h0m.3 .6h0m0-1.8h0m0 1.5h0m.1-1.6h0m0 1.2h0m.3-1.2h0m.2 1.7h0m.3 .4h0m.4-.3h0m0-.3h0m.1-1.9h0m0 2.1h0m0 .4h0m.3-1.1h0m.5-.7h0m.1 .2h0m.3-.9h0m.3 2.6h0m.1-.2h0m.2-.7h0m.4 .1h0m0-1.1h0m.5-.3h0m.2 .4h0m.2 .5h0m.6-.3h0m-19.1 4.7h0m.3-2.6h0m.4 1.2h0m1.1 .6h0m.6-1.4h0m.1 2.2h0m0-1.2h0m0-.6h0m.6 1.1h0m.2 .2h0m.1-1.8h0m.3 1h0m.4 1h0m0 .1h0m.6-1.9h0m0 .9h0m.3 .4h0m.3 .2h0m0-2.1h0m.2 .5h0m.2-.2h0m.2 2.6h0m.2-.2h0m0-.8h0m.3 1h0m.2-.9h0m.1 .5h0m0-2.5h0m0 2.7h0m.1-1.9h0m.2 1.2h0m.2-.8h0m0-1.1h0m0 1.9h0m.1-1.8h0m.1 1.6h0m0-1.3h0m.1 2.1h0m0-1.4h0m0-.5h0m0 2.2h0m0-2.9h0m.1 .1h0m.3 1.5h0m0 .3h0m0-.7h0m0-.2h0m.1 .6h0m.1-1.5h0m0 2.7h0m.1-1.2h0m0-1.6h0m.1 .5h0m0 .5h0m0-1h0m.1 2.1h0m0-.7h0m0 1.4h0m.1-2.9h0m0 1.6h0m.1 .4h0m.1 .2h0m0 .2h0m0 .1h0m0 .3h0m.1-.7h0m0-.9h0m0-.3h0m.2-.4h0m.1 1.8h0m.1-1.6h0m.1-.5h0m0 .4h0m.1 1.7h0m0-.3h0m0-1.7h0m.1 1.5h0m0 1.1h0m.1 .1h0m0-1.6h0m0-1.3h0m0 1.8h0m.1 .3h0m.1-.5h0m0-.6h0m.1 1.1h0m0-.3h0m0 .7h0m.1 .3h0m0-2.1h0m.1 1.6h0m0 0h0m0 .1h0m.1-.4h0m.1-.6h0m0-1.5h0m0 .6h0m0 .2h0m.1-.2h0m.1 2h0m.1-.1h0m.1-.4h0m.1 .6h0m.1 .1h0m.1-1.1h0m.1 .6h0m0-2.1h0m.1-.1h0m0 1.2h0m.1-1h0m0 1.2h0m0-.5h0m0 .4h0m.1 .5h0m.1-.7h0m.1-.6h0m0 1h0m0-.3h0m.1 .3h0m0-1h0m.1 2.3h0m.2-2.6h0m.1 1.6h0m0 .9h0m.1-.7h0m0 .7h0m.1-.1h0m0-1.7h0m0 1.1h0m0 .6h0m.2-1.5h0m.2 .4h0m.1-.3h0m0 1.3h0m0-1.1h0m.2-1.1h0m0 1.1h0m0-1.2h0m.2 .5h0m0 .5h0m.2-.4h0m.1 1.3h0m0-.2h0m.1-1.2h0m.1-.3h0m0 1.7h0m0-.9h0m0-.3h0m.1-.5h0m.1-.5h0m.2 1.3h0m.1-1h0m0 .9h0m.1 .9h0m.2-.4h0m.3 .8h0m0-1.8h0m.1 .4h0m.2 1.7h0m.1-1.6h0m0-1.2h0m.1 1.2h0m.3 1.5h0m0-.3h0m.5-.3h0m.2 .9h0m.2-.7h0m0-1.1h0m0 1.5h0m.2-2.2h0m0-.3h0m.5 2.2h0m.1-1.4h0m.9-.7h0m1.1 1.1h0m.9 1.2h0m-24.7 2.5h0m7.1 .4h0m.4-.5h0m.2 .4h0m.5-2.1h0m.2 .9h0m.7 .7h0m0-1.6h0m.1-.1h0m.2 .4h0m.1 .4h0m.4 1.6h0m0-.6h0m0-1h0m0 .1h0m.7-.6h0m.1 2.2h0m0-.1h0m.2-1.7h0m.1 2h0m0-1.5h0m.2 1.1h0m.1-1.5h0m.6 1.4h0m.1-2.1h0m0 .1h0m.2 2.5h0m.1-.3h0m0-1.4h0m0 1h0m0 .5h0m0-.4h0m.1-2.2h0m0 1.6h0m.2-.6h0m.3-.2h0m0 .6h0m.2-.5h0m0 1.3h0m.1-1.8h0m.1 2.2h0m.2-1.3h0m0-.6h0m0 1.9h0m.1-2.7h0m.1 1.9h0m0-1.7h0m0 .9h0m.2 1.8h0m0-1h0m.3-.4h0m0 0h0m.1 .7h0m0 .5h0m0-1.9h0m.1-.7h0m0 2.7h0m.1-2.2h0m0 1h0m0 .1h0m0-.9h0m.1 .1h0m0 .6h0m0-.6h0m0 1.4h0m.2-.4h0m.2-1.1h0m0 1.8h0m0-2.2h0m.2 .8h0m0 .1h0m.1 .8h0m0-.6h0m0 .9h0m.1-.7h0m0-1h0m0 1.1h0m0-.3h0m0 0h0m.1-1.2h0m0 .6h0m0 .4h0m.1-.1h0m0 1.1h0m0-2.2h0m0-.1h0m.1 1.8h0m0 .5h0m0-1.6h0m.1-.1h0m0 2.3h0m0-2h0m.1 .8h0m0-1.6h0m.1 .5h0m0 2.2h0m0-.3h0m.1 .1h0m0-.1h0m.1-.9h0m0-.5h0m.1 .1h0m.1 .6h0m.1-1.2h0m0 .3h0m0 .7h0m0-1.2h0m.1 0h0m0 .9h0m.1 1.1h0m.1 .3h0m0-.4h0m.1-1.4h0m0 1.7h0m0 .2h0m0 0h0m.1-.6h0m.1-.7h0m0 .5h0m.2 .3h0m0-2.2h0m.1 1.9h0m.1 0h0m0-1h0m0 1h0m.1-1.8h0m0 .3h0m0 2.1h0m0-2.4h0m.1 .8h0m0 .1h0m0-1h0m0 2.3h0m0-1.8h0m.1 1.5h0m0-2.1h0m0 .9h0m.1 .7h0m0-1.6h0m.1 .7h0m0 .7h0m0 .5h0m.1 1.1h0m0-2.4h0m.1 1.8h0m0-1.7h0m.1 1.2h0m0-.8h0m.1 .8h0m0-.6h0m.1-.4h0m0-.1h0m0 .1h0m.2 .4h0m0 1.2h0m0-.7h0m.2 .7h0m.1-.7h0m0 0h0m0 .3h0m.2-1.9h0m.1 .9h0m.1-.1h0m0-.2h0m.2-.4h0m.1 .6h0m.1 1.5h0m.2-.6h0m0 .5h0m0-.5h0m0 .6h0m.3 .2h0m.2-1.5h0m0-1h0m.2 .3h0m0 1.9h0m0 .3h0m.1-.3h0m0-2.3h0m.1 .7h0m.3 1.7h0m0-.6h0m.1-1.8h0m0 2h0m.1 0h0m.1 .4h0m.1-.6h0m0 .9h0m.2-2.1h0m0 .3h0m0 .6h0m.2 .1h0m.1-.4h0m.2-.1h0m.1 .9h0m.2 .6h0m.2-.2h0m0-2.4h0m.5 2.5h0m.2-.4h0m.4-.3h0m3.3-.5h0m.9-.1h0m-21.8 2.1h0m.2 2.5h0m.4-.5h0m.7-.2h0m.5-1.3h0m.3-.7h0m.3-.1h0m.4 2.5h0m.2-.6h0m.3 .5h0m.5-.3h0m.4-.9h0m.2-.5h0m.2 .7h0m.1 1.2h0m.1-2.1h0m0-.3h0m0 .5h0m0 1.9h0m.2-1.2h0m.2-.6h0m.2-.3h0m0-.1h0m.2 2h0m0-.5h0m.1-1h0m.1 .3h0m.1-.3h0m.1-.7h0m.2 1h0m.1 1h0m.2-1.1h0m0 1.6h0m.1-.9h0m.4-1.4h0m0 0h0m.1 0h0m.1 2.4h0m0-.6h0m.1 .3h0m0-.8h0m.2-.3h0m.1-.8h0m.1 1.2h0m0-.2h0m.2-1.5h0m0 1.6h0m.2-1h0m0 .4h0m0 .3h0m.1-1.1h0m.1-.3h0m.1 2h0m0 .1h0m0-1.8h0m.1 1.8h0m0-1.4h0m.1-.2h0m0 .4h0m0 1.4h0m.1-2.4h0m0 1.9h0m.1-1.5h0m.1 2.3h0m0-2.6h0m0 2.6h0m.1-2.5h0m.1 1.4h0m.1 1h0m0-2.2h0m0 .7h0m0-.7h0m.1 1.1h0m0-.3h0m.1-.5h0m.2 .7h0m0-1h0m0 2h0m0-1.9h0m.1 1.3h0m0-1.5h0m.1 2.2h0m.1-1.5h0m0 1.4h0m.1 0h0m0 0h0m.1-1.6h0m.3 2.1h0m0-2.3h0m.1 .2h0m.1-.1h0m0 0h0m0 .9h0m.2-1.4h0m0 .7h0m.1 .3h0m0 1.1h0m0-1.7h0m0 2.3h0m.1-.7h0m0 .5h0m.1-2.6h0m0 .7h0m0 1.7h0m.1-2.3h0m0 .8h0m0-.5h0m.2 2.4h0m.1-.6h0m0-.5h0m.2-1h0m0 .1h0m.1 1.3h0m0-1.2h0m0 .7h0m0 .9h0m.1-.8h0m0-1.1h0m0 .1h0m.1-.2h0m0 2.3h0m0-1h0m.1-.6h0m.1-1.1h0m0 1.1h0m.1 1h0m0-.8h0m0-.4h0m.1-.9h0m.1 .5h0m0 .6h0m.1 1.3h0m.1-1.5h0m.1-.3h0m0 .4h0m0-.1h0m.1-.3h0m0-.5h0m0 2.4h0m.1-.4h0m.2-.4h0m0-1.4h0m0 1.5h0m0-1.3h0m.3 1.3h0m0-1.6h0m0 1.2h0m.1 1.4h0m0-3h0m0 1h0m.2 1.2h0m.2-2h0m.1 .6h0m.1 1.8h0m.1 0h0m.2-.4h0m0-.8h0m.2 1.4h0m.1-.6h0m0-2.1h0m.2 2.1h0m.1-2.1h0m0 1h0m0 1.3h0m.1-1.2h0m.3 1.2h0m.1 .4h0m.3-.2h0m0-.6h0m.2-.5h0m.1 1h0m.3-.3h0m.1-.4h0m.1 .7h0m0-2h0m.1 2.2h0m0-2h0m.1-.7h0m.2 1.1h0m1.7 1.3h0m.4-1.3h0m.1 .7h0m-17.7 3.6h0m1.2-1.6h0m.9-.5h0m.2 2.2h0m0-.8h0m.1 0h0m.1-1.5h0m0 .4h0m.2 .8h0m.1-.2h0m.2 .7h0m.3 .2h0m0-.3h0m.1 .6h0m.9-2h0m0 .7h0m0 1.4h0m.3 .2h0m.1-.7h0m0-.7h0m.4-.3h0m0 .7h0m0 .7h0m0 0h0m.2-.1h0m.1-1.4h0m.4 1.5h0m0-2.2h0m.3 1.9h0m.2 .6h0m.1-2.7h0m.1 2.2h0m.1-2.1h0m0 1.1h0m0 1h0m.1 .3h0m0-1.8h0m.1 2.1h0m0-2.1h0m.2 0h0m.1 1.1h0m.1-.6h0m0 1.7h0m0-2.8h0m0 .4h0m.3-.3h0m0 .7h0m.1 1.4h0m.1-1.9h0m0 .9h0m0 .3h0m.2 .9h0m.1 .2h0m0-2.5h0m.1 1h0m.2 1.6h0m0-2.1h0m.1-.3h0m.1-.3h0m0 .2h0m.2 .4h0m.2 2h0m0-1.8h0m.2 1.6h0m.1-2.3h0m.1 1.7h0m.2-1.1h0m0-.4h0m.1 1.1h0m0-.9h0m.3-.3h0m.1 .2h0m0 .2h0m0 2h0m.1-1.3h0m.1-.2h0m.1 .3h0m0-.9h0m.1 .7h0m.1-.8h0m0 .6h0m0 .2h0m0 1.4h0m.1-.1h0m.1-.7h0m.1-1.8h0m.1 2.5h0m0-.1h0m0-.4h0m.3-1.1h0m.1 1.7h0m0-1.5h0m0-1h0m0 2h0m0-.3h0m0 .1h0m.1-1.8h0m0 1.3h0m.1 1.4h0m.2-2h0m0 1.6h0m.2 .5h0m0-.8h0m0-1h0m.1-.2h0m.1-1h0m0 .2h0m.1 .6h0m.1 .7h0m0-.9h0m0 1.7h0m.1-1.1h0m0 1.6h0m.1-2.3h0m.2 1.7h0m0 .3h0m0-.4h0m.1 .6h0m0-.7h0m.1-.7h0m.1 .5h0m.2 .9h0m0-2.3h0m.1 1h0m0-.2h0m0 .3h0m.1 .7h0m.4-.7h0m0-.2h0m0-1.1h0m.5 2.3h0m.4-1.7h0m.1 .7h0m.3-1h0m.1-.3h0m.1 2.7h0m0-2.5h0m.3-.1h0m.2 .4h0m.3 2.2h0m.4-2.1h0m.2 1.3h0m1.1-1.2h0m0-.4h0m.1 1.1h0m.4-.6h0m1.1 1.7h0m-18.1 1.1h0m.2-.3h0m2.2 .6h0m.8-.4h0m0 1.2h0m.4-1.2h0m.1-.7h0m.2 1.5h0m.3-.5h0m0 .1h0m.2 0h0m.3 0h0m.2-.9h0m.7 2.3h0m.2-.7h0m0 .3h0m.1-1.3h0m.4 2.1h0m.1 0h0m.2-2.7h0m.2 1.4h0m.4 .8h0m.1-2.3h0m0 2.7h0m0-2.4h0m.1-.1h0m.1 2.1h0m0-1.8h0m.6 1.1h0m.3-1.1h0m.5-.4h0m.1 1.3h0m.3 .4h0m0-.7h0m.2-.7h0m0 1.4h0m.2 .4h0m.5 .5h0m.2-1.4h0m.2 .9h0m0-2.2h0m0-.1h0m.2 2.5h0m.4-2.1h0m.2 1.4h0m.2-.2h0m.1-1.3h0m.9 .8h0m0-.9h0m.3 1.4h0m.3-.6h0m.1 .5h0m.8 .8h0m.2 .4h0m.3-1.5h0m.1-.1h0m0 1.5h0m.1-1.4h0m0 .7h0m.3-.1h0m.2-1.5h0m.2 .7h0m4.9 0h0m-21 4.2h0m1.6-.3h0m.5-.2h0m.1 .5h0m.8-.3h0m.5-.9h0m.2-.9h0m0 2.6h0m0-.2h0m.3-.5h0m.1-1.2h0m.3 1h0m.1 .7h0m.4 .2h0m.4-.9h0m.1 .7h0m0-1.5h0m.2 .9h0m.1 .5h0m.5-.1h0m.1 .4h0m.1-.8h0m.7 .9h0m0-.9h0m.7-.5h0m.1 1.2h0m.1-2.5h0m.3 0h0m.4 1.8h0m.2-1.4h0m.2 1.8h0m.2-1.8h0m.1 1.6h0m.4 0h0m.5-1.3h0m.4 1.5h0m.1 .7h0m.5-2.8h0m0-.1h0m.1 1.4h0m.4-.9h0m.1 .2h0m.2 1.6h0m.3-2.3h0m.9-.1h0m1.7 2.3h0m.2 .3h0m.2-.7h0m.2-1.7h0m.4 .1h0m.4 1.1h0m0 .3h0m1.4 1h0m1.1-.4h0m0-.6h0m-18.6 2.1h0m.1-.1h0m1.3-.4h0m1 .7h0m.4 .2h0m.1 1.5h0m0 .1h0m0-1.5h0m.3 1.4h0m0 .2h0m0-2.6h0m.2 .5h0m.1 .7h0m.5 .5h0m0-.7h0m.1 0h0m0-.6h0m.1 2.2h0m.2-1.4h0m.5 .5h0m0 .7h0m.4-.2h0m0-1h0m.1-1.4h0m.2 .2h0m0 2h0m0-1.3h0m.1 1.6h0m.1-1.7h0m.1-.6h0m.1 2.6h0m.2-2.4h0m.5 1.4h0m0-.7h0m.1 .5h0m.2-1.5h0m.2 .7h0m.2 .2h0m0-1.1h0m.5 .9h0m.8 1h0m.1-1.8h0m.1 1.2h0m.7 0h0m.1-.3h0m.5-.1h0m.1-.5h0m.2 .4h0m.2 .2h0m.9-.9h0m1.8 .3h0m.2 .1h0m.3 1.9h0m5.1-.1h0m-17.6 1.6h0m.6-.3h0m.1 .6h0m.1 1.3h0m0-2h0m0-.1h0m.2 2h0m.5-1.7h0m.6-.2h0m.3 .2h0m.1 .6h0m.2-.4h0m.2 1.8h0m0-.1h0m.2 .3h0m.1-1.3h0m0 1.1h0m.1-1.5h0m.2 1.5h0m.6 .1h0m0-.9h0m.2 .7h0m.2 .3h0m.2-.7h0m.2-.5h0m0 .9h0m.6-2.2h0m.1 .9h0m.1-.6h0m.4-.1h0m.4 .7h0m.8-.3h0m-7.7 2.4h0m1 1.2h0m0 1.2h0m.1-.9h0m.9-.9h0m.2-.8h0m.3 1.6h0m.9 .4h0m.3 .4h0m.1-1.1h0m.6-1.5h0m1.4 1.4h0m.4-.1h0m.9-.6h0m.5 1.7h0m0 .6h0m-9.1 .6h0m4.1 .7h0m.6-.7h0m0 .1h0m.3 .1h0m2.4 0h0m.4 .3h0m.1-.4h0m.8 .4h0" stroke="#F8766D" stroke-width="0.85" stroke-linecap="round" fill="none" opacity=".9"/>
<path d="M239.2 138.9V267.9H353.7" stroke="#222" stroke-width="0.5" fill="none"/>
<path d="M237.9 161.3L239.2 161.3" stroke="#222" stroke-width="0.4" fill="none"/>
<text x="237.1" y="162.7" font-size="4.0" fill="#333" stroke="#333" stroke-width="0.1" text-anchor="end">20</text>
<path d="M237.9 192.4L239.2 192.4" stroke="#222" stroke-width="0.4" fill="none"/>
<text x="237.1" y="193.8" font-size="4.0" fill="#333" stroke="#333" stroke-width="0.1" text-anchor="end">10</text>
<path d="M237.9 223.2L239.2 223.2" stroke="#222" stroke-width="0.4" fill="none"/>
<text x="237.1" y="224.6" font-size="4.0" fill="#333" stroke="#333" stroke-width="0.1" text-anchor="end">0</text>
<path d="M237.9 254.1L239.2 254.1" stroke="#222" stroke-width="0.4" fill="none"/>
<text x="237.1" y="255.5" font-size="4.0" fill="#333" stroke="#333" stroke-width="0.1" text-anchor="end">−10</text>
<path d="M243.4 267.9L243.4 269.2" stroke="#222" stroke-width="0.4" fill="none"/>
<text x="243.4" y="273.2" font-size="4.0" fill="#333" stroke="#333" stroke-width="0.1" text-anchor="middle">−10</text>
<path d="M274 267.9L274 269.2" stroke="#222" stroke-width="0.4" fill="none"/>
<text x="274" y="273.2" font-size="4.0" fill="#333" stroke="#333" stroke-width="0.1" text-anchor="middle">0</text>
<path d="M304.6 267.9L304.6 269.2" stroke="#222" stroke-width="0.4" fill="none"/>
<text x="304.6" y="273.2" font-size="4.0" fill="#333" stroke="#333" stroke-width="0.1" text-anchor="middle">10</text>
<path d="M335.2 267.9L335.2 269.2" stroke="#222" stroke-width="0.4" fill="none"/>
<text x="335.2" y="273.2" font-size="4.0" fill="#333" stroke="#333" stroke-width="0.1" text-anchor="middle">20</text>
<text x="296.8" y="278.8" font-size="4.6" fill="#111" stroke="#111" stroke-width="0.1" text-anchor="middle">PC_1</text>
<text x="227.4" y="206" font-size="4.6" fill="#111" stroke="#111" stroke-width="0.1" text-anchor="middle" transform="rotate(-90.03 227.4 206)">PC_2</text>
<path d="M361.4 204.8h0" stroke="#F8766D" stroke-width="2.6" stroke-linecap="round" fill="none"/>
<text x="366.1" y="206.3" font-size="4.4" fill="#222" stroke="#222" stroke-width="0.1">seurat</text>
<text x="387" y="142.1" font-size="10.3" fill="#000" font-weight="bold">E</text>
<path d="M416.5 266.3L554.6 221.6" stroke="#222" stroke-width="0.5" fill="none" stroke-dasharray="1.4 1.9"/>
<path d="M422.1 264.5L422.1 264.5L422.1 261.6L422.1 261.6L422.1 254.6L422.1 248.6L422.1 248.6L422.1 248.6L422.1 245.4L422.1 240.1L422.1 240.1L422.5 240.1L422.5 235.2L422.5 234.8L423.2 234.8L423.2 234L424.4 234L424.4 233.6L425.1 233.6L425.8 233.6L425.8 233.1L425.8 231.1L426.1 231.1L426.3 231.1L426.3 228.6L426.3 227.4L426.5 227.4L426.8 227.4L426.8 224.6L426.8 222.9L427 222.9L427 219.9L428.5 219.9L428.5 219.5L428.7 219.5L430.5 219.5L430.5 216.7L430.5 216.2L430.8 216.2L430.8 213.7L432.5 213.7L432.5 212.8L433.4 212.8L433.4 211.5L434.7 211.5L434.7 209.8L436.5 209.8L436.9 209.8L436.9 209.5L436.9 208.2L438.2 208.2L441.3 208.2L441.3 204.5L441.3 203.2L442.5 203.2L443.6 203.2L443.6 201.9L443.6 198.1L446.9 198.1L446.9 196.1L448.6 196.1L449.1 196.1L449.1 195.6L451.4 195.6L451.4 192.9L451.4 191.4L452.7 191.4L452.7 189L454.8 189L456.9 189L456.9 187.3L456.9 186.8L457.8 186.8L457.8 185.6L460.1 185.6L460.1 185.2L460.7 185.2L460.7 184.3L462.4 184.3L465.2 184.3L465.2 181.6L466.3 181.6L466.3 180.3L468.1 180.3L468.1 178.1L470.2 178.1L470.2 175.7L470.2 173.9L471.8 173.9L471.8 172.5L474.2 172.5L475.9 172.5L475.9 171.5L480.1 171.5L480.1 169L483.2 169L483.2 167.2L483.2 165.7L485.5 165.7L487 165.7L487 164.7L487 163.7L488.5 163.7L490.6 163.7L490.6 162.3L490.6 160.4L493.2 160.4L494.9 160.4L494.9 159.2L495.6 159.2L495.6 158.7L495.6 157.6L497.2 157.6L497.2 156.5L498.8 156.5L500.4 156.5L500.4 155.4L500.4 154.9L501.1 154.9" stroke="#E76BF3" stroke-width="1.8" fill="none" stroke-dasharray="5 1"/>
<path d="M422.1 264.5L422.1 264.5L422.1 263.1L422.1 248.7L422.1 248.7L422.1 239.8L422.1 239.8L422.1 239.8L422.1 227.9L422.1 227.9L422.1 224.2L422.1 215L422.1 215L423.1 215L423.1 211.7L423.9 211.7L423.9 211.4L423.9 211.1L424.5 211.1L424.5 210.6L425.7 210.6L426.4 210.6L426.4 210.4L427.3 210.4L427.3 209.5L427.3 209L427.5 209L427.5 207.8L428 207.8L428 206.1L428.7 206.1L429 206.1L429 205.5L429 204.6L429.4 204.6L429.4 202.6L430.9 202.6L430.9 201.4L432.1 201.4L432.1 200.5L432.8 200.5L432.8 198.6L434.6 198.6L436.1 198.6L436.1 197L436.8 197L436.8 196.2L436.8 194.1L438.5 194.1L439.1 194.1L439.1 193.4L439.1 191.6L440.4 191.6L440.4 190.5L441.3 190.5L441.3 188.9L442.5 188.9L442.5 187.2L444.8 187.2L444.8 186.8L445.6 186.8L445.6 185.7L448 185.7L448.8 185.7L448.8 185.4L448.8 184.6L450.5 184.6L450.5 183.5L452.4 183.5L453.5 183.5L453.5 182.6L454.2 182.6L454.2 182.1L454.2 180.6L456.1 180.6L457.5 180.6L457.5 179.4L457.5 178.8L458.3 178.8L459.5 178.8L459.5 177.8L461.8 177.8L461.8 175.7L462.7 175.7L462.7 174.9L463.6 174.9L463.6 174L465.3 174L465.3 172.5L466.3 172.5L466.3 171.5L466.3 170L469.1 170L469.1 169.3L470.6 169.3L471.8 169.3L471.8 168.7L475.1 168.7L475.1 167.1L475.8 167.1L475.8 166.8L475.8 165.7L478.2 165.7L479.9 165.7L479.9 164.8L483.6 164.8L483.6 162.7L483.6 162.2L484.5 162.2L487.6 162.2L487.6 160.5L487.6 159.8L489 159.8L489 158.1L492.1 158.1L492.1 156.5L495 156.5L495 155.4L497.1 155.4L497.1 154.2L499.4 154.2L501.9 154.2L501.9 152.9L501.9 151.6L504.3 151.6L504.3 150L506.9 150L506.9 149.2L508.2 149.2L511.4 149.2L511.4 147.2L511.4 146.1L513.2 146.1L516.9 146.1L516.9 143.8L516.9 143.6L517.3 143.6" stroke="#FF67A4" stroke-width="1.8" fill="none" stroke-dasharray="9 1"/>
<path d="M422.1 264.5L422.1 261.5L422.1 261.5L422.1 242.1L422.1 242.1L422.1 239.2L422.1 239.2L422.1 221.3L422.1 221.3L422.1 216.2L422.1 216.2L422.1 216.2L422.1 202.7L423.2 202.7L423.2 200.8L423.2 200.6L423.4 200.6L423.4 199.5L424.4 199.5L424.4 198.9L425 198.9L425.7 198.9L425.7 198.2L426.4 198.2L426.4 196.8L426.4 195.7L426.9 195.7L428 195.7L428 193.3L428 192.8L428.3 192.8L428.3 191.1L429 191.1L429.7 191.1L429.7 189.9L429.7 188.5L431.4 188.5L431.4 187.2L432.9 187.2L432.9 185.6L435 185.6L435 185L435.7 185L435.7 184.1L436.8 184.1L436.8 182.8L438.1 182.8L438.1 180.9L440.1 180.9L440.3 180.9L440.3 180.8L440.3 179.1L442 179.1L442 178.2L442.9 178.2L442.9 176.7L444.4 176.7L444.4 175.9L445.2 175.9L446.8 175.9L446.8 174.4L446.8 173.5L447.7 173.5L449 173.5L449 172.2L451.1 172.2L451.1 171L452.4 171L452.4 170.3L453.5 170.3L453.5 169.7L453.5 168.8L455.3 168.8L455.3 167L458.6 167L458.6 166.4L459.8 166.4L459.8 165.7L461.5 165.7L465.4 165.7L465.4 164L467 164L467 163.4L467 162.3L469.6 162.3L472.3 162.3L472.3 161.1L472.3 160.7L473.4 160.7L475.8 160.7L475.8 159.5L475.8 158L479.3 158L480 158L480 157.6L480 156L483.7 156L484.6 156L484.6 155.6L488.2 155.6L488.2 154L490.6 154L490.6 153.1L493.4 153.1L493.4 151.9L493.4 151L495.5 151L497.1 151L497.1 150.4L497.1 150L498.4 150L498.4 149.5L500.2 149.5L502.7 149.5L502.7 148.8L502.7 148.2L504.5 148.2L504.5 147.9L505.7 147.9L505.7 146.7L507.9 146.7L507.9 146.2L508.6 146.2L509.9 146.2L509.9 145.4L509.9 144.9L510.5 144.9L510.5 144.2L511.5 144.2L511.5 143.6L512.3 143.6" stroke="#00BCD8" stroke-width="1.8" fill="none" stroke-dasharray="3 .8"/>
<path d="M422.1 264.5L422.1 264.5L422.1 260.9L422.1 243.3L422.1 243.3L422.1 230.5L422.1 230.5L422.1 215.9L422.1 215.9L422.1 215.9L422.1 210.7L422.1 197.5L422.1 197.5L422.1 194.5L422.8 194.5L423.8 194.5L423.8 192.5L423.8 189.7L425.2 189.7L425.2 188.9L425.6 188.9L425.6 186.3L426.9 186.3L426.9 185L427.8 185L427.8 183L429.2 183L429.2 180.9L430.8 180.9L430.8 178.3L432.7 178.3L432.7 176.8L433.8 176.8L434.5 176.8L434.5 176L436.2 176L436.2 174.1L436.2 172.8L437.4 172.8L439.7 172.8L439.7 170.3L441 170.3L441 168.9L441 167.4L442.5 167.4L442.5 165.8L444.4 165.8L446.1 165.8L446.1 164.5L448.3 164.5L448.3 162.7L449.9 162.7L449.9 161.4L449.9 160.6L450.9 160.6L450.9 158.3L453.7 158.3L454.9 158.3L454.9 157.3L457.2 157.3L457.2 155.4L458.8 155.4L458.8 154.2L458.8 152.9L460.4 152.9L462.1 152.9L462.1 151.5L462.1 150.5L463.8 150.5L465.3 150.5L465.3 149.6L465.3 148.8L466.6 148.8L469.3 148.8L469.3 147.2L470.8 147.2L470.8 146.4L472 146.4L472 145.9L472 145.7L472.7 145.7L473.7 145.7L473.7 145.3L474.9 145.3L474.9 144.9L475.4 144.9L475.4 144.7L475.4 144.4L476.2 144.4" stroke="#FD61D1" stroke-width="1.8" fill="none"/>
<path d="M422.1 264.5L422.1 254.1L422.1 254.1L422.1 254.1L422.1 235.3L422.1 235.3L422.1 217.4L422.1 217.4L422.1 198.2L422.2 198.2L422.2 187.5L422.2 185.5L422.9 185.5L422.9 185.1L423 185.1L423 182.6L423.7 182.6L423.7 180.1L424.5 180.1L424.5 178.5L425.3 178.5L425.3 175.7L426.6 175.7L427 175.7L427 175.1L427 172.1L428.4 172.1L429.3 172.1L429.3 170.3L429.3 167.9L431.3 167.9L431.3 166.1L433 166.1L433.8 166.1L433.8 165.2L433.8 163.1L435.8 163.1L435.8 161.4L437.5 161.4L437.5 159.6L440.1 159.6L441.6 159.6L441.6 158.5L441.6 158L442.3 158L445 158L445 156.1L445 155.6L445.8 155.6L448.6 155.6L448.6 153.7L449.6 153.7L449.6 152.9L449.6 151.7L451.4 151.7L454.6 151.7L454.6 149.8L454.6 149.5L455.3 149.5L456.9 149.5L456.9 148.6L456.9 147.3L459.7 147.3L459.7 146.6L460.9 146.6L460.9 146.2L461.2 146.2L462.3 146.2L462.3 145.1L462.3 144.6L462.8 144.6L463.5 144.6L463.5 143.8L463.8 143.8L463.8 143.6" stroke="#00BA38" stroke-width="1.8" fill="none"/>
<path d="M422.1 264.5L422.1 257.4L422.1 257.4L422.1 257.4L422.1 243.5L422.1 243.5L422.1 231.5L422.1 206.4L422.1 206.4L422.1 203L422.1 203L422.1 195.3L422.8 195.3L422.8 190.1L423.6 190.1L423.6 189.1L423.8 189.1L424.6 189.1L424.6 183.8L424.6 181.3L425.6 181.3L426 181.3L426 180.1L426 177L427.1 177L428.3 177L428.3 174L429.1 174L429.1 172.5L429.1 170.1L430.6 170.1L430.6 169.2L431.2 169.2L431.2 167.2L432.4 167.2L433.5 167.2L433.5 165.5L433.5 163.3L435.5 163.3L435.5 161.1L437.5 161.1L437.5 160L438.5 160L440.4 160L440.4 158.3L440.4 157.5L441.5 157.5L441.5 155.9L443.9 155.9L444.6 155.9L444.6 155.3L444.6 153.9L446.6 153.9L449 153.9L449 152L449 150.5L450.8 150.5L452.1 150.5L452.1 149.5L453.4 149.5L453.4 148.5L453.4 147.1L455.2 147.1L456.4 147.1L456.4 146.2L457.8 146.2L457.8 145.2L457.8 143.8L459.8 143.8L459.8 143.6L460 143.6" stroke="#00B0F6" stroke-width="1.8" fill="none"/>
<path d="M422.1 264.5L422.1 258.5L422.1 258.5L422.1 244.1L422.1 244.1L422.1 244.1L422.1 226.6L422.1 226.6L422.1 219.3L422.5 219.3L422.5 209.4L422.5 199.1L422.9 199.1L423.1 199.1L423.1 193L423.1 185.2L423.9 185.2L423.9 181.2L424.7 181.2L425.6 181.2L425.6 177.1L425.8 177.1L425.8 175.8L427.2 175.8L427.2 173L428.1 173L428.1 171L428.1 167.1L430 167.1L430 165L431.3 165L431.3 164L431.9 164L431.9 159.6L434.6 159.6L436.5 159.6L436.5 157.2L436.5 155.5L437.8 155.5L439.6 155.5L439.6 153.2L439.6 151.8L440.7 151.8L442 151.8L442 150.4L444.1 150.4L444.1 148.1L444.1 147.2L445 147.2L445 145.9L446.3 145.9L447.2 145.9L447.2 145L447.2 144.4L448 144.4L448.8 144.4L448.8 143.6" stroke="#B983FF" stroke-width="1.8" fill="none"/>
<path d="M422.1 264.5L422.1 264.5L422.1 255.2L422.1 255.2L422.1 240.9L422.1 222.2L422.1 222.2L422.1 211.3L422.1 211.3L422.1 193.3L422.5 193.3L423.1 193.3L423.1 188.9L423.1 185.2L423.6 185.2L423.6 182.8L423.9 182.8L424.8 182.8L424.8 177.3L424.8 174.9L425.8 174.9L426.9 174.9L426.9 172.2L426.9 167.5L428.9 167.5L428.9 164.9L430.1 164.9L430.3 164.9L430.3 164.6L432.3 164.6L432.3 161.3L432.3 159.8L433.3 159.8L433.3 158.2L434.2 158.2L434.2 156.5L435.3 156.5L435.3 153.9L436.9 153.9L436.9 152.3L437.9 152.3L439.3 152.3L439.3 150L440.4 150L440.4 148.5L440.9 148.5L440.9 147.7L442.6 147.7L442.6 145.4L442.6 143.7L443.8 143.7L443.9 143.7L443.9 143.6" stroke="#619CFF" stroke-width="1.8" fill="none"/>
<path d="M422.1 264.5L422.1 258.3L422.1 258.3L422.1 228.3L422.1 228.3L422.1 228.3L422.1 208.5L422.1 182.9L422.2 182.9L423 182.9L423 176.9L423.3 176.9L423.3 174L424 174L424 168.4L425.6 168.4L425.6 162.4L425.6 161.7L426.1 161.7L427.2 161.7L427.2 160.4L427.2 158.3L429.3 158.3L430 158.3L430 157.8L432 157.8L432 156.5L432 155.9L433 155.9L433 153.5L433.8 153.5L433.8 152.2L434.1 152.2L434.9 152.2L434.9 148.9L434.9 147.1L435.8 147.1L436.4 147.1L436.4 146.7L436.4 145.8L437.5 145.8L438.4 145.8L438.4 145.2L438.4 145L439 145L439 144.2L441 144.2L442.1 144.2L442.1 143.8L442.6 143.8L442.6 143.6" stroke="#A3A500" stroke-width="1.8" fill="none"/>
<path d="M422.1 264.5L422.1 264.5L422.1 246.4L422.1 246.4L422.1 222.1L422.1 205.6L422.1 205.6L422.1 205.6L422.1 186.6L422.5 186.6L422.5 180L423.3 180L423.3 170.6L423.3 165.7L423.8 165.7L423.8 160.4L424.5 160.4L424.8 160.4L424.8 158.1L425.6 158.1L425.6 153.3L425.6 151.5L425.9 151.5L425.9 148.9L426.7 148.9L426.7 147.2L427.2 147.2L427.6 147.2L427.6 145.9L427.6 145.1L428.4 145.1L429.2 145.1L429.2 144.4L429.6 144.4L429.6 144.1L429.6 143.6L430.2 143.6" stroke="#00BF7D" stroke-width="1.8" fill="none"/>
<path d="M422.1 264.5L422.1 264.5L422.1 258.3L422.1 258.3L422.1 237.5L422.1 237.5L422.1 207.6L422.1 207.6L422.1 189.1L422.1 173.9L422.2 173.9L422.2 166.9L422.5 166.9L422.9 166.9L422.9 159L423.2 159L423.2 155.1L423.6 155.1L423.6 152.8L423.8 152.8L423.8 151.6L423.8 148.5L424.3 148.5L424.6 148.5L424.6 146.8L425.1 146.8L425.1 146L425.5 146L425.5 145.2L425.5 144.3L426.1 144.3L426.1 143.6L426.5 143.6" stroke="#6BB100" stroke-width="1.8" fill="none"/>
<path d="M422.1 264.5L422.1 255.3L422.1 255.3L422.1 245.3L422.1 245.3L422.1 245.3L422.1 243.3L422.1 243.3L422.1 233L422.1 233L422.1 216.1L422.1 216.1L422.1 206.9L422.1 197.5L422.1 197.5L422.1 190.7L422.1 190.7L422.1 177.9L422.1 177.9L422.1 167.8L422.1 167.8L422.1 158L422.1 158L422.1 151.7L422.1 151.7L422.1 143.6L422.1 143.6" stroke="#C99800" stroke-width="1.8" fill="none"/>
<path d="M422.1 264.5L422.1 222.2" stroke="#FF67A4" stroke-width="1.9" fill="none"/>
<path d="M422.1 222.2L422.1 183.9" stroke="#B983FF" stroke-width="1.8" fill="none"/>
<path d="M422.1 192L422.1 143.6" stroke="#C99800" stroke-width="2.0" fill="none"/>
<path d="M422.1 192L422.1 175.8" stroke="#00BA38" stroke-width="1.8" fill="none"/>
<path d="M415.6 138.9V270.4H554" stroke="#222" stroke-width="0.5" fill="none"/>
<path d="M414.3 143.8L415.6 143.8" stroke="#222" stroke-width="0.4" fill="none"/>
<text x="413.5" y="145.2" font-size="4.0" fill="#333" stroke="#333" stroke-width="0.1" text-anchor="end">0.3</text>
<path d="M414.3 184.2L415.6 184.2" stroke="#222" stroke-width="0.4" fill="none"/>
<text x="413.5" y="185.6" font-size="4.0" fill="#333" stroke="#333" stroke-width="0.1" text-anchor="end">0.2</text>
<path d="M414.3 224.5L415.6 224.5" stroke="#222" stroke-width="0.4" fill="none"/>
<text x="413.5" y="225.9" font-size="4.0" fill="#333" stroke="#333" stroke-width="0.1" text-anchor="end">0.1</text>
<path d="M414.3 264.7L415.6 264.7" stroke="#222" stroke-width="0.4" fill="none"/>
<text x="413.5" y="266.1" font-size="4.0" fill="#333" stroke="#333" stroke-width="0.1" text-anchor="end">0.0</text>
<path d="M422.1 270.4L422.1 271.7" stroke="#222" stroke-width="0.4" fill="none"/>
<text x="422.1" y="275.7" font-size="4.0" fill="#333" stroke="#333" stroke-width="0.1" text-anchor="middle">0.000</text>
<path d="M453.2 270.4L453.2 271.7" stroke="#222" stroke-width="0.4" fill="none"/>
<text x="453.2" y="275.7" font-size="4.0" fill="#333" stroke="#333" stroke-width="0.1" text-anchor="middle">0.025</text>
<path d="M484.4 270.4L484.4 271.7" stroke="#222" stroke-width="0.4" fill="none"/>
<text x="484.4" y="275.7" font-size="4.0" fill="#333" stroke="#333" stroke-width="0.1" text-anchor="middle">0.050</text>
<path d="M515.5 270.4L515.5 271.7" stroke="#222" stroke-width="0.4" fill="none"/>
<text x="515.5" y="275.7" font-size="4.0" fill="#333" stroke="#333" stroke-width="0.1" text-anchor="middle">0.075</text>
<path d="M546.6 270.4L546.6 271.7" stroke="#222" stroke-width="0.4" fill="none"/>
<text x="546.6" y="275.7" font-size="4.0" fill="#333" stroke="#333" stroke-width="0.1" text-anchor="middle">0.100</text>
<text x="484.2" y="281.8" font-size="4.7" fill="#111" stroke="#111" stroke-width="0.1" text-anchor="middle">Empirical</text>
<text x="405.9" y="203.7" font-size="4.57" fill="#111" stroke="#111" stroke-width="0.1" text-anchor="middle" transform="rotate(-90.03 405.9 203.7)">Theoretical [runif(1000)]</text>
<text x="558" y="165.1" font-size="4.75" fill="#111" stroke="#111" stroke-width="0.1">PC: p-value</text>
<path d="M560.7 170.3h0" stroke="#F8766D" stroke-width="1.5" stroke-linecap="round" fill="none"/>
<text x="565.7" y="171.8" font-size="4.17" fill="#222" stroke="#222" stroke-width="0.1">PC 1: 1.64e−156</text>
<path d="M560.7 175.7h0" stroke="#E58700" stroke-width="1.5" stroke-linecap="round" fill="none"/>
<text x="565.7" y="177.1" font-size="4.17" fill="#222" stroke="#222" stroke-width="0.1">PC 2: 9.36e−136</text>
<path d="M560.7 181h0" stroke="#C99800" stroke-width="1.5" stroke-linecap="round" fill="none"/>
<text x="565.7" y="182.4" font-size="4.17" fill="#222" stroke="#222" stroke-width="0.1">PC 3: 1.51e−266</text>
<path d="M560.7 186.4h0" stroke="#A3A500" stroke-width="1.5" stroke-linecap="round" fill="none"/>
<text x="565.7" y="187.8" font-size="4.17" fill="#222" stroke="#222" stroke-width="0.1">PC 4: 6.48e−64</text>
<path d="M560.7 191.7h0" stroke="#6BB100" stroke-width="1.5" stroke-linecap="round" fill="none"/>
<text x="565.7" y="193.2" font-size="4.17" fill="#222" stroke="#222" stroke-width="0.1">PC 5: 2.61e−61</text>
<path d="M560.7 197.1h0" stroke="#00BA38" stroke-width="1.5" stroke-linecap="round" fill="none"/>
<text x="565.7" y="198.5" font-size="4.17" fill="#222" stroke="#222" stroke-width="0.1">PC 6: 1.02e−73</text>
<path d="M560.7 202.4h0" stroke="#00BF7D" stroke-width="1.5" stroke-linecap="round" fill="none"/>
<text x="565.7" y="203.8" font-size="4.17" fill="#222" stroke="#222" stroke-width="0.1">PC 7: 2.23e−72</text>
<path d="M560.7 207.8h0" stroke="#00C0AF" stroke-width="1.5" stroke-linecap="round" fill="none"/>
<text x="565.7" y="209.2" font-size="4.17" fill="#222" stroke="#222" stroke-width="0.1">PC 8: 4.74e−61</text>
<path d="M560.7 213.1h0" stroke="#00BCD8" stroke-width="1.5" stroke-linecap="round" fill="none"/>
<text x="565.7" y="214.6" font-size="4.17" fill="#222" stroke="#222" stroke-width="0.1">PC 9: 4.1e−54</text>
<path d="M560.7 218.5h0" stroke="#00B0F6" stroke-width="1.5" stroke-linecap="round" fill="none"/>
<text x="565.7" y="219.9" font-size="4.17" fill="#222" stroke="#222" stroke-width="0.1">PC 10: 1.46e−49</text>
<path d="M560.7 223.8h0" stroke="#619CFF" stroke-width="1.5" stroke-linecap="round" fill="none"/>
<text x="565.7" y="225.2" font-size="4.17" fill="#222" stroke="#222" stroke-width="0.1">PC 11: 7.63e−53</text>
<path d="M560.7 229.2h0" stroke="#B983FF" stroke-width="1.5" stroke-linecap="round" fill="none"/>
<text x="565.7" y="230.6" font-size="4.17" fill="#222" stroke="#222" stroke-width="0.1">PC 12: 6.34e−57</text>
<path d="M560.7 234.5h0" stroke="#E76BF3" stroke-width="1.5" stroke-linecap="round" fill="none"/>
<text x="565.7" y="235.9" font-size="4.17" fill="#222" stroke="#222" stroke-width="0.1">PC 13: 1.95e−26</text>
<path d="M560.7 239.9h0" stroke="#FD61D1" stroke-width="1.5" stroke-linecap="round" fill="none"/>
<text x="565.7" y="241.3" font-size="4.17" fill="#222" stroke="#222" stroke-width="0.1">PC 14: 3.5e−38</text>
<path d="M560.7 245.2h0" stroke="#FF67A4" stroke-width="1.5" stroke-linecap="round" fill="none"/>
<text x="565.7" y="246.6" font-size="4.17" fill="#222" stroke="#222" stroke-width="0.1">PC 15: 3.29e−37</text>
<text x="4.3" y="302.7" font-size="10.3" fill="#000" font-weight="bold">F</text>
<rect x="19.8" y="307" width="53.7" height="3.7" fill="#F8766D"/>
<text x="48.5" y="303.9" font-size="4.3" fill="#111" stroke="#111" stroke-width="0.15" text-anchor="middle" transform="rotate(-45 48.5 303.9)">0</text>
<rect x="74.5" y="307" width="29.2" height="3.7" fill="#DE8C00"/>
<text x="91" y="303.9" font-size="4.3" fill="#111" stroke="#111" stroke-width="0.15" text-anchor="middle" transform="rotate(-45 91 303.9)">1</text>
<rect x="104.7" y="307" width="25.1" height="3.7" fill="#B79F00"/>
<text x="119.2" y="303.9" font-size="4.3" fill="#111" stroke="#111" stroke-width="0.15" text-anchor="middle" transform="rotate(-45 119.2 303.9)">2</text>
<rect x="130.8" y="307" width="19.8" height="3.7" fill="#7CAE00"/>
<text x="142.6" y="303.9" font-size="4.3" fill="#111" stroke="#111" stroke-width="0.15" text-anchor="middle" transform="rotate(-45 142.6 303.9)">3</text>
<rect x="151.6" y="307" width="19.2" height="3.7" fill="#00BA38"/>
<text x="163.1" y="303.9" font-size="4.3" fill="#111" stroke="#111" stroke-width="0.15" text-anchor="middle" transform="rotate(-45 163.1 303.9)">4</text>
<rect x="171.8" y="307" width="16.4" height="3.7" fill="#00C08B"/>
<text x="181.9" y="303.9" font-size="4.3" fill="#111" stroke="#111" stroke-width="0.15" text-anchor="middle" transform="rotate(-45 181.9 303.9)">5</text>
<rect x="189.2" y="307" width="13.6" height="3.7" fill="#00BFC4"/>
<text x="197.9" y="303.9" font-size="4.3" fill="#111" stroke="#111" stroke-width="0.15" text-anchor="middle" transform="rotate(-45 197.9 303.9)">6</text>
<rect x="203.8" y="307" width="13.9" height="3.7" fill="#00B4F0"/>
<text x="212.7" y="303.9" font-size="4.3" fill="#111" stroke="#111" stroke-width="0.15" text-anchor="middle" transform="rotate(-45 212.7 303.9)">7</text>
<rect x="218.7" y="307" width="12.6" height="3.7" fill="#619CFF"/>
<text x="226.9" y="303.9" font-size="4.3" fill="#111" stroke="#111" stroke-width="0.15" text-anchor="middle" transform="rotate(-45 226.9 303.9)">8</text>
<rect x="232.3" y="307" width="9.4" height="3.7" fill="#C77CFF"/>
<text x="238.9" y="303.9" font-size="4.3" fill="#111" stroke="#111" stroke-width="0.15" text-anchor="middle" transform="rotate(-45 238.9 303.9)">9</text>
<rect x="242.7" y="307" width="6.3" height="3.7" fill="#F564E3"/>
<text x="247.8" y="303.9" font-size="4.3" fill="#111" stroke="#111" stroke-width="0.15" text-anchor="middle" transform="rotate(-45 247.8 303.9)">10</text>
<rect x="250" y="307" width="7.1" height="3.7" fill="#FF64B0"/>
<text x="255.5" y="303.9" font-size="4.3" fill="#111" stroke="#111" stroke-width="0.15" text-anchor="middle" transform="rotate(-45 255.5 303.9)">11</text>
<rect x="19.8" y="313.1" width="237.3" height="173.6" fill="#6C0876"/>
<rect x="19.8" y="321.9" width="237.3" height="1.5" fill="#8A148F"/>
<rect x="19.8" y="324.9" width="237.3" height="1.5" fill="#8E1698"/>
<rect x="19.8" y="327.8" width="237.3" height="1.5" fill="#8A148F"/>
<rect x="19.8" y="330.8" width="237.3" height="1.5" fill="#50005A"/>
<rect x="19.8" y="333.7" width="237.3" height="1.5" fill="#7E1086"/>
<rect x="19.8" y="335.2" width="237.3" height="1.5" fill="#50005A"/>
<rect x="19.8" y="339.6" width="237.3" height="1.5" fill="#8E1698"/>
<rect x="19.8" y="341.1" width="237.3" height="1.5" fill="#78107E"/>
<rect x="19.8" y="342.5" width="237.3" height="1.5" fill="#50005A"/>
<rect x="19.8" y="344" width="237.3" height="1.5" fill="#8E1698"/>
<rect x="19.8" y="345.5" width="237.3" height="1.5" fill="#7E1086"/>
<rect x="19.8" y="348.4" width="237.3" height="1.5" fill="#7E1086"/>
<rect x="19.8" y="349.9" width="237.3" height="1.5" fill="#7E1086"/>
<rect x="19.8" y="354.3" width="237.3" height="1.5" fill="#7E1086"/>
<rect x="19.8" y="358.7" width="237.3" height="1.5" fill="#9C20A6"/>
<rect x="19.8" y="360.2" width="237.3" height="1.5" fill="#50005A"/>
<rect x="19.8" y="361.6" width="237.3" height="1.5" fill="#9C20A6"/>
<rect x="19.8" y="363.1" width="237.3" height="1.5" fill="#4A0050"/>
<rect x="19.8" y="369" width="237.3" height="1.5" fill="#9C20A6"/>
<rect x="19.8" y="373.4" width="237.3" height="1.5" fill="#560360"/>
<rect x="19.8" y="376.4" width="237.3" height="1.5" fill="#9C20A6"/>
<rect x="19.8" y="379.3" width="237.3" height="1.5" fill="#9C20A6"/>
<rect x="19.8" y="382.2" width="237.3" height="1.5" fill="#8A148F"/>
<rect x="19.8" y="383.7" width="237.3" height="1.5" fill="#4A0050"/>
<rect x="19.8" y="392.5" width="237.3" height="1.5" fill="#7E1086"/>
<rect x="19.8" y="397" width="237.3" height="1.5" fill="#560360"/>
<rect x="19.8" y="399.9" width="237.3" height="1.5" fill="#8A148F"/>
<rect x="19.8" y="401.4" width="237.3" height="1.5" fill="#9C20A6"/>
<rect x="19.8" y="404.3" width="237.3" height="1.5" fill="#8E1698"/>
<rect x="19.8" y="405.8" width="237.3" height="1.5" fill="#78107E"/>
<rect x="19.8" y="410.2" width="237.3" height="1.5" fill="#4A0050"/>
<rect x="19.8" y="413.1" width="237.3" height="1.5" fill="#560360"/>
<rect x="19.8" y="414.6" width="237.3" height="1.5" fill="#50005A"/>
<rect x="19.8" y="419" width="237.3" height="1.5" fill="#560360"/>
<rect x="19.8" y="420.5" width="237.3" height="1.5" fill="#8E1698"/>
<rect x="19.8" y="422" width="237.3" height="1.5" fill="#78107E"/>
<rect x="19.8" y="424.9" width="237.3" height="1.5" fill="#50005A"/>
<rect x="19.8" y="427.9" width="237.3" height="1.5" fill="#560360"/>
<rect x="19.8" y="430.8" width="237.3" height="1.5" fill="#50005A"/>
<rect x="19.8" y="436.7" width="237.3" height="1.5" fill="#50005A"/>
<rect x="19.8" y="438.2" width="237.3" height="1.5" fill="#78107E"/>
<rect x="19.8" y="444" width="237.3" height="1.5" fill="#8A148F"/>
<rect x="19.8" y="445.5" width="237.3" height="1.5" fill="#50005A"/>
<rect x="19.8" y="448.4" width="237.3" height="1.5" fill="#8A148F"/>
<rect x="19.8" y="452.9" width="237.3" height="1.5" fill="#78107E"/>
<rect x="19.8" y="460.2" width="237.3" height="1.5" fill="#8A148F"/>
<rect x="19.8" y="463.2" width="237.3" height="1.5" fill="#78107E"/>
<rect x="19.8" y="469" width="237.3" height="1.5" fill="#50005A"/>
<rect x="19.8" y="476.4" width="237.3" height="1.5" fill="#9C20A6"/>
<rect x="19.8" y="482.3" width="237.3" height="1.5" fill="#4A0050"/>
<rect x="19.8" y="326.5" width="237.3" height="2.5" fill="#9A1FA8" opacity=".8"/>
<rect x="19.8" y="331" width="237.3" height="2.5" fill="#8E1A9C" opacity=".8"/>
<rect x="19.8" y="334.5" width="237.3" height="2.5" fill="#A024AE" opacity=".8"/>
<rect x="19.8" y="340.2" width="1.2" height="1.5" fill="#12001A"/>
<rect x="22.2" y="340.2" width="1.2" height="1.5" fill="#E8E020"/>
<rect x="24.6" y="340.2" width="1.2" height="1.5" fill="#12001A"/>
<rect x="25.8" y="340.2" width="1.2" height="1.5" fill="#12001A"/>
<rect x="28.2" y="340.2" width="1.2" height="1.5" fill="#F020F0"/>
<rect x="29.4" y="340.2" width="1.2" height="1.5" fill="#E8E020"/>
<rect x="30.6" y="340.2" width="1.2" height="1.5" fill="#12001A"/>
<rect x="31.8" y="340.2" width="1.2" height="1.5" fill="#12001A"/>
<rect x="33" y="340.2" width="1.2" height="1.5" fill="#12001A"/>
<rect x="34.2" y="340.2" width="1.2" height="1.5" fill="#F020F0"/>
<rect x="35.4" y="340.2" width="1.2" height="1.5" fill="#E8E020"/>
<rect x="36.6" y="340.2" width="1.2" height="1.5" fill="#12001A"/>
<rect x="37.8" y="340.2" width="1.2" height="1.5" fill="#12001A"/>
<rect x="39" y="340.2" width="1.2" height="1.5" fill="#12001A"/>
<rect x="41.4" y="340.2" width="1.2" height="1.5" fill="#12001A"/>
<rect x="43.8" y="340.2" width="1.2" height="1.5" fill="#12001A"/>
<rect x="46.2" y="340.2" width="1.2" height="1.5" fill="#F020F0"/>
<rect x="47.4" y="340.2" width="1.2" height="1.5" fill="#12001A"/>
<rect x="48.6" y="340.2" width="1.2" height="1.5" fill="#12001A"/>
<rect x="49.8" y="340.2" width="1.2" height="1.5" fill="#12001A"/>
<rect x="52.2" y="340.2" width="1.2" height="1.5" fill="#12001A"/>
<rect x="53.4" y="340.2" width="1.2" height="1.5" fill="#12001A"/>
<rect x="55.8" y="340.2" width="1.2" height="1.5" fill="#12001A"/>
<rect x="57" y="340.2" width="1.2" height="1.5" fill="#12001A"/>
<rect x="58.2" y="340.2" width="1.2" height="1.5" fill="#E8E020"/>
<rect x="59.4" y="340.2" width="1.2" height="1.5" fill="#12001A"/>
<rect x="60.6" y="340.2" width="1.2" height="1.5" fill="#F020F0"/>
<rect x="63" y="340.2" width="1.2" height="1.5" fill="#F020F0"/>
<rect x="65.4" y="340.2" width="1.2" height="1.5" fill="#12001A"/>
<rect x="66.6" y="340.2" width="1.2" height="1.5" fill="#F020F0"/>
<rect x="69" y="340.2" width="1.2" height="1.5" fill="#12001A"/>
<rect x="71.4" y="340.2" width="1.2" height="1.5" fill="#12001A"/>
<rect x="72.6" y="340.2" width="1.2" height="1.5" fill="#F020F0"/>
<rect x="74" y="340.2" width="1.2" height="1.5" fill="#E8E020"/>
<rect x="75.2" y="340.2" width="1.2" height="1.5" fill="#12001A"/>
<rect x="76.4" y="340.2" width="1.2" height="1.5" fill="#E8E020"/>
<rect x="77.6" y="340.2" width="1.2" height="1.5" fill="#12001A"/>
<rect x="78.8" y="340.2" width="1.2" height="1.5" fill="#E8E020"/>
<rect x="82.4" y="340.2" width="1.2" height="1.5" fill="#12001A"/>
<rect x="84.8" y="340.2" width="1.2" height="1.5" fill="#12001A"/>
<rect x="87.2" y="340.2" width="1.2" height="1.5" fill="#F020F0"/>
<rect x="88.4" y="340.2" width="1.2" height="1.5" fill="#F020F0"/>
<rect x="89.6" y="340.2" width="1.2" height="1.5" fill="#12001A"/>
<rect x="90.8" y="340.2" width="1.2" height="1.5" fill="#12001A"/>
<rect x="92" y="340.2" width="1.2" height="1.5" fill="#E8E020"/>
<rect x="93.2" y="340.2" width="1.2" height="1.5" fill="#12001A"/>
<rect x="94.4" y="340.2" width="1.2" height="1.5" fill="#12001A"/>
<rect x="95.6" y="340.2" width="1.2" height="1.5" fill="#E8E020"/>
<rect x="96.8" y="340.2" width="1.2" height="1.5" fill="#12001A"/>
<rect x="98" y="340.2" width="1.2" height="1.5" fill="#12001A"/>
<rect x="102.8" y="340.2" width="1.2" height="1.5" fill="#E8E020"/>
<rect x="104.2" y="340.2" width="1.2" height="1.5" fill="#FF20FF"/>
<rect x="105.4" y="340.2" width="1.2" height="1.5" fill="#E8E020"/>
<rect x="106.6" y="340.2" width="1.2" height="1.5" fill="#FF20FF"/>
<rect x="107.8" y="340.2" width="1.2" height="1.5" fill="#FF20FF"/>
<rect x="109" y="340.2" width="1.2" height="1.5" fill="#FF20FF"/>
<rect x="110.2" y="340.2" width="1.2" height="1.5" fill="#FF20FF"/>
<rect x="111.4" y="340.2" width="1.2" height="1.5" fill="#E8E020"/>
<rect x="112.6" y="340.2" width="1.2" height="1.5" fill="#FF20FF"/>
<rect x="113.8" y="340.2" width="1.2" height="1.5" fill="#FF20FF"/>
<rect x="115" y="340.2" width="1.2" height="1.5" fill="#FF20FF"/>
<rect x="116.2" y="340.2" width="1.2" height="1.5" fill="#FF20FF"/>
<rect x="117.4" y="340.2" width="1.2" height="1.5" fill="#FF20FF"/>
<rect x="118.6" y="340.2" width="1.2" height="1.5" fill="#FF20FF"/>
<rect x="119.8" y="340.2" width="1.2" height="1.5" fill="#FF20FF"/>
<rect x="121" y="340.2" width="1.2" height="1.5" fill="#FF20FF"/>
<rect x="122.2" y="340.2" width="1.2" height="1.5" fill="#FF20FF"/>
<rect x="123.4" y="340.2" width="1.2" height="1.5" fill="#FF20FF"/>
<rect x="124.6" y="340.2" width="1.2" height="1.5" fill="#FF20FF"/>
<rect x="125.8" y="340.2" width="1.2" height="1.5" fill="#FF20FF"/>
<rect x="127" y="340.2" width="1.2" height="1.5" fill="#FF20FF"/>
<rect x="128.2" y="340.2" width="1.2" height="1.5" fill="#E8E020"/>
<rect x="131.5" y="340.2" width="1.2" height="1.5" fill="#B030C0"/>
<rect x="132.7" y="340.2" width="1.2" height="1.5" fill="#B030C0"/>
<rect x="136.3" y="340.2" width="1.2" height="1.5" fill="#B030C0"/>
<rect x="139.9" y="340.2" width="1.2" height="1.5" fill="#B030C0"/>
<rect x="142.3" y="340.2" width="1.2" height="1.5" fill="#B030C0"/>
<rect x="143.5" y="340.2" width="1.2" height="1.5" fill="#B030C0"/>
<rect x="145.9" y="340.2" width="1.2" height="1.5" fill="#B030C0"/>
<rect x="148.3" y="340.2" width="1.2" height="1.5" fill="#B030C0"/>
<rect x="151.1" y="340.2" width="1.2" height="1.5" fill="#E8E020"/>
<rect x="152.3" y="340.2" width="1.2" height="1.5" fill="#12001A"/>
<rect x="153.5" y="340.2" width="1.2" height="1.5" fill="#12001A"/>
<rect x="154.7" y="340.2" width="1.2" height="1.5" fill="#12001A"/>
<rect x="157.1" y="340.2" width="1.2" height="1.5" fill="#12001A"/>
<rect x="159.5" y="340.2" width="1.2" height="1.5" fill="#12001A"/>
<rect x="160.7" y="340.2" width="1.2" height="1.5" fill="#12001A"/>
<rect x="161.9" y="340.2" width="1.2" height="1.5" fill="#E8E020"/>
<rect x="164.3" y="340.2" width="1.2" height="1.5" fill="#12001A"/>
<rect x="165.5" y="340.2" width="1.2" height="1.5" fill="#12001A"/>
<rect x="166.7" y="340.2" width="1.2" height="1.5" fill="#12001A"/>
<rect x="167.9" y="340.2" width="1.2" height="1.5" fill="#12001A"/>
<rect x="169.1" y="340.2" width="1.2" height="1.5" fill="#F020F0"/>
<rect x="171.3" y="340.2" width="1.2" height="1.5" fill="#F020F0"/>
<rect x="172.5" y="340.2" width="1.2" height="1.5" fill="#12001A"/>
<rect x="173.7" y="340.2" width="1.2" height="1.5" fill="#F020F0"/>
<rect x="174.9" y="340.2" width="1.2" height="1.5" fill="#12001A"/>
<rect x="176.1" y="340.2" width="1.2" height="1.5" fill="#F020F0"/>
<rect x="178.5" y="340.2" width="1.2" height="1.5" fill="#E8E020"/>
<rect x="179.7" y="340.2" width="1.2" height="1.5" fill="#12001A"/>
<rect x="180.9" y="340.2" width="1.2" height="1.5" fill="#F020F0"/>
<rect x="183.3" y="340.2" width="1.2" height="1.5" fill="#F020F0"/>
<rect x="188.7" y="340.2" width="1.2" height="1.5" fill="#12001A"/>
<rect x="189.9" y="340.2" width="1.2" height="1.5" fill="#12001A"/>
<rect x="191.1" y="340.2" width="1.2" height="1.5" fill="#12001A"/>
<rect x="192.3" y="340.2" width="1.2" height="1.5" fill="#E8E020"/>
<rect x="193.5" y="340.2" width="1.2" height="1.5" fill="#F020F0"/>
<rect x="194.7" y="340.2" width="1.2" height="1.5" fill="#E8E020"/>
<rect x="195.9" y="340.2" width="1.2" height="1.5" fill="#12001A"/>
<rect x="197.1" y="340.2" width="1.2" height="1.5" fill="#12001A"/>
<rect x="198.3" y="340.2" width="1.2" height="1.5" fill="#E8E020"/>
<rect x="200.7" y="340.2" width="1.2" height="1.5" fill="#12001A"/>
<rect x="201.9" y="340.2" width="1.2" height="1.5" fill="#12001A"/>
<rect x="203.3" y="340.2" width="1.2" height="1.5" fill="#F020F0"/>
<rect x="204.5" y="340.2" width="1.2" height="1.5" fill="#E8E020"/>
<rect x="205.7" y="340.2" width="1.2" height="1.5" fill="#12001A"/>
<rect x="206.9" y="340.2" width="1.2" height="1.5" fill="#E8E020"/>
<rect x="208.1" y="340.2" width="1.2" height="1.5" fill="#12001A"/>
<rect x="209.3" y="340.2" width="1.2" height="1.5" fill="#F020F0"/>
<rect x="211.7" y="340.2" width="1.2" height="1.5" fill="#F020F0"/>
<rect x="212.9" y="340.2" width="1.2" height="1.5" fill="#E8E020"/>
<rect x="215.3" y="340.2" width="1.2" height="1.5" fill="#E8E020"/>
<rect x="219.4" y="340.2" width="1.2" height="1.5" fill="#F020F0"/>
<rect x="220.6" y="340.2" width="1.2" height="1.5" fill="#E8E020"/>
<rect x="221.8" y="340.2" width="1.2" height="1.5" fill="#E8E020"/>
<rect x="224.2" y="340.2" width="1.2" height="1.5" fill="#F020F0"/>
<rect x="225.4" y="340.2" width="1.2" height="1.5" fill="#E8E020"/>
<rect x="226.6" y="340.2" width="1.2" height="1.5" fill="#12001A"/>
<rect x="227.8" y="340.2" width="1.2" height="1.5" fill="#12001A"/>
<rect x="229" y="340.2" width="1.2" height="1.5" fill="#E8E020"/>
<rect x="230.2" y="340.2" width="1.2" height="1.5" fill="#F020F0"/>
<rect x="233" y="340.2" width="1.2" height="1.5" fill="#B030C0"/>
<rect x="234.2" y="340.2" width="1.2" height="1.5" fill="#B030C0"/>
<rect x="235.4" y="340.2" width="1.2" height="1.5" fill="#B030C0"/>
<rect x="242.2" y="340.2" width="1.2" height="1.5" fill="#B030C0"/>
<rect x="244.6" y="340.2" width="1.2" height="1.5" fill="#B030C0"/>
<rect x="247" y="340.2" width="1.2" height="1.5" fill="#B030C0"/>
<rect x="248.2" y="340.2" width="1.2" height="1.5" fill="#B030C0"/>
<rect x="249.5" y="340.2" width="1.2" height="1.5" fill="#B030C0"/>
<rect x="251.9" y="340.2" width="1.2" height="1.5" fill="#B030C0"/>
<rect x="253.1" y="340.2" width="1.2" height="1.5" fill="#B030C0"/>
<rect x="254.3" y="340.2" width="1.2" height="1.5" fill="#B030C0"/>
<rect x="255.5" y="340.2" width="1.2" height="1.5" fill="#B030C0"/>
<path d="M51.5 313.8h.7M69.2 313.8h1.4M73.1 313.8h.7M79.8 313.8h1.5M191 313.8h1.2M248.6 313.8h1.1M28.5 315.3h1.4M60.3 315.3h.8M108.1 315.3h.8M131.1 315.3h.9M210.3 315.3h1.1M219.2 315.3h1.3M221.9 315.3h1.4M50.2 316.8h1.5M72.7 316.8h1M118.9 316.8h1.3M145.7 316.8h.8M172.3 316.8h1.3M220.8 316.8h1.2M250.4 316.8h1.2M42.7 318.2h.8M63 318.2h1.2M88.3 318.2h.6M96.4 318.2h.7M102.4 318.2h.8M104 318.2h.9M117.9 318.2h1M123.8 318.2h1.2M248.9 318.2h1.4M79.7 319.7h1.2M105.5 319.7h.7M111.1 319.7h1M113.1 319.7h1.4M145.6 319.7h.6M192.5 319.7h1.2M208.3 319.7h1.5M22.1 321.2h1.5M24.2 321.2h1.2M61.4 321.2h.6M66.3 321.2h.9M71.8 321.2h1.1M126.1 321.2h1.4M188.3 321.2h1M207.5 321.2h1M224.2 321.2h1.5M30.5 322.7h1M80.3 322.7h1.4M113 322.7h.7M133.7 322.7h1.3M148.8 322.7h1.5M232 322.7h1.2M55.7 324.1h.7M83.3 324.1h1.4M114.1 324.1h.7M124 324.1h1.3M145.4 324.1h1M162.6 324.1h.9M238.8 324.1h1.3M51.2 325.6h1.4M77.9 325.6h.9M161.1 325.6h.6M252.3 325.6h1M27.9 327.1h1.1M56.8 327.1h1M65 327.1h.7M116.4 327.1h1M121.9 327.1h1.4M133.1 327.1h1M143.8 327.1h1.3M165.6 327.1h1.3M57.3 328.5h.7M57.3 328.5h1.4M75.8 328.5h.6M202.1 328.5h1.2M215.9 328.5h1.3M245 328.5h1.4M137.7 330h.6M142.9 330h1.3M150.6 330h1.4M186.5 330h.7M248 330h1.3M39.2 331.5h1.5M63.6 331.5h.9M125.5 331.5h.7M150.5 331.5h1M155 331.5h.8M215.4 331.5h1.3M236.6 331.5h1.5M238.9 331.5h1.1M246.6 331.5h.8M27 333h1.4M48.3 333h1M48.7 333h1.4M59.2 333h1M76.9 333h.9M138.9 333h.7M174.7 333h1M176.8 333h.8M215.4 333h1.4M228.1 333h1.4M25.5 334.4h1.1M66.8 334.4h.9M76 334.4h1M126 334.4h1.4M139.3 334.4h1.3M149.3 334.4h1M165.9 334.4h.6M168.7 334.4h.9M223.5 334.4h.8M76.8 335.9h1.2M165.8 335.9h1.1M207.5 335.9h1.2M208.3 335.9h.7M249.1 335.9h.7M46.2 337.4h1.4M74.7 337.4h.7M77.2 337.4h1M91.2 337.4h1M124.9 337.4h1.1M104 338.8h1.2M105.8 338.8h.9M128.7 338.8h1.2M212.1 338.8h.8M224.3 338.8h1.2M226.4 338.8h.8M254.3 338.8h1M40 340.3h1.5M151.9 340.3h.7M158.8 340.3h.8M35.1 341.8h1.1M74.7 341.8h1.1M81 341.8h1.3M83.6 341.8h1.3M101.2 341.8h1.2M144 341.8h1.3M144.2 341.8h1.2M184.5 341.8h1.3M243.2 341.8h.8M28.6 343.3h1.3M127.9 343.3h.8M134.2 343.3h1.5M151.7 343.3h1.3M172.6 343.3h.9M196.7 343.3h1.4M64.8 344.7h.8M109.4 344.7h1M201.2 344.7h.7M213.5 344.7h1.1M214.4 344.7h1.3M21.5 346.2h1.3M21.9 346.2h.7M52.4 346.2h.8M91 346.2h1.1M98.7 346.2h.8M109.3 346.2h1.4M158.6 346.2h.9M166.8 346.2h1.3M221.4 346.2h.8M233.5 346.2h1.4M239.5 346.2h.7M36 347.7h.8M37.8 347.7h1.5M91.9 347.7h1.2M123.8 347.7h1.5M129.6 347.7h1.2M161.9 347.7h.7M179.4 347.7h1.3M215.4 347.7h.9M217.2 347.7h1.4M34.1 349.1h1.5M46.7 349.1h1.4M93.4 349.1h.7M142.5 349.1h.7M155.7 349.1h1.3M207.8 349.1h.7M242.3 349.1h1.5M23 350.6h.9M54.5 350.6h1.3M57.2 350.6h1.2M74.3 350.6h.9M79.2 350.6h1.2M85.6 350.6h1.4M92.1 350.6h1.3M127.8 350.6h1.3M143.5 350.6h1M201.4 350.6h.8M35 352.1h.6M35.2 352.1h.7M35.3 352.1h.9M110.6 352.1h1.5M135 352.1h1.3M233.6 352.1h.9M35 353.6h.7M80.9 353.6h.9M87.5 353.6h1.1M96.2 353.6h.9M99 353.6h.8M142.4 353.6h1.2M188 353.6h1.1M233.7 353.6h.9M98.9 355h1.2M156.8 355h.7M163.8 355h.9M179.6 355h.8M211.5 355h.7M234.1 355h1.4M240.6 355h.9M248.3 355h1.3M59.6 356.5h1.2M79.8 356.5h1.3M134.4 356.5h1.4M135.5 356.5h1.2M188.1 356.5h1.3M199.5 356.5h1M208.4 356.5h.6M226.1 356.5h.6M233.9 356.5h1.5M237.4 356.5h1.3M26.4 358h1.4M56.3 358h1.3M89.7 358h.8M230.8 358h1.3M247.9 358h1.3M252.9 358h.9M45.4 359.4h1.1M54.9 359.4h.7M56.5 359.4h.7M160.3 359.4h1.2M170.6 359.4h1.3M103.1 360.9h1.1M151.5 360.9h1.4M173.7 360.9h1.4M211.9 360.9h1.4M221.3 360.9h.6M222.5 360.9h.8M231.3 360.9h1.2M75.6 362.4h.9M110.6 362.4h1.2M115.3 362.4h.8M117.1 362.4h1.3M150 362.4h1.3M166.4 362.4h.6M232.5 362.4h1M234.5 362.4h1.4M241.2 362.4h1M249.5 362.4h1M252.9 362.4h1.4M28.8 363.9h1.5M141.1 363.9h1.4M145.6 363.9h.7M173.4 363.9h.9M188.4 363.9h1.4M199 363.9h1M202 363.9h1.3M225.5 363.9h1M33.9 365.3h1.4M57.3 365.3h.8M87.8 365.3h1.3M101.9 365.3h.9M129.3 365.3h1.1M209.2 365.3h1.2M229.9 365.3h1.3M238.6 365.3h1.5M252.7 365.3h1.3M255.4 365.3h1M37.4 366.8h.9M53.1 366.8h.8M61 366.8h1.3M145.5 366.8h1.4M168.7 366.8h1M169.9 366.8h1M214.4 366.8h1.3M215.7 366.8h1M223.8 366.8h.9M226.3 366.8h1.4M20.5 368.3h1.4M32 368.3h.7M51.4 368.3h.8M80.6 368.3h.8M82.2 368.3h1M110.1 368.3h.9M149 368.3h1.5M155 368.3h.8M241.1 368.3h1.5M20.2 369.7h1.3M31.7 369.7h.8M70 369.7h.8M135.1 369.7h.8M139.2 369.7h.7M193.4 369.7h1M76.1 371.2h1.5M80.1 371.2h1.5M177.4 371.2h.8M210.3 371.2h1.2M230.2 371.2h1.2M132.5 372.7h1.2M141.1 372.7h1.3M201.3 372.7h1.5M204.3 372.7h1.3M57.9 374.2h.7M101.9 374.2h1M143.2 374.2h.8M169.6 374.2h1.2M33.1 375.6h1.3M54.1 375.6h1.2M60.5 375.6h1.2M72 375.6h1.4M91.7 375.6h1.5M160.3 375.6h.6M194.3 375.6h1M210.9 375.6h1.1M230.4 375.6h1.5M241.3 375.6h1.3M58.8 377.1h.9M96.9 377.1h1.1M117.4 377.1h.6M119.2 377.1h1.2M123.9 377.1h1.3M161.4 377.1h1.4M179.3 377.1h.6M218.2 377.1h.7M221.5 377.1h1.2M20.1 378.6h1.3M21.2 378.6h.9M61.2 378.6h.7M62.7 378.6h.8M66.6 378.6h1M69.1 378.6h.8M70.9 378.6h1.1M76.4 378.6h1M143.5 378.6h.9M243.9 378.6h1.4M93.4 380h.7M132.9 380h1M145.8 380h1M188.7 380h1.2M211.3 380h1.5M232.2 380h1.2M22.1 381.5h.6M54.9 381.5h.8M60.2 381.5h.9M88.3 381.5h1.4M111.1 381.5h1.4M152.5 381.5h.7M153.8 381.5h1.4M197.8 381.5h1.2M198.3 381.5h.9M198.6 381.5h.9M25.8 383h.8M50.4 383h1.4M72.9 383h1.3M77.1 383h.6M79.5 383h1.2M99.4 383h.9M132.5 383h.8M190.5 383h1.3M200.2 383h1.3M22.9 384.5h.7M46.4 384.5h.7M123.8 384.5h.7M126.9 384.5h.7M223 384.5h1M240.9 384.5h1M249.4 384.5h1.2M59.9 385.9h1.4M68.7 385.9h.8M89.1 385.9h.7M119.8 385.9h.9M120.5 385.9h.8M163 385.9h1.3M202.5 385.9h1.1M207.8 385.9h.7M214.6 385.9h1.3M244.6 385.9h.6M246.1 385.9h1.1M70.6 387.4h1.2M106.4 387.4h.7M120.1 387.4h1.4M129.5 387.4h.6M150.3 387.4h1.4M195.7 387.4h1.2M201.9 387.4h1.1M232.2 387.4h1.4M52.1 388.9h1M59.6 388.9h.8M165.5 388.9h1M239.9 388.9h1.2M246.4 388.9h1.3M33.2 390.3h.9M100.9 390.3h1.2M195.2 390.3h1.2M197.9 390.3h1.3M227.2 390.3h1M31.8 391.8h1.1M32 391.8h1.1M73.6 391.8h.9M87.7 391.8h1.4M118.5 391.8h1.3M132.6 391.8h1.3M162.8 391.8h1.5M52.7 393.3h1.4M112 393.3h1.1M116.5 393.3h.8M123.2 393.3h.8M165.7 393.3h1M188 393.3h1.4M218.4 393.3h1.4M219.8 393.3h1.1M225.8 393.3h.8M246.7 393.3h.7M247.5 393.3h1.5M34 394.8h.6M142.2 394.8h1.1M159 394.8h.9M199.2 394.8h.6M199.3 394.8h.7M205.6 394.8h1.4M81.6 396.2h1.1M88.1 396.2h1.4M136.6 396.2h.9M156.6 396.2h1.1M189.7 396.2h1.1M190.1 396.2h1.2M192.6 396.2h1.3M210.2 396.2h1.3M249.8 396.2h1.3M21.9 397.7h1M32.9 397.7h1M96.9 397.7h.8M105.9 397.7h.7M119.9 397.7h.6M144.3 397.7h1M157.4 397.7h.7M158.9 397.7h.9M168.1 397.7h1.1M182 397.7h1.3M25.3 399.2h.6M73.4 399.2h1.1M79.3 399.2h1.4M89.1 399.2h.9M94.7 399.2h1.3M96.1 399.2h1.1M96.5 399.2h1M111.6 399.2h.8M136.3 399.2h.9M212.8 399.2h.8M229.6 399.2h1.2M79.9 400.6h1.4M84.3 400.6h1.3M85.3 400.6h1.4M122.1 400.6h1.2M147.5 400.6h.6M156.1 400.6h1.4M170.9 400.6h1.4M194.6 400.6h1M211.4 400.6h1.4M221.1 400.6h.8M250 400.6h.9M29.7 402.1h1.3M41 402.1h1M61.2 402.1h.7M123.3 402.1h.8M130.7 402.1h1.5M139.8 402.1h1.2M141.1 402.1h1M200.5 402.1h.7M205 402.1h.8M231.5 402.1h.6M110.8 403.6h1.3M136.2 403.6h.8M204.9 403.6h.8M241.7 403.6h1.5M247.2 403.6h1.3M55.6 405h1.4M83.7 405h1.4M90.5 405h1M131.8 405h1.3M145.1 405h1.2M165.7 405h.8M234.8 405h1.1M247.5 405h.8M34 406.5h1.4M40.2 406.5h1.3M88.3 406.5h.7M91 406.5h1.4M110.2 406.5h.9M142 406.5h.8M194.9 406.5h1.2M222.9 406.5h1.2M48.5 408h1.1M75.7 408h1.2M114 408h.9M191.7 408h1.1M214.3 408h1.2M217.6 408h.9M221.2 408h1M82.9 409.5h1M86.9 409.5h1.1M168.3 409.5h.9M170.2 409.5h1.4M178 409.5h.7M182.5 409.5h.9M206.1 409.5h1.3M212.2 409.5h1.2M242 409.5h1.4M34.8 410.9h1.3M153.4 410.9h1.3M168.3 410.9h1.2M204.3 410.9h1M26.4 412.4h.7M92.6 412.4h1.2M109.3 412.4h.8M250.1 412.4h1.3M21.1 413.9h.8M30.2 413.9h.9M74.5 413.9h.8M77 413.9h.8M131.5 413.9h.8M133.2 413.9h1.1M134.4 413.9h1.3M170.4 413.9h1.2M43.4 415.3h.8M80.4 415.3h1M85.2 415.3h1.2M134.9 415.3h1.5M154.7 415.3h1.3M196 415.3h1.4M204.1 415.3h.7M222.5 415.3h1.4M63.2 416.8h1.3M115.3 416.8h1.5M118.8 416.8h1.1M120 416.8h.7M234.1 416.8h1M33.2 418.3h1.4M35.2 418.3h.9M124 418.3h.8M134.4 418.3h1M150.5 418.3h.9M158.7 418.3h.8M161 418.3h1.5M161.7 418.3h1.3M204.4 418.3h.8M216.5 418.3h.8M58.8 419.8h1.4M63.5 419.8h1M113 419.8h1.3M152.5 419.8h1.1M175.6 419.8h1.5M176 419.8h1.2M176.3 421.2h1.2M180.7 421.2h.8M188.8 421.2h1.4M190.7 421.2h1M27.6 422.7h.9M31.4 422.7h.9M53.3 422.7h1.4M55.8 422.7h.8M67.4 422.7h.6M117.1 422.7h1.3M124.5 422.7h1.2M139 422.7h1.3M194.9 422.7h1.4M240.5 422.7h.6M253.7 422.7h1.5M24.2 424.2h.8M37.7 424.2h.8M44 424.2h.8M87.2 424.2h.9M88.6 424.2h1.3M110 424.2h1.1M113.2 424.2h1.1M247.2 424.2h1.3M113.8 425.6h.8M133.4 425.6h1.1M163.8 425.6h1.3M185 425.6h.7M201.6 425.6h.8M203.5 425.6h1.1M43.3 427.1h1.4M179.5 427.1h1.1M185.2 427.1h.9M194.1 427.1h1.3M210.9 427.1h1.2M216.4 427.1h1.1M222.4 427.1h.6M225.3 427.1h.8M247.4 427.1h1.4M64.7 428.6h.7M204.5 428.6h1.2M227.4 428.6h1.4M35.4 430.1h.8M102.7 430.1h1.1M114.1 430.1h1M138.8 430.1h1.3M151.1 430.1h1.1M156.9 430.1h1.4M214.5 430.1h1.5M219.2 430.1h1.3M237.4 430.1h.9M81.7 431.5h.7M107.1 431.5h1.5M147.5 431.5h1.3M150.1 431.5h1.1M170.7 431.5h1.1M180.1 431.5h1.3M76.6 433h.6M86.1 433h1.1M88.4 433h1.2M98.4 433h1.1M139.4 433h1.2M140.1 433h.7M239.7 433h1.3M245.7 433h1M254.9 433h1.1M25.5 434.5h1.2M61.9 434.5h1.4M73.9 434.5h1.3M125.4 434.5h1M140.9 434.5h.8M173.2 434.5h1.4M188.1 434.5h1.2M230.9 434.5h1.2M22.8 435.9h1.1M31.6 435.9h.9M32 435.9h.8M89.4 435.9h1.4M119.1 435.9h1.1M120 435.9h1.4M235.5 435.9h.9M22.1 437.4h1.5M32.1 437.4h.9M64.6 437.4h1.1M156.9 437.4h1.3M200.4 437.4h1.2M215.6 437.4h1M21.1 438.9h.6M26 438.9h1M55.2 438.9h1.1M139.5 438.9h.6M140.4 438.9h1.2M167.9 438.9h1.2M200.1 438.9h.9M212.6 438.9h1.5M224.3 438.9h.8M236.1 438.9h1.2M86.7 440.4h.6M92.7 440.4h.6M123.4 440.4h1.2M127.9 440.4h1.5M130.7 440.4h1.2M174.3 440.4h1.2M176.2 440.4h.8M236.9 440.4h1.2M246.9 440.4h1M20 441.8h1.1M50.9 441.8h1.3M88.9 441.8h1.2M104.7 441.8h1.2M108.9 441.8h1.3M118.8 441.8h1M119.7 441.8h1.3M121.7 441.8h.7M147.3 441.8h.6M147.6 441.8h1.2M170.7 441.8h.8M195.1 441.8h.8M207.8 441.8h1.3M248.7 441.8h1.3M251.5 441.8h.8M82.2 443.3h.8M205.3 443.3h.8M206.1 443.3h.8M219.5 443.3h1M54.6 444.8h1M110.6 444.8h.9M192.7 444.8h1.2M225 444.8h1.3M235.8 444.8h.8M38 446.2h1.5M41.8 446.2h1.2M44.7 446.2h1.2M56 446.2h.7M123.4 446.2h1.3M126.5 446.2h.7M166 446.2h.9M167 446.2h.7M96.1 447.7h.9M110.4 447.7h1.1M120.3 447.7h1.4M140.5 447.7h.8M148.4 447.7h1.3M77.6 449.2h.8M81 449.2h.7M83.2 449.2h.6M90.3 449.2h1M96.1 449.2h.6M122.9 449.2h1.2M126.9 449.2h.6M127.7 449.2h1M168.5 449.2h1.2M173.6 449.2h.7M177.4 449.2h1M218.7 449.2h.7M33.2 450.7h1M37.8 450.7h1M47.6 450.7h1.4M51.1 450.7h1.2M79.7 450.7h.9M91.2 450.7h1M181.4 450.7h.8M204.9 450.7h1.1M238.8 450.7h.7M78.2 452.1h.7M113.8 452.1h.9M115.5 452.1h.9M124.4 452.1h1M132.7 452.1h1.1M142 452.1h.7M144.4 452.1h.8M150.8 452.1h.9M186.5 452.1h.8M220.6 452.1h.6M234.8 452.1h.8M239.9 452.1h1.4M242 452.1h1.5M253.2 452.1h1.1M255.3 452.1h1.2M38.1 453.6h1M124.6 453.6h1.3M221.6 453.6h1.3M221.7 453.6h.9M228.4 453.6h1.1M230.8 453.6h1.4M47.4 455.1h1M63 455.1h1M104.5 455.1h1.3M105.7 455.1h.8M113.9 455.1h1.4M123 455.1h.8M126.1 455.1h1.4M150.8 455.1h1.3M104.1 456.5h.6M110.8 456.5h.9M63.9 458h.8M76.1 458h.8M120.1 458h1.1M141 458h1.2M142.3 458h1.2M152.7 458h1.2M166.7 458h1.1M171 458h1.5M178.8 458h1.4M216.3 458h1.1M226.1 458h.6M20 459.5h1M59.4 459.5h.9M62 459.5h.8M64.1 459.5h.6M159.8 459.5h1.4M184.5 459.5h1M205.1 459.5h1.1M215.9 459.5h.8M21.1 461h1.4M85.2 461h1M86.4 461h.6M128.3 461h.8M135.7 461h1.3M164.2 461h1.3M170.8 461h.9M38.9 462.4h1.4M108.8 462.4h.7M146.2 462.4h1.3M159.2 462.4h1.2M217.5 462.4h1.3M255.1 462.4h1.1M54.4 463.9h.8M60.7 463.9h.8M75.2 463.9h1.3M76 463.9h1.1M106.9 463.9h.8M110.2 463.9h.8M138.3 463.9h.8M165.4 463.9h.8M174.2 463.9h.8M210.7 463.9h1.4M56.7 465.4h1.3M57.5 465.4h.8M84.2 465.4h.9M85.2 465.4h1.1M192.4 465.4h1.1M251.4 465.4h.7M51.3 466.8h.9M65.4 466.8h.7M102.5 466.8h1.4M111.1 466.8h1.4M119.3 466.8h1M144.5 466.8h1.3M185.4 466.8h1.1M207.6 466.8h1.1M51.1 468.3h.6M56.9 468.3h.9M144.2 468.3h.9M162.5 468.3h.9M183.1 468.3h1.3M215.1 468.3h1.4M230.1 468.3h.9M235 468.3h1.3M238.8 468.3h1.3M245.7 468.3h1.2M22.3 469.8h1.3M49.3 469.8h1.5M138.9 469.8h.8M180.1 469.8h1M242.9 469.8h.8M106.4 471.3h1.1M137.1 471.3h1.1M153.7 471.3h1.5M160.6 471.3h1.4M215.7 471.3h.7M34.1 472.7h1.2M93.9 472.7h.8M100.1 472.7h.8M134.1 472.7h1.2M173.8 472.7h1M205 472.7h1.4M240.4 472.7h.9M249 472.7h.9M30 474.2h.8M31.4 474.2h.7M86.6 474.2h1.4M88.9 474.2h.9M91.6 474.2h1.2M161.4 474.2h1.3M166.6 474.2h.6M177.8 474.2h1.5M178.2 474.2h1.2M233.5 474.2h1.5M52.6 475.7h.9M62.8 475.7h1M94.9 475.7h.7M112.7 475.7h1.3M127.6 475.7h1.5M151.4 475.7h.9M151.8 475.7h1.3M152.7 475.7h.9M205.7 475.7h.9M218.5 475.7h1.2M236.7 475.7h1.4M24.8 477.1h1.3M147 477.1h1.1M147 477.1h1.4M148.9 477.1h1.2M157.6 477.1h1.3M168.5 477.1h.8M185.7 477.1h.8M244.3 477.1h.7M49.6 478.6h1.1M90.8 478.6h1.4M133.7 478.6h1.3M134.6 478.6h.9M140.7 478.6h.7M156.3 478.6h.8M27.3 480.1h1.1M33.9 480.1h1.1M36.4 480.1h1M43.5 480.1h.8M85.3 480.1h1.2M88.6 480.1h1.2M50.8 481.6h.7M54.9 481.6h1.1M95.9 481.6h.9M114.4 481.6h1.3M116.2 481.6h1.1M183.6 481.6h1.2M189.3 481.6h1M227.2 481.6h1.1M238.4 481.6h1.5M245.7 481.6h.7M46.6 483h.8M105.6 483h.9M123 483h1M126 483h.9M153.5 483h1.3M230 483h.9M102 484.5h.7M152.1 484.5h1.1M153.4 484.5h.7M172 484.5h.9M188.2 484.5h1M204 484.5h.9M252.2 484.5h.9M255 484.5h1.4M28.5 486h1.2M47.1 486h1M103.7 486h1M114.4 486h1.3M162.1 486h.9M190.5 486h.8M248 486h1.5" stroke="#B07A30" stroke-width="1.6" fill="none" opacity=".5"/>
<path d="M23.2 313.8h1.2M27.4 313.8h.6M28 313.8h.6M32.2 313.8h1.2M35.8 313.8h1.2M37 313.8h.6M47.2 313.8h1.2M48.4 313.8h1.2M51.4 313.8h.7M53.2 313.8h.6M58.6 313.8h1.2M62.2 313.8h.6M67 313.8h.6M69.4 313.8h1.2M69.9 313.8h.7M102.1 313.8h.7M160.4 313.8h.7M207.3 313.8h.7M209.8 313.8h.7M22.6 315.3h.6M30.3 315.3h.7M31 315.3h.6M39.4 315.3h.6M43.6 315.3h.6M49 315.3h1.2M54.7 315.3h.7M58 315.3h.6M60.4 315.3h.6M64.6 315.3h.6M65.2 315.3h.6M96.8 315.3h.7M139.1 315.3h.6M31.6 316.8h1.2M32.8 316.8h.6M34 316.8h1.2M36.6 316.8h.7M37.6 316.8h.6M38.8 316.8h1.2M42.4 316.8h.6M50.2 316.8h.6M52.6 316.8h.6M53.2 316.8h.6M55 316.8h.6M56.2 316.8h1.2M59.2 316.8h.6M63.4 316.8h.6M68.2 316.8h.6M135.5 316.8h.6M152.7 316.8h.6M23.8 318.2h1.2M28.6 318.2h.6M29.8 318.2h.6M32.8 318.2h.6M33.4 318.2h.6M35.8 318.2h.6M47.2 318.2h.6M49 318.2h.6M53.2 318.2h.6M58 318.2h.6M65.8 318.2h1.2M67.6 318.2h.6M68.2 318.2h1.2M122 318.2h.7M162.3 318.2h1.2M31.6 319.7h.6M36.4 319.7h1.2M49.5 319.7h.7M64 319.7h.6M68.2 319.7h1.2M69.9 319.7h.7M100.9 319.7h.7M136.1 319.7h.6M140.3 319.7h.6M147.5 319.7h.6M229.8 319.7h.7M252.9 319.7h.7M28.6 321.2h1.2M35.2 321.2h.6M40.6 321.2h.6M68.2 321.2h.6M82.7 321.2h.7M105.6 321.2h.7M139.7 321.2h1.2M164.7 321.2h.7M232.5 321.2h.7M250.6 321.2h.7M34 322.7h.7M50.2 322.7h.6M53.2 322.7h.6M53.8 322.7h.6M64.9 322.7h.7M136.7 322.7h1.2M152.1 322.7h.6M163.5 322.7h.6M164.7 322.7h.6M189.5 322.7h.7M239.9 322.7h.7M244.6 322.7h.7M38 324.1h.7M59.9 324.1h.7M79.8 324.1h.6M81.6 324.1h1.2M82.8 324.1h.6M154.7 324.1h.7M177.2 324.1h.7M74.4 325.6h1.2M77.4 325.6h1.2M94.2 325.6h.6M97.8 325.6h.6M98 325.6h.7M103.2 325.6h1.2M112.4 325.6h1.2M225.2 325.6h1.2M255.9 325.6h.6M76.8 327.1h.6M82.8 327.1h.6M88.2 327.1h.6M93 327.1h.6M94.8 327.1h1.2M101.4 327.1h.6M120.8 327.1h1.2M152.4 327.1h.7M163.2 327.1h.7M184.9 327.1h.6M209.1 327.1h.7M213.9 327.1h1.2M219.8 327.1h.7M226.4 327.1h1.2M251.5 327.1h.7M253.5 327.1h.6M255.9 327.1h1.2M22 328.5h.7M75.9 328.5h.7M79.8 328.5h1.2M87.6 328.5h.6M90 328.5h1.2M93 328.5h.6M125 328.5h.6M32.6 330h.7M55.1 330h.7M78 330h1.2M81 330h.6M82.8 330h1.2M85.8 330h1.2M90 330h1.2M93.6 330h.6M94.8 330h.6M97.2 330h.6M98.4 330h.6M105.8 330h.6M107.6 330h1.2M154.5 330h.6M159.3 330h.6M218.6 330h1.2M53.2 331.5h.7M75 331.5h.6M85.8 331.5h.6M90 331.5h.6M100.8 331.5h1.2M110 331.5h.6M158.1 331.5h.6M196.3 331.5h.6M202.3 331.5h1.2M212.1 331.5h.6M69.8 333h.7M79.2 333h.6M85.2 333h.6M90.6 333h1.2M108.2 333h1.2M111.8 333h1.2M125 333h.6M156.9 333h.6M184.3 333h.6M190.3 333h1.2M196.6 333h.7M197.5 333h.6M210.3 333h.6M227.6 333h.6M81 334.4h.6M88.8 334.4h.6M93.6 334.4h.6M94.8 334.4h1.2M98.4 334.4h.6M101.4 334.4h.6M104.6 334.4h.6M119 334.4h.6M223.4 334.4h1.2M229.4 334.4h.6M23.8 335.9h.7M32.7 335.9h.7M87.6 335.9h1.2M93.6 335.9h.6M98.4 335.9h.6M102.6 335.9h.6M108.8 335.9h.6M113.6 335.9h1.2M116 335.9h.6M128 335.9h.6M158.1 335.9h.6M202.3 335.9h.6M239.2 335.9h.7M241 335.9h.7M89.8 337.4h.7M100.7 337.4h.7M130.2 337.4h.7M142.8 338.8h.7M54.1 340.3h.7M113.9 340.3h.7M164.3 340.3h.7M176.8 340.3h.7M212 340.3h.7M43.5 341.8h.7M99.2 341.8h.7M114.8 341.8h.7M235 341.8h.7M23.2 343.3h1.2M40 343.3h.6M66.4 343.3h.6M130.7 343.3h.6M135.5 343.3h1.2M135.5 343.3h.7M136.7 343.3h.6M137.3 343.3h.6M139.1 343.3h.6M139.7 343.3h.6M140.3 343.3h1.2M141.5 343.3h.6M143.3 343.3h1.2M156.1 343.3h.7M180.6 343.3h.7M82.6 344.7h.7M90.1 344.7h.7M131.9 344.7h.6M143.3 344.7h.6M144.5 344.7h.6M148.7 344.7h1.2M131.9 346.2h.6M132.5 346.2h1.2M133.7 346.2h.6M134.9 346.2h.6M142.1 346.2h.6M143.9 346.2h.6M147.9 346.2h.7M62.4 347.7h.7M149.3 347.7h1.2M179 347.7h.7M250.4 347.7h.7M54.6 349.1h.7M146.3 349.1h.6M190.2 349.1h.7M19.9 350.6h.7M42.2 350.6h.7M131.3 350.6h1.2M143.3 350.6h.6M145.7 350.6h.6M149.9 350.6h.6M22.6 352.1h.6M85.3 352.1h.7M134.9 352.1h.6M137.3 352.1h.6M141.5 352.1h.6M142.1 352.1h.6M143.3 352.1h.6M219.5 352.1h.7M131.9 353.6h.6M136.1 353.6h.6M148.7 353.6h.6M99.8 355h.7M133.7 355h.6M134.3 355h1.2M135.5 355h.6M139.7 355h1.2M143.9 355h1.2M145.1 355h.6M149.9 355h.6M151 355h.7M167.8 355h.7M210.7 355h.7M66.5 356.5h.7M115.6 356.5h.7M131.9 356.5h.6M133.7 356.5h.6M134.3 356.5h.6M97.7 358h.7M120.8 358h.6M131.4 358h.7M137.3 358h.6M140.3 358h.6M141.5 358h1.2M143.9 358h1.2M148.7 358h.6M149.3 358h.6M149.9 358h.6M163.1 358h.7M206.9 358h.7M140.9 359.4h1.2M146.9 359.4h1.2M74.7 360.9h.7M87.1 360.9h.7M153.9 360.9h1.2M156.3 360.9h1.2M158.1 360.9h1.2M160.5 360.9h.6M161.6 360.9h.7M161.8 360.9h.7M164.1 360.9h1.2M249.5 360.9h.7M25.6 362.4h.7M153.9 362.4h1.2M164.1 362.4h.6M165.3 362.4h1.2M168 362.4h.7M38.8 363.9h1.2M50.8 363.9h.6M65.8 363.9h.6M113 363.9h.6M154.5 363.9h.6M155.7 363.9h.6M156.3 363.9h.6M159.3 363.9h.6M166.5 363.9h.6M167.1 363.9h.6M168.3 363.9h.6M176.5 363.9h.6M182.5 363.9h.6M184.3 363.9h.6M246.9 363.9h.7M34.6 365.3h.6M38.8 365.3h.6M47.2 365.3h1.2M49 365.3h.6M61 365.3h1.2M68.8 365.3h.6M122 365.3h1.2M158.1 365.3h.6M170.1 365.3h.6M171.7 365.3h.6M186.1 365.3h1.2M26.2 366.8h.6M32.2 366.8h.6M49.6 366.8h.6M57.4 366.8h1.2M156.3 366.8h.6M172.9 366.8h.6M174.7 366.8h1.2M176.5 366.8h.6M181.3 366.8h1.2M220 366.8h.7M248.7 366.8h.7M38.8 368.3h1.2M57.4 368.3h1.2M77.5 368.3h.7M103.2 368.3h.7M129.3 368.3h.7M153.3 368.3h1.2M159.3 368.3h.6M165.3 368.3h.6M169 368.3h.7M170.1 368.3h.6M175.3 368.3h.6M180.1 368.3h.6M186.1 368.3h1.2M30.1 369.7h.7M41.1 369.7h.7M84.1 369.7h.7M118.4 369.7h.7M134.7 369.7h.7M156.3 369.7h1.2M157.5 369.7h.6M158.7 369.7h.6M159.3 369.7h.6M161.7 369.7h.7M167.7 369.7h.6M171.7 369.7h.6M179.5 369.7h.6M210.8 369.7h.7M113.6 371.2h1.2M164.1 371.2h.6M186.7 371.2h.6M81.4 372.7h.7M153.3 372.7h1.2M155.1 372.7h1.2M159.3 372.7h.6M164.1 372.7h.6M176.7 372.7h.7M218.1 372.7h.7M254 372.7h.7M39.8 374.2h.7M72.1 374.2h.7M118.7 374.2h.7M155.7 374.2h1.2M166.5 374.2h.6M167.1 374.2h.6M168.9 374.2h.6M226 374.2h.7M57.8 375.6h.7M142.2 375.6h.7M121.4 377.1h.7M146 377.1h.7M163.5 377.1h.6M173.7 377.1h.7M193.1 377.1h.7M234.1 377.1h.7M238.4 377.1h.7M251.4 377.1h.7M56.7 378.6h.7M74.9 378.6h.7M164.7 378.6h.6M186.7 378.6h.6M198.5 378.6h.7M45.5 380h.7M69 380h.7M74.4 380h.7M108.4 380h.7M128.2 380h.7M160.4 380h.7M183.1 380h.6M250.1 380h.7M160.4 381.5h.7M179.5 381.5h.6M180.1 381.5h1.2M197.1 381.5h.7M116.1 383h.7M177.1 383h.6M181.3 383h.6M201.7 383h.7M216.3 383h.7M229 383h.7M246.9 383h.7M81 384.5h.7M91.8 384.5h1.2M152.7 384.5h.6M172.3 384.5h.6M175.9 384.5h1.2M190.8 384.5h.7M196.4 384.5h.7M222.5 384.5h.7M70 385.9h.7M152.7 385.9h.6M157 385.9h.7M158.1 385.9h.6M170.1 385.9h.6M172.9 385.9h.6M173.5 385.9h.6M177.7 385.9h.6M180.7 385.9h.6M183.1 385.9h1.2M204.6 385.9h.7M33 387.4h.7M81.6 387.4h.6M177.1 387.4h.6M177.7 387.4h1.2M180.1 387.4h.6M181.3 387.4h.6M202.9 387.4h.7M116.6 388.9h.7M152.1 388.9h.6M163.5 388.9h1.2M172.3 388.9h1.2M181.9 388.9h.6M187.3 388.9h.6M100.2 390.3h.6M111.8 390.3h.6M156.3 390.3h.7M162.3 390.3h1.2M180.1 390.3h.6M182 390.3h.7M186.7 390.3h.6M111.1 391.8h.7M111.8 391.8h.6M143.3 391.8h.7M147 391.8h.7M158.7 391.8h.6M175.3 391.8h.6M179.5 391.8h.6M230.6 391.8h.7M49.8 393.3h.7M88.5 393.3h.7M132.6 393.3h.7M153.3 393.3h1.2M162.9 393.3h.6M169.5 393.3h.6M174.7 393.3h.6M175.3 393.3h.6M177 393.3h.7M180.7 393.3h.6M32 394.8h.7M34.3 394.8h.7M112.1 394.8h.7M124.9 394.8h.7M168.9 394.8h1.2M171.7 394.8h.6M173.5 394.8h1.2M180.1 394.8h1.2M195.9 394.8h.7M72.2 396.2h.7M152.7 396.2h.6M161.1 396.2h1.2M166.5 396.2h.6M168.3 396.2h.6M171.7 396.2h1.2M173.5 396.2h1.2M175.3 396.2h1.2M178.9 396.2h1.2M183.7 396.2h.6M184.9 396.2h.6M217.2 396.2h.7M75 397.7h.6M100.2 397.7h.6M181.7 397.7h.7M198.7 397.7h.6M229.4 397.7h1.2M242.1 397.7h.7M250 397.7h.7M26.2 399.2h1.2M38.8 399.2h1.2M48.5 399.2h.7M95.7 399.2h.7M96.8 399.2h.7M100.2 399.2h.6M109.7 399.2h.7M111.8 399.2h1.2M114.8 399.2h1.2M122 399.2h.6M192.1 399.2h.6M221 399.2h1.2M230 399.2h1.2M250.5 399.2h.6M45.3 400.6h.7M102.6 400.6h.6M114.2 400.6h1.2M154.2 400.6h.7M163.2 400.6h.7M197.5 400.6h.6M209.1 400.6h.6M212.7 400.6h.6M249.9 400.6h1.2M31.4 402.1h.7M38.4 402.1h.7M45.9 402.1h.7M46.3 402.1h.7M91.8 402.1h.6M98.4 402.1h.6M107 402.1h.7M134.4 402.1h.7M190.3 402.1h.6M191.5 402.1h.6M192.7 402.1h.6M195.1 402.1h.6M196.9 402.1h.6M198.7 402.1h1.2M212.4 402.1h.7M221.5 402.1h.7M222.6 402.1h.7M251.1 402.1h.6M254.7 402.1h.6M255.3 402.1h.6M36.6 403.6h.7M45.3 403.6h.7M189.7 403.6h.6M197.5 403.6h.6M201.7 403.6h1.2M212.1 403.6h.6M230 403.6h1.2M235.6 403.6h.7M251.7 403.6h.6M34.1 405h.7M56.1 405h.7M75.2 405h.7M132.9 405h.7M137.9 405h.7M189.1 405h.6M191.5 405h.6M195.1 405h.6M195.7 405h.6M198.7 405h1.2M216.9 405h1.2M194.5 406.5h.6M197.5 406.5h.6M198.7 406.5h1.2M218.6 406.5h.6M219.2 406.5h1.2M158.1 408h.7M159.5 408h.7M190.9 408h1.2M195.1 408h.6M197.3 408h.7M199.3 408h.6M202.3 408h.6M225.8 408h.6M45.7 409.5h.7M46.3 409.5h.7M158 409.5h.7M189.7 409.5h1.2M190.9 409.5h.6M193.3 409.5h.6M195.7 409.5h1.2M213.5 409.5h.7M230.1 409.5h.7M237.2 409.5h.7M35.9 410.9h.7M73.3 410.9h.7M164.2 410.9h.7M186.3 410.9h.7M203.7 410.9h1.2M207.3 410.9h.6M212.7 410.9h1.2M243.4 410.9h.7M251.6 410.9h.7M26 412.4h.7M26.9 412.4h.7M82.4 412.4h.7M103.7 412.4h.7M123.6 412.4h.7M151.1 412.4h.7M179.2 412.4h.7M206.1 412.4h.6M207.3 412.4h.6M209.7 412.4h1.2M80.2 413.9h.7M90.1 413.9h.7M156.3 413.9h.7M163.9 413.9h.7M196.2 413.9h.7M248.8 413.9h.7M106.7 415.3h.7M130.1 415.3h.7M170.4 415.3h.7M249.1 415.3h.7M163.8 416.8h.7M167 416.8h.7M207.9 416.8h.6M34.7 418.3h.7M35.9 418.3h.7M183.5 418.3h.7M203.7 419.8h.6M209.7 419.8h1.2M212.1 419.8h.6M228.2 419.8h.7M33.3 421.2h.7M49.2 421.2h.7M72.6 421.2h.7M79.7 421.2h.7M104.3 421.2h.7M118.5 421.2h.7M212.1 421.2h.6M213.9 421.2h.6M215.1 421.2h.6M59.8 422.7h.7M88.8 422.7h.7M95.9 422.7h.7M173.5 422.7h.7M199.2 422.7h.7M207.9 422.7h.6M210.3 422.7h1.2M207.9 424.2h.6M29.6 425.6h.7M47.6 425.6h.7M89.8 425.6h.7M186.5 425.6h.7M208.5 425.6h.6M216.3 425.6h.6M216.9 425.6h.6M249.7 425.6h.7M59.7 427.1h.7M74.4 427.1h.7M157.2 427.1h.7M201.2 427.1h.7M224.6 427.1h1.2M92.3 428.6h.7M100.7 428.6h.7M108.1 428.6h.7M144.8 428.6h.7M154.1 428.6h.7M194.7 428.6h.7M221.6 428.6h.6M222.2 428.6h.6M227.6 428.6h.6M228.2 428.6h1.2M230.6 428.6h.6M66.6 430.1h.7M77.6 430.1h.7M105.6 430.1h.7M107 430.1h.7M140.7 430.1h.7M149.3 430.1h.7M181 430.1h.7M225.8 430.1h.6M36.1 431.5h.7M138.6 431.5h.7M177.7 431.5h.7M219.2 431.5h.6M240 431.5h.7M54.2 433h.7M66.2 433h.7M219.8 433h.6M220.4 433h1.2M223.4 433h.6M24.4 434.5h.7M160.6 434.5h.7M222.8 434.5h.6M223.4 434.5h1.2M224.6 434.5h1.2M225.8 434.5h1.2M42.8 435.9h.7M180.1 435.9h.7M202.1 435.9h.7M214.1 435.9h.7M219.2 435.9h.6M222.2 435.9h.6M222.8 435.9h1.2M224 435.9h.6M225.2 435.9h1.2M226.4 435.9h.6M234.1 435.9h.7M238.4 435.9h.7M33.6 437.4h.7M41.2 437.4h.7M111.1 437.4h.7M130.8 437.4h.7M139.6 437.4h.7M204.3 437.4h1.2M205.5 437.4h1.2M206.7 437.4h1.2M217.3 437.4h.7M222.1 437.4h.7M223 437.4h.7M227 437.4h.6M77.4 438.9h.6M78 438.9h.6M84.6 438.9h.6M88.8 438.9h1.2M102 438.9h1.2M176.3 438.9h.7M212.1 438.9h1.2M220.4 438.9h1.2M222.8 438.9h1.2M224 438.9h1.2M228.2 438.9h.6M39.3 440.4h.7M96.6 440.4h.6M99.6 440.4h1.2M212.7 440.4h.6M215.7 440.4h1.2M220.4 440.4h.6M225.8 440.4h1.2M227 440.4h1.2M228.2 440.4h1.2M230.6 440.4h.6M247.5 440.4h.7M251.7 440.4h.7M32.3 441.8h.7M152.9 441.8h.7M186.3 441.8h.7M195.7 441.8h1.2M210.3 441.8h.6M212.7 441.8h1.2M214.5 441.8h.6M217 441.8h.7M218.6 441.8h.6M220.4 441.8h.6M221.6 441.8h1.2M228.8 441.8h1.2M40.6 443.3h.7M68.3 443.3h.7M129.4 443.3h.7M158.5 443.3h.7M177.1 443.3h.7M234.6 443.3h1.2M126.5 444.8h.7M176.1 444.8h.7M234.6 444.8h1.2M234.7 444.8h.7M140.6 446.2h.7M236.4 446.2h.6M237.4 446.2h.7M124.8 447.7h.7M34.7 449.2h.7M88 449.2h.7M144.2 449.2h.7M149.9 449.2h.6M237.7 449.2h.7M58.8 450.7h.7M151.8 450.7h.7M204.9 450.7h.7M232.2 450.7h.6M233.4 450.7h1.2M238.8 450.7h1.2M239.8 450.7h.7M38.6 452.1h.7M145.1 452.1h.6M147.3 452.1h.7M234.6 452.1h1.2M235.8 452.1h1.2M237 452.1h.6M238.2 452.1h1.2M24 453.6h.7M101.1 453.6h.7M163.7 453.6h.7M234 453.6h.6M42.5 455.1h.7M156.4 455.1h.7M211.5 455.1h.7M234 455.1h1.2M235.2 455.1h.6M235.8 455.1h.6M240.6 455.1h1.2M242.5 455.1h.7M24.5 456.5h.7M175.6 456.5h.7M240 456.5h.6M28.9 458h.7M91.3 458h.7M126.4 458h.7M139.3 458h.7M237 458h1.2M240.5 458h.7M77 459.5h.7M224.3 459.5h.7M230.1 459.5h.7M234 459.5h.6M235.8 459.5h.6M237.6 459.5h.6M239.4 459.5h1.2M243.8 459.5h.6M246.2 459.5h1.2M58.2 461h.7M136.7 461h.7M219.3 461h.7M246.8 461h.6M65.2 462.4h.7M104.7 462.4h.7M149.9 462.4h.7M204.1 462.4h.7M214.5 462.4h.7M238.6 462.4h.7M82.7 463.9h.7M105.7 463.9h.7M122.4 463.9h.7M180.7 463.9h.7M213.9 463.9h.7M118.2 465.4h.7M152.7 465.4h.6M166.5 465.4h1.2M197.8 465.4h.7M242.6 465.4h1.2M246.2 465.4h.6M248 465.4h1.2M20 466.8h.7M161.1 466.8h.7M246.8 466.8h.6M25.3 468.3h.7M82 468.3h.7M147 468.3h.7M158.1 468.3h.6M158.7 468.3h1.2M161.1 468.3h1.2M88.7 469.8h.7M100.5 469.8h.7M112.4 469.8h.7M153.9 469.8h1.2M172.3 469.8h.6M174.7 469.8h1.2M177.7 469.8h.6M180.1 469.8h1.2M183.7 469.8h1.2M246.8 469.8h1.2M253.2 469.8h.7M23.1 471.3h.7M53.9 471.3h.7M163.5 471.3h1.2M168.3 471.3h1.2M182.5 471.3h.6M183.1 471.3h.6M187.3 471.3h1.2M23.1 472.7h.7M45.3 472.7h.7M156.9 472.7h.6M219.8 472.7h.7M243.8 472.7h.6M246.2 472.7h1.2M52.6 474.2h.7M133.6 474.2h.7M159.3 474.2h1.2M160.5 474.2h.6M184.9 474.2h.6M202.9 474.2h.7M26.5 475.7h.7M66.5 475.7h.7M51.8 477.1h.7M91.7 477.1h.7M192.4 477.1h.7M252.3 477.1h.6M44.3 478.6h.7M97.1 478.6h.7M213.5 478.6h.7M52.1 480.1h.7M67.7 480.1h.7M70.4 480.1h.7M163.2 480.1h.7M184.1 480.1h.7M251.7 480.1h1.2M255.9 480.1h1.2M66.1 481.6h.7M129.3 481.6h.7M210.6 481.6h.7M250.3 481.6h.7M251.7 481.6h.6M255.3 481.6h1.2M27.5 483h.7M39.7 483h.7M102 483h.7M180.1 483h1.2M198.9 483h.7M251.7 483h.6M69.1 484.5h.7M105.2 484.5h.7M120.2 484.5h.7M147.8 484.5h.7M154.5 484.5h.6M157.4 484.5h.7M158.1 484.5h.6M189.3 484.5h.7M195.4 484.5h.7M252.9 484.5h.6M254.7 484.5h.6M44.5 486h.7M61 486h.7M196.1 486h.7" stroke="#C9A227" stroke-width="1.6" fill="none" opacity=".85"/>
<path d="M20.2 313.8h1.2M22 313.8h.6M25 313.8h1.2M28.6 313.8h.6M29.2 313.8h.6M29.8 313.8h1.2M31.6 313.8h.6M34 313.8h.6M39.4 313.8h.6M40 313.8h.6M40.6 313.8h.6M41.2 313.8h.6M41.8 313.8h.6M42.4 313.8h.6M43.6 313.8h.6M44.8 313.8h.6M45.4 313.8h.6M46 313.8h1.2M51.4 313.8h.6M54.4 313.8h.6M56.2 313.8h.6M57.4 313.8h.6M61 313.8h.6M67.8 313.8h.7M71.8 313.8h.6M132.5 313.8h.7M237.2 313.8h.7M20.2 315.3h.6M26.2 315.3h.6M28.6 315.3h.6M29.2 315.3h1.2M31.6 315.3h.6M35.2 315.3h1.2M38.8 315.3h.6M46.6 315.3h.6M47.8 315.3h1.2M51.4 315.3h1.2M52.6 315.3h.6M54.4 315.3h.6M55 315.3h.6M55.6 315.3h1.2M59.2 315.3h1.2M61.6 315.3h.6M62.2 315.3h.6M67 315.3h1.2M68.8 315.3h1.2M70 315.3h.6M71.2 315.3h.6M102.9 315.3h.7M142.1 315.3h.6M144.5 315.3h1.2M157.5 315.3h1.2M20.2 316.8h.6M22 316.8h.6M22.6 316.8h1.2M23.8 316.8h.6M24.4 316.8h.6M25.6 316.8h.6M26.2 316.8h1.2M27.4 316.8h.6M28.6 316.8h.6M29.2 316.8h.6M30.4 316.8h.6M36.9 316.8h.7M40.6 316.8h.6M43 316.8h1.2M44.2 316.8h.6M44.8 316.8h.6M45.4 316.8h.6M46 316.8h.6M47.8 316.8h1.2M50.8 316.8h1.2M52 316.8h.6M53.8 316.8h1.2M55.6 316.8h.6M58 316.8h1.2M59.8 316.8h.6M64 316.8h.6M64.6 316.8h.6M65.8 316.8h.6M68.8 316.8h1.2M71.2 316.8h.6M71.8 316.8h.6M72.4 316.8h1.2M132.5 316.8h.6M132.6 316.8h.7M139.9 316.8h.7M141.5 316.8h.6M145.7 316.8h.6M169.5 316.8h.6M180.7 316.8h1.2M22.6 318.2h.6M26.8 318.2h1.2M32.2 318.2h.6M34.6 318.2h.6M37 318.2h.6M39.4 318.2h1.2M44.2 318.2h.6M50.8 318.2h1.2M52 318.2h.6M54.4 318.2h.6M57.4 318.2h.6M58.6 318.2h.6M59.2 318.2h1.2M62.2 318.2h.6M70 318.2h1.2M71.2 318.2h.6M87.5 318.2h.7M155.1 318.2h.6M167.1 318.2h1.2M180.7 318.2h.6M183.7 318.2h.6M186.1 318.2h.6M20.2 319.7h1.2M22 319.7h.6M26.2 319.7h1.2M27.4 319.7h.6M29.8 319.7h1.2M35.2 319.7h1.2M43.6 319.7h.6M46 319.7h.6M51.4 319.7h.6M55 319.7h.6M56.2 319.7h.6M61.6 319.7h.6M66.4 319.7h.6M70 319.7h1.2M71.2 319.7h.6M105.3 319.7h.7M131.3 319.7h.6M139.1 319.7h.6M142.1 319.7h1.2M148.7 319.7h.6M152.1 319.7h.6M155.7 319.7h.6M158.7 319.7h1.2M172.9 319.7h.6M229.9 319.7h.7M20.2 321.2h.6M20.8 321.2h1.2M23.2 321.2h.6M23.8 321.2h1.2M25 321.2h.6M29.8 321.2h.6M31.6 321.2h.6M37 321.2h.6M38.2 321.2h1.2M40 321.2h.6M41.2 321.2h.6M41.8 321.2h1.2M46.6 321.2h.6M48.4 321.2h.6M59.8 321.2h1.2M64.6 321.2h1.2M69.4 321.2h.6M75.9 321.2h.7M140.9 321.2h1.2M164.7 321.2h.6M207 321.2h.7M22 322.7h.6M25.6 322.7h.6M26.2 322.7h1.2M28.6 322.7h.6M31.6 322.7h.6M33.4 322.7h.6M37 322.7h.6M38.8 322.7h.6M40.6 322.7h.6M50.8 322.7h1.2M58.6 322.7h1.2M66.4 322.7h.6M67 322.7h.6M69.4 322.7h.6M136.1 322.7h.6M140.3 322.7h.6M143.3 322.7h.6M144.5 322.7h.6M158.1 322.7h.6M167.7 322.7h.6M171.7 322.7h1.2M179.9 322.7h.7M180.7 322.7h.6M75.6 324.1h.6M76.8 324.1h.6M77.4 324.1h.6M78.6 324.1h.6M80.4 324.1h.6M81 324.1h.6M87.6 324.1h.6M88.2 324.1h1.2M90 324.1h.6M91.8 324.1h1.2M93 324.1h1.2M94.2 324.1h.6M94.8 324.1h1.2M96.6 324.1h1.2M99 324.1h.6M99.6 324.1h.6M100.2 324.1h1.2M102 324.1h1.2M152.1 324.1h.7M153.9 324.1h.6M174.7 324.1h1.2M186.7 324.1h1.2M194.3 324.1h.7M205.7 324.1h.7M255.9 324.1h.6M81 325.6h.6M82.8 325.6h.6M87.6 325.6h.6M88.8 325.6h.6M91.2 325.6h.6M91.8 325.6h1.2M96 325.6h1.2M98.4 325.6h.6M100.2 325.6h1.2M101.4 325.6h1.2M105.2 325.6h1.2M111.2 325.6h1.2M120.8 325.6h.6M122 325.6h1.2M162.9 325.6h.6M190.9 325.6h1.2M193.3 325.6h.6M195.7 325.6h1.2M198.7 325.6h1.2M201.1 325.6h1.2M207.9 325.6h.6M208.5 325.6h.7M212.1 325.6h1.2M224.6 325.6h.6M229.4 325.6h.6M230 325.6h1.2M250.5 325.6h1.2M57.7 327.1h.7M74.4 327.1h.6M75 327.1h1.2M76.2 327.1h.6M81 327.1h1.2M85.8 327.1h1.2M90 327.1h1.2M91.8 327.1h1.2M99 327.1h.6M99.6 327.1h1.2M102.6 327.1h.6M107.6 327.1h.6M111.8 327.1h1.2M113.6 327.1h.6M117.8 327.1h.6M119.7 327.1h.7M122 327.1h.6M125.6 327.1h1.2M128.6 327.1h.6M135.7 327.1h.7M158.7 327.1h.6M159.3 327.1h1.2M186.7 327.1h.6M189.7 327.1h.6M191.5 327.1h.6M209.7 327.1h.6M211.5 327.1h1.2M216.3 327.1h.6M220.4 327.1h.6M225.2 327.1h1.2M45.4 328.5h.7M74.4 328.5h.6M75 328.5h.6M81 328.5h.6M83.4 328.5h1.2M88.8 328.5h.6M93.6 328.5h.6M96 328.5h.6M97.2 328.5h.6M98.4 328.5h.6M99.6 328.5h.6M103.2 328.5h.6M113 328.5h1.2M114.2 328.5h.6M117.8 328.5h1.2M121.4 328.5h.6M123.8 328.5h.6M125 328.5h.7M181.9 328.5h.6M185.5 328.5h.6M205.3 328.5h.7M206.7 328.5h.6M219.2 328.5h.6M220.4 328.5h.6M228.2 328.5h1.2M249.9 328.5h.6M251.7 328.5h1.2M255.9 328.5h1.2M25.5 330h.7M75 330h.6M76.8 330h1.2M93 330h.6M96.6 330h.6M98.4 330h.7M99 330h1.2M101.4 330h.6M103.2 330h.6M104.6 330h.6M105.2 330h.6M107 330h.6M111.2 330h.6M120.8 330h1.2M125.6 330h.6M129.2 330h.6M191.5 330h1.2M193.9 330h.6M194.5 330h.6M201.1 330h.6M206.1 330h1.2M222.2 330h.6M222.8 330h1.2M229.4 330h.6M232.7 330h.7M234.7 330h.7M59.6 331.5h.7M76.2 331.5h.6M77.4 331.5h.6M78.6 331.5h1.2M80.4 331.5h.6M84.6 331.5h.6M87 331.5h.6M88.8 331.5h.6M94.8 331.5h1.2M96 331.5h1.2M103.2 331.5h.6M110.6 331.5h1.2M115.4 331.5h.6M116.6 331.5h.6M117.2 331.5h.6M121.4 331.5h.6M128.6 331.5h.6M130.3 331.5h.7M192.7 331.5h.6M199.3 331.5h.6M210.3 331.5h1.2M216.3 331.5h1.2M224.6 331.5h1.2M74.4 333h1.2M78 333h1.2M79.8 333h.6M81.6 333h.6M82.2 333h1.2M84 333h.6M84.6 333h.6M85.8 333h.6M86.4 333h1.2M88.2 333h.6M89.4 333h.6M89.6 333h.7M90 333h.6M91.8 333h.6M92.4 333h1.2M94.5 333h.7M94.8 333h1.2M96.6 333h1.2M99 333h1.2M100.8 333h.6M101.4 333h.6M102 333h.6M104.6 333h1.2M123.2 333h1.2M126.2 333h.6M129.2 333h.6M183.1 333h.6M189.7 333h.6M195.7 333h.6M196.3 333h.6M218.6 333h.6M220.4 333h1.2M222.8 333h.6M224 333h.6M228.2 333h1.2M246.9 333h.7M78.6 334.4h.6M81.6 334.4h1.2M82.8 334.4h.6M83.4 334.4h.6M84 334.4h1.2M86.4 334.4h.6M87 334.4h1.2M90 334.4h.6M91.2 334.4h.6M93 334.4h.6M94.2 334.4h.6M96 334.4h1.2M97.2 334.4h1.2M102 334.4h.6M105.2 334.4h.6M113 334.4h1.2M162.3 334.4h1.2M165.3 334.4h.6M171.7 334.4h.6M183.8 334.4h.7M189.7 334.4h1.2M191.5 334.4h.6M192.7 334.4h.6M194.5 334.4h.6M202.3 334.4h1.2M207.3 334.4h.6M207.9 334.4h.6M212.7 334.4h1.2M214.5 334.4h.6M220.7 334.4h.7M225.8 334.4h.6M228.8 334.4h.6M74.4 335.9h.6M75 335.9h1.2M82.8 335.9h.6M84.6 335.9h.6M85.8 335.9h1.2M88.8 335.9h1.2M90.6 335.9h.6M96 335.9h.6M99.6 335.9h.6M104.6 335.9h.6M104.8 335.9h.7M111.2 335.9h1.2M115.4 335.9h.6M117.2 335.9h.6M117.8 335.9h1.2M120.6 335.9h.7M126.2 335.9h.6M168.9 335.9h.6M174.7 335.9h.6M189.1 335.9h1.2M192.7 335.9h1.2M194.5 335.9h.6M195.1 335.9h1.2M196.3 335.9h.6M198.7 335.9h1.2M199.9 335.9h1.2M201.7 335.9h.6M213.3 335.9h.6M224.6 335.9h.6M225.2 335.9h.6M52.7 337.4h.7M75.1 337.4h.7M164.5 337.4h.7M245.7 337.4h.7M68.7 340.3h.7M84.7 340.3h.7M100.9 340.3h.7M105 340.3h.7M113 340.3h.7M146.5 340.3h.7M173.4 340.3h.7M197 340.3h.7M233.4 340.3h.7M118.3 341.8h.7M122.5 341.8h.7M154.6 341.8h.7M29.2 343.3h1.2M91.8 343.3h.7M131.3 343.3h.6M133.1 343.3h.6M134.9 343.3h.6M142.1 343.3h1.2M145.7 343.3h.6M146.3 343.3h.6M146.9 343.3h.6M147.5 343.3h.6M148.1 343.3h.6M149.3 343.3h.6M23.8 344.7h1.2M25.6 344.7h.6M31 344.7h.6M34 344.7h.6M35.8 344.7h1.2M41.2 344.7h.6M43 344.7h.6M130.7 344.7h1.2M132.5 344.7h.6M133.1 344.7h.6M133.7 344.7h1.2M136.1 344.7h1.2M137.9 344.7h1.2M139.1 344.7h.6M139.7 344.7h.6M141.5 344.7h.6M142.1 344.7h1.2M143.9 344.7h.6M146.9 344.7h1.2M147.7 344.7h.7M148.1 344.7h.6M149.9 344.7h.6M167.5 344.7h.7M129.2 346.2h.7M130.7 346.2h1.2M134.3 346.2h.6M135.5 346.2h.6M136.1 346.2h.6M136.7 346.2h.6M137.9 346.2h1.2M139.7 346.2h.6M140.9 346.2h1.2M142.7 346.2h1.2M144.5 346.2h1.2M145.7 346.2h1.2M146.9 346.2h1.2M148.1 346.2h1.2M149.3 346.2h.6M149.9 346.2h1.2M209 346.2h.7M35.9 347.7h.7M48.8 347.7h.7M54.2 347.7h.7M130.7 347.7h.6M131.9 347.7h1.2M133.1 347.7h.6M133.7 347.7h1.2M135.5 347.7h1.2M136.7 347.7h.6M137.3 347.7h.6M137.9 347.7h.6M138.5 347.7h1.2M140.3 347.7h1.2M141.5 347.7h.6M142.1 347.7h.6M142.7 347.7h.6M143.3 347.7h.6M143.9 347.7h1.2M145.1 347.7h1.2M146.3 347.7h1.2M148.1 347.7h1.2M209.9 347.7h.7M21 349.1h.7M94.7 349.1h.7M133.7 349.1h1.2M135.5 349.1h1.2M137.3 349.1h.6M137.9 349.1h1.2M139.7 349.1h1.2M141.5 349.1h.6M78.6 350.6h.7M132.5 350.6h.6M133.7 350.6h.6M134.9 350.6h1.2M136.1 350.6h.6M136.7 350.6h.6M137.9 350.6h.6M140.3 350.6h1.2M141.5 350.6h.6M144.5 350.6h.6M147.5 350.6h.6M148.7 350.6h.6M161.7 350.6h.7M202.6 350.6h.7M131.9 352.1h.6M133.7 352.1h1.2M136.7 352.1h.6M137.9 352.1h1.2M139.1 352.1h1.2M140.3 352.1h1.2M142.7 352.1h.6M143.9 352.1h.6M144.5 352.1h1.2M146.3 352.1h.6M147.5 352.1h1.2M131.3 353.6h.6M132.5 353.6h.6M134.3 353.6h1.2M136.7 353.6h1.2M137.9 353.6h1.2M139.1 353.6h.6M139.7 353.6h.6M140.9 353.6h1.2M143.3 353.6h1.2M144.5 353.6h1.2M146.3 353.6h1.2M148.1 353.6h.6M156.9 353.6h.7M182.7 353.6h.7M136.8 355h.7M137.3 355h.6M140.9 355h.6M141.5 355h.6M142.1 355h1.2M147.5 355h1.2M171.9 355h.7M229.6 355h.7M128.4 356.5h.7M130.7 356.5h1.2M132.5 356.5h.6M135.5 356.5h.6M136.1 356.5h.6M137.9 356.5h.6M138.5 356.5h1.2M139.7 356.5h.6M144.5 356.5h1.2M145.7 356.5h1.2M146.9 356.5h.6M147.5 356.5h.6M148.7 356.5h.6M149.3 356.5h.6M184.4 356.5h.7M254.7 356.5h.7M89.4 358h.7M107.6 358h1.2M130.7 358h1.2M131.9 358h1.2M133.7 358h.6M135.5 358h.6M136.1 358h.6M138.5 358h.6M142.7 358h.6M145.1 358h.6M145.7 358h.6M146.3 358h.6M146.9 358h.6M147.5 358h1.2M226.4 358h.7M53.6 359.4h.7M112.4 359.4h.7M117.8 359.4h1.2M130.7 359.4h.6M131.3 359.4h1.2M132.5 359.4h1.2M134.3 359.4h.6M134.9 359.4h.6M135.5 359.4h.6M136.7 359.4h.6M137.3 359.4h.6M137.9 359.4h.6M139.7 359.4h.6M140.3 359.4h.6M142.1 359.4h.6M143.3 359.4h1.2M144.5 359.4h.6M146.3 359.4h.6M148.3 359.4h.7M148.7 359.4h1.2M166.9 359.4h.7M71.1 360.9h.7M111.8 360.9h.6M113.6 360.9h1.2M115.4 360.9h.6M121 360.9h.7M127.4 360.9h.6M151.5 360.9h1.2M152.7 360.9h.6M155.1 360.9h.6M155.7 360.9h.6M159.3 360.9h1.2M161.1 360.9h1.2M163.5 360.9h.6M165.9 360.9h1.2M167.7 360.9h1.2M168.9 360.9h1.2M170.1 360.9h1.2M107 362.4h1.2M146.9 362.4h.7M151.5 362.4h.6M152.1 362.4h1.2M156.9 362.4h.6M157.5 362.4h1.2M158.7 362.4h.6M159.3 362.4h.6M159.9 362.4h.6M160.5 362.4h1.2M161.7 362.4h.6M162.3 362.4h.6M164.7 362.4h.6M166.5 362.4h.6M167.1 362.4h.6M167.7 362.4h1.2M168.9 362.4h.6M170.1 362.4h.6M29.4 363.9h.7M41.2 363.9h.6M54.4 363.9h.6M59.2 363.9h.6M62.8 363.9h1.2M152.7 363.9h.6M153.3 363.9h.6M153.9 363.9h.6M155.1 363.9h.6M158.1 363.9h1.2M159.9 363.9h1.2M161.1 363.9h1.2M162.3 363.9h.6M162.9 363.9h.6M164.1 363.9h1.2M165.3 363.9h.6M165.9 363.9h.6M167.7 363.9h.6M168.9 363.9h.6M172.9 363.9h.6M174.1 363.9h1.2M178.3 363.9h1.2M179.5 363.9h.6M180.7 363.9h.6M181.3 363.9h1.2M203.2 363.9h.7M245.3 363.9h.7M23.2 365.3h1.2M35.1 365.3h.7M57.4 365.3h.6M77.9 365.3h.7M84.1 365.3h.7M109.4 365.3h.6M129.2 365.3h.6M151.5 365.3h.6M152.7 365.3h.6M153.3 365.3h.6M153.9 365.3h.6M156.3 365.3h1.2M161.1 365.3h1.2M164.7 365.3h.6M165.3 365.3h.6M167.7 365.3h.6M173.5 365.3h.6M175.3 365.3h.6M175.9 365.3h.6M178.9 365.3h.6M180.1 365.3h.6M181.3 365.3h1.2M182.5 365.3h1.2M184.3 365.3h.6M186.4 365.3h.7M192.8 365.3h.7M193.6 365.3h.7M20.8 366.8h.6M34.6 366.8h.6M72.4 366.8h.6M90.1 366.8h.7M113 366.8h.6M116.3 366.8h.7M123.8 366.8h.6M151.5 366.8h.6M152.1 366.8h.6M152.7 366.8h.6M153.3 366.8h.6M154.5 366.8h.6M155.7 366.8h.6M157.5 366.8h1.2M158.7 366.8h.6M161.1 366.8h.6M161.7 366.8h1.2M163.5 366.8h1.2M165.3 366.8h.6M165.9 366.8h1.2M168.3 366.8h1.2M172.3 366.8h.6M174.1 366.8h.6M177.7 366.8h1.2M178.9 366.8h.6M180.7 366.8h.6M184.9 366.8h1.2M186.1 366.8h.6M186.3 366.8h.7M187.3 366.8h.6M204.6 366.8h.7M244.3 366.8h.7M27.1 368.3h.7M37.6 368.3h.6M60.4 368.3h.6M110 368.3h1.2M151.5 368.3h1.2M152.7 368.3h.6M154.2 368.3h.7M155.1 368.3h1.2M156.3 368.3h.6M156.9 368.3h.6M158.7 368.3h.6M159.9 368.3h1.2M161.1 368.3h1.2M162.3 368.3h.6M162.9 368.3h.6M163.5 368.3h.6M164.7 368.3h.6M166.5 368.3h.6M167.1 368.3h1.2M168.9 368.3h.6M169.5 368.3h.6M172.9 368.3h.6M173.5 368.3h.6M174.1 368.3h.6M174.7 368.3h.6M177.1 368.3h.6M178.9 368.3h.6M182.5 368.3h.6M184.3 368.3h1.2M76.4 369.7h.7M93.6 369.7h.7M137.1 369.7h.7M152.7 369.7h.6M153.3 369.7h1.2M154.5 369.7h.6M155.1 369.7h1.2M159.9 369.7h1.2M161.1 369.7h1.2M162.3 369.7h.6M162.9 369.7h.6M163.5 369.7h.6M164.7 369.7h.6M166.5 369.7h1.2M168.3 369.7h1.2M169.5 369.7h1.2M172.9 369.7h.6M175.9 369.7h.6M177.1 369.7h.6M178.3 369.7h.6M178.9 369.7h.6M180.1 369.7h.6M180.7 369.7h.6M181.9 369.7h1.2M183.1 369.7h.6M184.9 369.7h1.2M70.8 371.2h.7M91.9 371.2h.7M151.5 371.2h.6M152.1 371.2h1.2M155.1 371.2h1.2M156.3 371.2h.6M157.5 371.2h.6M158.7 371.2h1.2M159.9 371.2h1.2M161.1 371.2h.6M162.9 371.2h1.2M164.7 371.2h.6M166.5 371.2h1.2M168.3 371.2h.6M169.5 371.2h.6M170.1 371.2h.6M173.5 371.2h.6M175.3 371.2h1.2M176.5 371.2h1.2M178.3 371.2h.6M180.1 371.2h.6M180.7 371.2h1.2M182.5 371.2h.6M184.3 371.2h.6M186.1 371.2h.6M235.2 371.2h.7M46.3 372.7h.7M88.3 372.7h.7M90.2 372.7h.7M118.3 372.7h.7M120.1 372.7h.7M154.5 372.7h.6M158.1 372.7h1.2M161.7 372.7h.6M162.9 372.7h.6M164.7 372.7h.6M166.5 372.7h1.2M167.7 372.7h1.2M168.9 372.7h.6M169.5 372.7h1.2M204.6 372.7h.7M253.8 372.7h.7M33.9 374.2h.7M153.3 374.2h1.2M157.5 374.2h.6M159.3 374.2h.6M159.9 374.2h.6M161.1 374.2h.6M164.1 374.2h.6M165.9 374.2h.6M170.1 374.2h.6M198.4 374.2h.7M215.1 374.2h.7M220.5 374.2h.7M220.6 375.6h.7M152.7 377.1h1.2M160.5 377.1h1.2M34.6 378.6h.7M111.5 378.6h.7M113.9 378.6h.7M125.6 378.6h.7M161.1 378.6h.6M163.1 378.6h.7M172.3 378.6h.6M172.9 378.6h.6M173.5 378.6h1.2M175.3 378.6h.6M176.3 378.6h.7M177.1 378.6h.6M179.5 378.6h.6M180.7 378.6h.6M181.3 378.6h.6M182.5 378.6h.6M182.6 378.6h.7M183.1 378.6h.6M187.3 378.6h.6M226.4 378.6h.7M19.8 380h.7M153.8 380h.7M153.9 380h.6M164.1 380h.6M164.7 380h.6M172.9 380h.6M173.5 380h.6M174.7 380h1.2M177.1 380h.6M180.7 380h.6M182.4 380h.7M182.5 380h.6M183.7 380h1.2M185.5 380h.6M186.7 380h.6M78.3 381.5h.7M129.7 381.5h.7M156.3 381.5h1.2M162.2 381.5h.7M171.7 381.5h.6M172.3 381.5h.6M172.9 381.5h.6M175.9 381.5h1.2M177.1 381.5h.6M177.7 381.5h.6M178.3 381.5h1.2M183.1 381.5h1.2M186.7 381.5h1.2M206.6 381.5h.7M234.8 381.5h.7M59.4 383h.7M104 383h.7M138.8 383h.7M158.1 383h.6M165.3 383h.6M167.7 383h.6M171.7 383h1.2M172.9 383h1.2M174.1 383h.6M174.7 383h1.2M175.9 383h1.2M177.7 383h1.2M178.9 383h.6M179.5 383h1.2M181.9 383h1.2M183.7 383h.6M184.3 383h.6M184.9 383h.6M185.5 383h.6M186.1 383h.6M186.7 383h1.2M208.8 383h.7M241.7 383h.7M85.8 384.5h1.2M98.4 384.5h1.2M104.6 384.5h.6M109.4 384.5h1.2M155.1 384.5h.6M158.7 384.5h.6M159.3 384.5h1.2M161.7 384.5h.6M164.7 384.5h1.2M167.1 384.5h.6M168.3 384.5h1.2M169.5 384.5h1.2M172.9 384.5h1.2M178.3 384.5h1.2M179.5 384.5h.6M180.7 384.5h.6M181.3 384.5h.6M185.4 384.5h.7M185.7 384.5h.7M187.3 384.5h1.2M91.2 385.9h.6M110.6 385.9h.6M127.4 385.9h.7M151.5 385.9h1.2M153.3 385.9h.6M153.9 385.9h1.2M156.9 385.9h.6M158.7 385.9h1.2M161.7 385.9h.6M162.9 385.9h.6M165.3 385.9h.6M167.1 385.9h.6M167.7 385.9h.6M168.3 385.9h.6M169.5 385.9h.6M171.7 385.9h.6M174.1 385.9h.6M174.7 385.9h1.2M175.9 385.9h.6M177.1 385.9h.6M178.9 385.9h1.2M181.3 385.9h.6M185.5 385.9h.6M186.1 385.9h.6M219.5 385.9h.7M76.8 387.4h1.2M77.6 387.4h.7M82.8 387.4h.6M91.2 387.4h1.2M99.1 387.4h.7M105.8 387.4h.6M109.4 387.4h.6M121.4 387.4h.6M126.2 387.4h1.2M153.3 387.4h.6M158.7 387.4h.6M164.1 387.4h1.2M172.9 387.4h.6M178.9 387.4h.6M179.5 387.4h.6M180.7 387.4h.6M181.9 387.4h1.2M183.7 387.4h1.2M186.1 387.4h1.2M187.3 387.4h1.2M226.8 387.4h.7M240.9 387.4h.7M21.3 388.9h.7M32.1 388.9h.7M93.6 388.9h.6M105.8 388.9h1.2M114.5 388.9h.7M151.5 388.9h.6M152.7 388.9h.6M153.9 388.9h.6M157.5 388.9h.6M160.5 388.9h1.2M161.7 388.9h.6M162.3 388.9h1.2M173.5 388.9h.6M174.1 388.9h.6M174.7 388.9h.6M175.3 388.9h1.2M177.7 388.9h.6M178.3 388.9h1.2M180.1 388.9h1.2M181.3 388.9h.6M183.1 388.9h.6M183.7 388.9h1.2M184.8 388.9h.7M185.5 388.9h.6M186.1 388.9h.6M186.7 388.9h.6M116.9 390.3h.7M145.4 390.3h.7M152.7 390.3h.6M159.3 390.3h.6M160.5 390.3h.6M161.1 390.3h.6M161.7 390.3h.6M164.7 390.3h1.2M167.7 390.3h1.2M177.7 390.3h1.2M180.7 390.3h.6M181.3 390.3h1.2M87.6 391.8h.6M100.2 391.8h1.2M103.7 391.8h.7M113.6 391.8h.7M152.7 391.8h.6M154.5 391.8h.6M162.9 391.8h.6M163.5 391.8h1.2M166.5 391.8h.6M172.3 391.8h.7M172.9 391.8h.6M173.5 391.8h.6M174.1 391.8h1.2M175.9 391.8h1.2M177.1 391.8h1.2M178.3 391.8h1.2M180.1 391.8h.6M180.7 391.8h.6M181.9 391.8h.6M183.7 391.8h.6M184.3 391.8h1.2M186.1 391.8h.6M186.7 391.8h.6M187.3 391.8h.7M187.3 391.8h.6M222.6 391.8h.7M25.9 393.3h.7M104 393.3h.7M157.5 393.3h.6M159.9 393.3h.6M160.5 393.3h.6M162.3 393.3h.6M163.5 393.3h.6M167.7 393.3h.6M172.9 393.3h.6M173.5 393.3h.6M177.1 393.3h1.2M178.3 393.3h1.2M179.5 393.3h.6M181.3 393.3h1.2M182.5 393.3h1.2M183.7 393.3h1.2M185.5 393.3h1.2M186.7 393.3h.6M83.6 394.8h.7M151.5 394.8h.6M154.5 394.8h.6M155.1 394.8h1.2M159.2 394.8h.7M159.3 394.8h1.2M162.9 394.8h.6M165.9 394.8h.6M172.9 394.8h.6M174.7 394.8h1.2M177.1 394.8h1.2M178.9 394.8h1.2M181.3 394.8h.6M183.7 394.8h.6M184.3 394.8h1.2M186.1 394.8h.6M205.4 394.8h.7M143.4 396.2h.7M153.9 396.2h1.2M155.1 396.2h.6M156.9 396.2h1.2M158.1 396.2h1.2M168.9 396.2h.6M170.1 396.2h.6M172.9 396.2h.6M176.5 396.2h.6M177.1 396.2h.6M180.1 396.2h.6M181.3 396.2h.6M181.9 396.2h.6M182.5 396.2h.6M184.3 396.2h.6M185.5 396.2h.6M186.1 396.2h1.2M187.3 396.2h1.2M76.2 397.7h1.2M80.4 397.7h1.2M84 397.7h.6M86.4 397.7h.6M87 397.7h1.2M89.4 397.7h.6M90.6 397.7h.6M95.4 397.7h1.2M97.2 397.7h1.2M102 397.7h.6M192.1 397.7h1.2M195.1 397.7h.6M197.5 397.7h.6M198.1 397.7h.6M218.6 397.7h.6M222.8 397.7h1.2M225.2 397.7h.6M225.8 397.7h1.2M227.6 397.7h1.2M230.6 397.7h.6M253.5 397.7h.6M255.3 397.7h.6M255.9 397.7h1.2M23.2 399.2h1.2M35.2 399.2h.6M40 399.2h.6M46.6 399.2h.6M49 399.2h.6M59.2 399.2h.6M65.4 399.2h.7M76.8 399.2h.6M80.4 399.2h1.2M91.8 399.2h1.2M93 399.2h.6M93.6 399.2h1.2M94.8 399.2h1.2M97.2 399.2h.6M125 399.2h.6M190.3 399.2h.6M191.5 399.2h.6M193.3 399.2h.6M198.1 399.2h.6M198.7 399.2h.6M199.3 399.2h1.2M201.1 399.2h.6M201.7 399.2h.6M206.1 399.2h1.2M211.5 399.2h.6M218.6 399.2h.6M219.8 399.2h.6M222.2 399.2h.6M223.4 399.2h.6M225.2 399.2h.6M226.4 399.2h.6M227.6 399.2h1.2M251.1 399.2h.6M253.5 399.2h.6M78.6 400.6h.6M79.4 400.6h.7M81.6 400.6h.6M82.8 400.6h1.2M90.6 400.6h1.2M91.8 400.6h.6M94.8 400.6h.6M101.4 400.6h.6M103.1 400.6h.7M120.2 400.6h1.2M123.8 400.6h.6M158.8 400.6h.7M184.8 400.6h.7M188.7 400.6h.7M191.5 400.6h.6M192.1 400.6h.6M192.7 400.6h.6M199.9 400.6h.6M202.3 400.6h1.2M206.1 400.6h1.2M207.9 400.6h1.2M218.6 400.6h.6M225.8 400.6h.6M226.4 400.6h.6M228.8 400.6h.7M231.7 400.6h.7M251.7 400.6h1.2M254.1 400.6h.6M74.4 402.1h1.2M75.6 402.1h.6M82.2 402.1h1.2M89.4 402.1h1.2M91.2 402.1h.6M94.2 402.1h1.2M96 402.1h1.2M117.8 402.1h.6M119.6 402.1h1.2M178 402.1h.7M189.1 402.1h.6M189.7 402.1h.6M193.9 402.1h1.2M195.7 402.1h1.2M197.5 402.1h1.2M199.9 402.1h1.2M201.1 402.1h.6M202.3 402.1h1.2M215.1 402.1h.6M220.4 402.1h1.2M247.9 402.1h.7M252.9 402.1h.6M189.1 403.6h.6M190.3 403.6h.6M192.1 403.6h1.2M193.3 403.6h.6M193.9 403.6h1.2M195.1 403.6h1.2M196.3 403.6h1.2M198.1 403.6h1.2M199.9 403.6h1.2M201.1 403.6h.6M204.9 403.6h.6M212.7 403.6h.6M216.3 403.6h.6M218.6 403.6h.6M221.6 403.6h1.2M249.9 403.6h1.2M253.5 403.6h.6M254.1 403.6h.6M255.3 403.6h1.2M123.2 405h.7M189.7 405h.6M192.7 405h.6M193.3 405h.6M193.9 405h.6M196.3 405h.6M197.5 405h.6M201.1 405h1.2M202.3 405h.6M212.7 405h1.2M222.8 405h1.2M226.4 405h1.2M227.6 405h.6M228.8 405h1.2M129.4 406.5h.7M189.7 406.5h1.2M190.9 406.5h.6M191.5 406.5h.6M193.3 406.5h1.2M195.1 406.5h.6M195.7 406.5h.6M196.9 406.5h.6M199.9 406.5h.6M200.5 406.5h1.2M228.8 406.5h.6M229.4 406.5h.6M154.6 408h.7M187.2 408h.7M189.1 408h.6M192.1 408h1.2M193.9 408h1.2M196.3 408h1.2M197.5 408h.6M198.1 408h1.2M199.9 408h.6M200.5 408h.6M201.1 408h1.2M219.2 408h.6M222.2 408h1.2M227.6 408h1.2M230 408h.6M118.5 409.5h.7M191.5 409.5h1.2M193.9 409.5h.6M196.9 409.5h1.2M198.1 409.5h.6M198.7 409.5h.6M200.5 409.5h.6M201.1 409.5h1.2M219 409.5h.7M253.6 409.5h.7M255.8 409.5h.7M25 410.9h.7M144.2 410.9h.7M165 410.9h.7M198.7 410.9h.7M199.3 410.9h.7M207.9 410.9h1.2M209.1 410.9h.6M211.5 410.9h.6M212.1 410.9h.6M224.4 410.9h.7M179.5 412.4h.7M203.7 412.4h1.2M204.9 412.4h.6M208.5 412.4h1.2M212.1 412.4h.6M212.7 412.4h1.2M214.5 412.4h1.2M29 413.9h.7M203.7 413.9h.6M204.3 413.9h.6M205.5 413.9h1.2M208.5 413.9h.6M209.7 413.9h.6M210.3 413.9h.6M214.5 413.9h1.2M215.7 413.9h1.2M216.9 413.9h1.2M227.5 413.9h.7M175.8 415.3h.7M180.2 415.3h.7M194.2 415.3h.7M201.5 415.3h.7M209.7 415.3h.6M210.3 415.3h1.2M211.5 415.3h.6M215.7 415.3h.6M251.2 415.3h.7M41.4 416.8h.7M100.4 416.8h.7M185.1 416.8h.7M207.3 416.8h.6M211.5 416.8h.6M212.1 416.8h.6M215.7 416.8h.6M216.3 416.8h.6M206.1 418.3h1.2M207.3 418.3h.6M210.3 418.3h1.2M211.5 418.3h1.2M215.7 418.3h.6M216.9 418.3h.6M221.7 418.3h.7M243.3 418.3h.7M94.2 419.8h.7M110.1 419.8h.7M204.3 419.8h.6M206.1 419.8h1.2M207.3 419.8h1.2M208.5 419.8h1.2M210.9 419.8h.6M211.5 419.8h.6M214.5 419.8h.6M215.7 419.8h1.2M20.8 421.2h.7M154.6 421.2h.7M203.7 421.2h.6M205.5 421.2h.6M206.1 421.2h1.2M209.1 421.2h1.2M210.9 421.2h.6M211.5 421.2h.6M215.7 421.2h1.2M61.2 422.7h.7M148.3 422.7h.7M203.7 422.7h1.2M205.5 422.7h1.2M206.7 422.7h.6M207.3 422.7h.6M208.5 422.7h.6M209.7 422.7h.6M212.1 422.7h1.2M213.9 422.7h.6M214.5 422.7h1.2M215.7 422.7h.6M216.3 422.7h.6M216.9 422.7h.6M188 424.2h.7M203.7 424.2h.6M204.3 424.2h.6M205.5 424.2h1.2M206.7 424.2h1.2M208.5 424.2h.6M209.7 424.2h.6M210.3 424.2h1.2M212.1 424.2h1.2M213.3 424.2h.6M213.9 424.2h1.2M215.1 424.2h.6M215.7 424.2h1.2M216.9 424.2h.6M238.6 424.2h.7M252.6 424.2h.7M95.6 425.6h.7M113.9 425.6h.7M129.1 425.6h.7M204.9 425.6h.6M205.5 425.6h.7M207.3 425.6h.7M212.7 425.6h.6M213.3 425.6h1.2M215.7 425.6h.6M144.3 427.1h.7M219.8 427.1h.6M220.4 427.1h1.2M222.8 427.1h1.2M226.4 427.1h1.2M227.6 427.1h1.2M235 427.1h.7M140.9 428.6h.7M218.6 428.6h1.2M220.4 428.6h1.2M223.4 428.6h.6M224.6 428.6h1.2M227 428.6h.6M230 428.6h.6M105.1 430.1h.7M173 430.1h.7M221.6 430.1h.6M222.2 430.1h.6M226.4 430.1h1.2M228.2 430.1h.6M229.4 430.1h.6M22.6 431.5h.7M105.7 431.5h.7M142.8 431.5h.7M218.6 431.5h.6M223.4 431.5h.6M134.9 433h.7M222.2 433h1.2M224 433h.6M224.6 433h.6M225.2 433h1.2M227 433h.6M227.6 433h1.2M228.8 433h.6M230.6 433h.6M245.1 433h.7M83 434.5h.7M143.2 434.5h.7M219.2 434.5h1.2M220.4 434.5h1.2M221.6 434.5h1.2M227 434.5h1.2M228.2 434.5h.6M229.4 434.5h.6M230 434.5h.6M84.4 435.9h.7M114.5 435.9h.7M128.2 435.9h.7M133.1 435.9h.7M218.6 435.9h.6M219.8 435.9h.6M220.4 435.9h.6M221 435.9h1.2M224.6 435.9h.6M227 435.9h1.2M228.8 435.9h1.2M230 435.9h.6M252.3 435.9h.7M97.8 437.4h.7M119 437.4h.7M209.7 437.4h.6M219.8 437.4h.6M220.4 437.4h.6M221 437.4h.6M222.2 437.4h1.2M224 437.4h.6M224.6 437.4h1.2M225.8 437.4h.6M228.2 437.4h.6M230 437.4h.6M230.6 437.4h.6M78 438.9h.7M93 438.9h.6M97.2 438.9h1.2M99.6 438.9h1.2M150.6 438.9h.7M201.7 438.9h.6M210.9 438.9h1.2M218.6 438.9h1.2M222.2 438.9h.6M230.6 438.9h.6M246.8 438.9h.7M28.3 440.4h.7M90.6 440.4h.6M99 440.4h.6M162.6 440.4h.7M186.8 440.4h.7M195.1 440.4h.6M204.9 440.4h1.2M206.7 440.4h.6M209.7 440.4h1.2M213.3 440.4h.6M218.6 440.4h.6M219.2 440.4h1.2M221 440.4h1.2M222.2 440.4h.6M223.4 440.4h1.2M229.4 440.4h.6M230 440.4h.6M204.3 441.8h1.2M206.1 441.8h1.2M209.7 441.8h.6M212.1 441.8h.6M215.1 441.8h1.2M221 441.8h.6M222.8 441.8h.6M223.4 441.8h.6M224 441.8h1.2M227.6 441.8h1.2M230 441.8h1.2M61.1 443.3h.7M156.5 443.3h.7M216.4 443.3h.7M232.8 443.3h.6M233.4 443.3h1.2M236.4 443.3h.6M55.9 444.8h.7M59.6 444.8h.7M123.9 444.8h.7M134.6 444.8h.7M136.3 444.8h.7M199.9 444.8h.7M232.2 444.8h1.2M233.4 444.8h1.2M235.8 444.8h.6M236.4 444.8h1.2M238.2 444.8h.6M238.8 444.8h1.2M240 444.8h.6M240.6 444.8h.6M241.2 444.8h.6M127.2 446.2h.7M232.8 446.2h.6M234.6 446.2h.6M235.2 446.2h1.2M237 446.2h1.2M239.4 446.2h1.2M84.7 447.7h.7M96.9 447.7h.7M141.6 447.7h.7M238.2 447.7h1.2M239.4 447.7h.6M241.2 447.7h.6M67.4 449.2h.7M130.7 449.2h.6M132.5 449.2h1.2M136.1 449.2h1.2M139.7 449.2h.6M140.3 449.2h1.2M144.5 449.2h1.2M235.8 449.2h.6M236.4 449.2h1.2M79.5 450.7h.7M93.2 450.7h.7M133.1 450.7h.6M136.7 450.7h.6M138.5 450.7h1.2M139.7 450.7h.6M146.9 450.7h1.2M182.6 450.7h.7M232.8 450.7h.6M234.6 450.7h.6M235.8 450.7h.6M236.4 450.7h.6M240.6 450.7h.6M241.2 450.7h.6M49 452.1h.7M130.7 452.1h.6M133.9 452.1h.7M138.5 452.1h.6M218.6 452.1h.6M222.8 452.1h1.2M226.4 452.1h1.2M227.6 452.1h.6M229.4 452.1h.6M233.4 452.1h.6M236.4 452.1h.6M237 452.1h.6M238.2 452.1h.6M238.8 452.1h.6M239.4 452.1h.6M240 452.1h.6M240.6 452.1h.6M139.5 453.6h.7M140.4 453.6h.7M232.8 453.6h1.2M237 453.6h.6M238.2 453.6h.6M238.8 453.6h1.2M240 453.6h1.2M206.8 455.1h.7M232.2 455.1h.6M232.8 455.1h1.2M233.4 455.1h1.2M234.6 455.1h1.2M235.8 455.1h.6M236.4 455.1h.6M236.4 455.1h.6M237.6 455.1h1.2M238.2 455.1h.6M240.6 455.1h.6M125.1 456.5h.7M169.6 456.5h.7M232.2 456.5h.6M232.2 456.5h.6M232.8 456.5h.6M233.4 456.5h.6M234 456.5h1.2M237.6 456.5h.6M237.6 456.5h.6M238.2 456.5h.6M238.8 456.5h1.2M240.6 456.5h.6M241.2 456.5h.6M253 456.5h.7M29.7 458h.7M147.4 458h.7M234 458h.6M238.2 458h.6M238.8 458h1.2M240.6 458h.6M246.2 458h.6M247.4 458h.6M28 459.5h.7M34.7 459.5h.7M122.8 459.5h.7M155.5 459.5h.7M174.5 459.5h.7M186.2 459.5h.7M232.2 459.5h1.2M237 459.5h.6M244.4 459.5h1.2M247.4 459.5h.6M155.3 461h.7M167.3 461h.7M233.4 461h.6M234.6 461h.6M235.8 461h.6M238.2 461h.6M239.4 461h1.2M243.8 461h.6M244.4 461h.6M245 461h1.2M246.2 461h.6M247.4 461h.6M248 461h.6M150.2 462.4h.7M229.2 462.4h.7M243.2 462.4h1.2M244.4 462.4h1.2M246.2 462.4h.6M246.8 462.4h.6M247.4 462.4h.6M248 462.4h.6M107.6 463.9h.7M150 463.9h.7M156.9 463.9h.6M159.9 463.9h.6M242.6 463.9h.6M243.2 463.9h1.2M245.6 463.9h1.2M247.4 463.9h.6M93.7 465.4h.7M158.2 465.4h.7M162.9 465.4h1.2M213.1 465.4h.7M245 465.4h.6M246.8 465.4h.6M247.4 465.4h.6M23.8 466.8h.7M63.5 466.8h.7M156.9 466.8h.6M158.7 466.8h1.2M160.3 466.8h.7M160.5 466.8h1.2M242.6 466.8h1.2M244.4 466.8h.6M245.6 466.8h.6M248 466.8h1.2M146.1 468.3h.7M153.9 468.3h.6M163.5 468.3h.6M168.9 468.3h.6M169.5 468.3h.6M205.2 468.3h.7M226.2 468.3h.7M246.8 468.3h.6M247.4 468.3h.6M248 468.3h.6M249.4 468.3h.7M152.7 469.8h1.2M156.9 469.8h.6M159.3 469.8h1.2M160.5 469.8h1.2M165.9 469.8h1.2M173.5 469.8h1.2M175.9 469.8h.6M177.1 469.8h.6M179.5 469.8h.6M181.3 469.8h1.2M204.8 469.8h.7M243.8 469.8h.6M245.6 469.8h.6M78.4 471.3h.7M158.1 471.3h1.2M161.1 471.3h.6M162.9 471.3h.6M165.9 471.3h.6M172.9 471.3h.6M177.7 471.3h.6M180.1 471.3h.6M184.3 471.3h1.2M248 471.3h.6M152.1 472.7h.6M159.3 472.7h.6M178.3 472.7h.6M180.7 472.7h.6M184.3 472.7h1.2M186.7 472.7h1.2M36.4 474.2h.7M141.1 474.2h.7M153.3 474.2h.6M154.5 474.2h.6M156.3 474.2h1.2M164.7 474.2h.6M167.7 474.2h.6M168.3 474.2h1.2M175.9 474.2h.6M177.1 474.2h1.2M184.3 474.2h.6M243.2 474.2h1.2M246.8 474.2h.6M247.4 474.2h.6M248 474.2h.6M129.6 475.7h.7M249.9 475.7h1.2M85.4 477.1h.7M230.3 477.1h.7M250.5 477.1h.6M252.9 477.1h1.2M240.3 478.6h.7M249.9 478.6h.6M251.7 478.6h.6M252.9 478.6h1.2M254.1 478.6h.6M155.3 480.1h.7M254.7 480.1h1.2M201.1 481.6h.7M249.9 481.6h.6M250.5 481.6h.6M62.6 483h.7M153.3 483h.6M155.1 483h.6M157.5 483h.6M159.3 483h1.2M160.5 483h.6M161.1 483h1.2M163.5 483h1.2M166.5 483h1.2M176.3 483h.7M183.7 483h.6M249.9 483h.6M252.9 483h.6M255.3 483h.6M255.9 483h.6M160.5 484.5h1.2M166.5 484.5h.6M170.1 484.5h.6M172.9 484.5h.6M175.9 484.5h1.2M183.7 484.5h.6M186.4 484.5h.7M241 484.5h.7M249.9 484.5h.6M250.5 484.5h.6M251.1 484.5h.6M254.1 484.5h.6M255.3 484.5h.6M255.9 484.5h.6M153.9 486h.7M251.1 486h.6M251.7 486h1.2M254.1 486h.6" stroke="#FFF200" stroke-width="1.6" fill="none"/>
<rect x="73.6" y="313.1" width="0.8" height="173.6" fill="#f4eef6"/>
<rect x="103.8" y="313.1" width="0.8" height="173.6" fill="#f4eef6"/>
<rect x="129.9" y="313.1" width="0.8" height="173.6" fill="#f4eef6"/>
<rect x="150.7" y="313.1" width="0.8" height="173.6" fill="#f4eef6"/>
<rect x="170.9" y="313.1" width="0.8" height="173.6" fill="#f4eef6"/>
<rect x="188.3" y="313.1" width="0.8" height="173.6" fill="#f4eef6"/>
<rect x="202.9" y="313.1" width="0.8" height="173.6" fill="#f4eef6"/>
<rect x="217.8" y="313.1" width="0.8" height="173.6" fill="#f4eef6"/>
<rect x="231.4" y="313.1" width="0.8" height="173.6" fill="#f4eef6"/>
<rect x="241.8" y="313.1" width="0.8" height="173.6" fill="#f4eef6"/>
<rect x="249.1" y="313.1" width="0.8" height="173.6" fill="#f4eef6"/>
<text x="18.9" y="314.6" font-size="2.3" fill="#8a8a8a" text-anchor="end">CCL5</text>
<text x="18.9" y="316.1" font-size="2.3" fill="#8a8a8a" text-anchor="end">NKG7</text>
<text x="18.9" y="317.6" font-size="2.3" fill="#8a8a8a" text-anchor="end">GZMA</text>
<text x="18.9" y="319.1" font-size="2.3" fill="#8a8a8a" text-anchor="end">CD3D</text>
<text x="18.9" y="320.6" font-size="2.3" fill="#8a8a8a" text-anchor="end">IL7R</text>
<text x="18.9" y="322.1" font-size="2.3" fill="#8a8a8a" text-anchor="end">CD2</text>
<text x="18.9" y="323.6" font-size="2.3" fill="#8a8a8a" text-anchor="end">TRAC</text>
<text x="18.9" y="325.1" font-size="2.3" fill="#8a8a8a" text-anchor="end">KRT19</text>
<text x="18.9" y="326.6" font-size="2.3" fill="#8a8a8a" text-anchor="end">KRT8</text>
<text x="18.9" y="328.1" font-size="2.3" fill="#8a8a8a" text-anchor="end">KRT18</text>
<text x="18.9" y="329.6" font-size="2.3" fill="#8a8a8a" text-anchor="end">CLDN4</text>
<text x="18.9" y="331.1" font-size="2.3" fill="#8a8a8a" text-anchor="end">ELF3</text>
<text x="18.9" y="332.6" font-size="2.3" fill="#8a8a8a" text-anchor="end">SCGB2A2</text>
<text x="18.9" y="334.1" font-size="2.3" fill="#8a8a8a" text-anchor="end">MGP</text>
<text x="18.9" y="335.6" font-size="2.3" fill="#8a8a8a" text-anchor="end">KRT15</text>
<text x="18.9" y="337.1" font-size="2.3" fill="#8a8a8a" text-anchor="end">SLPI</text>
<text x="18.9" y="338.6" font-size="2.3" fill="#8a8a8a" text-anchor="end">AZGP1</text>
<text x="18.9" y="340.1" font-size="2.3" fill="#8a8a8a" text-anchor="end">PIP</text>
<text x="18.9" y="341.6" font-size="2.3" fill="#8a8a8a" text-anchor="end">IGKC</text>
<text x="18.9" y="343.1" font-size="2.3" fill="#8a8a8a" text-anchor="end">IGHG1</text>
<text x="18.9" y="344.6" font-size="2.3" fill="#8a8a8a" text-anchor="end">LYZ</text>
<text x="18.9" y="346.1" font-size="2.3" fill="#8a8a8a" text-anchor="end">HLA-DRA</text>
<text x="18.9" y="347.6" font-size="2.3" fill="#8a8a8a" text-anchor="end">C1QA</text>
<text x="18.9" y="349.1" font-size="2.3" fill="#8a8a8a" text-anchor="end">C1QB</text>
<text x="18.9" y="350.6" font-size="2.3" fill="#8a8a8a" text-anchor="end">CD74</text>
<text x="18.9" y="352.1" font-size="2.3" fill="#8a8a8a" text-anchor="end">TYROBP</text>
<text x="18.9" y="353.6" font-size="2.3" fill="#8a8a8a" text-anchor="end">AIF1</text>
<text x="18.9" y="355.1" font-size="2.3" fill="#8a8a8a" text-anchor="end">CST3</text>
<text x="18.9" y="356.6" font-size="2.3" fill="#8a8a8a" text-anchor="end">FCER1G</text>
<text x="18.9" y="358" font-size="2.3" fill="#8a8a8a" text-anchor="end">SPP1</text>
<text x="18.9" y="359.5" font-size="2.3" fill="#8a8a8a" text-anchor="end">RGS5</text>
<text x="18.9" y="361" font-size="2.3" fill="#8a8a8a" text-anchor="end">ACTA2</text>
<text x="18.9" y="362.5" font-size="2.3" fill="#8a8a8a" text-anchor="end">TAGLN</text>
<text x="18.9" y="364" font-size="2.3" fill="#8a8a8a" text-anchor="end">MYL9</text>
<text x="18.9" y="365.5" font-size="2.3" fill="#8a8a8a" text-anchor="end">IGFBP7</text>
<text x="18.9" y="367" font-size="2.3" fill="#8a8a8a" text-anchor="end">NDUFA4L2</text>
<text x="18.9" y="368.5" font-size="2.3" fill="#8a8a8a" text-anchor="end">COL1A1</text>
<text x="18.9" y="370" font-size="2.3" fill="#8a8a8a" text-anchor="end">COL1A2</text>
<text x="18.9" y="371.5" font-size="2.3" fill="#8a8a8a" text-anchor="end">DCN</text>
<text x="18.9" y="373" font-size="2.3" fill="#8a8a8a" text-anchor="end">LUM</text>
<text x="18.9" y="374.5" font-size="2.3" fill="#8a8a8a" text-anchor="end">COL3A1</text>
<text x="18.9" y="376" font-size="2.3" fill="#8a8a8a" text-anchor="end">SFRP2</text>
<text x="18.9" y="377.5" font-size="2.3" fill="#8a8a8a" text-anchor="end">POSTN</text>
<text x="18.9" y="379" font-size="2.3" fill="#8a8a8a" text-anchor="end">CTSK</text>
<text x="18.9" y="380.5" font-size="2.3" fill="#8a8a8a" text-anchor="end">FN1</text>
<text x="18.9" y="382" font-size="2.3" fill="#8a8a8a" text-anchor="end">APOD</text>
<text x="18.9" y="383.5" font-size="2.3" fill="#8a8a8a" text-anchor="end">KRT14</text>
<text x="18.9" y="385" font-size="2.3" fill="#8a8a8a" text-anchor="end">KRT5</text>
<text x="18.9" y="386.5" font-size="2.3" fill="#8a8a8a" text-anchor="end">KRT17</text>
<text x="18.9" y="388" font-size="2.3" fill="#8a8a8a" text-anchor="end">SAA1</text>
<text x="18.9" y="389.5" font-size="2.3" fill="#8a8a8a" text-anchor="end">S100A2</text>
<text x="18.9" y="391" font-size="2.3" fill="#8a8a8a" text-anchor="end">MMP7</text>
<text x="18.9" y="392.5" font-size="2.3" fill="#8a8a8a" text-anchor="end">TACSTD2</text>
<text x="18.9" y="394" font-size="2.3" fill="#8a8a8a" text-anchor="end">STMN1</text>
<text x="18.9" y="395.5" font-size="2.3" fill="#8a8a8a" text-anchor="end">TOP2A</text>
<text x="18.9" y="397" font-size="2.3" fill="#8a8a8a" text-anchor="end">MKI67</text>
<text x="18.9" y="398.5" font-size="2.3" fill="#8a8a8a" text-anchor="end">HMGB2</text>
<text x="18.9" y="400" font-size="2.3" fill="#8a8a8a" text-anchor="end">TUBA1B</text>
<text x="18.9" y="401.4" font-size="2.3" fill="#8a8a8a" text-anchor="end">H2AFZ</text>
<text x="18.9" y="402.9" font-size="2.3" fill="#8a8a8a" text-anchor="end">CENPF</text>
<text x="18.9" y="404.4" font-size="2.3" fill="#8a8a8a" text-anchor="end">S100A8</text>
<text x="18.9" y="405.9" font-size="2.3" fill="#8a8a8a" text-anchor="end">S100A9</text>
<text x="18.9" y="407.4" font-size="2.3" fill="#8a8a8a" text-anchor="end">KRT81</text>
<text x="18.9" y="408.9" font-size="2.3" fill="#8a8a8a" text-anchor="end">MUCL1</text>
<text x="18.9" y="410.4" font-size="2.3" fill="#8a8a8a" text-anchor="end">CALML5</text>
<text x="18.9" y="411.9" font-size="2.3" fill="#8a8a8a" text-anchor="end">S100P</text>
<text x="18.9" y="413.4" font-size="2.3" fill="#8a8a8a" text-anchor="end">PLVAP</text>
<text x="18.9" y="414.9" font-size="2.3" fill="#8a8a8a" text-anchor="end">VWF</text>
<text x="18.9" y="416.4" font-size="2.3" fill="#8a8a8a" text-anchor="end">ACKR1</text>
<text x="18.9" y="417.9" font-size="2.3" fill="#8a8a8a" text-anchor="end">CLDN5</text>
<text x="18.9" y="419.4" font-size="2.3" fill="#8a8a8a" text-anchor="end">RAMP2</text>
<text x="18.9" y="420.9" font-size="2.3" fill="#8a8a8a" text-anchor="end">AQP1</text>
<text x="18.9" y="422.4" font-size="2.3" fill="#8a8a8a" text-anchor="end">DLK1</text>
<text x="18.9" y="423.9" font-size="2.3" fill="#8a8a8a" text-anchor="end">MEST</text>
<text x="18.9" y="425.4" font-size="2.3" fill="#8a8a8a" text-anchor="end">PTGDS</text>
<text x="18.9" y="426.9" font-size="2.3" fill="#8a8a8a" text-anchor="end">IGF2</text>
<text x="18.9" y="428.4" font-size="2.3" fill="#8a8a8a" text-anchor="end">CCL5</text>
<text x="18.9" y="429.9" font-size="2.3" fill="#8a8a8a" text-anchor="end">NKG7</text>
<text x="18.9" y="431.4" font-size="2.3" fill="#8a8a8a" text-anchor="end">GZMA</text>
<text x="18.9" y="432.9" font-size="2.3" fill="#8a8a8a" text-anchor="end">CD3D</text>
<text x="18.9" y="434.4" font-size="2.3" fill="#8a8a8a" text-anchor="end">IL7R</text>
<text x="18.9" y="435.9" font-size="2.3" fill="#8a8a8a" text-anchor="end">CD2</text>
<text x="18.9" y="437.4" font-size="2.3" fill="#8a8a8a" text-anchor="end">TRAC</text>
<text x="18.9" y="438.9" font-size="2.3" fill="#8a8a8a" text-anchor="end">KRT19</text>
<text x="18.9" y="440.4" font-size="2.3" fill="#8a8a8a" text-anchor="end">KRT8</text>
<text x="18.9" y="441.9" font-size="2.3" fill="#8a8a8a" text-anchor="end">KRT18</text>
<text x="18.9" y="443.4" font-size="2.3" fill="#8a8a8a" text-anchor="end">CLDN4</text>
<text x="18.9" y="444.8" font-size="2.3" fill="#8a8a8a" text-anchor="end">ELF3</text>
<text x="18.9" y="446.3" font-size="2.3" fill="#8a8a8a" text-anchor="end">SCGB2A2</text>
<text x="18.9" y="447.8" font-size="2.3" fill="#8a8a8a" text-anchor="end">MGP</text>
<text x="18.9" y="449.3" font-size="2.3" fill="#8a8a8a" text-anchor="end">KRT15</text>
<text x="18.9" y="450.8" font-size="2.3" fill="#8a8a8a" text-anchor="end">SLPI</text>
<text x="18.9" y="452.3" font-size="2.3" fill="#8a8a8a" text-anchor="end">AZGP1</text>
<text x="18.9" y="453.8" font-size="2.3" fill="#8a8a8a" text-anchor="end">PIP</text>
<text x="18.9" y="455.3" font-size="2.3" fill="#8a8a8a" text-anchor="end">IGKC</text>
<text x="18.9" y="456.8" font-size="2.3" fill="#8a8a8a" text-anchor="end">IGHG1</text>
<text x="18.9" y="458.3" font-size="2.3" fill="#8a8a8a" text-anchor="end">LYZ</text>
<text x="18.9" y="459.8" font-size="2.3" fill="#8a8a8a" text-anchor="end">HLA-DRA</text>
<text x="18.9" y="461.3" font-size="2.3" fill="#8a8a8a" text-anchor="end">C1QA</text>
<text x="18.9" y="462.8" font-size="2.3" fill="#8a8a8a" text-anchor="end">C1QB</text>
<text x="18.9" y="464.3" font-size="2.3" fill="#8a8a8a" text-anchor="end">CD74</text>
<text x="18.9" y="465.8" font-size="2.3" fill="#8a8a8a" text-anchor="end">TYROBP</text>
<text x="18.9" y="467.3" font-size="2.3" fill="#8a8a8a" text-anchor="end">AIF1</text>
<text x="18.9" y="468.8" font-size="2.3" fill="#8a8a8a" text-anchor="end">CST3</text>
<text x="18.9" y="470.3" font-size="2.3" fill="#8a8a8a" text-anchor="end">FCER1G</text>
<text x="18.9" y="471.8" font-size="2.3" fill="#8a8a8a" text-anchor="end">SPP1</text>
<text x="18.9" y="473.3" font-size="2.3" fill="#8a8a8a" text-anchor="end">RGS5</text>
<text x="18.9" y="474.8" font-size="2.3" fill="#8a8a8a" text-anchor="end">ACTA2</text>
<text x="18.9" y="476.3" font-size="2.3" fill="#8a8a8a" text-anchor="end">TAGLN</text>
<text x="18.9" y="477.8" font-size="2.3" fill="#8a8a8a" text-anchor="end">MYL9</text>
<text x="18.9" y="479.3" font-size="2.3" fill="#8a8a8a" text-anchor="end">IGFBP7</text>
<text x="18.9" y="480.8" font-size="2.3" fill="#8a8a8a" text-anchor="end">NDUFA4L2</text>
<text x="18.9" y="482.3" font-size="2.3" fill="#8a8a8a" text-anchor="end">COL1A1</text>
<text x="18.9" y="483.8" font-size="2.3" fill="#8a8a8a" text-anchor="end">COL1A2</text>
<text x="18.9" y="485.3" font-size="2.3" fill="#8a8a8a" text-anchor="end">DCN</text>
<text x="18.9" y="486.8" font-size="2.3" fill="#8a8a8a" text-anchor="end">LUM</text>
<text x="293.2" y="303.3" font-size="10.3" fill="#000" font-weight="bold">G</text>
<path d="M389.7 349.7h0m8.1 12h0m.1 1.1h0m1.4-.9h0m.7 1h0m1.2-1.4h0m3.9 1.4h0m1.3-1.5h0m1.7 .4h0m1.5 .4h0m6.9 .3h0m-29 2.7h0m3.4-.4h0m1.3 .5h0m1.4-1.5h0m1.5-.1h0m1.1 1.7h0m.9-1.1h0m.5 .9h0m.7-1.5h0m1.2 1.4h0m.1-1.1h0m1.4 .4h0m1.1-.8h0m1.1 1.2h0m.2-1.1h0m.8 1.6h0m.6-1.2h0m.2 1.8h0m1.3-.9h0m0-1.6h0m.8 2.1h0m2.7-.7h0m1.6-1.4h0m2.6 .7h0m.8 1.7h0m.8-1.8h0m3.1-.6h0m0 1.9h0m.7-1h0m.9 .3h0m.1 1h0m.3-2.6h0m11 2.8h0m-47.6 1.7h0m2.8 1.3h0m.5-2.6h0m.3 1.8h0m1-.3h0m.6-1.6h0m1 1.4h0m.3-1.3h0m1 1.6h0m.4-1.5h0m.1 2.6h0m.6-1.9h0m0 1.1h0m1-1.8h0m.1 1.4h0m1.1 1h0m.5-1.5h0m1 .1h0m.3-.9h0m1.2 .4h0m.5 1.2h0m.9-.4h0m.3 1.4h0m.3-2.4h0m1 2.1h0m.4-1.4h0m.2-1h0m1.1 0h0m.2 2.3h0m1.1-.8h0m1.3 1h0m.9-.8h0m.6-1.5h0m.7 .9h0m.8-1.4h0m1.2 .9h0m.9-.8h0m.3 2.1h0m.4-.9h0m1.3-.9h0m.1 2.4h0m.8-1.6h0m.7-.6h0m.7 2.3h0m1.3-2.3h0m.5 1.3h0m.8-1.4h0m1.5 .3h0m1.2 .5h0m0 1.4h0m.7-2.1h0m.3 1.6h0m2.4-1.4h0m0 1.8h0m-40.4 1.8h0m1 .2h0m1.3-1h0m1.4 .9h0m.8 .7h0m.5-1.1h0m1-1h0m.3 2.5h0m.6-1.2h0m.1-1.3h0m1.4 2.7h0m1.3-1.7h0m.9 1.3h0m.1-1.5h0m1.8-.1h0m1.8-.6h0m.4 1.9h0m1.1-1.4h0m.1 2.1h0m.4-1.2h0m2.1-.9h0m1-.2h0m.2 2.2h0m.5-1.3h0m1.2-.6h0m1.9 .2h0m1.2-.5h0m.2 1.2h0m.2 1.2h0m1.1-1h0m.5-1.2h0m.2 2.2h0m.9-1.9h0m1.7 0h0m.1 1.6h0m1.3-1.3h0m.8 1.4h0m.6-1.6h0m1 1h0m.4-1.5h0m1.2 1.1h0m.8-1h0m.4 2.3h0m.3-2.8h0m.4 .8h0m.3 1.3h0m1.1-.8h0m1.3-1.3h0m.3 2.2h0m.6-1h0m1.8 1.1h0m.1-2.1h0m.1 .9h0m1.2 1.2h0m0-1.9h0m.9 2.3h0m1.1-1.9h0m.8 1.8h0m.5-1h0m-47.2 4.2h0m.7-1h0m0-1.9h0m1.5 2.1h0m.8-2h0m.3 1.4h0m1 .8h0m.1-1.9h0m1 2.4h0m.1-2.3h0m.3 .9h0m.5 .9h0m1-1.2h0m.2 1.2h0m1.1-1.5h0m0 1h0m1.2 .1h0m.9-1h0m1.1 .3h0m.3 1.6h0m.5-2.5h0m.6 1h0m1.6-1h0m0 2h0m.7-.7h0m.3-1h0m.6 1h0m.9-1.2h0m.3 1.9h0m.7-1h0m1 1.2h0m.8-1.8h0m1.1 1.7h0m.5-2.4h0m.3 1.4h0m.8 1.1h0m2-1.2h0m1.1-.5h0m1.1 1.2h0m1.8 .4h0m.9-.6h0m1.5-1h0m.8 1.4h0m.2-1.5h0m1.2 .1h0m.2 .9h0m.6-1.8h0m.9 .8h0m.4 1.3h0m1.5-1h0m0 1h0m1-.4h0m.5-1.3h0m1.2 1.1h0m.8 1.4h0m.2-1.5h0m.1-1.2h0m.6 2.1h0m.6-1.6h0m.7 .8h0m.7-1h0m.4 .9h0m1.9-.5h0m.2 1.1h0m.6 .9h0m1-.5h0m.1-1.6h0m1 2h0m1.1-.8h0m-50 3.1h0m.4-.9h0m.6 1.3h0m1-1.2h0m1 1.7h0m.3-1.6h0m.3-1.1h0m.5 2.6h0m1-1.2h0m.9 .6h0m.2-1.2h0m1.8 .8h0m.2-1.4h0m1.1 .5h0m1.4-.8h0m.3 1.1h0m1 .8h0m1 .7h0m1-.8h0m1.1-1.1h0m1.3 1.9h0m.1-1.1h0m1.1-.8h0m1.3 1h0m1.4 .9h0m.1-2.3h0m1.3 2.1h0m.2-1.2h0m.4-1h0m1.1 .5h0m.5 1.1h0m1.2 .7h0m.2-1.6h0m1.2-.1h0m.8-.9h0m.6 2.9h0m.9-1.1h0m1.2-1.3h0m.3 1.1h0m.8-1.3h0m.1 2.1h0m1.6-.6h0m.2-1.4h0m1 1.1h0m1.1 .4h0m.1-1.5h0m1 1.5h0m.1-1.9h0m1.3 1.4h0m1-1h0m.6 2.1h0m.6-2.5h0m.8 2.1h0m1 .7h0m0-1.6h0m.8-1.2h0m.4 1.1h0m1.4 1.1h0m.2-1.8h0m.5 .8h0m1.7 .1h0m1 1h0m.1-1.1h0m.9 .7h0m0-1.2h0m1.3 1.6h0m1.1-1.4h0m-51.7 3.2h0m1.6-.2h0m1-.4h0m.4 2.2h0m.5-1.9h0m.5 .8h0m.8 1.1h0m.3-1h0m1-1.3h0m0 2.4h0m.1-1.3h0m1.4 .4h0m1.3-2h0m.2 1.5h0m.9 1.3h0m1-.3h0m1.6 .2h0m.1-2.3h0m.2 1.2h0m.7-.7h0m.1 1.5h0m1.3 .1h0m0-2.3h0m.8 1.4h0m1.7 1.3h0m0-2.2h0m.1 1h0m1.2-.6h0m.2 1h0m.7-1.6h0m.8 2h0m.8-1.3h0m1 0h0m1.6 .1h0m.6-1.3h0m1.6 2h0m1.1-1h0m.3 .9h0m.8 1h0m1.2-1.4h0m.4 1.4h0m.4-2.9h0m1.1 .3h0m.3 1.3h0m.8 .6h0m1.3-1.6h0m.4 1.3h0m.5-1.8h0m.6 2.3h0m.3-1.3h0m.4-1.1h0m1.1 1.3h0m.2 1.5h0m.5-2.7h0m.2 1.9h0m.9 .5h0m.6-1.8h0m1 1.1h0m.6-1h0m.8 1.5h0m.9 .5h0m.1-1.8h0m1.2-.4h0m.2 2.1h0m.7-2.1h0m.4 1.2h0m.9 .8h0m.5-1.8h0m.4 2.1h0m.9-1.3h0m1.2 .2h0m-44.9 2.3h0m1.1 1.1h0m.2-1.2h0m1.1 .9h0m.6-1.6h0m.6 2.1h0m.4-2.2h0m.6 2.4h0m.3-1h0m2.5-.6h0m0 1.3h0m.9-1.5h0m1-.4h0m.2 1.7h0m.9-1.5h0m.9 .8h0m1.5 .4h0m.6 1.1h0m.8-1.2h0m.6-1.5h0m.7 .7h0m.4 1.6h0m1.4-1.2h0m1.2 .5h0m.3-1.3h0m.5 1.9h0m1.2-1.5h0m0 1.2h0m1.2-1.3h0m1.1 1.4h0m.1-2.1h0m.6 .7h0m.8 1h0m1 .3h0m.2-1.3h0m.7 1.9h0m1.9-1.4h0m1 1.4h0m1.1-2.3h0m.1 2.2h0m.3-1h0m1.4-1.1h0m.2 1.1h0m.8-.7h0m.5 1.5h0m.8-1.9h0m.8 1.5h0m.7-1.9h0m1 2.2h0m.1-1.6h0m1.3 .3h0m.8 .6h0m1.3-.6h0m.8 1h0m1.2-.8h0m1 .7h0m.4-1h0m1.2-.2h0m-44.8 2.7h0m1-.2h0m0 1.8h0m.5-1h0m.9-.4h0m.1 1h0m1.3-1h0m.7 2.1h0m.5-1.4h0m1.1 1h0m.3-2.1h0m.1 1h0m1.8 .9h0m.1-2.1h0m.8 .8h0m.1 1.3h0m1-.6h0m.1-1.3h0m1.4 2.1h0m.3-1.1h0m1 1.1h0m.6-1.4h0m2-.3h0m.7 .8h0m1.3-1.1h0m1.1 1.2h0m1.3-.4h0m1.3 1.3h0m1-.5h0m.5-1.8h0m.5 1.9h0m.9-.4h0m.5 1.1h0m.1-2.5h0m.9 2.1h0m.2-1h0m.9 .9h0m.3-2.2h0m1.2 1.2h0m.4 .9h0m.7-.8h0m.7 1h0m1.3-2.1h0m.7 1.8h0m1.4-.3h0m.6 .7h0m.9-1.3h0m.8-1.1h0m.7 2.3h0m.4-1.1h0m.9 .6h0m.9-.5h0m.9-1.3h0m.3 2h0m1.3-1.9h0m.1 1.8h0m.9-1.3h0m-33.8 3h0m2.1 .6h0m2.5-.9h0m.4 1.2h0m1.3-.1h0m.8-1h0m.2 1.4h0m.8-1.6h0m.3 1.4h0m.7-1.3h0m1.8 1.2h0m1.3 .2h0m1.2-.8h0m1.5 .4h0m0 1.2h0m.2-2.2h0m1.8 2.1h0m.6-1.2h0m1.3 .3h0m.3 1h0m1.6-.9h0m.1-1.5h0m.8 1.3h0m.1 1h0m1.4-.6h0m.6-1.4h0m1.3 .6h0m1.1-.6h0m1.2-.3h0m.2 2.1h0m2.3-1.8h0m-26 3.1h0m1.4-.3h0m3-.2h0m2.4 .2h0m1.6-.1h0m.2 2.2h0m.6-1.4h0m1.3 1.8h0m.3-2h0m2.1-.3h0m2.6 .5h0m1.5 1h0m.2-1.3h0m1.7 .2h0m1.7 .5h0m2.2-1.1h0" stroke="#F8766D" stroke-width="1.9" stroke-linecap="round" fill="none"/>
<path d="M397.4 317h0m1.3 .7h0m1.5-.3h0m1.7-.3h0m1 .2h0m-9.8 3.6h0m1.4-2.3h0m.4 1.1h0m1-1.2h0m.2 2.3h0m.3-1.4h0m1-.4h0m1 .3h0m.1 1.2h0m1.4-1.9h0m.6 1.4h0m1.2-.1h0m1-1.6h0m.8 1h0m.9-.9h0m.3 2.2h0m.2-1.2h0m-11.6 4.2h0m1.2-2.4h0m.4 2h0m.2-1.2h0m.9 .5h0m1.2-1.5h0m.1 2.2h0m1.4 .4h0m.3-2h0m2.3-.2h0m.3 1.6h0m.8-1.4h0m.2 1h0m0 1.1h0m1.2-1.9h0m.3 1.1h0m.8-1.3h0m-12.9 3.7h0m.6 1.3h0m.9-1.9h0m.5 1.7h0m.8-1.2h0m.4 1.6h0m.7-2.5h0m.3 1.2h0m.8 .7h0m.4-1.2h0m1 1.8h0m0-1h0m.4-1.2h0m.6 1.9h0m.4-1.9h0m.7 2h0m.3-2.6h0m.3 1h0m.5 1h0m1.4-.2h0m.3-1.2h0m.7 1h0m.4-1.1h0m1.4 .9h0m1.4-1.1h0m-15.6 2.8h0m.7 2.1h0m.3-1h0m.9 1.1h0m.3-1.8h0m.6 1.3h0m.8-.5h0m.5 1.4h0m.2-2.1h0m1.7 1.8h0m1.4 .1h0m.7-1.5h0m.7 1.1h0m.7 .8h0m.4-2.4h0m1.2 .7h0m.4-.9h0m1.2 1.2h0m4.2-1.1h0m-14.8 4.1h0m.6-.8h0m.3 2h0m.5-1.2h0m1.8-1.3h0m.2 1.3h0m.8-1.1h0m.8 1h0m.1 1.5h0m.6-2.2h0m.4 1.3h0m1.3-.1h0m.3-1.1h0m.9-.6h0m.6 .9h0m.4 1.8h0m.5-1.4h0m-11.7 3h0m.6 .8h0m1-.4h0m1.5 .8h0m.8-1h0m.1-1h0m.8-.6h0m.3 1.9h0m.8-1h0m.9 .3h0m1.1-.7h0m.2 1.4h0m.9-1.4h0m.6 .9h0m.5-.9h0m-10.7 2.5h0m.2 1h0m1-.1h0m1.1-.2h0m.2 1.2h0m1-.2h0m.9-1h0m.7 1.3h0m.3-1.9h0m-6.1 3.8h0m.9 .6h0m.1-1.2h0m.8 1.7h0m.9 .6h0m.1-1.2h0m.9 .6h0m.5-1.5h0m.6 2.1h0m.7-1.6h0m-7 4.7h0m1.6-1h0m.4-.9h0m.7-.6h0m.9 1.3h0m.6 .9h0m.1-1.7h0m.8-.6h0m.1 2.5h0m.3-1.4h0m-6.5 1.9h0m.8 .9h0m1.5 .7h0m.4-1.7h0m.4 2.4h0m.2-1.2h0m1.3-.5h0m.2 1.1h0m1.2 0h0m.9-1.2h0m-3.4 2.8h0m1.6-.5h0" stroke="#7CAE00" stroke-width="1.9" stroke-linecap="round" fill="none"/>
<path d="M356.7 309.3h0m7.9 2.2h0m1.2 .3h0m1.2-2.1h0m2.5 1.2h0m.3-1.1h0m.9 1.2h0m-8 3.6h0m.6-2.3h0m.8 .8h0m2.1 .6h0m1-1.4h0m.7 2.4h0m.4-1.5h0m.7 1.1h0m0-1.9h0m1 1.3h0m.5-1h0m1 2h0m.6-1.4h0m-10 4h0m.3-1.7h0m1 2h0m.7-1.2h0m2 .6h0m.9-1.8h0m.4 1h0m2.2-.5h0m.3 1.7h0m2.1-1.7h0m.1 2.1h0m1.2-1.2h0m.3-1.1h0m-11.3 3.1h0m.9 1.6h0m1-.5h0m.2-1.5h0m1.4 2.4h0m.8-1.7h0m.7 1.3h0m.3-1.1h0m.2-1h0m1 0h0m.2 2.5h0m0-1.3h0m1-.4h0m.5 1h0m1.2 .5h0m0-1.6h0m2.3 0h0m-9.9 2.3h0m.3 1.3h0m1.2 .9h0m.7-1.5h0m.3 1.8h0m1.1-.4h0m.2-1.3h0m.8 2.1h0m1-1.4h0m.6 1h0m.5-2h0m.4 1.1h0m.7-1h0m.9 .6h0m-6.9 2.2h0m3.9 1.5h0m.4-1.4h0m-5.8 5.1h0m4.9-.1h0m2.2-1.3h0m-8 2.5h0m.2 1.4h0m1-.8h0m.3 1.6h0m.9-2.4h0m1.2-.4h0m.5 2.2h0m.5-1.3h0m1.7 .4h0m.2 3.2h0" stroke="#619CFF" stroke-width="1.9" stroke-linecap="round" fill="none"/>
<path d="M318.7 341h0m1.5 .8h0m.4-1.1h0m1.9 0h0m.9-1.5h0m.1 1.7h0m1.1 .3h0m-7.8 2.1h0m0 1.5h0m1.6-.9h0m1.7-.4h0m1-1h0m.8 1.5h0m.8-.7h0m.2-1.3h0m1.1 2.6h0m1-1.9h0m.5 1.6h0m.9 .6h0m.5-1.8h0m-7.6 2.4h0m.4 2.2h0m1-1.1h0m.1 1.4h0m.1-2.8h0m.9 .9h0m.4 1.6h0m.5-2.6h0m.9 .6h0m.6 1.7h0m.8-1.9h0m.9 1.3h0m1 .7h0m-7.2 3.5h0m.5-2h0m.9 .9h0m.7-.9h0m1.2 1.3h0m.1-1.1h0m1-.1h0m1.4-1.1h0m.4 1.2h0m.2 1.3h0m1.4-.9h0m1.2 .9h0m.1-1.7h0m1.2 .5h0m1.4 .8h0m2.1 .7h0m-10.1 .8h0m1.2 1.1h0m.8-.6h0m2.2-.7h0m1.7 1.9h0m.7-2h0m.8 2.3h0m.2-1.4h0m1.1 .3h0m.6-1h0m.1 2.4h0m1-1.5h0m1.3 .1h0m-4.8 2.6h0m1.5-.9h0m.2 1h0m2.2 1.4h0m.3-1.9h0m1.1-.1h0m7.9 1.4h0m-1 1.5h0m28.1 61.1h0" stroke="#00B4F0" stroke-width="1.9" stroke-linecap="round" fill="none"/>
<path d="M314.4 374.6h0m3-.6h0m-2.2 1.5h0m.4 1.3h0m1.3-1.8h0m.1 1h0m.7 1.1h0m.5-1.9h0m1 2.2h0m1.2-1h0m.8 .8h0m.3-1.5h0m-9 3h0m1.2 2h0m.3-1.3h0m1 1.5h0m.3-1h0m.5-1.7h0m.6 1.3h0m.3 1.4h0m.7-2.8h0m.4 2.8h0m.4-1.6h0m.7 1h0m.4-1.9h0m1.3 .1h0m-5.8 3.6h0m2.5 .4h0" stroke="#FF64B0" stroke-width="1.9" stroke-linecap="round" fill="none"/>
<path d="M322.3 407.5h0m2.1-.8h0m0 1.1h0m.9-.6h0m.3-1.4h0m1.1 1.1h0m1.3 .8h0m1-.5h0m.7-1.5h0m.8 2h0m.6-.8h0m.7 .7h0m-14.4 1.9h0m1.7-1.4h0m1.9 2.6h0m2.2-2.7h0m.2 2h0m.9-1h0m1 .9h0m.1-1.7h0m1 0h0m.1 1.9h0m.7-1.1h0m.7 1.3h0m.4-1.6h0m.9 .5h0m1.2-.1h0m1.1 .7h0m1.4-.4h0m-15.6 3.3h0m.4-.9h0m.7 .7h0m.9-1.5h0m.1 1.2h0m.8 .5h0m.4-1h0m1.8 1.3h0m1.1-1.5h0m1-.5h0m.5 1.7h0m.5-1.2h0m1.8 0h0m-8.2 2.9h0m3.9-.4h0m1.5 1.7h0" stroke="#C77CFF" stroke-width="1.9" stroke-linecap="round" fill="none"/>
<path d="M347.5 359.7h0m45.6 51.2h0m.4-.9h0m1.8-.4h0m-1.5 3.3h0m.9-1.6h0m.2 2.1h0m1.1-1h0m.9-1.4h0m.5 1.8h0m-2.6 2.7h0m.3-1.1h0m.9 2.3h0m.3-1.7h0m.4 1h0m1.1-1.6h0m.2 2.1h0m.8-1.8h0m.1 1.2h0m1-1.4h0m.6 1.8h0m1.2 0h0m.4-1.1h0m-4.4 2.3h0m1.2 0h0m.9 1.3h0m.2-1h0m1.7 1.6h0m.2-1.2h0m1.3 1.5h0m.5-1h0" stroke="#F564E3" stroke-width="1.9" stroke-linecap="round" fill="none"/>
<path d="M363.6 333h0m-10.8 38.7h0m2.5-.9h0m1.9 1h0m-16.2 2.2h0m6.6 .9h0m3-1.2h0m1.4-1.3h0m.2 2.1h0m1-1.3h0m1.3 .7h0m.7-1h0m1 1.3h0m-13.2 2.8h0m1 .6h0m1.1 .1h0m.5-1.4h0m.1-1.3h0m1.4 1.6h0m1.5-1.2h0m2.2 2.5h0m.2-2h0m1 2.1h0m.2-1.2h0m.5-1.1h0m.8 1.2h0m.9-.6h0m.4 1.1h0m1.1-1.1h0m.8 .8h0m-22.2 1.9h0m.1 .3h0m.9 .7h0m1.2-.8h0m.1 1.1h0m1.1-.6h0m.6-1.3h0m.6 1.2h0m.6-1h0m.2 1.8h0m1.1-1h0m.7 .9h0m.2-1.5h0m1-.1h0m.9 .8h0m.8 1.1h0m.8-1h0m.5-1.3h0m1.8 2.7h0m0-1.1h0m.1-1.4h0m1.6 1.1h0m.3 1.1h0m1.1 .2h0m.9-1.9h0m1-.1h0m2 1.3h0m.3-1.2h0m1.4 1.3h0m.4-1.8h0m1.6 1.8h0m-23.6 1.9h0m.1 1h0m.6-1.9h0m.9 1.6h0m1-1.2h0m.5 1.1h0m.4-1.8h0m.7 .9h0m1.3 .5h0m.5-1.3h0m.4 2.6h0m.9-.9h0m.2 1.1h0m.9-1.2h0m0-1.1h0m1.1 .2h0m.5 1.3h0m.7-1.2h0m.6 2h0m1-.8h0m1.2-1.3h0m1.4 1.3h0m.5-.9h0m.9 1.1h0m.8-1.1h0m.5 1.7h0m.6-1.2h0m.7-.9h0m.2 1.4h0m.7-1.8h0m.3 1.4h0m1.5-1.4h0m.2 1.9h0m-20.6 1h0m1.4-.2h0m1 1.5h0m3.8-.4h0m1.2 0h0m.7-1h0m.6 1.5h0m.8 .7h0m1.1-.4h0m1.8-1.7h0m.6 1.2h0m.7-1.3h0m.2 2h0m.7-.8h0m1.3-.6h0" stroke="#00BFC4" stroke-width="1.9" stroke-linecap="round" fill="none"/>
<path d="M362.2 398.9h0m.8-.7h0m1.2-1h0m.6 1.1h0m.7-1.7h0m.3 1.5h0m.7-1.8h0m.8 2.7h0m-6.2 .7h0m.1 2.2h0m1-1.5h0m.4 1.1h0m.6-1.4h0m1 .5h0m.2-1h0m1 1.4h0m.3-1.9h0m-5.2 4.1h0m1.5 .4h0m1.5-1.2h0m1.1 .1h0m-15.4 5.1h0m.5-2.4h0m8.3 .5h0m1.1-.4h0m.9 2.5h0m.4-2.1h0m1.2-.1h0m.3 2h0m1.1 0h0m-18.4 2.1h0m1.5-.5h0m.2 1.4h0m1.1-.9h0m1.3 .5h0m1.1-1.6h0m8 1.2h0m2.3-.2h0m1.3 .4h0m.2-1.3h0m1.4 .6h0m.9 .8h0m3.6-.1h0m-23.1 2.2h0m.4-1.2h0m.5 2.3h0m.3-1.5h0m1 .5h0m1.1 .1h0m.2-1.3h0m.8 1.8h0m1.1-.8h0m.2-1h0m0 2.3h0m1.2-.8h0m6-.3h0m.8-.9h0m.9 1.4h0m.5-1.7h0m.8 2h0m.9-2.1h0m.5 1.6h0m.6-1.5h0m.6 1.9h0m-17.5 1.7h0m1.7-.3h0m.5 1.5h0m1.8 1.1h0m.1-2.5h0m.3 1.6h0m1.1-2h0m.2 2.4h0m1.1-.7h0m.8-.7h0m.3 1.1h0m.8-.7h0m.2 1.2h0m4.8-2.2h0m.8 1.2h0m2-.3h0m1.5-.7h0m.1 1.7h0m-14.4 2.4h0m1.5 .9h0m1.1-1.4h0m.7 1.1h0m.6-1.3h0m.7 1.5h0m.4-1.6h0m.7 1.1h0m.8-.8h0m1-1h0m.6 1.7h0m1.4 1h0m.1-1.8h0m1 1.4h0m-11 2.6h0m.9 .7h0m.3-2.3h0m1.5 1.8h0m.2-2.2h0m.1 1.2h0m1.5-.5h0m.3 1.6h0m.7-1.5h0m.4 1.6h0m.3-2.5h0m.7 1.6h0m1 .5h0m1 .8h0m.9-1.4h0m.8 .7h0m1 .2h0m.1-1.1h0m-9.6 1.9h0m.2 1.5h0m1.1-1.7h0m.3 2.7h0m.5-1h0m.8-1h0m.2 1h0m1 .3h0m1-1.1h0m.3 1.8h0m.7-.7h0m.4-1h0m1.4-1.1h0m0 1.9h0m1.1 .2h0m-9.9 2.9h0m1.8 0h0m1-1.2h0m1.2 1.5h0m.2-2.2h0m2.4 2.4h0m.4-1.1h0m.4-1.1h0m.7 .9h0m.4 1.3h0m.8-1.2h0m-8.3 1.9h0m2-.1h0m.8 2.2h0m.2-1.3h0m1.3 1.5h0m.1-2.4h0" stroke="#00BA38" stroke-width="1.9" stroke-linecap="round" fill="none"/>
<path d="M373.9 410.6h0m-2.9 3.3h0m.8-1.8h0m.5-1h0m0 2.7h0m.9-.5h0m.1-1.1h0m1.1 1.7h0m.2-1.1h0m-4.7 2.9h0m.9 .8h0m.3-1.4h0m.8 1.1h0m.8-.9h0m.7 1h0m.1-1.6h0m.8 1.2h0m1.4 .9h0m.2-2.6h0m.3 1.4h0m-4 4.1h0m.5-2.6h0m.5 2.6h0m.2-1.2h0m1.1 .7h0m.1-2.1h0m.7 1.4h0m.9-.8h0m.6 1.3h0m.6-1.3h0m.6 2.1h0m-8.2 2.3h0m1-1.8h0m.1 1.9h0m1.1-1.5h0m.6 1.9h0m1.2-.3h0m.5-1.9h0m2.5 .8h0m1-.3h0m.3 1.5h0m1.9-.5h0m.1 1.1h0m-7.6 1.1h0m.2 1.5h0m.7-1h0m.7 1h0m.2-2.3h0m.7 1.5h0m.6-1.6h0m.3 2.8h0m1.1-.4h0m.1-1.4h0m.3-1.1h0m.9 1.7h0m.1-1.3h0m1.1 2.2h0m.3-1.7h0m-9.4 5h0m1.6-2.2h0m1.1 1.1h0m.8-1h0m1-.5h0m.2 1.6h0m1.9-1h0m.1 1h0m1.2-.6h0m.3-1.1h0m0 2.3h0m1.2-.4h0m0-1.4h0m1.4-.6h0m-15.1 3h0m.9 1.4h0m1-.4h0m1.2 1.5h0m.2-1.4h0m1.3-.3h0m.4 1.4h0m1.5-.6h0m.4-1.4h0m.9 1.3h0m1.5 0h0m1.2-1.1h0m1.1-.5h0m.2 2.9h0m2.4-.9h0m-7 1.5h0m1 .1h0m1.4 2.2h0m.7-1.8h0m1.1 .7h0m1.1 1h0m.2-1.7h0m1 1.6h0m.5-1.8h0m.7 .8h0m.8 .9h0m-8.6 2.2h0m.2 1.1h0m.8-2.3h0m.7 1.1h0m.8-.6h0m.2 1.3h0m1.4-2.1h0m.1 1.5h0m.9 .6h0m.7-1.6h0m.8 1.2h0m2.1-.7h0m-5.2 1.9h0m1 .9h0m1.2 0h0m.9-.7h0" stroke="#00C08B" stroke-width="1.9" stroke-linecap="round" fill="none"/>
<path d="M336.3 356.8h0m15.5 2.8h0m.4-1.2h0m1.1 .7h0m3.7 .4h0m1.6-.3h0m1.7 .3h0m-7.3 1.2h0m1.9 1.6h0m.3-2h0m.5 1.1h0m.5-1.3h0m.6 1.1h0m1.1 .4h0m.4-1h0m1.2 1.6h0m.5-1.5h0m.7 .7h0m.7-.7h0m.1 1.5h0m.8-.8h0m.1-1.2h0m3.4 2.3h0m5.2-.9h0m-17.6 1.8h0m2 .2h0m.9-.5h0m.5 1.1h0m.9-.9h0m.3 2.2h0m1.1 .5h0m.1-1.1h0m.6-1.5h0m.6 2.4h0m.1-1.3h0m1.3-.7h0m.3 1.7h0m.6-2.4h0m.1 1.1h0m1-1.1h0m.1 1.6h0m.7 .8h0m.2-1.6h0m1.1 .6h0m.3 1.1h0m.8-2.1h0m.7 .9h0m1.4-1.2h0m.5 1.1h0m.8 1.4h0m.6-1.6h0m2.2 1.9h0m-17.2 2.9h0m.3-2.6h0m.6 1.8h0m.8-1.4h0m.7 1.3h0m1 .5h0m.1-1.4h0m1 1.4h0m1.1 0h0m0-1.1h0m1.7 1.1h0m.1-2.3h0m.6 1.6h0m.7-1.3h0m.5 1.8h0m1-.7h0m1.3 0h0m.9-.5h0m.7 1.8h0m.7-1.9h0m1.8 .1h0m.2 1h0m-15.4 1.8h0m1.6-.5h0m2 .5h0m1 1.8h0m.8-1.4h0m.8 1.6h0m1-.6h0m.1-1.6h0m1.2 .2h0m.3 1.1h0m1.1-1.2h0m.7 1.6h0m.8-2.4h0m.3 1h0m2.3-.3h0m0 1.9h0m1.8-1.2h0m.1 1.4h0m.9-1.3h0m.8-1h0m0 2.1h0m-17.5 3.2h0m1.1-2h0m.2 1.8h0m1.1-1.6h0m.7 1.3h0m.3-2.2h0m.7 .9h0m.3 1.8h0m.7-1.5h0m.6 1.3h0m1.4-1.9h0m1.8 .9h0m.3-1.3h0m1.4 2.4h0m.2-1.5h0m1-.2h0m1 1h0m.7-1.5h0m.2 2.4h0m.4-1h0m.6-.9h0m.3 2h0m.8-.6h0m-15 1.1h0m1.5 .4h0m.1 1.4h0m1.5-1.5h0m.2 1.8h0m1.2-1.9h0m1.1 1.6h0m.6-1.9h0m.6 1.3h0m.9 .9h0m.8-2.1h0m.3 2.4h0m.4-1.6h0m1.5-1h0m.1 1.7h0m2.2 0h0m.4-1.1h0m1 1.1h0m1.2-1.5h0m.1 1.3h0m1 .1h0m1 .6h0m.2-1.1h0m-16.9 1.9h0m1.3-.3h0m.9 .8h0m1.4-.6h0m.7 1.8h0m.8-1.8h0m1.6 .9h0m1.5 .1h0m1.9 .3h0m.9 .8h0m.3-1.5h0m.9-.8h0m1.9 .6h0m1 1.9h0m.8-2.1h0m.3 1.6h0m-13.1 1.1h0m1.8 1.3h0m.5-1.3h0m1 2.3h0m.4-1.5h0m1.3 1.5h0m.5-2.2h0m.4 1.3h0m.2 1h0m.4-2h0m2.1 .9h0m.7 .8h0m.4-1.9h0m1.5 .8h0m0 1.6h0m1.7-2.4h0m-8.8 6.2h0m2.8 2.2h0m2-.1h0m2 .1h0m-4.3 2.9h0m1.4-1.5h0m0 1.1h0m1.8-.2h0m1.1-.7h0m1.4-1.1h0m.4 1.2h0m.6 1.1h0m-16.7 .5h0m10.9 1.5h0m.5-1h0m2.4-.3h0m.9 1.9h0m1.3-1.6h0m.3 1.8h0m.5-1.1h0m1.6-.2h0m-7.4 6.5h0m4.3 1h0m1.4-1.1h0m.8 1.1h0m-3.3 2.1h0m.3-1.2h0m.9 .6h0m.9-.8h0" stroke="#B79F00" stroke-width="1.9" stroke-linecap="round" fill="none"/>
<path d="M348.3 332.8h0m5.2 .1h0m3.7-.7h0m1.6 .8h0m-13.3 2.2h0m1.6-.3h0m.2-1.1h0m1 1.4h0m.3-1.2h0m.8 .7h0m1 1.2h0m.8-.9h0m.7-1.7h0m.9 1.1h0m1 1.1h0m.5-1.9h0m.6 1.1h0m.1 1h0m1-1.7h0m.2 1.4h0m1.1-1.6h0m.6 1.1h0m1-.4h0m.5 1.4h0m.6-1h0m.3-1.3h0m.8 1.7h0m1.4 .6h0m8.5-.9h0m-26.5 3.5h0m.3-1.9h0m1.5-.6h0m.6 2.7h0m.5-1.7h0m.5 1.6h0m.8-2h0m1.5 1.4h0m1.1-1.4h0m0 2.3h0m.9-1.5h0m.6 1.3h0m.5-1.1h0m.8 1.1h0m.7-1.7h0m1-.6h0m.2 1.6h0m1.7 .4h0m.5-1.6h0m1 1.6h0m2.1-1.1h0m1.5 0h0m1.2 .8h0m-19.7 3.1h0m.6-1.3h0m1.1 1.2h0m1.4-.5h0m.6-.8h0m.4 2h0m1.3-1h0m.1-1.2h0m2.3 1h0m1.6 .9h0m.3-1.5h0m1.2-.3h0m1 2.2h0m0-2.4h0m.9 1h0m1.7 .5h0m.9-.8h0m.3 1.2h0m.3-2.2h0m1.5 1.6h0m.2-1.6h0m1.2 .2h0m.6 1.2h0m.7-1.2h0m-19.5 3h0m.4 1.3h0m1.3-.8h0m.4 1.6h0m1.2 .3h0m1.1-2.6h0m.5 1h0m2.9-.6h0m.6 .8h0m.1 1.1h0m1.6-1.1h0m1 .8h0m.8-1.2h0m.5-1h0m.2 2h0m.9 .6h0m.2-1.5h0m1 1.6h0m0-1.2h0m1.2 1.4h0m0-1.2h0m.6-1.3h0m1.2 1h0m.7-1.3h0m-14.9 3.6h0m2.5 1.6h0m1.4-1.2h0m.1 1.5h0m1.2 .1h0m.5-2.4h0m.2 1.1h0m1.2 .3h0m0-1.4h0m1 1.9h0m.4-1.2h0m.7 1.5h0m.5-1.8h0m.7 1h0m1.1-.4h0m1.2 1.3h0m.3-1.1h0m1.7 .2h0m1.3 .9h0m3.4-.4h0m1.8-1.1h0m1.6 .9h0m1 .9h0m-21.8 .5h0m1.2 .4h0m.5 2.2h0m.2-1.4h0m1.9-.3h0m.4 1.3h0m.5-2h0m.8 1h0m.7-1h0m0 1.9h0m1.2-2h0m.5 .9h0m.6 1.4h0m.3-2.6h0m.1 1.2h0m1.8-.7h0m.7 1.6h0m1.5-.5h0m.2-1.2h0m.9 1.4h0m.4-1.1h0m.8-.6h0m.1 1.5h0m1.4 1h0m.1-2h0m.7 1.4h0m.5-1.6h0m1-.5h0m0 1.3h0m.3 1.4h0m.8-2.1h0m.5 2.2h0m1-.3h0m.1-1.4h0m1 1.8h0m0-2.7h0m.2 1.4h0m.8 .8h0m1-1h0m2.5-.3h0m-33.7 3.8h0m5.5-.6h0m.8-1h0m.6 2.5h0m.8-1.7h0m.3 1.6h0m1.7 0h0m.8-1.3h0m1.8 .4h0m1.1-.7h0m2.5-.9h0m.6 2.1h0m.8-2.2h0m.7 .8h0m.6-.9h0m.7 2.4h0m.5-1.5h0m1.1-.9h0m.7 1.1h0m1-.5h0m1.2 1.6h0m1.2-1.7h0m.1 1.7h0m.7-.9h0m1.3 1.6h0m.2-1.9h0m2.3 0h0m-37.1 4.2h0m6.8 .2h0m5.2-1.6h0m1 1.8h0m.6-1.8h0m.8 1.9h0m.7-2h0m1.1 .7h0m.2-1.1h0m1.4 .4h0m.4 1.9h0m.8-2.5h0m.2 1.2h0m1.3 .7h0m.5-1.9h0m.1 2.8h0m.3-1.4h0m.7 .8h0m.9-2.1h0m.2 1.5h0m.9 .3h0m.9-.6h0m.6-1.4h0m1.4 .4h0m5.6 .6h0m.9-1h0m-22.3 4.3h0m1.1 1.3h0m.4-1.5h0m.8 1.8h0m1.1-.9h0m1.2-1.5h0m.3 2.1h0m1.8-1.4h0m1.6 .1h0m0-1.2h0m1.1 .9h0m3.7 .4h0m-11.6 3.2h0m2.5 5.6h0m-27.9 36.3h0m9.2 1.4h0" stroke="#DE8C00" stroke-width="1.9" stroke-linecap="round" fill="none"/>
<path d="M305.5 302.6V445.3H439" stroke="#222" stroke-width="0.5" fill="none"/>
<path d="M304.2 334.9L305.5 334.9" stroke="#222" stroke-width="0.4" fill="none"/>
<text x="303.4" y="336.5" font-size="4.4" fill="#333" stroke="#333" stroke-width="0.1" text-anchor="end">20</text>
<path d="M304.2 373.4L305.5 373.4" stroke="#222" stroke-width="0.4" fill="none"/>
<text x="303.4" y="375" font-size="4.4" fill="#333" stroke="#333" stroke-width="0.1" text-anchor="end">0</text>
<path d="M304.2 411.8L305.5 411.8" stroke="#222" stroke-width="0.4" fill="none"/>
<text x="303.4" y="413.4" font-size="4.4" fill="#333" stroke="#333" stroke-width="0.1" text-anchor="end">−20</text>
<path d="M334.2 445.3L334.2 446.6" stroke="#222" stroke-width="0.4" fill="none"/>
<text x="334.2" y="450.9" font-size="4.4" fill="#333" stroke="#333" stroke-width="0.1" text-anchor="middle">−25</text>
<path d="M371.1 445.3L371.1 446.6" stroke="#222" stroke-width="0.4" fill="none"/>
<text x="371.1" y="450.9" font-size="4.4" fill="#333" stroke="#333" stroke-width="0.1" text-anchor="middle">0</text>
<path d="M407.9 445.3L407.9 446.6" stroke="#222" stroke-width="0.4" fill="none"/>
<text x="407.9" y="450.9" font-size="4.4" fill="#333" stroke="#333" stroke-width="0.1" text-anchor="middle">25</text>
<text x="372.3" y="457" font-size="5.3" fill="#111" stroke="#111" stroke-width="0.1" text-anchor="middle">tSNE_1</text>
<text x="292.2" y="376.8" font-size="5.3" fill="#111" stroke="#111" stroke-width="0.1" text-anchor="middle" transform="rotate(-90.03 292.2 376.8)">tSNE_2</text>
<path d="M447.6 343.2h0" stroke="#F8766D" stroke-width="2.8" stroke-linecap="round" fill="none"/>
<text x="453.1" y="344.8" font-size="4.5" fill="#111" stroke="#111" stroke-width="0.1">0</text>
<path d="M447.6 349.1h0" stroke="#DE8C00" stroke-width="2.8" stroke-linecap="round" fill="none"/>
<text x="453.1" y="350.7" font-size="4.5" fill="#111" stroke="#111" stroke-width="0.1">1</text>
<path d="M447.6 354.9h0" stroke="#B79F00" stroke-width="2.8" stroke-linecap="round" fill="none"/>
<text x="453.1" y="356.5" font-size="4.5" fill="#111" stroke="#111" stroke-width="0.1">2</text>
<path d="M447.6 360.8h0" stroke="#7CAE00" stroke-width="2.8" stroke-linecap="round" fill="none"/>
<text x="453.1" y="362.4" font-size="4.5" fill="#111" stroke="#111" stroke-width="0.1">3</text>
<path d="M447.6 366.7h0" stroke="#00BA38" stroke-width="2.8" stroke-linecap="round" fill="none"/>
<text x="453.1" y="368.3" font-size="4.5" fill="#111" stroke="#111" stroke-width="0.1">4</text>
<path d="M447.6 372.5h0" stroke="#00C08B" stroke-width="2.8" stroke-linecap="round" fill="none"/>
<text x="453.1" y="374.1" font-size="4.5" fill="#111" stroke="#111" stroke-width="0.1">5</text>
<path d="M447.6 378.4h0" stroke="#00BFC4" stroke-width="2.8" stroke-linecap="round" fill="none"/>
<text x="453.1" y="380" font-size="4.5" fill="#111" stroke="#111" stroke-width="0.1">6</text>
<path d="M447.6 384.3h0" stroke="#00B4F0" stroke-width="2.8" stroke-linecap="round" fill="none"/>
<text x="453.1" y="385.9" font-size="4.5" fill="#111" stroke="#111" stroke-width="0.1">7</text>
<path d="M447.6 390.1h0" stroke="#619CFF" stroke-width="2.8" stroke-linecap="round" fill="none"/>
<text x="453.1" y="391.7" font-size="4.5" fill="#111" stroke="#111" stroke-width="0.1">8</text>
<path d="M447.6 396h0" stroke="#C77CFF" stroke-width="2.8" stroke-linecap="round" fill="none"/>
<text x="453.1" y="397.6" font-size="4.5" fill="#111" stroke="#111" stroke-width="0.1">9</text>
<path d="M447.6 401.9h0" stroke="#F564E3" stroke-width="2.8" stroke-linecap="round" fill="none"/>
<text x="453.1" y="403.5" font-size="4.5" fill="#111" stroke="#111" stroke-width="0.1">10</text>
<path d="M447.6 407.7h0" stroke="#FF64B0" stroke-width="2.8" stroke-linecap="round" fill="none"/>
<text x="453.1" y="409.3" font-size="4.5" fill="#111" stroke="#111" stroke-width="0.1">11</text>
<text x="406.6" y="377.7" font-size="4.0" fill="#000" stroke="#000" stroke-width="0.1" text-anchor="middle">0</text>
<text x="356.1" y="346.7" font-size="4.0" fill="#000" stroke="#000" stroke-width="0.1" text-anchor="middle">1</text>
<text x="366.6" y="376.1" font-size="4.0" fill="#000" stroke="#000" stroke-width="0.1" text-anchor="middle">2</text>
<text x="397.6" y="330.9" font-size="4.0" fill="#000" stroke="#000" stroke-width="0.1" text-anchor="middle">3</text>
<text x="355.5" y="417.2" font-size="4.0" fill="#000" stroke="#000" stroke-width="0.1" text-anchor="middle">4</text>
<text x="375.3" y="428.2" font-size="4.0" fill="#000" stroke="#000" stroke-width="0.1" text-anchor="middle">5</text>
<text x="346.1" y="381.7" font-size="4.0" fill="#000" stroke="#000" stroke-width="0.1" text-anchor="middle">6</text>
<text x="325.3" y="348.5" font-size="4.0" fill="#000" stroke="#000" stroke-width="0.1" text-anchor="middle">7</text>
<text x="368.2" y="317.7" font-size="4.0" fill="#000" stroke="#000" stroke-width="0.1" text-anchor="middle">8</text>
<text x="323.9" y="411.1" font-size="4.0" fill="#000" stroke="#000" stroke-width="0.1" text-anchor="middle">9</text>
<text x="398.2" y="417.2" font-size="4.0" fill="#000" stroke="#000" stroke-width="0.1" text-anchor="middle">10</text>
<text x="316.1" y="380.1" font-size="4.0" fill="#000" stroke="#000" stroke-width="0.1" text-anchor="middle">11</text>
<path d="M556.7 349.7h0m5.6 12h0m.1 1.1h0m1-.9h0m.4 1h0m.9-1.4h0m2.7 1.4h0m.9-1.5h0m1.2 .4h0m1.1 .4h0m4.7 .3h0m-20.2 2.7h0m2.4-.4h0m.9 .5h0m1-1.5h0m1.1-.1h0m.7 1.7h0m.6-1.1h0m.4 .9h0m.5-1.5h0m.8 1.4h0m.1-1.1h0m.9 .4h0m.8-.8h0m.7 1.2h0m.2-1.1h0m.6 1.6h0m.4-1.2h0m.1 1.8h0m.9-.9h0m0-1.6h0m.6 2.1h0m1.9-.7h0m1.1-1.4h0m1.8 .7h0m.5 1.7h0m.6-1.8h0m2.2-.6h0m0 1.9h0m.4-1h0m.7 .3h0m.1 1h0m.1-2.6h0m7.7 2.8h0m-33.1 1.7h0m1.9 1.3h0m.4-2.6h0m.1 1.8h0m.8-.3h0m.4-1.6h0m.6 1.4h0m.3-1.3h0m.7 1.6h0m.3-1.5h0m0 2.6h0m.4-1.9h0m.1 1.1h0m.7-1.8h0m0 1.4h0m.8 1h0m.3-1.5h0m.7 .1h0m.3-.9h0m.8 .4h0m.3 1.2h0m.6-.4h0m.3 1.4h0m.1-2.4h0m.8 2.1h0m.3-1.4h0m.1-1h0m.8 0h0m.1 2.3h0m.7-.8h0m.9 1h0m.7-.8h0m.4-1.5h0m.5 .9h0m.5-1.4h0m.9 .9h0m.6-.8h0m.2 2.1h0m.3-.9h0m.9-.9h0m.1 2.4h0m.5-1.6h0m.5-.6h0m.5 2.3h0m.9-2.3h0m.4 1.3h0m.5-1.4h0m1 .3h0m.9 .5h0m0 1.4h0m.5-2.1h0m.2 1.6h0m1.6-1.4h0m.1 1.8h0m-28.2 1.8h0m.7 .2h0m.9-1h0m1 .9h0m.6 .7h0m.3-1.1h0m.7-1h0m.2 2.5h0m.4-1.2h0m.1-1.3h0m.9 2.7h0m1-1.7h0m.6 1.3h0m.1-1.5h0m1.2-.1h0m1.3-.6h0m.3 1.9h0m.7-1.4h0m.1 2.1h0m.3-1.2h0m1.4-.9h0m.7-.2h0m.2 2.2h0m.3-1.3h0m.8-.6h0m1.4 .2h0m.8-.5h0m.2 1.2h0m.1 1.2h0m.8-1h0m.3-1.2h0m.2 2.2h0m.6-1.9h0m1.2 0h0m0 1.6h0m.9-1.3h0m.6 1.4h0m.4-1.6h0m.7 1h0m.3-1.5h0m.8 1.1h0m.6-1h0m.3 2.3h0m.2-2.8h0m.3 .8h0m.2 1.3h0m.7-.8h0m.9-1.3h0m.2 2.2h0m.4-1h0m1.3 1.1h0m.1-2.1h0m.1 .9h0m.8 1.2h0m0-1.9h0m.6 2.3h0m.8-1.9h0m.5 1.8h0m.4-1h0m-32.9 4.2h0m.5-1h0m0-1.9h0m1 2.1h0m.6-2h0m.2 1.4h0m.7 .8h0m.1-1.9h0m.7 2.4h0m0-2.3h0m.2 .9h0m.4 .9h0m.7-1.2h0m.1 1.2h0m.8-1.5h0m0 1h0m.9 .1h0m.5-1h0m.9 .3h0m.1 1.6h0m.4-2.5h0m.4 1h0m1.1-1h0m0 2h0m.5-.7h0m.2-1h0m.5 1h0m.6-1.2h0m.2 1.9h0m.5-1h0m.7 1.2h0m.5-1.8h0m.8 1.7h0m.3-2.4h0m.2 1.4h0m.6 1.1h0m1.4-1.2h0m.7-.5h0m.8 1.2h0m1.2 .4h0m.7-.6h0m1-1h0m.6 1.4h0m.1-1.5h0m.8 .1h0m.2 .9h0m.4-1.8h0m.7 .8h0m.2 1.3h0m1.1-1h0m0 1h0m.7-.4h0m.4-1.3h0m.7 1.1h0m.6 1.4h0m.2-1.5h0m0-1.2h0m.5 2.1h0m.3-1.6h0m.5 .8h0m.5-1h0m.3 .9h0m1.4-.5h0m.1 1.1h0m.4 .9h0m.7-.5h0m.1-1.6h0m.7 2h0m.7-.8h0m-34.8 3.1h0m.2-.9h0m.5 1.3h0m.7-1.2h0m.7 1.7h0m.2-1.6h0m.2-1.1h0m.4 2.6h0m.7-1.2h0m.6 .6h0m.1-1.2h0m1.3 .8h0m.1-1.4h0m.8 .5h0m.9-.8h0m.3 1.1h0m.6 .8h0m.7 .7h0m.8-.8h0m.7-1.1h0m.9 1.9h0m.1-1.1h0m.8-.8h0m.9 1h0m.9 .9h0m.1-2.3h0m.9 2.1h0m.2-1.2h0m.2-1h0m.8 .5h0m.3 1.1h0m.8 .7h0m.2-1.6h0m.9-.1h0m.5-.9h0m.4 2.9h0m.6-1.1h0m.9-1.3h0m.2 1.1h0m.6-1.3h0m.1 2.1h0m1.1-.6h0m.1-1.4h0m.7 1.1h0m.7 .4h0m.1-1.5h0m.7 1.5h0m.1-1.9h0m.9 1.4h0m.7-1h0m.4 2.1h0m.4-2.5h0m.6 2.1h0m.7 .7h0m0-1.6h0m.6-1.2h0m.2 1.1h0m1 1.1h0m.1-1.8h0m.4 .8h0m1.1 .1h0m.7 1h0m.1-1.1h0m.7 .7h0m0-1.2h0m.8 1.6h0m.8-1.4h0m-36 3.2h0m1.1-.2h0m.7-.4h0m.3 2.2h0m.3-1.9h0m.4 .8h0m.6 1.1h0m.2-1h0m.7-1.3h0m0 2.4h0m0-1.3h0m1 .4h0m.9-2h0m.1 1.5h0m.7 1.3h0m.7-.3h0m1.1 .2h0m.1-2.3h0m.1 1.2h0m.5-.7h0m0 1.5h0m.9 .1h0m.1-2.3h0m.5 1.4h0m1.2 1.3h0m0-2.2h0m.1 1h0m.8-.6h0m.2 1h0m.4-1.6h0m.6 2h0m.5-1.3h0m.8 0h0m1.1 .1h0m.3-1.3h0m1.2 2h0m.7-1h0m.3 .9h0m.5 1h0m.8-1.4h0m.3 1.4h0m.3-2.9h0m.8 .3h0m.2 1.3h0m.6 .6h0m.8-1.6h0m.4 1.3h0m.3-1.8h0m.4 2.3h0m.2-1.3h0m.3-1.1h0m.8 1.3h0m.1 1.5h0m.3-2.7h0m.2 1.9h0m.6 .5h0m.4-1.8h0m.7 1.1h0m.5-1h0m.5 1.5h0m.6 .5h0m.1-1.8h0m.8-.4h0m.1 2.1h0m.6-2.1h0m.2 1.2h0m.7 .8h0m.3-1.8h0m.3 2.1h0m.6-1.3h0m.9 .2h0m-31.3 2.3h0m.8 1.1h0m.1-1.2h0m.8 .9h0m.4-1.6h0m.4 2.1h0m.2-2.2h0m.5 2.4h0m.2-1h0m1.7-.6h0m0 1.3h0m.7-1.5h0m.6-.4h0m.2 1.7h0m.6-1.5h0m.6 .8h0m1.1 .4h0m.4 1.1h0m.6-1.2h0m.4-1.5h0m.4 .7h0m.3 1.6h0m1-1.2h0m.9 .5h0m.2-1.3h0m.3 1.9h0m.8-1.5h0m.1 1.2h0m.8-1.3h0m.7 1.4h0m.1-2.1h0m.5 .7h0m.5 1h0m.7 .3h0m.1-1.3h0m.5 1.9h0m1.4-1.4h0m.7 1.4h0m.7-2.3h0m.1 2.2h0m.2-1h0m.9-1.1h0m.2 1.1h0m.5-.7h0m.4 1.5h0m.6-1.9h0m.5 1.5h0m.5-1.9h0m.7 2.2h0m.1-1.6h0m.9 .3h0m.5 .6h0m.9-.6h0m.6 1h0m.8-.8h0m.8 .7h0m.3-1h0m.8-.2h0m-31.2 2.7h0m.6-.2h0m.1 1.8h0m.3-1h0m.6-.4h0m.1 1h0m.9-1h0m.5 2.1h0m.3-1.4h0m.8 1h0m.2-2.1h0m.1 1h0m1.2 .9h0m.1-2.1h0m.6 .8h0m0 1.3h0m.7-.6h0m.1-1.3h0m1 2.1h0m.1-1.1h0m.8 1.1h0m.4-1.4h0m1.4-.3h0m.5 .8h0m.8-1.1h0m.9 1.2h0m.8-.4h0m1 1.3h0m.6-.5h0m.4-1.8h0m.3 1.9h0m.7-.4h0m.3 1.1h0m.1-2.5h0m.6 2.1h0m.2-1h0m.6 .9h0m.2-2.2h0m.8 1.2h0m.3 .9h0m.5-.8h0m.5 1h0m.9-2.1h0m.5 1.8h0m1-.3h0m.4 .7h0m.6-1.3h0m.5-1.1h0m.6 2.3h0m.2-1.1h0m.7 .6h0m.5-.5h0m.7-1.3h0m.2 2h0m.9-1.9h0m.1 1.8h0m.6-1.3h0m-23.6 3h0m1.5 .6h0m1.8-.9h0m.2 1.2h0m.9-.1h0m.6-1h0m.2 1.4h0m.5-1.6h0m.2 1.4h0m.5-1.3h0m1.2 1.2h0m1 .2h0m.8-.8h0m1.1 .4h0m0 1.2h0m.1-2.2h0m1.2 2.1h0m.4-1.2h0m1 .3h0m.1 1h0m1.2-.9h0m.1-1.5h0m.5 1.3h0m.1 1h0m.9-.6h0m.5-1.4h0m.9 .6h0m.8-.6h0m.8-.3h0m.2 2.1h0m1.5-1.8h0m-18.1 3.1h0m1-.3h0m2-.2h0m1.7 .2h0m1.2-.1h0m.1 2.2h0m.4-1.4h0m.9 1.8h0m.2-2h0m1.5-.3h0m1.8 .5h0m1 1h0m.2-1.3h0m1.2 .2h0m1.2 .5h0m1.5-1.1h0" stroke="#F8766D" stroke-width="1.9" stroke-linecap="round" fill="none"/>
<path d="M533.7 309.3h0m5.4 2.2h0m.9 .3h0m.8-2.1h0m1.8 1.2h0m.2-1.1h0m.7 1.2h0m-5.6 3.6h0m.4-2.3h0m.5 .8h0m1.5 .6h0m.7-1.4h0m.5 2.4h0m.3-1.5h0m.4 1.1h0m0-1.9h0m.8 1.3h0m.3-1h0m.6 2h0m.5-1.4h0m-6.9 4h0m.1-1.7h0m.7 2h0m.5-1.2h0m1.4 .6h0m.6-1.8h0m.4 1h0m1.5-.5h0m.2 1.7h0m1.4-1.7h0m.1 2.1h0m.8-1.2h0m.2-1.1h0m-7.8 3.1h0m.6 1.6h0m.7-.5h0m.2-1.5h0m.9 2.4h0m.6-1.7h0m.4 1.3h0m.3-1.1h0m.1-1h0m.7 0h0m.1 2.5h0m.1-1.3h0m.7-.4h0m.3 1h0m.8 .5h0m0-1.6h0m1.6 0h0m-6.9 2.3h0m.2 1.3h0m.9 .9h0m.5-1.5h0m.2 1.8h0m.8-.4h0m0-1.3h0m.6 2.1h0m.8-1.4h0m.3 1h0m.4-2h0m.2 1.1h0m.6-1h0m.6 .6h0m-4.8 2.2h0m2.7 1.5h0m.3-1.4h0m-4.1 5.1h0m3.4-.1h0m1.6-1.3h0m-16.2 4.5h0m3.7 .1h0m2.5-.7h0m1.1 .8h0m3.3-2.2h0m.1 1.4h0m.8-.8h0m.2 1.6h0m.6-2.4h0m.8-.4h0m.4 2.2h0m.3-1.3h0m1.2 .4h0m-17 3.7h0m1.2-.3h0m.1-1.1h0m.7 1.4h0m.2-1.2h0m.6 .7h0m.7 1.2h0m.5-.9h0m.5-1.7h0m.7 1.1h0m.6 1.1h0m.4-1.9h0m.4 1.1h0m.1 1h0m.7-1.7h0m.1 1.4h0m.8-1.6h0m.4 1.1h0m.7-.4h0m.3 1.4h0m.4-1h0m.3-1.3h0m.5 1.7h0m1 .6h0m.8-2.9h0m4.4 1.7h0m.7 .3h0m-18.4 3.5h0m.2-1.9h0m1-.6h0m.4 2.7h0m.4-1.7h0m.3 1.6h0m.6-2h0m1 1.4h0m.8-1.4h0m0 2.3h0m.6-1.5h0m.4 1.3h0m.4-1.1h0m.6 1.1h0m.4-1.7h0m.8-.6h0m.1 1.6h0m1.2 .4h0m.3-1.6h0m.7 1.6h0m1.5-1.1h0m1.1 0h0m.8 .8h0m-31.6 2.9h0m1.1 .8h0m.2-1.1h0m1.3 0h0m.6-1.5h0m.2 1.7h0m.7 .3h0m13.7 0h0m.4-1.3h0m.8 1.2h0m1-.5h0m.4-.8h0m.3 2h0m.9-1h0m.1-1.2h0m1.6 1h0m1.1 .9h0m.2-1.5h0m.8-.3h0m.7 2.2h0m.1-2.4h0m.5 1h0m1.2 .5h0m.6-.8h0m.3 1.2h0m.2-2.2h0m1 1.6h0m.2-1.6h0m.8 .2h0m.4 1.2h0m.5-1.2h0m-33.3 3.9h0m.1 1.5h0m1.1-.9h0m1.2-.4h0m.7-1h0m.5 1.5h0m.6-.7h0m.1-1.3h0m.8 2.6h0m.7-1.9h0m.4 1.6h0m.6 .6h0m.3-1.8h0m12.6-.7h0m.3 1.3h0m.9-.8h0m.3 1.6h0m.8 .3h0m.8-2.6h0m.3 1h0m2.1-.6h0m.4 .8h0m0 1.1h0m1.2-1.1h0m.7 .8h0m.5-1.2h0m.4-1h0m.1 2h0m.6 .6h0m.2-1.5h0m.7 1.6h0m0-1.2h0m.8 1.4h0m0-1.2h0m.4-1.3h0m.9 1h0m.4-1.3h0m-30.7 3.4h0m.3 2.2h0m.7-1.1h0m0 1.4h0m.1-2.8h0m.7 .9h0m.2 1.6h0m.4-2.6h0m.6 .6h0m.4 1.7h0m.5-1.9h0m.7 1.3h0m.7 .7h0m15-1.8h0m1.8 1.6h0m1-1.2h0m0 1.5h0m.9 .1h0m.3-2.4h0m.2 1.1h0m.8 .3h0m0-1.4h0m.7 1.9h0m.3-1.2h0m.4 1.5h0m.4-1.8h0m.5 1h0m.7-.4h0m.9 1.3h0m.2-1.1h0m1.2 .2h0m.9 .9h0m2.3-.4h0m1.4-1.1h0m1 .9h0m.7 .9h0m-36.6 3.1h0m.4-2h0m.6 .9h0m.4-.9h0m.9 1.3h0m0-1.1h0m.8-.1h0m.9-1.1h0m.3 1.2h0m.1 1.3h0m1.1-.9h0m.7 .9h0m.1-1.7h0m.9 .5h0m.9 .8h0m1.5 .7h0m11.8-2.4h0m.9 .4h0m.3 2.2h0m.1-1.4h0m1.4-.3h0m.2 1.3h0m.4-2h0m.6 1h0m.5-1h0m0 1.9h0m.8-2h0m.4 .9h0m.4 1.4h0m.2-2.6h0m.1 1.2h0m1.2-.7h0m.5 1.6h0m1-.5h0m.2-1.2h0m.6 1.4h0m.3-1.1h0m.6-.6h0m0 1.5h0m1 1h0m.1-2h0m.5 1.4h0m.3-1.6h0m.7-.5h0m0 1.3h0m.2 1.4h0m.5-2.1h0m.4 2.2h0m.7-.3h0m.1-1.4h0m.6 1.8h0m.1-2.7h0m.1 1.4h0m.5 .8h0m.8-1h0m1.7-.3h0m-37.8 2.4h0m.8 1.1h0m.6-.6h0m1.5-.7h0m1.1 1.9h0m.6-2h0m.5 2.3h0m.2-1.4h0m.7 .3h0m.4-1h0m.1 2.4h0m.7-1.5h0m.9 .1h0m6.2 .5h0m3.8-.6h0m.6-1h0m.5 2.5h0m.5-1.7h0m.2 1.6h0m1.2 0h0m.5-1.3h0m1.3 .4h0m.8-.7h0m1.7-.9h0m.4 2.1h0m.6-2.2h0m.4 .8h0m.4-.9h0m.6 2.4h0m.3-1.5h0m.8-.9h0m.4 1.1h0m.8-.5h0m.8 1.6h0m.8-1.7h0m.1 1.7h0m.5-.9h0m.9 1.6h0m.2-1.9h0m1.5 0h0m-30.1 3h0m1-.9h0m.2 1h0m1.5 1.4h0m.2-1.9h0m.7-.1h0m.6 2.2h0m.1-.5h0m4.7 .2h0m.2-.5h0m3.5-1.1h0m.6 1.8h0m.4-1.8h0m.6 1.9h0m.5-2h0m.8 .7h0m.1-1.1h0m1 .4h0m.3 1.9h0m.5-2.5h0m.2 1.2h0m.8 .7h0m.4-1.9h0m.1 2.8h0m.2-1.4h0m.5 .8h0m.6-2.1h0m.1 1.5h0m.7 .3h0m.6-.6h0m.5-1.4h0m.9 .4h0m3.9 .6h0m.7-1h0m-19.2 3.4h0m3.6 .9h0m.8 1.3h0m.2-1.5h0m.6 1.8h0m.8-.9h0m.4 .5h0m.4-1.2h0m0-.8h0m.2 2.1h0m.5-.6h0m.8-.8h0m1.1 .1h0m0-1.2h0m.7 2.3h0m0-1.4h0m1.1 1.1h0m1.2 .3h0m.3-1h0m-8.1 3.2h0m2.7-1h0m1.3 1.6h0m.2-2h0m.3 1.1h0m.4-1.3h0m.4 1.1h0m.8 .4h0m.3-1h0m.8 1.6h0m.4-1.5h0m.5 .7h0m.4-.7h0m.1 1.5h0m.6-.8h0m.1-1.2h0m2.3 2.3h0m3.6-.9h0m-12.3 1.8h0m1.4 .2h0m.7-.5h0m.3 1.1h0m.7-.9h0m.2 2.2h0m.7 .5h0m.1-1.1h0m.4-1.5h0m.4 2.4h0m.1-1.3h0m.9-.7h0m.2 1.7h0m.4-2.4h0m.1 1.1h0m.7-1.1h0m.1 1.6h0m.5 .8h0m.1-1.6h0m.8 .6h0m.2 1.1h0m.6-2.1h0m.4 .9h0m1-1.2h0m.4 1.1h0m.5 1.4h0m.4-1.6h0m1.5 1.9h0m-14.9 1.3h0m3 1.6h0m.2-2.6h0m.4 1.8h0m.6-1.4h0m.5 1.3h0m.6 .5h0m.2-1.4h0m.6 1.4h0m.8 0h0m0-1.1h0m1.2 1.1h0m0-2.3h0m.5 1.6h0m.5-1.3h0m.3 1.8h0m.7-.7h0m.9 0h0m.7-.5h0m.4 1.8h0m.5-1.9h0m1.2 .1h0m.2 1h0m-13.2 3.6h0m1.7-.9h0m.8-.9h0m.5 1.9h0m.6-2.4h0m1.4 .5h0m.6 1.8h0m.6-1.4h0m.5 1.6h0m.8-.6h0m0-1.6h0m.9 .2h0m.2 1.1h0m.7-1.2h0m.6 1.6h0m.5-2.4h0m.2 1h0m1.6-.3h0m0 1.9h0m1.3-1.2h0m0 1.4h0m.7-1.3h0m.5-1h0m.1 2.1h0m-41.6 3h0m2.1-.6h0m16.4 0h0m4.7 .9h0m2-1.2h0m1-1.3h0m.1 2.1h0m.7-1.3h0m.9 .7h0m.5-1h0m.7 1.3h0m.2 .6h0m.8-2h0m.2 1.8h0m.7-1.6h0m.5 1.3h0m.2-2.2h0m.5 .9h0m.2 1.8h0m.5-1.5h0m.4 1.3h0m1-1.9h0m1.2 .9h0m.2-1.3h0m1 2.4h0m.1-1.5h0m.8-.2h0m.6 1h0m.5-1.5h0m.2 2.4h0m.3-1h0m.3-.9h0m.3 2h0m.6-.6h0m-39.8 1.1h0m.2 1.3h0m.9-1.8h0m.1 1h0m.5 1.1h0m.4-1.9h0m.6 2.2h0m.9-1h0m.5 .8h0m.3-1.5h0m14.9 1.3h0m.7 .6h0m.8 .1h0m.3-1.4h0m.1-1.3h0m.9 1.6h0m1.1-1.2h0m1.6 2.5h0m.1-2h0m.7 2.1h0m.1-1.2h0m.4-1.1h0m.6 1.2h0m.5-.6h0m.4 1.1h0m.7-1.1h0m.6 .8h0m.4-1.6h0m1 .4h0m.1 1.4h0m1.1-1.5h0m.1 1.8h0m.8-1.9h0m.8 1.6h0m.4-1.9h0m.5 1.3h0m.6 .9h0m.5-2.1h0m.2 2.4h0m.3-1.6h0m1.1-1h0m0 1.7h0m1.5 0h0m.3-1.1h0m.7 1.1h0m.9-1.5h0m0 1.3h0m.7 .1h0m.7 .6h0m.2-1.1h0m-43.7 2.3h0m.8 2h0m.2-1.3h0m.7 1.5h0m.2-1h0m.3-1.7h0m.5 1.3h0m.2 1.4h0m.5-2.8h0m.3 2.8h0m.2-1.6h0m.5 1h0m.3-1.9h0m.9 .1h0m9.7 .5h0m0 .3h0m.7 .7h0m.8-.8h0m.1 1.1h0m.8-.6h0m.4-1.3h0m.4 1.2h0m.5-1h0m0 1.8h0m.8-1h0m.5 .9h0m.2-1.5h0m.7-.1h0m.6 .8h0m.6 1.1h0m.5-1h0m.3-1.3h0m1.3 2.7h0m0-1.1h0m.1-1.4h0m1.1 1.1h0m.2 1.1h0m.7 .2h0m.7-1.9h0m.7-.1h0m1.4 1.3h0m.2-1.2h0m.9 1.3h0m.4-1.8h0m1-.2h0m.1 2h0m.8-2.3h0m.6 .8h0m1-.6h0m.4 1.8h0m.6-1.8h0m1.2 .9h0m1 .1h0m1.3 .3h0m.7 .8h0m.2-1.5h0m.6-.8h0m1.3 .6h0m.7 1.9h0m.5-2.1h0m.3 1.6h0m-41.6 2.1h0m1.7 .4h0m12.2-.3h0m.1 1h0m.4-1.9h0m.6 1.6h0m.7-1.2h0m.4 1.1h0m.2-1.8h0m.5 .9h0m.9 .5h0m.4-1.3h0m.3 2.6h0m.6-.9h0m.1 1.1h0m.6-1.2h0m0-1.1h0m.8 .2h0m.4 1.3h0m.5-1.2h0m.4 2h0m.7-.8h0m.8-1.3h0m1 1.3h0m.4-.9h0m.5 1.1h0m.6-1.1h0m.4 1.7h0m.4-1.2h0m.5-.9h0m.1 1.4h0m.5-1.8h0m.2 1.4h0m1-1.4h0m.2 1.9h0m3.4-2.2h0m1.2 1.3h0m.4-1.3h0m.7 2.3h0m.2-1.5h0m1 1.5h0m.2-2.2h0m.4 1.3h0m.1 1h0m.3-2h0m1.4 .9h0m.5 .8h0m.3-1.9h0m1 .8h0m.1 1.6h0m1.1-2.4h0m-26.6 3h0m.9-.2h0m.7 1.5h0m2.7-.4h0m.8 0h0m.5-1h0m.4 1.5h0m.6 .7h0m.7-.4h0m1.3-1.7h0m.4 1.2h0m.5-1.3h0m.1 2h0m.5-.8h0m.9-.6h0m9.5 2.7h0m2 2.2h0m1.3-.1h0m1.4 .1h0m-3 2.9h0m1-1.5h0m0 1.1h0m1.3-.2h0m.7-.7h0m1-1.1h0m.3 1.2h0m.4 1.1h0m-11.6 .5h0m7.5 1.5h0m.4-1h0m1.7-.3h0m.6 1.9h0m.9-1.6h0m.2 1.8h0m.4-1.1h0m1.1-.2h0m-5.2 6.5h0m3 1h0m1-1.1h0m.5 1.1h0m-36 2.1h0m33.8 0h0m.2-1.2h0m.6 .6h0m.6-.8h0m-28.7 2.8h0m26.2 13.6h0" stroke="#B79F00" stroke-width="1.9" stroke-linecap="round" fill="none"/>
<path d="M562.1 317h0m.8 .7h0m1.1-.3h0m1.1-.3h0m.8 .2h0m-6.9 3.6h0m1-2.3h0m.3 1.1h0m.7-1.2h0m.1 2.3h0m.2-1.4h0m.7-.4h0m.7 .3h0m.1 1.2h0m1-1.9h0m.4 1.4h0m.8-.1h0m.7-1.6h0m.5 1h0m.7-.9h0m.2 2.2h0m.2-1.2h0m-8.1 4.2h0m.8-2.4h0m.3 2h0m.1-1.2h0m.7 .5h0m.8-1.5h0m.1 2.2h0m.9 .4h0m.3-2h0m1.5-.2h0m.3 1.6h0m.5-1.4h0m.1 1h0m.1 1.1h0m.8-1.9h0m.2 1.1h0m.6-1.3h0m-9 3.7h0m.4 1.3h0m.6-1.9h0m.3 1.7h0m.6-1.2h0m.3 1.6h0m.5-2.5h0m.2 1.2h0m.6 .7h0m.2-1.2h0m.7 1.8h0m0-1h0m.3-1.2h0m.4 1.9h0m.3-1.9h0m.5 2h0m.2-2.6h0m.2 1h0m.3 1h0m1-.2h0m.2-1.2h0m.5 1h0m.3-1.1h0m1 .9h0m1-1.1h0m-10.9 2.8h0m.5 2.1h0m.2-1h0m.6 1.1h0m.2-1.8h0m.4 1.3h0m.6-.5h0m.4 1.4h0m.1-2.1h0m1.1 1.8h0m1.1 .1h0m.5-1.5h0m.4 1.1h0m.5 .8h0m.3-2.4h0m.8 .7h0m.3-.9h0m.8 1.2h0m3-1.1h0m-10.3 4.1h0m.4-.8h0m.1 2h0m.4-1.2h0m1.3-1.3h0m.1 1.3h0m.6-1.1h0m.5 1h0m.1 1.5h0m.4-2.2h0m.3 1.3h0m.9-.1h0m.2-1.1h0m.7-.6h0m.3 .9h0m.4 1.8h0m.3-1.4h0m-8.2 3h0m.5 .8h0m.7-.4h0m1 .8h0m.6-1h0m0-1h0m.6-.6h0m.2 1.9h0m.5-1h0m.7 .3h0m.7-.7h0m.2 1.4h0m.6-1.4h0m.4 .9h0m.3-.9h0m-7.4 2.5h0m.2 1h0m.7-.1h0m.7-.2h0m.1 1.2h0m.8-.2h0m.6-1h0m.5 1.3h0m.2-1.9h0m-4.3 3.8h0m.7 .6h0m0-1.2h0m.6 1.7h0m.6 .6h0m0-1.2h0m.7 .6h0m.4-1.5h0m.4 2.1h0m.4-1.6h0m-4.9 4.7h0m1.2-1h0m.3-.9h0m.5-.6h0m.6 1.3h0m.4 .9h0m.1-1.7h0m.5-.6h0m.1 2.5h0m.2-1.4h0m-4.5 1.9h0m.5 .9h0m1.1 .7h0m.3-1.7h0m.3 2.4h0m.1-1.2h0m.9-.5h0m.2 1.1h0m.8 0h0m.6-1.2h0m-2.4 2.8h0m1.1-.5h0" stroke="#00BA38" stroke-width="1.9" stroke-linecap="round" fill="none"/>
<path d="M537.5 398.9h0m.6-.7h0m.8-1h0m.4 1.1h0m.5-1.7h0m.2 1.5h0m.5-1.8h0m.5 2.7h0m-4.2 .7h0m0 2.2h0m.7-1.5h0m.3 1.1h0m.4-1.4h0m.7 .5h0m.1-1h0m.7 1.4h0m.2-1.9h0m-3.6 4.1h0m1.1 .4h0m1-1.2h0m.8 .1h0m-10.8 5.1h0m.4-2.4h0m5.8 .5h0m.7-.4h0m.7 2.5h0m.2-2.1h0m.9-.1h0m.2 2h0m.8 0h0m-12.9 2.1h0m1.1-.5h0m.1 1.4h0m.8-.9h0m.9 .5h0m.7-1.6h0m5.7 1.2h0m1.5-.2h0m.9 .4h0m.2-1.3h0m.9 .6h0m.7 .8h0m2.5-.1h0m4.5 .6h0m-20.6 1.6h0m.3-1.2h0m.3 2.3h0m.3-1.5h0m.6 .5h0m.8 .1h0m.1-1.3h0m.6 1.8h0m.7-.8h0m.2-1h0m0 2.3h0m.8-.8h0m4.2-.3h0m.5-.9h0m.7 1.4h0m.3-1.7h0m.6 2h0m.6-2.1h0m.4 1.6h0m.4-1.5h0m.4 1.9h0m5.7 .9h0m.6-1.8h0m.3-1h0m.1 2.7h0m.6-.5h0m.1-1.1h0m.7 1.7h0m.1-1.1h0m-20.3 1.9h0m1.1-.3h0m.4 1.5h0m1.2 1.1h0m.1-2.5h0m.2 1.6h0m.8-2h0m.1 2.4h0m.8-.7h0m.5-.7h0m.2 1.1h0m.6-.7h0m.1 1.2h0m3.4-2.2h0m.5 1.2h0m1.4-.3h0m1.1-.7h0m0 1.7h0m4.6-.7h0m.6 .8h0m.2-1.4h0m.6 1.1h0m.5-.9h0m.5 1h0m.1-1.6h0m.5 1.2h0m1 .9h0m.1-2.6h0m.3 1.4h0m-19 3.2h0m1 .9h0m.8-1.4h0m.5 1.1h0m.4-1.3h0m.5 1.5h0m.3-1.6h0m.5 1.1h0m.5-.8h0m.8-1h0m.3 1.7h0m1 1h0m.1-1.8h0m.7 1.4h0m8.7 .1h0m.4-2.6h0m.4 2.6h0m.1-1.2h0m.8 .7h0m0-2.1h0m.6 1.4h0m.6-.8h0m.4 1.3h0m.4-1.3h0m.4 2.1h0m-20.5 2.4h0m.7 .7h0m.2-2.3h0m1 1.8h0m.1-2.2h0m.1 1.2h0m1-.5h0m.3 1.6h0m.5-1.5h0m.2 1.6h0m.3-2.5h0m.5 1.6h0m.6 .5h0m.8 .8h0m.5-1.4h0m.6 .7h0m.7 .2h0m.1-1.1h0m6.6 .7h0m.7-1.8h0m.1 1.9h0m.7-1.5h0m.4 1.9h0m.9-.3h0m.3-1.9h0m1.8 .8h0m.7-.3h0m.2 1.5h0m1.3-.5h0m0 1.1h0m-20.4 .3h0m.1 1.5h0m.8-1.7h0m.2 2.7h0m.4-1h0m.5-1h0m.2 1h0m.6 .3h0m.7-1.1h0m.2 1.8h0m.6-.7h0m.2-1h0m1-1.1h0m0 1.9h0m.8 .2h0m8.9-1h0m.1 1.5h0m.5-1h0m.5 1h0m.1-2.3h0m.5 1.5h0m.4-1.6h0m.2 2.8h0m.8-.4h0m.1-1.4h0m.2-1.1h0m.6 1.7h0m.1-1.3h0m.8 2.2h0m.2-1.7h0m-21 4h0m1.3 0h0m.7-1.2h0m.9 1.5h0m.1-2.2h0m1.6 2.4h0m.3-1.1h0m.3-1.1h0m.5 .9h0m.3 1.3h0m.5-1.2h0m7.9 1.7h0m1.1-2.2h0m.8 1.1h0m.5-1h0m.8-.5h0m.1 1.6h0m1.3-1h0m.1 1h0m.8-.6h0m.2-1.1h0m.1 2.3h0m.7-.4h0m.1-1.4h0m.9-.6h0m-21.2 3h0m1.5-.1h0m.5 2.2h0m.2-1.3h0m.9 1.5h0m0-2.4h0m7.6 .1h0m.6 1.4h0m.8-.4h0m.8 1.5h0m.1-1.4h0m.9-.3h0m.3 1.4h0m1-.6h0m.3-1.4h0m.6 1.3h0m1.1 0h0m.8-1.1h0m.8-.5h0m.1 2.9h0m1.7-.9h0m-4.9 1.5h0m.7 .1h0m1 2.2h0m.5-1.8h0m.8 .7h0m.7 1h0m.2-1.7h0m.7 1.6h0m.3-1.8h0m.5 .8h0m.5 .9h0m-5.9 2.2h0m.1 1.1h0m.6-2.3h0m.4 1.1h0m.6-.6h0m.2 1.3h0m.9-2.1h0m.1 1.5h0m.6 .6h0m.5-1.6h0m.6 1.2h0m1.4-.7h0m-3.6 1.9h0m.7 .9h0m.9 0h0m.6-.7h0" stroke="#00BFC4" stroke-width="1.9" stroke-linecap="round" fill="none"/>
<path d="M509.7 407.5h0m1.5-.8h0m0 1.1h0m.6-.6h0m.2-1.4h0m.8 1.1h0m.9 .8h0m.7-.5h0m.5-1.5h0m.5 2h0m.4-.8h0m.5 .7h0m-10 1.9h0m1.2-1.4h0m1.3 2.6h0m1.5-2.7h0m.2 2h0m.6-1h0m.7 .9h0m0-1.7h0m.7 0h0m.1 1.9h0m.5-1.1h0m.5 1.3h0m.3-1.6h0m.6 .5h0m.8-.1h0m.8 .7h0m1-.4h0m-10.9 3.3h0m.3-.9h0m.5 .7h0m.6-1.5h0m0 1.2h0m.6 .5h0m.3-1h0m1.3 1.3h0m.7-1.5h0m.8-.5h0m.3 1.7h0m.3-1.2h0m1.3 0h0m-5.7 2.9h0m2.7-.4h0m1 1.7h0" stroke="#619CFF" stroke-width="1.9" stroke-linecap="round" fill="none"/>
<path d="M527.3 359.7h0m31.7 51.2h0m.3-.9h0m1.3-.4h0m-1.1 3.3h0m.7-1.6h0m.1 2.1h0m.7-1h0m.7-1.4h0m.4 1.8h0m-1.9 2.7h0m.2-1.1h0m.6 2.3h0m.3-1.7h0m.2 1h0m.8-1.6h0m.1 2.1h0m.6-1.8h0m.1 1.2h0m.7-1.4h0m.4 1.8h0m.8 0h0m.3-1.1h0m-3 2.3h0m.8 0h0m.6 1.3h0m.1-1h0m1.2 1.6h0m.2-1.2h0m.9 1.5h0m.3-1h0" stroke="#F564E3" stroke-width="1.9" stroke-linecap="round" fill="none"/>
<path d="M585.9 365.8h0" stroke="#00BA38" stroke-width="1.9" stroke-linecap="round" fill="none"/>
<path d="M497.1 302.6V445.3H591.6" stroke="#222" stroke-width="0.5" fill="none"/>
<path d="M495.8 334.9L497.1 334.9" stroke="#222" stroke-width="0.4" fill="none"/>
<text x="495" y="336.5" font-size="4.4" fill="#333" stroke="#333" stroke-width="0.1" text-anchor="end">20</text>
<path d="M495.8 373.4L497.1 373.4" stroke="#222" stroke-width="0.4" fill="none"/>
<text x="495" y="375" font-size="4.4" fill="#333" stroke="#333" stroke-width="0.1" text-anchor="end">0</text>
<path d="M495.8 411.8L497.1 411.8" stroke="#222" stroke-width="0.4" fill="none"/>
<text x="495" y="413.4" font-size="4.4" fill="#333" stroke="#333" stroke-width="0.1" text-anchor="end">−20</text>
<path d="M517.9 445.3L517.9 446.6" stroke="#222" stroke-width="0.4" fill="none"/>
<text x="517.9" y="450.9" font-size="4.4" fill="#333" stroke="#333" stroke-width="0.1" text-anchor="middle">−25</text>
<path d="M543.7 445.3L543.7 446.6" stroke="#222" stroke-width="0.4" fill="none"/>
<text x="543.7" y="450.9" font-size="4.4" fill="#333" stroke="#333" stroke-width="0.1" text-anchor="middle">0</text>
<path d="M569.2 445.3L569.2 446.6" stroke="#222" stroke-width="0.4" fill="none"/>
<text x="569.2" y="450.9" font-size="4.4" fill="#333" stroke="#333" stroke-width="0.1" text-anchor="middle">25</text>
<text x="544.4" y="457" font-size="5.3" fill="#111" stroke="#111" stroke-width="0.1" text-anchor="middle">tSNE_1</text>
<text x="483.7" y="376.8" font-size="5.3" fill="#111" stroke="#111" stroke-width="0.1" text-anchor="middle" transform="rotate(-90.03 483.7 376.8)">tSNE_2</text>
<path d="M599.8 361h0" stroke="#F8766D" stroke-width="2.8" stroke-linecap="round" fill="none"/>
<text x="605.9" y="362.6" font-size="4.55" fill="#111" stroke="#111" stroke-width="0.1">T_cells</text>
<path d="M599.8 366.9h0" stroke="#B79F00" stroke-width="2.8" stroke-linecap="round" fill="none"/>
<text x="605.9" y="368.5" font-size="4.55" fill="#111" stroke="#111" stroke-width="0.1">Epithelial_cells</text>
<path d="M599.8 372.7h0" stroke="#00BA38" stroke-width="2.8" stroke-linecap="round" fill="none"/>
<text x="605.9" y="374.3" font-size="4.55" fill="#111" stroke="#111" stroke-width="0.1">Monocyte</text>
<path d="M599.8 378.6h0" stroke="#00BFC4" stroke-width="2.8" stroke-linecap="round" fill="none"/>
<text x="605.9" y="380.2" font-size="4.55" fill="#111" stroke="#111" stroke-width="0.1">Smooth_muscle_cells</text>
<path d="M599.8 384.4h0" stroke="#619CFF" stroke-width="2.8" stroke-linecap="round" fill="none"/>
<text x="605.9" y="386" font-size="4.55" fill="#111" stroke="#111" stroke-width="0.1">Endothelial_cells</text>
<path d="M599.8 390.3h0" stroke="#F564E3" stroke-width="2.8" stroke-linecap="round" fill="none"/>
<text x="605.9" y="391.9" font-size="4.55" fill="#111" stroke="#111" stroke-width="0.1">Tissue_stem_cells</text>
<clipPath id="g2c"><rect x="497.4" y="300" width="200" height="145"/></clipPath>
<text x="561.3" y="330.5" font-size="4.3" fill="#111" text-anchor="middle" clip-path="url(#g2c)">Monocyte</text>
<text x="533.7" y="354.9" font-size="4.3" fill="#111" text-anchor="middle" clip-path="url(#g2c)">Epithelial_cells</text>
<text x="568.7" y="378.3" font-size="4.3" fill="#111" text-anchor="middle" clip-path="url(#g2c)">T_cells</text>
<text x="510.8" y="411.5" font-size="4.3" fill="#111" text-anchor="middle" clip-path="url(#g2c)">Endothelial_cells</text>
<text x="562.6" y="417.8" font-size="4.3" fill="#111" text-anchor="middle" clip-path="url(#g2c)">Tissue_stem_cells</text>
<text x="539.2" y="422.3" font-size="4.3" fill="#111" text-anchor="middle" clip-path="url(#g2c)">Smooth_muscle_cells</text>
<text x="4" y="505.2" font-size="10.3" fill="#000" font-weight="bold">H</text>
<path d="M14.4 539.8V671.2H191.7" stroke="#222" stroke-width="0.5" fill="none"/>
<path d="M13.1 579.5L14.4 579.5" stroke="#222" stroke-width="0.4" fill="none"/>
<text x="12.3" y="580.8" font-size="3.6" fill="#333" stroke="#333" stroke-width="0.1" text-anchor="end">0</text>
<path d="M13.1 629.5L14.4 629.5" stroke="#222" stroke-width="0.4" fill="none"/>
<text x="12.3" y="630.8" font-size="3.6" fill="#333" stroke="#333" stroke-width="0.1" text-anchor="end">−5</text>
<path d="M59.7 671.2L59.7 672.5" stroke="#222" stroke-width="0.4" fill="none"/>
<text x="59.7" y="676.2" font-size="3.6" fill="#333" stroke="#333" stroke-width="0.1" text-anchor="middle">−4</text>
<path d="M107.8 671.2L107.8 672.5" stroke="#222" stroke-width="0.4" fill="none"/>
<text x="107.8" y="676.2" font-size="3.6" fill="#333" stroke="#333" stroke-width="0.1" text-anchor="middle">0</text>
<path d="M155.6 671.2L155.6 672.5" stroke="#222" stroke-width="0.4" fill="none"/>
<text x="155.6" y="676.2" font-size="3.6" fill="#333" stroke="#333" stroke-width="0.1" text-anchor="middle">4</text>
<text x="102.8" y="681.1" font-size="4.4" fill="#111" stroke="#111" stroke-width="0.1" text-anchor="middle">Component 1</text>
<text x="6.5" y="605.1" font-size="4.26" fill="#111" stroke="#111" stroke-width="0.1" text-anchor="middle" transform="rotate(-90.03 6.5 605.1)">Component 2</text>
<path d="M101.2 593.1L103.5 591.3L105.8 589.5L108.1 587.7L110.3 585.9L112.7 584.2L115 582.4L117.3 580.7L119.7 578.9L122 577.2L124.4 575.6L126.8 573.9L129.3 572.3L131.7 570.7L134.2 569.1L136.7 567.6L139.2 566.1L141.8 564.6L144.4 563.2L147 561.8L149.6 560.4" stroke="#000" stroke-width="0.85" fill="none"/>
<path d="M101.2 593.1L98.9 592L96.5 590.8L94.2 589.7L91.8 588.6L89.5 587.5L87.1 586.4L84.8 585.3L82.4 584.2L80.1 583.1L77.7 582.1L75.3 581L72.9 580L70.5 579L68.1 578L65.7 577L63.2 576L60.8 575.1L58.3 574.1L55.9 573.2L53.4 572.3" stroke="#000" stroke-width="0.85" fill="none"/>
<path d="M101.2 593.1L101.9 595.3L102.6 597.4L103.3 599.6L104 601.8L104.7 603.9L105.4 606.1L106.1 608.3L106.7 610.4L107.4 612.6L108.1 614.8L108.8 617L109.4 619.1L110.1 621.3L110.8 623.5L111.4 625.6L112.1 627.8L112.7 630L113.4 632.2L114 634.4L114.7 636.5" stroke="#000" stroke-width="0.85" fill="none"/>
<circle cx="101.2" cy="593.1" r="2.5" fill="#000"/>
<text x="101.2" y="594.3" font-size="3.6" fill="#fff" text-anchor="middle" font-weight="bold">1</text>
<path d="M178 546h0m.6-.4h0m.2-.3h0m.1 .5h0m.1-.3h0m.5 .2h0m.1-.3h0m.2 .1h0m.2 .3h0m0-.4h0m0-.4h0m.2-.9h0m.1-.3h0m0 2h0m.1-.1h0m.4-1.9h0m.1 .9h0m.1 1.2h0m.2-.1h0m0 0h0m.1-1.1h0m.3-.3h0m.3 1.4h0m0-1.6h0m0 .3h0m.1 1h0m.1 .4h0m.1-.3h0m0-.1h0m.1 .3h0m.1-1.4h0m.1 1.1h0m0-.7h0m0 .8h0m0-.6h0m0-.5h0m.2 .9h0m.1-.4h0m0 .5h0m0-.8h0m.3 1.1h0m.2-.6h0m.1 .4h0m.4 .2h0m-13.8 2h0m1.3 .7h0m2.3-.1h0m.2 .6h0m.3-.2h0m.3-.2h0m.1-.1h0m.4-.1h0m.4-1.5h0m0 2.1h0m.1-1.5h0m.1 .1h0m.3-.3h0m.1 1.1h0m.3-1.8h0m.1 .1h0m.6 .1h0m.1 0h0m.1 .8h0m0 .2h0m.1 .7h0m0 .4h0m0-.6h0m.1-1.4h0m.1 1h0m.2-1.3h0m.1-.2h0m0 .6h0m.1 0h0m0 .6h0m0 .9h0m0-1.1h0m.1-.6h0m.1 .8h0m.1-.3h0m0 1.4h0m0-.9h0m.1-1.7h0m0 2.5h0m0-1.3h0m.1 1.3h0m0 .3h0m0-1.6h0m0-.6h0m0 .3h0m.1 .3h0m.1-1.3h0m0 .2h0m.1 1.9h0m0-.6h0m0-.7h0m.1 .8h0m.1-.2h0m0-1.2h0m0-.1h0m.1 .4h0m.1 .6h0m0 .7h0m0-1.4h0m0 1.9h0m.1-.6h0m0-1.3h0m0 2.2h0m0-1.5h0m.1 .2h0m0-.1h0m.1-.2h0m0-1h0m0 1.2h0m.1 .3h0m0-.4h0m.2 0h0m0 .7h0m0-.7h0m0-.5h0m0 .3h0m0-.3h0m0 .6h0m.1-.8h0m0 0h0m.1 .9h0m0-.2h0m0-.2h0m.2-.1h0m0 .7h0m.1 1.2h0m0-1.2h0m0-1.1h0m.1 .2h0m.1 .3h0m0 .5h0m0 .2h0m.1-.5h0m0 0h0m0 .8h0m.1 .1h0m0-1.5h0m.2 .2h0m.1-.1h0m.2 .2h0m0 0h0m.2-.1h0m0-.7h0m0 .3h0m0 .2h0m0 1.2h0m.1-.7h0m0-.9h0m.3 2.4h0m.1-2h0m.1 .7h0m.1-.9h0m.1-.2h0m0 1.3h0m.1-.2h0m0-.4h0m.2 1.5h0m.1-.7h0m.1-.7h0m.1 .6h0m0-.3h0m0-.7h0m.2 1.7h0m.2-1.4h0m0 .9h0m.1-1.5h0m.3-.1h0m.1 .1h0m0 .4h0m.1-.3h0m.3-.2h0m.1 .2h0m-22.5 5.3h0m3.6-.9h0m.3-.1h0m.5 .5h0m.3 .8h0m.7-1.5h0m.1-.1h0m.3 1.1h0m.1-2.1h0m.1 1.7h0m.2-.1h0m.3-1h0m.3 1.6h0m.2-1.1h0m.1 1.2h0m0-.4h0m.1-.5h0m.1 1.1h0m.2-1h0m.2-.3h0m.1 1.5h0m.5-.7h0m.1-.8h0m.4 1.4h0m.4-2.4h0m.1 .3h0m0-.1h0m.1 1.1h0m.1 .1h0m.1 0h0m.1-.1h0m.2-1.7h0m0 2.3h0m.1-.9h0m.2 .2h0m.4-1.4h0m.4-.3h0m0 .7h0m.6-.4h0m0 1.1h0m.3 .1h0m0-.3h0m.1 .3h0m0 1.1h0m.2-2.2h0m.1 1.7h0m.1-1h0m0-.3h0m.5 1.2h0m.1 .1h0m.1-1.1h0m.2 .3h0m.1-.1h0m0-.5h0m.2 .5h0m0 .2h0m0-.1h0m1.3-1h0m0 .9h0m1.5-1.1h0m.4 0h0m.4 .3h0m-21.6 3.8h0m.8 1.3h0m.4 .4h0m1-.5h0m.5-.5h0m.1-.1h0m0 0h0m.5 .8h0m.2-1.7h0m0 1.7h0m0-.1h0m.8-.3h0m.2 .5h0m0-1.8h0m.1 1.1h0m0-.7h0m.2 0h0m.2-.2h0m.6 1.4h0m.3-2h0m.2 1.2h0m.3-.9h0m.3 1.7h0m.1-1.2h0m0 1.5h0m.1-1.8h0m.1-.2h0m.3 .7h0m.3-1.2h0m.1 1.7h0m.3 .4h0m.3-1.4h0m.1 .1h0m0-.3h0m.1 0h0m.2 .2h0m0 .2h0m.1-.5h0m.2-.6h0m0 1.4h0m0-.2h0m1-.8h0m0 .3h0m.3 .9h0m.1-.2h0m.6-.8h0m.1-.6h0m.1 1.9h0m.8-1.2h0m.4 0h0m.2-.8h0m.1 .6h0m1.6-.5h0m.9 .8h0m-21 5.1h0m0-.1h0m.1-.8h0m.1 .8h0m.9-.5h0m1.4-.8h0m.3 0h0m.3 .7h0m.2 .4h0m.1-2.6h0m.2 2.4h0m0 0h0m0-.8h0m.1 .7h0m.1 .1h0m.3 .5h0m.2-1.2h0m0-1h0m.2 1.9h0m.1-1.8h0m0 1.8h0m.1-.3h0m.1-1.6h0m.2-.1h0m.1 1.4h0m.1-.2h0m.1 .4h0m0-.4h0m.2-.4h0m0 1.4h0m0-1.8h0m.1 .1h0m.5-.3h0m.3 1h0m.4 .4h0m.2-1.1h0m.1 .7h0m.1-1.6h0m.1 1.6h0m.1-1h0m.4 .3h0m.2 1.6h0m0-2.7h0m.4 .5h0m0-.4h0m.2 .5h0m0-.5h0m.7 2.1h0m0-2h0m.3 .8h0m.7-.4h0m.1 1.5h0m0-1.1h0m1.8-.9h0m-17.9 5.5h0m1-.9h0m.7-.1h0m.6-.2h0m0 0h0m.2 .7h0m.1 .3h0m.2-.4h0m.2 .4h0m0-1.4h0m.1 .7h0m.2 .7h0m.3 .3h0m.1-.2h0m.2 .4h0m.2-1.4h0m.1 .4h0m.1 .7h0m.1-2h0m.2 .4h0m.3 1.6h0m0-.7h0m.1-.8h0m.1 1.2h0m.1-1.1h0m.2 .4h0m.2 .4h0m.3 .8h0m0-2.2h0m.1-.2h0m.1 1.4h0m.2 .2h0m.1-1.8h0m.4 .1h0m0 1.9h0m.1-1.5h0m.2 1.7h0m0-2h0m.3 .1h0m.1 .2h0m0 .6h0m.1-1.3h0m.2 .9h0m.4-.4h0m.3 .4h0m0-.5h0m.3 0h0m.2 1.2h0m.4-1.3h0m.1 .8h0m0-.4h0m.1-.7h0m.4 .1h0m0 .6h0m.4-.1h0m0 1h0m.1-.3h0m.9-1.2h0m2.3 .2h0m-19 4.8h0m.6 .6h0m.2 .2h0m.3-.8h0m.2 .8h0m.3-.6h0m.2-.5h0m.2-.9h0m.3 1.1h0m0 .1h0m.2-.5h0m.4 .8h0m0-1.5h0m.1 .3h0m.5 .7h0m.2 .6h0m0-2h0m0 2h0m.1-.4h0m.2 .4h0m0-1.4h0m.6 1.4h0m0-2.3h0m.1 1.8h0m.6 .3h0m.1-1.2h0m0-.4h0m.1 2h0m.2-.3h0m0-2.2h0m.1 .6h0m.1 1.5h0m0-1.6h0m.5-.3h0m.4 2h0m.4 .2h0m.4-1.5h0m0-.5h0m.2 1.7h0m0-1h0m0-1h0m.3 1.9h0m.1-1.8h0m.7-.3h0m.1 .7h0m.6-.1h0m.5 .3h0m.2-.8h0m.1 .5h0m1.2-.6h0m-16.3 5.3h0m.2 .1h0m.3 .4h0m.8-.4h0m.9 0h0m.2 .1h0m.6 .1h0m.1-.8h0m0-.4h0m.1 .2h0m.1 .7h0m.1-.1h0m.1-1h0m.6-.6h0m.3 1.9h0m.1-.1h0m.1-2.4h0m0 1.1h0m.1 .2h0m.1-1.5h0m.2 1.5h0m.3 .8h0m.1-.7h0m.1 1.1h0m.3-2.4h0m.1 1.8h0m.3-2h0m0 2.1h0m.1-1.9h0m.1 2.3h0m.1 .2h0m.9-2.1h0m0 .6h0m.2 .1h0m0-.6h0m.4 .2h0m.2 .5h0m.5-.4h0m.6 0h0m-13.9 4.1h0m.4 .6h0m0-.8h0m.4-1.2h0m.5 1.7h0m.5 .1h0m.3-2.3h0m.4 .3h0m0 1.1h0m.1-.5h0m0 .4h0m.1 .9h0m.6-2h0m.1 .9h0m.1 .2h0m.3-1h0m.1 2.4h0m.5-2.2h0m.2-.1h0m.3 .4h0m0 .8h0m.7-1.9h0m.2 .2h0m.2 .2h0m0 .8h0m.1-1.1h0m.1 1.2h0m0-1h0m.2 .1h0m.4 .4h0m0 .5h0m0-.8h0m.3 1.1h0m.2-1.1h0m.3 1.2h0m.2-1.3h0m0-.2h0m.8 1h0m1-1.1h0m.2 0h0m.4 .2h0m-81.8 5.6h0m67.9-.3h0m.5 0h0m.2-.3h0m.1-1.3h0m.4 1.7h0m.4-1.1h0m.3-.3h0m.5-.2h0m.3 1.2h0m0-.8h0m.3-.4h0m.1 .8h0m.2-.2h0m.2-.1h0m.1-.7h0m.1-.1h0m.1 .7h0m.2-.7h0m.3 .3h0m.2 .1h0m0 .5h0m0-.5h0m.1-.8h0m0 2.2h0m.2-1.2h0m.1-1.3h0m.2 .7h0m0-.7h0m.1 .9h0m.1 .1h0m0 .3h0m.4 1h0m.2-1h0m.1-.3h0m.2-1h0m.1 1.1h0m.2-.8h0m.1 1.2h0m.1-1.3h0m0 .5h0m.3 1.2h0m.1-1.4h0m-77 3.7h0m.5 0h0m.1 .6h0m1.4 .2h0m.5-.1h0m1.7 .2h0m.7-.4h0m60.6 .4h0m.3-.3h0m.4 .8h0m0 .2h0m.1-.3h0m.3-1.1h0m0 .5h0m.4 .1h0m0 .4h0m.9-.2h0m0-.7h0m.1-.7h0m.2 .8h0m.6-1.2h0m0-.4h0m.1 1h0m.1-.9h0m.1 .4h0m.2 2.2h0m.5-2.1h0m.4-.2h0m.2 1.6h0m.2-1.4h0m.1 .2h0m0 2h0m.1-1.9h0m.3 1.7h0m.2-2.4h0m.3 .6h0m.2 1h0m.1-.4h0m1-.6h0m.2-.4h0m-74.8 2.6h0m2.8 .9h0m2 .5h0m2.2-1.1h0m1.3 .7h0m1.1-.1h0m1.6 .9h0m.2-.8h0m0 1.4h0m1-.5h0m.4-.7h0m.1 1h0m43.4-.8h0m2.2 .9h0m.1 .6h0m.1-2h0m.3 1h0m.3 .5h0m.1-.2h0m2.4-.2h0m.4 .4h0m.3 .3h0m.2 0h0m1-.4h0m.1 .5h0m.4-.8h0m.2 .9h0m.3-1.5h0m.3 1.1h0m.6 .3h0m.1-2.4h0m.4 .7h0m.1 1.4h0m.1-2.2h0m.2 1.1h0m0-.8h0m.1 .3h0m.2 .6h0m.1 .8h0m.5 .2h0m0-2h0m.2 .1h0m0 .8h0m.2-.8h0m.1 .3h0m.7 .3h0m1.3 0h0m.2-.9h0m.1 0h0m-62.4 3h0m4.7-.4h0m4.1 .5h0m.1 .5h0m2.6 .9h0m1.2-.4h0m.5 1.4h0m.1-.8h0m36.3-1.7h0m.9 .3h0m.2 1.5h0m.1 .5h0m.7-.5h0m0-1.3h0m.4 .8h0m.2-.1h0m0 1h0m.3-1.1h0m.2 .1h0m.1-.6h0m.4 1.4h0m.7-.6h0m.2 0h0m.3-.3h0m.2-1.1h0m.2 1.2h0m.6-.8h0m.4 1.5h0m.2-1.3h0m.1 .5h0m.3-1.3h0m.5 .6h0m.3-.5h0m.1-.1h0m.1 .2h0m.2 1.1h0m.2-.4h0m.2-1h0m.2 1.3h0m3.1-1.2h0m-46.9 4h0m.7-.5h0m2-.5h0m27.8 .3h0m5.5 .2h0m1.1 0h0m2.2-.7h0m.2 .2h0m.2 .6h0m.4-.3h0m2.2 1.2h0m-31.9 2.1h0m16.3-.1h0m2.2 2.1h0m1.1-1.7h0m.3 1.6h0m1.7-2.2h0m4.7-.3h0m-19.1 5.3h0m11.1-1h0m-2.3 2.4h0m.6-.1h0" stroke="#B79F00" stroke-width="1.9" stroke-linecap="round" fill="none"/>
<path d="M85.6 586.8h0m15.9 8.8h0m.2 .1h0m.4 .9h0m.8 .1h0m-.5 2.8h0m.1-2.2h0m.5 1.1h0m0-.8h0m.3 0h0m.1 1.2h0m.2 .5h0m.2-.5h0m.1 .2h0m0 1h0m.4-.7h0m.1-.1h0m-2.2 1.3h0m.2 .6h0m.9 1.8h0m.1-2.3h0m.2 0h0m.2-.1h0m0 2.2h0m.1-.8h0m.8 .8h0m.2-.7h0m.2-.5h0m.4 1.4h0m-1.7 .8h0m.3 1.6h0m.1-1.3h0m.1 1.5h0m.2-1.7h0m0-.1h0m.2 .6h0m.1-.6h0m0 1.1h0m0 1h0m.5 .1h0m0-1.8h0m.1 .8h0m0-.6h0m0-.5h0m.1 .6h0m.2-.3h0m0 .6h0m.1-.2h0m0 1h0m.1-.3h0m0-.9h0m0 1.5h0m.1 0h0m0-1h0m-2.1 1.6h0m.1 .5h0m1.2-.1h0m.4 1.6h0m.1-1.6h0m.8-.1h0m.2 1.8h0m.1-1.6h0m.2 .6h0m-1.7 2.2h0m.2-.5h0m.6 1.9h0m.1 .6h0m.4 .2h0m.1-2h0m.2-.4h0m.1 1h0m.1-1.1h0m.1 2.8h0m.2 .7h0m.3 .4h0m.1 1.5h0m.1-.4h0m0 .6h0m.2-1.3h0m.3 .1h0m.6 .5h0m.2-.1h0m-2.4 1.3h0m.4-.3h0m.4 .3h0m.4 .7h0m.1-.3h0m.1 .8h0m.2 .8h0m0-.3h0m.1-1.8h0m0 1.5h0m.4-.4h0m.2 .6h0m.6 .3h0m.1-.1h0m-1.4 1h0m.7 .8h0m0 .8h0m.1-1h0m.2-.4h0m0 1.1h0m.4 .5h0m.2-1h0m.6 .3h0m-1.4 2.9h0m.1 1h0m.6 .2h0m.5 1.5h0m0 1.3h0m.1-.8h0m.2 .8h0m.1-1.6h0m.2 1.1h0m.4 1.1h0m-1.4 .3h0m.5 1.5h0m.3-.9h0m1 1.1h0m.1 .2h0m.1 .6h0m.3 .3h0m-.8 .5h0m.1 1.8h0m.1-1.7h0m0 .1h0m.3 .3h0m0-.7h0m.3-.2h0m.2 1.6h0m.2 .1h0m0-.2h0m-1.1 1.7h0m.4 1.4h0m.1-1.4h0m.3 0h0m.5 .8h0m.1-.6h0m0 2h0m.2-.9h0m0-.2h0m.1-.1h0m.1-.1h0m0 .9h0m.2 0h0m-.8 2h0m.7 .6h0m.1 1.1h0m.2-.9h0m0-1.8h0m.1 .1h0m.2 .2h0m.1 1h0m.2 .5h0m-1.3 3.3h0m.3-.8h0m.2 .1h0m.8-1h0m.4 0h0m.2 .5h0m-.3 2.6h0m.4 1.5h0m.2-1.2h0m.2 .1h0m.2-.7h0m.2 7.2h0m.5 0h0m.2 3.8h0m.3-1.5h0m1.1 .9h0m.2 .4h0m1.6 3.3h0m-2.6 1.4h0m3.2 .2h0m.1 1.3h0" stroke="#F8766D" stroke-width="1.9" stroke-linecap="round" fill="none"/>
<path d="M56.3 574.6h0m3.6 .5h0m1.8 .4h0m-1 3.2h0m1.3-2h0m6.2 1.5h0m2.6 .6h0m40.5 0h0m-39 2.2h0m2.4-.8h0m.4-.1h0m.5 .7h0m.4 1h0m2.6 0h0m36-.1h0m-37.5 .6h0m35.6 .1h0m.5 .1h0m-16 7.5h0m-11.1 1h0m4.3 .9h0m10.3 1.7h0m2.1 5.8h0m.3 2.4h0m2 .5h0m.1 .1h0m.2-1.7h0m-1.9 5.1h0m.5-1.6h0m.5 3.1h0m.1-1.1h0m2.1 .8h0m-.2 4.5h0m1.3 1.1h0m.5 .7h0m.2 2.8h0m2.5 1.7h0m-3.2 1.9h0m5.1 .5h0m-2.4 1.6h0m.1-.1h0m.3 1.1h0m.1-1h0m.4-.7h0m.1 2.3h0m.1-1h0m.4-.3h0m.7 .3h0m.8-.6h0m-1.8 4.7h0m.1-.9h0m.1 .3h0m.3-.9h0m.4 .5h0m.1 .6h0m.3 0h0m-.9 1.4h0m.2 .2h0m.2 1h0m.3 .9h0m.1-.3h0m0-1.2h0m.1 1.6h0m.6-.1h0m.1-1.3h0m.3-1.1h0m12.8 1.7h0m-13.6 2.6h0m.4 .5h0m.2-.6h0m0-.3h0m.1 1.5h0m.1-1.4h0m.5 .2h0m0 1.3h0m.1-1.2h0m.2 .9h0m.2 .2h0m.6-2.1h0m.2 1.9h0m-1.6 1.6h0m.1 .8h0m.1-1.3h0m.2 2h0m.5-2.3h0m.2 1.6h0m.4 .8h0m.8 0h0m-2 .6h0m.1 .2h0m.1-.3h0m.7 .2h0m.1 .8h0m.1 1h0m.6-.6h0m0 .2h0m1.2-.1h0m.2-.2h0m-1.4 3.7h0m.2-.6h0m.2 .4h0m0-1.1h0m.5-.6h0m.4 2.3h0m2.5-.7h0m.2-.5h0m-5.2 4.1h0m1.1 .4h0m0-1h0m.2-.1h0m0 1.2h0m.4-2.1h0m.5 .2h0m.1 .3h0m.5 .9h0m.4-.6h0m.1 .5h0m.5-1.9h0m2.8 2.5h0m.9-.1h0m-8.1 2.2h0m1.4 .6h0m.2-1.7h0m.1 1.5h0m0-.3h0m.1-1.5h0m0 1.2h0m.1 1h0m.1-.9h0m0 .6h0m.6-1.9h0m.5-.3h0m.6 .1h0m.2 2.1h0m.7-2.1h0m-4.6 2.9h0m1.8 1.1h0m.7-.4h0m.2-.1h0m.4 1.5h0m.2 .3h0m.1-1h0m.4-.9h0m0 1h0m.1 1.1h0m.5-1h0m.3-1.1h0m.2 1.1h0m0 .6h0m.6-.2h0m.2 .8h0m0-2.2h0m.1 1.2h0m.6 1h0m-4 2.7h0m.4-2.3h0m.5 .5h0m0 1.6h0m.7-.5h0m0-.6h0m.3 .9h0m.1 .7h0m.1-2.5h0m.2 .3h0m.2-.5h0m0 1h0m.1 .8h0m.2 .9h0m.1-2h0m0-.1h0m.3 1.3h0m.1 .7h0m.3-.6h0m.4-.2h0m1.3 .2h0m.4-.8h0m1 1.1h0m2.1 .1h0m-9.9 .9h0m.6 .8h0m1.3-1.2h0m.3 .8h0m.3-.6h0m.2 1.6h0m0-.7h0m.2 1.4h0m.1-2.5h0m.1 2.3h0m.2-1.3h0m.4 1.7h0m.1-.9h0m0-1.7h0m.1 1.8h0m0 .1h0m.2-1.8h0m0 .8h0m0 1.1h0m.4-.7h0m0-.5h0m.2-.8h0m.1 2.3h0m0-2.1h0m.2 1.9h0m.1-.6h0m0-.3h0m.5-.3h0m.2-.1h0m.3 1.9h0m.1-2.6h0m.3 1.3h0m.1-.5h0m.1-.4h0m.2 1.8h0m1.7-.4h0m-7.7 1h0m.2 0h0m0 .9h0m.9 .8h0m.3-1.3h0m.6 1.4h0m0-.6h0m.3-1h0m0 .2h0m1 .3h0m.2 .4h0m.1 .2h0m.1 .2h0m.1 .3h0m0 .4h0m0-2.1h0m.1 1h0m.2-.1h0m.1-1h0m.1 .2h0m0-.2h0m.1 2.7h0m0-2.4h0m.2 1.8h0m0-1h0m.3 .3h0m.1-.7h0m.2 .2h0m.1-.8h0m.2 2.4h0m.1-.9h0m.3-1.2h0m.1 1.4h0m.3-1.6h0m1.7 1.4h0m-8.8 2.1h0m2.3 .4h0m0-.2h0m1.3-.2h0m.4 .5h0m.4 .8h0m.1 .2h0m.1-1.2h0m.1 .5h0m0 1.3h0m.2-.2h0m.3-2.2h0m.5-.2h0m.2 .8h0m.1-.7h0m0 .4h0m.3 1.8h0m.1-1.6h0m0 2h0m.5-.7h0m.2-.5h0m.2-.8h0m.2 0h0m.1 1.5h0m.3-.2h0m.1-1.8h0m0 1.2h0m.1 1.2h0m.1-2.2h0m.4 .4h0m1.1-.6h0m.4 .6h0m-6.8 2.8h0m.5-.8h0m.3 .6h0m2-.5h0" stroke="#00BFC4" stroke-width="1.9" stroke-linecap="round" fill="none"/>
<path d="M116.5 647.6h0m1 2.1h0m.9 1.6h0m0 2.1h0m.1-1.1h0m.3 1.6h0m.9 .1h0m.9-2.4h0m-3.8 3.6h0m.2-.7h0m.4 1.2h0m.4-1.2h0m1 .9h0m.3-1.1h0m1.1 0h0m1.9-.3h0m-4.8 3.3h0m2.5 1.7h0m2.3 .7h0m.6-.7h0m1 .9h0m1.1-.7h0" stroke="#F564E3" stroke-width="1.9" stroke-linecap="round" fill="none"/>
<path d="M22.7 562.6h0m.6 .7h0m.1 .6h0m.3-1.7h0m.3 .6h0m.2 .9h0m.1 0h0m0-.3h0m1-.1h0m.7 .1h0m1.2 .3h0m1.6 0h0m.3 .3h0m.2-.5h0m0-.9h0m.3 .8h0m.2 .3h0m.6-.3h0m.3-.1h0m.9-.1h0m-6.5 1.3h0m2.4 1.5h0m.1-1.6h0m.1-.2h0m.2 .8h0m0 .6h0m.1-.9h0m.1-.5h0m.4 .9h0m0-.5h0m.2-.2h0m.1-.2h0m.1 1.8h0m.1-1.9h0m0 .6h0m0-.1h0m.1 .5h0m.4-.5h0m0 0h0m.1-.4h0m.2-.1h0m0 1.3h0m0-1.1h0m.3 .5h0m0-.8h0m.1 .8h0m0-.2h0m0 1h0m.1 0h0m.1-1.3h0m.1-.3h0m.1 1.4h0m2.1 .3h0m.2 0h0m.1 .7h0m1.3 0h0m1.2 .3h0m.4 .2h0m.4 .2h0m.4 .1h0m.4-.1h0m.2 .4h0m.4 .7h0m.2-.9h0m.3 1.3h0m.8-.3h0m.2 0h0m.5-.6h0m0 .6h0m.6 .3h0m.6 .8h0m1.7 .3h0m.9-.4h0m.6-.2h0m.9 .6h0m.9 .1h0m.3 0h0m-3 1h0m1.9 .8h0m.9-1.1h0m.3 0h0m0-.3h0m.1 .8h0m.2-.1h0m.1 .7h0m.2-1.5h0m1.1 .6h0m.9 0h0m.2 .3h0m0-.2h0m0 .1h0m.4 .4h0m1.1 .8h0m1.7-.1h0m.9 .8h0m-1.3 2.5h0m.3-.8h0m1.7 .2h0m.3-1.6h0m.9 2.2h0m4.4 .6h0m2-.5h0m-8.9 1.5h0m2.7 1.8h0m11.9-1h0m1.4 .4h0m-3.7 3.4h0m5.2-1.5h0m1.4-.7h0m.4 .8h0m1.5 .1h0m3.4 1.3h0m-.2 .9h0m.8-.4h0m30.1 2.7h0m4.3-1.4h0m1-.1h0m1.4-.9h0m-10.2 6.1h0m-1 4.3h0" stroke="#00BA38" stroke-width="1.9" stroke-linecap="round" fill="none"/>
<path d="M22.1 563.3h0m.2 .1h0m.3-1.2h0m.2 .8h0m0-.5h0m.1-.3h0m.3-.8h0m.1 .6h0m.1 .2h0m0 .6h0m.1-.1h0m.1 .2h0m.4-1.3h0m0 2h0m.2-2h0m.1 .6h0m.2 .6h0m0 1.1h0m0-1.2h0m0-.3h0m.2 1.3h0m0-1.2h0m.3 .9h0m0-.8h0m0-.2h0m.1 .9h0m.1 .4h0m.1-.6h0m.1 .6h0m0-.6h0m0-.7h0m0 1.5h0m.1-.8h0m0-.6h0m0-.5h0m.1 1.2h0m0 .5h0m0-1.3h0m.2-.8h0m.1 1.8h0m0-.6h0m.1 .5h0m.1-.8h0m0 .9h0m.1-1.4h0m0-.8h0m.2 2h0m.1-.3h0m.1 0h0m.1 .5h0m.1-.3h0m.1 .5h0m0 0h0m.1 .4h0m0-.6h0m.2-.1h0m.2 .3h0m.1-1.2h0m0 .4h0m0 .7h0m.3 .1h0m.1 0h0m.1-1.9h0m.1 2h0m0-.2h0m.1 0h0m.1-.2h0m.2-.5h0m.1 .5h0m.1-.4h0m.2-.4h0m.1 .5h0m.1-.5h0m.3 1.3h0m0-1.2h0m.3 .8h0m.7 0h0m-6.7 1.2h0m.7 0h0m.8-.4h0m.1 .1h0m0 0h0m.5 .1h0m.3 1h0m.3-1.3h0m.2 .9h0m.2-.9h0m.5 .4h0m.3 .2h0m.3-.2h0m.2 0h0m.4-.4h0m.9 .1h0m.4-.2h0m.4 .2h0m.1 .4h0m.5-.2h0m.1 .3h0m.4-.3h0m.2 0h0m.1-.3h0m.1 .6h0m.3 .1h0m.2 0h0m0-.1h0m.1 .5h0m.9-.7h0m.1 .4h0m.8 .4h0m.4 .2h0m.4-.2h0m0 .7h0m.8 .2h0m.2-.6h0m1.8 1.3h0m.5-.3h0m0-.3h0m.1-.5h0m.1 .5h0m1.5 .5h0m.7-.3h0m.2 .1h0m-.4 .6h0m.4 .3h0m.6 .6h0m0-.2h0m.1 .2h0m.1-.4h0m0 .5h0m.5-.4h0m0 .3h0m.9-.7h0m.6 .7h0m.1 .6h0m.4 .1h0m.5-.3h0m0-.7h0m.1 1.1h0m1.1 .4h0m1.5-.3h0m0 0h0m.9 .5h0m.7 .1h0m.8 .3h0m0 0h0m-1.4 .4h0m1-.1h0m.4 .1h0m.1 .3h0m.5-.4h0m.3 .8h0m.1 .4h0m.1-.9h0m2.3 1.6h0m2 .8h0m.8-1.6h0m.2-.6h0m0 1.5h0m.2-.1h0m.3 1.6h0m0 1.2h0m1.1 1.3h0m.1 1h0m1.6-.2h0m1.5-.6h0m2.4 0h0m2.7 .1h0m-.6 5.4h0m50-.2h0m-5 1.3h0m6.3 .8h0m-50.2 1.8h0m45.7 3h0" stroke="#619CFF" stroke-width="1.9" stroke-linecap="round" fill="none"/>
<circle cx="101.2" cy="593.1" r="2.5" fill="#000"/>
<text x="101.2" y="594.3" font-size="3.6" fill="#fff" text-anchor="middle" font-weight="bold">1</text>
<text x="27.8" y="522.8" font-size="4.8" fill="#111" stroke="#111" stroke-width="0.1">cell_type2</text>
<path d="M55 515.7h0" stroke="#F8766D" stroke-width="1.7" stroke-linecap="round" fill="none"/>
<text x="60.6" y="517" font-size="3.7" fill="#222" stroke="#222" stroke-width="0.05">Endothelial_cells</text>
<path d="M94.4 515.7h0" stroke="#00BA38" stroke-width="1.7" stroke-linecap="round" fill="none"/>
<text x="100" y="517" font-size="3.7" fill="#222" stroke="#222" stroke-width="0.05">Monocyte</text>
<path d="M141.7 515.7h0" stroke="#619CFF" stroke-width="1.7" stroke-linecap="round" fill="none"/>
<text x="147.3" y="517" font-size="3.7" fill="#222" stroke="#222" stroke-width="0.05">T_cells</text>
<path d="M55 526.5h0" stroke="#B79F00" stroke-width="1.7" stroke-linecap="round" fill="none"/>
<text x="60.6" y="527.8" font-size="3.7" fill="#222" stroke="#222" stroke-width="0.05">Epithelial_cells</text>
<path d="M94.4 526.5h0" stroke="#00BFC4" stroke-width="1.7" stroke-linecap="round" fill="none"/>
<text x="100" y="527.8" font-size="3.7" fill="#222" stroke="#222" stroke-width="0.05">Smooth_muscle_cells</text>
<path d="M141.7 526.5h0" stroke="#F564E3" stroke-width="1.7" stroke-linecap="round" fill="none"/>
<text x="147.3" y="527.8" font-size="3.7" fill="#222" stroke="#222" stroke-width="0.05">Tissue_stem_cells</text>
<path d="M205.3 548.2V671.2H381.7" stroke="#222" stroke-width="0.5" fill="none"/>
<path d="M204 586.4L205.3 586.4" stroke="#222" stroke-width="0.4" fill="none"/>
<text x="203.2" y="587.7" font-size="3.6" fill="#333" stroke="#333" stroke-width="0.1" text-anchor="end">0</text>
<path d="M204 632.3L205.3 632.3" stroke="#222" stroke-width="0.4" fill="none"/>
<text x="203.2" y="633.6" font-size="3.6" fill="#333" stroke="#333" stroke-width="0.1" text-anchor="end">−5</text>
<path d="M251.1 671.2L251.1 672.5" stroke="#222" stroke-width="0.4" fill="none"/>
<text x="251.1" y="676.2" font-size="3.6" fill="#333" stroke="#333" stroke-width="0.1" text-anchor="middle">−4</text>
<path d="M299.2 671.2L299.2 672.5" stroke="#222" stroke-width="0.4" fill="none"/>
<text x="299.2" y="676.2" font-size="3.6" fill="#333" stroke="#333" stroke-width="0.1" text-anchor="middle">0</text>
<path d="M346.9 671.2L346.9 672.5" stroke="#222" stroke-width="0.4" fill="none"/>
<text x="346.9" y="676.2" font-size="3.6" fill="#333" stroke="#333" stroke-width="0.1" text-anchor="middle">4</text>
<text x="295" y="681.1" font-size="4.4" fill="#111" stroke="#111" stroke-width="0.1" text-anchor="middle">Component 1</text>
<text x="196.5" y="610.7" font-size="4.26" fill="#111" stroke="#111" stroke-width="0.1" text-anchor="middle" transform="rotate(-90.03 196.5 610.7)">Component 2</text>
<path d="M292.6 598.9L294.9 597.2L297.2 595.6L299.5 593.9L301.7 592.3L304 590.7L306.4 589L308.7 587.4L311 585.9L313.4 584.3L315.8 582.8L318.2 581.3L320.6 579.8L323 578.3L325.5 576.9L328 575.5L330.5 574.1L333.1 572.8L335.7 571.4L338.3 570.1L340.9 568.9" stroke="#000" stroke-width="0.85" fill="none"/>
<path d="M292.6 598.9L290.3 597.8L288 596.8L285.6 595.7L283.3 594.7L280.9 593.7L278.6 592.7L276.2 591.7L273.9 590.7L271.5 589.7L269.2 588.7L266.8 587.8L264.4 586.8L262 585.9L259.6 585L257.2 584.1L254.7 583.2L252.3 582.3L249.9 581.5L247.4 580.6L245 579.8" stroke="#000" stroke-width="0.85" fill="none"/>
<path d="M292.6 598.9L293.3 600.8L294 602.8L294.7 604.8L295.4 606.8L296.1 608.8L296.8 610.8L297.5 612.8L298.1 614.8L298.8 616.7L299.5 618.7L300.2 620.7L300.8 622.7L301.5 624.7L302.2 626.7L302.8 628.7L303.5 630.7L304.1 632.7L304.8 634.7L305.4 636.7L306 638.7" stroke="#000" stroke-width="0.85" fill="none"/>
<circle cx="292.6" cy="598.9" r="2.5" fill="#000"/>
<text x="292.6" y="600.1" font-size="3.6" fill="#fff" text-anchor="middle" font-weight="bold">1</text>
<path d="M362.6 558h0m3.5-.1h0m-13.4 2.9h0m7.7-1h0m1.6-.7h0m.2 1.1h0m1.6-1.8h0m.9 1.1h0m0 .3h0m0 1h0m.3-.4h0m.1-1h0m2.5 .1h0m-18.4 4h0m.3 .3h0m2.2-.2h0m1.1 0h0m.6-1.4h0m1.1 .5h0m.6 .8h0m0-1.1h0m1.3 1h0m.7-1.1h0m.2-1.1h0m2.2 1.8h0m1.1-1.9h0m.3 .1h0m-18.3 5.3h0m3.6-1.1h0m.9-.7h0m.7 1.3h0m.9-1.2h0m.6 1.2h0m.3-1h0m.1 .6h0m0-1.4h0m.9 2.3h0m.3-2.1h0m3.9-.3h0m-18.6 5.6h0m.7-.6h0m.4 .6h0m.7 .2h0m.6-1.6h0m.9 .7h0m1.6-.5h0m.2-1.2h0m.5 1.2h0m.1-.7h0m.4 .4h0m.5-.9h0m.4 1.3h0m.7 .4h0m.3-1.8h0m.2 .8h0m2-.2h0m1 .1h0m-16.3 5h0m.6-1.4h0m0 .7h0m.6-.3h0m.1 .3h0m.3-.8h0m.2 .7h0m.2 .1h0m.1-.6h0m0 .8h0m.2-1.3h0m.2-.7h0m.5 .6h0m.4 .7h0m.8 .1h0m.1-.3h0m.8 .3h0m.7-.2h0m.1-1.1h0m0-.3h0m.1 1.8h0m.2-.3h0m.1-1.4h0m.1 1.3h0m0-1.5h0m.9 1.6h0m.4 .1h0m.4-1.8h0m.2 1.6h0m0-.9h0m.3 .8h0m2-1.1h0m-18.5 5.2h0m1.2-.4h0m.4 .2h0m.8 0h0m.6 .1h0m.5 .1h0m.2-1.1h0m.2 0h0m.1 1.4h0m1-.8h0m0-.6h0m.1 .8h0m.4 0h0m.4 .4h0m0-1.1h0m.1 .8h0m.2-.8h0m.3 .8h0m.2-.7h0m.1-1h0m.2 1.4h0m0-1.2h0m0 .5h0m.1-.1h0m.1-.8h0m.9 1.1h0m.6 .4h0m.3-.7h0m.2 .3h0m.5-.5h0m.6 .6h0m.8-1.3h0m.6-.3h0m.2 .4h0m.6-.3h0m-15.2 5.6h0m.5-.2h0m.6 .1h0m.6-.2h0m.4-.1h0m.2-.9h0m0-.8h0m.1 2h0m.3 .1h0m0-.8h0m.4-.2h0m0-.6h0m.1 1.2h0m.2 .5h0m.7-.2h0m.2-.9h0m.2 1h0m0-2.8h0m.1 2.1h0m.2-.2h0m.1 .5h0m.3-.2h0m.1-2h0m0 .2h0m1.5 .3h0m1.3-.6h0m-79.7 5.5h0m68.6-.7h0m0-.4h0m.2 .9h0m.1-.8h0m.1 .4h0m.6 0h0m.4-.2h0m.2-.8h0m.2 1h0m0-1.2h0m.2 1.4h0m.4-1.1h0m.1 .6h0m.3-1.5h0m.1 2h0m1.2 .1h0m.2-1.9h0m.1 1.5h0m0-1.6h0m1.2-.1h0m1.3 .7h0m.9-.8h0m-75.3 5h0m2.1 .4h0m2.1-.9h0m4.2 .6h0m53.2 .4h0m1.3-.3h0m.5 .2h0m0-.7h0m.1 .3h0m.1 .5h0m.6-2.2h0m.1 1.4h0m.1 0h0m.1 .7h0m.1-2.3h0m0 1.6h0m.2 .3h0m.2-1.2h0m0 .2h0m.4-.8h0m.3 .4h0m.9-.2h0m.1 1.8h0m.2-2.3h0m0 1.6h0m2.6-.6h0m1-.9h0m-65.7 4.1h0m50.4 .4h0m.2-1.2h0m0 2.6h0m.1-2.1h0m.7 2.1h0m0-1.3h0m.6 .7h0m.3-.1h0m.1 .1h0m.2-.6h0m1.3 .8h0m.3-.3h0m.1-1.9h0m0 .9h0m.3 1h0m0-1.6h0m.5 .9h0m.7-1.3h0m0 1.5h0m0 .5h0m.5-2.2h0m.1 .8h0m.3 .8h0m.3-.5h0m0 0h0m.4 1.1h0m.2-.4h0m.2-.9h0m.5-.5h0m-44 4.2h0m36.4-1.3h0m1.3 0h0m1.5 .3h0m.8 .4h0m1.3-1h0m-12.5 5.9h0m3.1-2.1h0m-14.3 4.6h0m8.7 1.3h0m.6-.1h0" stroke="#00BA38" stroke-width="1.9" stroke-linecap="round" fill="none"/>
<path d="M371.4 554h0m.6-.3h0m1.7 1h0m.3 0h0m-12.8 2.6h0m3.6 .6h0m.9 0h0m1.1-.8h0m1.5 0h0m.1 .9h0m.5-2h0m.7 .8h0m.6-.1h0m.3 .1h0m0-.2h0m0-.9h0m.1 1.3h0m.1-1.6h0m.6 .6h0m.3 1.2h0m0-.6h0m0 .1h0m.4-.5h0m.2 .2h0m.2-.9h0m.5 .6h0m.2-.1h0m.7 .8h0m.8-1.5h0m-18 4.6h0m.6 .5h0m1.5-1.7h0m.3 1.4h0m.8 .7h0m1.2-.3h0m.2-.7h0m1.2 .4h0m.2-1.7h0m.3 1.5h0m.4-1.3h0m.5 .3h0m.6 .7h0m.2 .1h0m.7-1.6h0m.3 2h0m.5-.7h0m.2 0h0m0 .2h0m.2-1.3h0m-15.3 4.5h0m.6-.9h0m1.1 1h0m0-.6h0m.3 0h0m.7 1h0m.8-1.5h0m.6 .2h0m.1-.2h0m.6 1.1h0m.7-.8h0m.3-.1h0m1.7 .7h0m0-.3h0m-16.1 4.2h0m1.1-.6h0m1.7-.7h0m.8 .7h0m.3 .6h0m.6-.3h0m.3-1.8h0m.5 1.1h0m.1-.4h0m.1 1.2h0m.1-1.4h0m.1 1.8h0m1.6-1.2h0m1.9 .3h0m.1-1.8h0m1 .3h0m.1 .4h0m-17.7 5h0m3.9-1.9h0m.2 .7h0m0 1.1h0m.5-.8h0m.6 .3h0m0 .3h0m.3-.2h0m.1-1.3h0m.6-.4h0m.4 2h0m1.1-1.3h0m.7-1.4h0m.3 .2h0m1.7-.1h0m1.6 1.1h0m-13.4 3.2h0m0 .1h0m.4 1.3h0m.3-2.5h0m.5 1h0m.6-.8h0m.6 .8h0m2.9-.8h0m2.8-.3h0m-14 4.7h0m3.6-1.6h0m0 .2h0m.5 1.5h0m1-.8h0m-10.8 2.8h0m.1 1.4h0m1.3-.7h0m.2 .9h0m.3-1.3h0m.7-.8h0m3.5-.5h0m1.1 .4h0m-14.2 5.4h0m3.4-1.7h0m2.6-.3h0m.1-.7h0m1-.1h0m-19.2 5.5h0m2.3-.5h0m.4 1h0m6.7-1.4h0m.6-.1h0m1.8-.7h0m.5 1.6h0m.2-2h0m1.4 1.1h0m2.1-1.2h0m.7 .6h0m-13.7 2.5h0m2.2 2.2h0m.2-2.5h0m1 .6h0m2.2-.1h0m.6 .2h0m1.4-.4h0m.5 .2h0m-14.8 3.5h0m8.3-1h0m-12.1 3.9h0m3.3 .4h0m.3 1.5h0m-1.6 1.7h0" stroke="#619CFF" stroke-width="1.9" stroke-linecap="round" fill="none"/>
<path d="M358.2 559.6h0m.4 1h0m1 .1h0m.2-.3h0m.4-.3h0m1.7-1.2h0m.8 1.7h0m.1-.8h0m2.2-1.4h0m.2 .8h0m.4-1.1h0m.2 1.2h0m-17.5 3h0m2.3 1h0m1.2 .3h0m.1-.1h0m.8-.3h0m.2-1.2h0m2.3 1.8h0m.5-1.3h0m.2-1h0m.7 .6h0m.2-.2h0m.7-.9h0m1.9 .8h0m.1-.5h0m1.2 .6h0m.9-.8h0m1 .1h0m-19.8 5.4h0m1.7 .2h0m.6-1.4h0m.9-1.4h0m.2 2.2h0m.1 .8h0m.1-.8h0m.3 .5h0m.1 .1h0m.1-2.1h0m.3 1.6h0m.1-.2h0m.5-.4h0m.3-.8h0m1.9-.2h0m.4 .3h0m.2 2h0m.6-2.9h0m.9 .8h0m-14.2 3.4h0m1.3-.3h0m.6 1.9h0m.4-1h0m.4 .2h0m.6 0h0m.6 .1h0m.2-.3h0m1.8-1.5h0m.6 0h0m.3 .2h0m.4-.4h0m.3 .4h0m1.9-.3h0m-15.8 5.1h0m1.2 0h0m1.8 .5h0m.1-2.3h0m.7 1.2h0m.3 0h0m-8.7 3.8h0m.5-.7h0m1 .1h0m.2 .2h0m1.4-1.2h0m.1 1.3h0m1.4-.7h0m.4-1.1h0m.4 .1h0m.2 1.6h0m.8-.7h0m1.2-1h0m1.7-.3h0m-16.7 5.4h0m3.6 .2h0m.3 .1h0m.4-.3h0m.7 .3h0m.5-2.5h0m0 .8h0m1.2 .5h0m2.9-1.6h0m.8 .3h0m1.1-.4h0m-14.3 5.9h0m.1-.7h0m2.7 .1h0m1.1 .5h0m1.6-2.7h0m1.1 1h0m2.3-.6h0m-7.5 3.5h0m-13.8 3.3h0m1.9-1h0m.4 2.2h0m4.1-1.7h0m.3 .3h0m.9 .1h0m.8 1h0m3.2-1.1h0m-10.9 3.3h0m1.1-.1h0m2.4-.4h0m.2 .5h0m2.6 .8h0m-5.6 1.4h0" stroke="#DE8C00" stroke-width="1.9" stroke-linecap="round" fill="none"/>
<path d="M215 572.1h0m.6-1h0m.2 .8h0m.1-.3h0m.2-.6h0m.2-.2h0m.3-.1h0m.1 1.9h0m.2-.1h0m0-1.1h0m0 1.1h0m.7-1h0m.1-.7h0m.7 1.4h0m.1-.4h0m.3 .1h0m.1 .8h0m.2-1h0m.1 .9h0m.1-.3h0m.6-.7h0m.2 1.1h0m.3-.8h0m0 .5h0m.1-.1h0m.1 .5h0m0-.1h0m.3-1h0m0-.8h0m.2 1.9h0m0-.1h0m.1-1.1h0m.2 .8h0m.3 .5h0m.3-1.2h0m0 .7h0m.1-.2h0m1.1-.7h0m-4.1 2.5h0m.4-.9h0m0 .5h0m1.2-.4h0m1.4 .2h0m2.2 .3h0m3.2 1.1h0m.3 .2h0m.5 .1h0m.6 .3h0m.5-.2h0m1.9 .4h0m.1-.8h0m-1.6 1.6h0m1-.3h0m1.1 .3h0m2.3 1h0m1.5-.5h0m.9 .5h0m.9 .1h0m.1 .6h0m.2 0h0m.1-.3h0m.3 .7h0m.3-.7h0m1.9 .6h0m.2 .2h0m0-.2h0m0 .1h0m4.1 1.7h0m.7 1.8h0m.3-1.5h0m3.7 1.1h0m1.5-1.2h0m-7.4 2.2h0m3.1 0h0m4.3-.2h0m.1 .7h0m.4-.8h0m1.7 .2h0m.7-.4h0m4.4 2.8h0m.5-.1h0m1.1-.4h0m-13 1.2h0m12.7 .3h0m3.5 .3h0m.4 .7h0m1.5 .1h0m2.6 .3h0m-11.1 .9h0m11.6 .4h0m.1 .4h0m.1-.8h0m.7 .5h0m.9 .6h0m2-.4h0m30 .7h0m1.4 .3h0m-7.8 4.6h0m-1 4h0" stroke="#00C08B" stroke-width="1.9" stroke-linecap="round" fill="none"/>
<path d="M214.8 569.8h0m.8 .1h0m.2 0h0m1.6 0h0m.5-.3h0m-4.2 1.9h0m.2 .1h0m.4-1h0m0 .3h0m.1 .3h0m0-.4h0m.1-.3h0m.4-.2h0m0 1.3h0m.1-1.1h0m.1 .5h0m0 0h0m.1 .1h0m.1 1.6h0m0-2.2h0m.3 1.3h0m.3 .1h0m0-1.4h0m.1 2.2h0m.1-1.7h0m0 1.1h0m0-1.4h0m.2 1.2h0m.3-.3h0m0-.7h0m.1 .6h0m.1 .4h0m0 .4h0m.1-.7h0m.1 .3h0m0-.6h0m0-.6h0m0 1.4h0m.1-.7h0m0-.6h0m0-.4h0m.1 1.1h0m0 .4h0m.1-1.2h0m.1 1.8h0m.1-.9h0m.1-.6h0m0 .6h0m.1 0h0m.1-1.3h0m.2 1.2h0m0 .8h0m.1-1.1h0m.1 0h0m.1 .4h0m.1-.3h0m.1 .5h0m.1 .3h0m0-.4h0m.2-.2h0m.2 .3h0m.1-1.1h0m0 .4h0m.1 1.7h0m.2-1h0m.1 .9h0m0-.9h0m.1-1.8h0m0 2.8h0m.1-.2h0m0-.7h0m0 .5h0m0-.7h0m0 0h0m.4 .5h0m0-1.2h0m.1 .5h0m.1-.3h0m0 1.3h0m.2-1.7h0m.1 .5h0m0 .8h0m.1-1.3h0m.3 1.2h0m0 .3h0m0-1.4h0m.2 1.4h0m.1-.7h0m.1 .6h0m0-.3h0m0 .4h0m.3-.1h0m.1 .7h0m0-.6h0m0 .5h0m.1-.1h0m.1-1.1h0m.3-.1h0m.1 1h0m.1 .3h0m.4-.3h0m.2 .1h0m.1-.3h0m.1 .5h0m.3 .1h0m.2 0h0m0-.1h0m1-.1h0m.1 .3h0m-7.2 .5h0m.5-.4h0m1.9 .1h0m.4 .8h0m.9-.6h0m.4 .2h0m.1 0h0m2-.3h0m.6 .4h0m.1 .7h0m1.1-1h0m.2 1h0m.2-.8h0m.3-.2h0m.1 .6h0m.6 .7h0m.1-.5h0m.2-.6h0m1.3 1.4h0m.5-.2h0m.5-.3h0m.1-.2h0m.1-.5h0m.1 .4h0m2 .9h0m.2-.6h0m.2 .1h0m0 .8h0m.5 .6h0m.1-.3h0m0 .2h0m.1-.4h0m.1 .5h0m.5-.3h0m0 .2h0m.9-.6h0m.6 .6h0m1-.2h0m-6.9 .4h0m1.2 0h0m.8 0h0m1.2 1h0m2.3 1.3h0m.3-1.3h0m.2-.7h0m.4 .2h0m.4-.3h0m.1 .3h0m1.1 .4h0m.4 .5h0m.3 1.1h0m.8-1.8h0m0-.1h0m.8 1.6h0m.2-1h0m0 .7h0m.7-.7h0m.3 .5h0m.2 1h0m.2-.8h0m.1-.4h0m0 0h0m.1 .7h0m.4-.5h0m.4 .8h0m.1 .3h0m.1-.8h0m5 .7h0m.2-.5h0m-11 .8h0m1.7 0h0m3.8 .5h0m1.7 2.2h0m0-2.3h0m.9 .1h0m1.9 .7h0m1.1-.6h0m.2-.1h0m.2 1.5h0m-4 2.9h0m4-1.8h0m1.1 1.2h0m.2 .8h0m1.5-.1h0m1.5-.5h0m.6-1h0m1.8 1h0m2.7 .1h0m2.6 1.4h0m1.5 1.7h0m-4.6 1.8h0m47.2 1.2h0m1.4-.8h0m1.2-.6h0m1.3 2h0m-50.1 1.6h0m40.9-.9h0m4.6 3.6h0" stroke="#F8766D" stroke-width="1.9" stroke-linecap="round" fill="none"/>
<path d="M263.8 587.8h0m40.7 1.4h0m-1.7 37.4h0m.8 4h0m1.5 .5h0m-.5 3h0m1.4 0h0m1-1h0m2 6.4h0m-.2 3.7h0m2.8-1.1h0m-4 5.8h0m5.3-1.7h0m-5.7 2.4h0m.7 .2h0m.9 2h0m.9 1.4h0m.1 .9h0m2.2-.6h0m-3.9 3.3h0m.3-.6h0m.4 1.1h0m.4-1.1h0m.6-1h0m0 1.6h0m.3-1.2h0m.1 1.4h0m.3-1h0m.6-.3h0m.4 .3h0m2-.3h0m1.3-.5h0m-6.2 3.5h0m.4 1.4h0m1-2h0m0 1.5h0m1.2 .7h0m.6-1.6h0m1.3-.3h0m.4 2.5h0m.6-.7h0m2.1 .3h0m-3 1h0m.8 1.8h0m1.1-2.2h0m.2 2.8h0m1.9-1.7h0m-4 1.9h0" stroke="#B79F00" stroke-width="1.9" stroke-linecap="round" fill="none"/>
<path d="M277 593.1h0m15.9 8h0m.3 .1h0m.4 .9h0m.4 .6h0m.3-.5h0m-.5 2.6h0m.6-1.1h0m0-.7h0m.4 0h0m.1 1.1h0m0 1.6h0m.1 .1h0m0-1.3h0m.2-.4h0m0 1.5h0m.1-1.3h0m0 .8h0m.4-.6h0m.1-.1h0m-2 1.8h0m.9 1.7h0m.5 .7h0m.1-.9h0m0-.8h0m.3 2h0m.3-.4h0m.2-.8h0m.1 .9h0m.1-1.6h0m.2-.5h0m.2 2.5h0m.1-.3h0m.3 .2h0m-1.7 2.6h0m.1-1.5h0m.2 .3h0m.4-1.2h0m.1 .5h0m0 .9h0m.5 .1h0m.1-.9h0m0-.6h0m.1 .1h0m.2 2.2h0m.1-1.9h0m0-.2h0m0 1h0m.1-1.2h0m0 1.4h0m.1 0h0m.5 .8h0m.3 .2h0m-1.5 2.6h0m.2-.5h0m.1-.7h0m1.3 1h0m.1-1.8h0m0 2.7h0m.1-1h0m-1 1.6h0m.1 .5h0m.4 .2h0m.6 .3h0m.2 .6h0m.3 .4h0m.4 .3h0m.3 .1h0m-1.6 1.6h0m.4-.3h0m.4 .3h0m.2-.7h0m.1-.3h0m0 .5h0m.1 1.1h0m.2 .5h0m.2 .4h0m.1-1.6h0m0 1.4h0m.4-.4h0m.1-2h0m0 2.6h0m.2-2.7h0m-.8 3h0m0 .8h0m.7 1.4h0m.1-.9h0m.2-.3h0m0 .9h0m.3-2h0m.1 0h0m0 2.5h0m.2-.9h0m.6 .3h0m-1.4 2.6h0m.1 .9h0m.6 .2h0m.5 1.4h0m0 1.2h0m.1-.7h0m.2 .7h0m.1-1.4h0m.2 1h0m.4 1h0m-1.4 .2h0m.5 1.4h0m.3-.9h0m1 1h0m.1 .3h0m.1 .5h0m0 .6h0m.3-.3h0m0 .1h0m-.8 .4h0m0 1.6h0m.1 1h0m.1-2.5h0m.3 .3h0m.1 2.1h0m.3 0h0m.1-1.5h0m.2-.1h0m-.7 2.9h0m1 .7h0m.2-.8h0m0-.2h0m.1-.1h0m.1 0h0m0 .8h0m.1 0h0m.3 .9h0m.1 .1h0m.2 .2h0m-1.3 .6h0m.7 .6h0m.3 .1h0m.4-.4h0m.2 1.9h0m0-1.5h0m.4 1.5h0m.2 .4h0m-1.9 1.2h0m.3-.8h0m.1 .1h0m1.2 1.9h0m.6 .3h0m.2 .2h0m.2-.8h0m-.6 1.7h0m.7 5h0m.5 0h0m.5 2.1h0m1.4 1.2h0m-1.6 .2h0m3.2 2.8h0m-2.6 1.2h0m3.1 .3h0m.2 1.1h0" stroke="#FF64B0" stroke-width="1.9" stroke-linecap="round" fill="none"/>
<path d="M247.8 581.9h0m-.6 1.4h0m2.3-1.1h0m6 2h0m1.1-.1h0m2.8 .9h0m-7.2 .7h0m6.2-.2h0m1.5-.2h0m3.6 1.1h0m.2 .4h0m2.6 .9h0m1.8 .1h0m.5 1.2h0m1.5-.5h0m9.4 3.6h0m-2 4.8h0m4.3 .9h0m11.8 7.8h0m.6-1h0m2.6 1.2h0m-2.3 1.1h0m1.4 1.8h0m1-.9h0m-1.9 2.7h0m.3 .5h0m.6 .8h0m.2-.9h0m.5 .6h0m.7-1.6h0m.1-.3h0m.7 2h0m0 1.3h0m0 1.4h0m-.2 1.4h0m1.3 1h0m.3 3.1h0m.4 .2h0m-.7 3.3h0m1.3-.6h0m1.9-1.2h0m1.9 2.2h0m-2.4 1.4h0m.1 0h0m.4 .1h0m.4-.7h0m.6 1h0m-.3 4h0m1-.4h0m.2 0h0m.7 3.2h0m-1.9 1h0m1 1h0m.2 1.6h0m.9-2.2h0m.2 .1h0m.5 1.4h0m.6 .4h0m-2.2 .8h0m1.3 0h0m1.2 2.1h0m.3-.6h0m-2.1 2.8h0m1.9-1.5h0m0 .9h0m.7-.4h0m.4 2h0m-.4 1.2h0m.2-.5h0m2.4 1.4h0m-2.8 3.3h0m0-.8h0m3 .3h0m-4.6 2.7h0m1.7-1.1h0m1.7 2.4h0m.4-.9h0m.1-1.2h0m1 2.3h0m.8-.9h0m-2.6 1.3h0m.1 1.5h0m.4 .8h0m.9-1.2h0m.2 .3h0m.2-1.3h0m.3 1.5h0m.3-1.7h0m.4 2.8h0m.5-.1h0m1.3 .1h0m.4-.7h0m-6.8 2h0m1.1-.8h0m.7 .4h0m1.2 0h0m.1-.2h0m.6 1.8h0m.2 .1h0m0 .1h0m.1-1.6h0m.4-.4h0m0 1.5h0m.1-.5h0m.3 1.4h0m.7-1.3h0m1.1 .1h0m2 .8h0m-7.8 1h0m2.4 .3h0m1 .3h0m.3 .6h0m0 .1h0m.2 .7h0m0-1.1h0m.2 0h0m.2-.8h0m1 .7h0m.3 1.5h0m-6.3 1.1h0m3.5-.1h0m.9 1.4h0m.2-.6h0m1.8-.6h0m1.2 1.4h0m-3.9 .5h0" stroke="#00BFC4" stroke-width="1.9" stroke-linecap="round" fill="none"/>
<path d="M251.4 582.4h0m1.8 .3h0m.3 1.1h0m6.2 1.4h0m2.5 .5h0m4 1.4h0m.3-.2h0m.6 .7h0m35.6-1.9h0m-35.2 2.8h0m36.6 .5h0m1.9-.6h0m-17.4 7.6h0m3.5 3.3h0m4.4 8h0m.1 .1h0m-1.2 1.6h0m4.3 8.4h0m2.6 8.7h0m.7-.4h0m1.1 0h0m.8-.5h0m-1.7 3.5h0m.1 .3h0m.3-.9h0m.4 .5h0m-.5 1.8h0m.4 1.1h0m.3 .8h0m.1-.3h0m0-1.1h0m.1 1.5h0m1-2.3h0m12.7 1.6h0m-13.1 2.8h0m.2-.5h0m.1 1.1h0m.4 .8h0m.2-1.9h0m.3 .9h0m.1 .2h0m.9-.2h0m-1.5 2.2h0m.2 1.2h0m.1-.6h0m0 .9h0m.1-.3h0m.6-1.2h0m1.2 .7h0m-.3 1.8h0m.9 1.5h0m.3-1.5h0m-.8 3.1h0m.1 1.8h0m.5 .1h0m.1 .3h0m2.6-2.3h0m-4.9 3.3h0m1.1-.6h0m.1 1.5h0m.1-1.5h0m0 1.1h0m.1 1.6h0m.5-1.2h0m.6-.3h0m.3-.8h0m.3 .9h0m.1-1.5h0m.1 .5h0m4.2 .5h0m-8.1 2h0m1.6 .4h0m.2 1.8h0m.1-1.4h0m.1-.3h0m.5 1.3h0m.2 0h0m1.1 .8h0m.6 .1h0m.3-1h0m1 1.2h0m-2.9 1.2h0m.5-.7h0m.6 .2h0m.1 2h0m0-.6h0m.3 .8h0m.6-1.8h0m0 .9h0m0 .8h0m.4-1.2h0m.3 1.3h0m.1-2.1h0m.6 0h0m-4.5 4.1h0m1.5-1.7h0m.2 1.3h0m.3-.5h0m.2 1.4h0m.4 .5h0m.1-1.2h0m.6-.8h0m.1-.3h0m.1 1.1h0m.1 1h0m.6-1.8h0m.1 .2h0m.1 1.7h0m.1-.6h0m0-.2h0m.8-.4h0m.4-.6h0m.3 1.1h0m.2-.8h0m3.1-1h0m-8.7 3.2h0m0 .9h0m1.2-.5h0m.6 1.3h0m.2-1.5h0m.5-.4h0m.8 1.3h0m.3 .6h0m.4-1.7h0m.1 .1h0m.1 .2h0m.1 1.7h0m0-1h0m.4 .3h0m.1-.6h0m.3-.6h0m.2 1.4h0m.4-1.1h0m0-.9h0m.1 2.2h0m.2-1.4h0m1.7 1.2h0m-6.4 2.3h0m0-.2h0m1.7 .3h0m.4 .7h0m.1-.9h0m.2 1.6h0m.2-.1h0m.2-2.7h0m.1 .7h0m.5-.2h0m.2 .7h0m.1-.3h0m.3 1.7h0m.1 .4h0m.7-1.1h0m.2-.8h0m.1 0h0m.5 1.2h0m.1-1.6h0m0 1h0m.2-.9h0m.3 .4h0m1.1-.5h0m-6.3 3h0m.8-.1h0" stroke="#00B4F0" stroke-width="1.9" stroke-linecap="round" fill="none"/>
<path d="M373.6 554.2h0m.1 .4h0m.8 .4h0m-6.9 1.3h0m.6 .1h0m.2 1.4h0m.6-1.2h0m.1 .4h0m0-.6h0m.2 .5h0m0 .4h0m.1-.5h0m.3-1.1h0m0 .1h0m.1 1.2h0m.2-1.1h0m0-.2h0m0-.7h0m.2 2.3h0m0-2.1h0m.1 2h0m0-1.2h0m0 .7h0m.3-.1h0m.2 .1h0m.1-.7h0m.4-.9h0m0 1.9h0m.2 0h0m.1 .4h0m.2-1.2h0m.1 .1h0m.3-.8h0m0 .9h0m.3-.2h0m0 .4h0m.3 1.3h0m.4-2.1h0m.1-.6h0m0 .4h0m.1-.3h0m0-.1h0m.1 .3h0m.2-.2h0m.1 1.8h0m.1-1h0m.1 1.6h0m0-2.5h0m.2 1.2h0m0 .8h0m.1-1.3h0m.3-.2h0m.1 .1h0m0 .4h0m.2-.3h0m.3 0h0m-18.8 4h0m1.8-.2h0m.6 .6h0m.5-1h0m.7 .7h0m2.2 .1h0m2.2-1.4h0m.6 .1h0m1.2 .3h0m.1 .5h0m2.9-1.1h0m.1-.4h0m.2 0h0m0 .4h0m.8-.5h0m1 .1h0m-20.1 4.8h0m3.1-1.2h0m2.8 .1h0m3.3 .1h0m-17.7 3.9h0m2.9 .2h0m.3 .4h0m.3-.2h0m.6-.7h0m.8-.9h0m.1 1.2h0m1.2-.1h0m1.7-1.7h0m.3 .1h0m.3 .5h0m1.7 1.3h0m-12.9 2.4h0m2.5 .3h0m.7 1h0m3.2-2.2h0" stroke="#C77CFF" stroke-width="1.9" stroke-linecap="round" fill="none"/>
<path d="M371.3 554.8h0m.2-1.2h0m.6 .9h0m.4 0h0m.3-.3h0m.3-.2h0m.1 .3h0m.5 0h0m.3 .2h0m-7.5 2h0m.1 .5h0m.4-.1h0m.1 1h0m.4-1.7h0m.6 .2h0m.3 .9h0m.1-.8h0m.1 .9h0m.2-1.2h0m.2 .3h0m0 .6h0m0 .9h0m.2-.8h0m0-1.6h0m.2 .2h0m.2 1.1h0m0-.6h0m0 .3h0m.2 .9h0m0-2.2h0m.1 1.1h0m.1 .8h0m0-.3h0m.1-1.5h0m0 .8h0m.1-.2h0m0 1.8h0m.2-.9h0m.1-.1h0m.3-1.7h0m0 2.2h0m0-.6h0m0-.5h0m0 .3h0m.1-.3h0m0 .6h0m.1-.8h0m0 .8h0m0-.1h0m0-.2h0m0-1.3h0m.2 1.2h0m0-.9h0m.1 1.6h0m.2-.9h0m0 .3h0m0-1h0m.1-.1h0m.1 2.1h0m.7-1.2h0m0-.6h0m0 .2h0m.1 1.3h0m0-1.7h0m0 .2h0m.5 1h0m.1-1.2h0m.1 1.4h0m.1-.2h0m0-.3h0m.2 1.3h0m.1-.6h0m.1-1.9h0m0 1.3h0m.2-1.4h0m.4 .3h0m.7 .1h0m.1 .2h0m-15.3 4h0m2.3-.6h0m.3 1h0m3.3 .3h0m.3-.8h0m1.6-.9h0m.8-.4h0m1-.3h0m.1 .3h0m.4 .5h0m-18.8 4.1h0m5.8-1h0m.5 .7h0m0-.2h0m.9-.8h0m.1 .3h0m1.6-.9h0m1.1 .7h0m2.4 .3h0m-20.2 4.9h0m-3.6 1.7h0m.2-.9h0m2.2 .2h0m.7 1.4h0m.1-2.2h0m.8 1.7h0m1.7-1.6h0m.5 1.1h0m1-.9h0m-6.4 2.8h0m.7 0h0" stroke="#F564E3" stroke-width="1.9" stroke-linecap="round" fill="none"/>
<circle cx="292.6" cy="598.9" r="2.5" fill="#000"/>
<text x="292.6" y="600.1" font-size="3.6" fill="#fff" text-anchor="middle" font-weight="bold">1</text>
<text x="235.3" y="527.6" font-size="4.6" fill="#111" stroke="#111" stroke-width="0.1">Cluster</text>
<path d="M256.1 515.4h0" stroke="#F8766D" stroke-width="1.7" stroke-linecap="round" fill="none"/>
<text x="261.7" y="516.7" font-size="3.7" fill="#222" stroke="#222" stroke-width="0.05">cluster0</text>
<path d="M256.1 525.9h0" stroke="#DE8C00" stroke-width="1.7" stroke-linecap="round" fill="none"/>
<text x="261.7" y="527.2" font-size="3.7" fill="#222" stroke="#222" stroke-width="0.05">cluster1</text>
<path d="M256.1 536.5h0" stroke="#B79F00" stroke-width="1.7" stroke-linecap="round" fill="none"/>
<text x="261.7" y="537.8" font-size="3.7" fill="#222" stroke="#222" stroke-width="0.05">cluster10</text>
<path d="M283.1 515.4h0" stroke="#7CAE00" stroke-width="1.7" stroke-linecap="round" fill="none"/>
<text x="288.7" y="516.7" font-size="3.7" fill="#222" stroke="#222" stroke-width="0.05">cluster11</text>
<path d="M283.1 525.9h0" stroke="#00BA38" stroke-width="1.7" stroke-linecap="round" fill="none"/>
<text x="288.7" y="527.2" font-size="3.7" fill="#222" stroke="#222" stroke-width="0.05">cluster2</text>
<path d="M283.1 536.5h0" stroke="#00C08B" stroke-width="1.7" stroke-linecap="round" fill="none"/>
<text x="288.7" y="537.8" font-size="3.7" fill="#222" stroke="#222" stroke-width="0.05">cluster3</text>
<path d="M310 515.4h0" stroke="#00BFC4" stroke-width="1.7" stroke-linecap="round" fill="none"/>
<text x="315.6" y="516.7" font-size="3.7" fill="#222" stroke="#222" stroke-width="0.05">cluster4</text>
<path d="M310 525.9h0" stroke="#00B4F0" stroke-width="1.7" stroke-linecap="round" fill="none"/>
<text x="315.6" y="527.2" font-size="3.7" fill="#222" stroke="#222" stroke-width="0.05">cluster5</text>
<path d="M310 536.5h0" stroke="#619CFF" stroke-width="1.7" stroke-linecap="round" fill="none"/>
<text x="315.6" y="537.8" font-size="3.7" fill="#222" stroke="#222" stroke-width="0.05">cluster6</text>
<path d="M334.4 515.4h0" stroke="#C77CFF" stroke-width="1.7" stroke-linecap="round" fill="none"/>
<text x="340" y="516.7" font-size="3.7" fill="#222" stroke="#222" stroke-width="0.05">cluster7</text>
<path d="M334.4 525.9h0" stroke="#F564E3" stroke-width="1.7" stroke-linecap="round" fill="none"/>
<text x="340" y="527.2" font-size="3.7" fill="#222" stroke="#222" stroke-width="0.05">cluster8</text>
<path d="M334.4 536.5h0" stroke="#FF64B0" stroke-width="1.7" stroke-linecap="round" fill="none"/>
<text x="340" y="537.8" font-size="3.7" fill="#222" stroke="#222" stroke-width="0.05">cluster9</text>
<path d="M394.4 534.3V671.2H571.7" stroke="#222" stroke-width="0.5" fill="none"/>
<path d="M393.1 576.4L394.4 576.4" stroke="#222" stroke-width="0.4" fill="none"/>
<text x="392.3" y="577.7" font-size="3.6" fill="#333" stroke="#333" stroke-width="0.1" text-anchor="end">0</text>
<path d="M393.1 628.4L394.4 628.4" stroke="#222" stroke-width="0.4" fill="none"/>
<text x="392.3" y="629.7" font-size="3.6" fill="#333" stroke="#333" stroke-width="0.1" text-anchor="end">−5</text>
<path d="M439.2 671.2L439.2 672.5" stroke="#222" stroke-width="0.4" fill="none"/>
<text x="439.2" y="676.2" font-size="3.6" fill="#333" stroke="#333" stroke-width="0.1" text-anchor="middle">−4</text>
<path d="M487.5 671.2L487.5 672.5" stroke="#222" stroke-width="0.4" fill="none"/>
<text x="487.5" y="676.2" font-size="3.6" fill="#333" stroke="#333" stroke-width="0.1" text-anchor="middle">0</text>
<path d="M535.6 671.2L535.6 672.5" stroke="#222" stroke-width="0.4" fill="none"/>
<text x="535.6" y="676.2" font-size="3.6" fill="#333" stroke="#333" stroke-width="0.1" text-anchor="middle">4</text>
<text x="482.8" y="681.1" font-size="4.4" fill="#111" stroke="#111" stroke-width="0.1" text-anchor="middle">Component 1</text>
<text x="385.7" y="603.2" font-size="4.26" fill="#111" stroke="#111" stroke-width="0.1" text-anchor="middle" transform="rotate(-90.03 385.7 603.2)">Component 2</text>
<path d="M480.9 590.6L483.2 588.7L485.5 586.8L487.8 584.9L490.1 583.1L492.4 581.3L494.7 579.4L497 577.6L499.4 575.8L501.8 574.1L504.2 572.3L506.6 570.6L509 568.9L511.5 567.3L514 565.6L516.5 564L519.1 562.5L521.6 561L524.2 559.5L526.8 558L529.5 556.6" stroke="#000" stroke-width="0.85" fill="none"/>
<path d="M480.9 590.6L478.5 589.4L476.2 588.2L473.8 587L471.5 585.9L469.1 584.7L466.8 583.6L464.4 582.4L462 581.3L459.6 580.2L457.3 579.1L454.9 578L452.5 576.9L450 575.8L447.6 574.8L445.2 573.8L442.7 572.8L440.3 571.8L437.8 570.8L435.4 569.9L432.9 568.9" stroke="#000" stroke-width="0.85" fill="none"/>
<path d="M480.9 590.6L481.6 592.8L482.3 595.1L483 597.3L483.7 599.6L484.4 601.8L485.1 604.1L485.7 606.3L486.4 608.6L487.1 610.8L487.8 613.1L488.5 615.4L489.1 617.6L489.8 619.9L490.5 622.1L491.1 624.4L491.8 626.7L492.5 628.9L493.1 631.2L493.7 633.5L494.4 635.7" stroke="#000" stroke-width="0.85" fill="none"/>
<circle cx="480.9" cy="590.6" r="2.5" fill="#000"/>
<text x="480.9" y="591.8" font-size="3.6" fill="#fff" text-anchor="middle" font-weight="bold">1</text>
<path d="M560.2 539.6h0m.1-.3h0m.5 0h0m.8 .6h0m.3-.2h0m.5 .2h0m.1 .1h0m-7.2 2.5h0m.5 .4h0m.4-.7h0m.1 .1h0m.6 .1h0m.1 0h0m.3 .1h0m.3-.4h0m.1-.1h0m0 .6h0m0 0h0m.2-.2h0m.1-.9h0m0 1.4h0m.2-1.2h0m0 1.2h0m.1 0h0m0-.6h0m0 .3h0m.1 .3h0m.1-1.3h0m0 .2h0m.1-.6h0m0 1.2h0m.2-.6h0m0-.1h0m0-.8h0m.1 .4h0m0 .8h0m.1 .7h0m0-.8h0m0-.9h0m.1 .9h0m0 .7h0m.1 .2h0m0-.1h0m.1-.2h0m0-1h0m0 1.3h0m.1-.2h0m.1-1.4h0m0 1.4h0m.1-1.7h0m0 1.7h0m0-.5h0m0 .3h0m0-.3h0m0 .6h0m.1-.9h0m0 .1h0m.1 .9h0m0-.2h0m0-.2h0m0-1.4h0m.2 1.3h0m0-1h0m0-.5h0m0-.4h0m.1 1.5h0m.1 .2h0m.1 .4h0m0-1.2h0m.1-.2h0m0 1.5h0m0 0h0m.1-.6h0m.2 .2h0m.1-.1h0m.1-1.9h0m.1 2.1h0m0-1h0m0 .9h0m.2 0h0m0-.7h0m0-.2h0m0 .5h0m0 .2h0m.1-.7h0m0 1.2h0m0-1h0m0-1.4h0m.4 1.9h0m.1 .7h0m.1-1.4h0m0 .5h0m.1-1.9h0m0 1.7h0m.1-.6h0m0 .4h0m0 1.3h0m0-.4h0m.1-1.2h0m0-.1h0m.1 .3h0m.2-.3h0m0-.7h0m0 .7h0m0-.6h0m0 2.1h0m.1 .2h0m.1-.7h0m0-1.2h0m.1-.4h0m0 .6h0m0-.9h0m.2 2.2h0m.1-.6h0m0-.5h0m.2-.5h0m.1 .4h0m0 .5h0m.1 0h0m0 .4h0m.2-.3h0m.1-.4h0m.1 .3h0m.1 .1h0m-14.1 1.7h0m.7 1.7h0m.1 .3h0m.1-.1h0m.5-1.2h0m0 .6h0m.7 .2h0m.5-.3h0m0 .7h0m.6-.4h0m.3 1h0m.2-1.9h0m.1 1h0m.1-.4h0m.1 1.1h0m0-.2h0m.2-1.1h0m.2-.2h0m.2-.2h0m.1 1.6h0m.2-1.6h0m0 1.8h0m.1-.5h0m.2 .5h0m0 .1h0m.2-1.4h0m.1-1.5h0m.1 .1h0m.4 .9h0m.4 .9h0m.1 1h0m.7-2.8h0m0 .2h0m.1 .8h0m0 .4h0m0-.6h0m.2-.4h0m.4-.4h0m0 1h0m0-1.1h0m.1 1.7h0m0-1.5h0m.2 1h0m0-.9h0m.1 .9h0m0 0h0m0 .3h0m.1 .2h0m.3-1.1h0m0-.6h0m.1 2h0m0-1.8h0m.1-.3h0m.2 .4h0m0 .6h0m.1-.7h0m0 .9h0m.3-1.1h0m.2 .4h0m.4-.3h0m.1 1.2h0m0-1.3h0m.2-.1h0m0 .3h0m.1 .2h0m.1 .2h0m.7-.3h0m.4 .7h0m.4-1.1h0m.3 .9h0m.1-.7h0m.2 0h0m.2 .6h0m.2-.5h0m-13.1 2.9h0m1 .3h0m0 .2h0m.2 0h0m.1-.1h0m.1 1.3h0m.1-.7h0m.1-.9h0m.1 .2h0m.6 2.3h0m.9-2.7h0m.3 .2h0m.1-.1h0m0 1.2h0m.3-.5h0m.5-.2h0m.2 .2h0m.3-.9h0m.3 .1h0" stroke="#16304A" stroke-width="1.9" stroke-linecap="round" fill="none"/>
<path d="M546.9 546h0m.5-1h0m.6 .6h0m-7.5 3.1h0m.9-1.3h0m.1 1.4h0m.5 .2h0m1-.6h0m.4 .3h0m.6 .2h0m.1-.2h0m.5-.5h0m.4-1.8h0m.3 0h0m0 2.5h0m.1 .1h0m0-.3h0m.2-.1h0m.1 .2h0m.1-.3h0m.1-1.6h0m.1 1h0m.2-.2h0m.7-1.6h0m.1 2.2h0m.1 .3h0m.2-1.5h0m.2-.3h0m.2-.2h0m.4 1.9h0m.1-.5h0m.1-.7h0m.2-1.1h0m0 1.2h0m0-.4h0m.2-.5h0m0 1.1h0m.2-1h0m.2 2.1h0m0-2.4h0m.2 1.5h0m.2 .8h0m.2-.8h0m.1-.7h0m0 1.3h0m.5-.7h0m-14.1 4h0m.8-2.6h0m.3 2.8h0m.5-1.5h0m.4 .4h0m.2 .4h0m.2 .6h0m.6-1.5h0m.1 .7h0m.3 .5h0m0-.4h0m.1-1.4h0m.1 0h0m0 2h0m0-.6h0m0-1.4h0m.6 .8h0m.1 0h0m0 .7h0m0-.7h0m.9-.4h0m.1 .5h0m0 1h0m.1-1.7h0m0-.7h0m.2 0h0m.8 1.2h0m.6-.8h0m.2 1.5h0m.3-.7h0m.1-1.2h0m.1 1.6h0m.4-1.5h0m.4 .6h0m.3 .4h0m.7-1.3h0m.4 .4h0m0-.2h0m1.3 .4h0m0-.2h0m.8 .5h0m-11.5 2.2h0m.1 .1h0m.8 .7h0m.4 .4h0m.2-1.1h0m.2 .7h0m.1 .1h0m.5-.9h0m.2 2.3h0m0-.6h0m1.3-.5h0m.3-1.2h0m.8 1.1h0m0-1.2h0" stroke="#1B3B59" stroke-width="1.9" stroke-linecap="round" fill="none"/>
<path d="M534.6 551h0m.9 .8h0m.3 0h0m.2-.1h0m-6.2 3.1h0m1.4-.8h0m0-.1h0m.1-.8h0m.1 .9h0m0 .8h0m.1-.3h0m.4-.2h0m.3 .2h0m.1-1.1h0m.1 1.5h0m.2-.3h0m.2 .1h0m.2 .2h0m.1-.7h0m.6-1.6h0m0 2.1h0m.3-2.1h0m0 2h0m.3-1.3h0m0 1.3h0m.2-.9h0m.3-.2h0m0 0h0m0-.8h0m.1 .7h0m0 1h0m.1-.9h0m0 1.4h0m.1-.8h0m.2-.1h0m.2 .2h0m0-1.4h0m0 2.1h0m.2-1.1h0m.1-.1h0m.1 1.1h0m0-1.4h0m.4-.3h0m.1-.2h0m.1 .4h0m0-.4h0m.2-.4h0m0 1.4h0m.2 .4h0m-13.1 3.5h0m.9-.3h0m.7-.6h0m.4 .5h0m.2 .5h0m.4-2h0m.2 1.8h0m.5-1.8h0m.7-.3h0m0 2.2h0m0-2.2h0m.1 .7h0m.1 1.3h0m.1-1h0m.2-.3h0m0 1.4h0m.2-1h0m0-1.5h0m.1 .8h0m.2 .6h0m.3 .4h0m0 .4h0m.1-.6h0m.2 .3h0m.1-1.4h0m.2 .5h0m.1 .7h0m.3-1.7h0m.3 1.7h0m0-.8h0m0 1.4h0m.1-2.2h0m.1 1.3h0m.1-1.2h0m.2 .4h0m.2 .4h0m.2 .8h0m.2-1h0m.3 .3h0m0 1.1h0m.5-.9h0m.2 .2h0m.5-1.2h0m.3-.4h0m.7 0h0m.5 .8h0m.5-.6h0m.9 .5h0m.1-.3h0m-11.8 2.9h0m.5 1.5h0m.1-.6h0m.7 .3h0m0-1.2h0m.1-.4h0m.1 2.1h0m.1-.3h0m.1-1.7h0m.1 1.5h0m1 .2h0m.3 .1h0m.5-1.5h0m.1 1.3h0m.1-1.1h0m.3 1h0m.8-1.5h0m.7-.1h0m.5 .3h0m.3-.3h0" stroke="#204667" stroke-width="1.9" stroke-linecap="round" fill="none"/>
<path d="M520.1 560.5h0m.1-1h0m0 .8h0m.6-.3h0m.1 .3h0m.3-.8h0m0 1.1h0m.2-.3h0m.2 .1h0m.1-.7h0m.1 .9h0m.1-1.5h0m.3-.9h0m.2 1.2h0m0 .1h0m.3-.6h0m.3 .9h0m.1-1.6h0m.1 .4h0m.5 .6h0m.1 .7h0m.1-.1h0m.1-.3h0m.1 .4h0m-11.2 3.8h0m.4 .3h0m.8 0h0m1.3-1.1h0m.2 .1h0m.3 .4h0m.6 0h0m.2 .2h0m0-.7h0m.1 1h0m.1-.4h0m.2 .2h0m.1 .2h0m.4-.9h0m.1 .9h0m.2-.8h0m.3 .8h0m.2-.7h0m.1-.9h0m.1-.3h0m0 1.9h0m.1-.2h0m0-1.5h0m0 .7h0m.1-.2h0m.1-.9h0m.7-.6h0m.2 1.9h0m.2-.1h0m.1-1.4h0m0 .3h0m.3 1.6h0m0-1.7h0m.2 1.7h0m.2-.8h0m0-.7h0m.1 1.1h0m.2 .6h0m.3-1.2h0m.3 .1h0m.2 .4h0m.1 .2h0m.8-2.2h0m.1 .6h0m.1 .1h0m0-.6h0m.4 .3h0m.2 .4h0m.6-.4h0m.6 0h0m-13.6 4.1h0m.4-1.3h0m.5 1.8h0m.1 .6h0m.4-.5h0m.7 .5h0m.1-1.4h0m0-.5h0m0 .4h0m.1 .9h0m.1 1h0m.2-.2h0m.4-1.9h0m.1 .2h0m.3-1h0m.1 2.4h0m.5-2.3h0m.2-.1h0m.3 .4h0m0 .9h0m1.2-.7h0m.2 0h0m.5-.4h0m0 .5h0m.4 .3h0m.4 0h0m1.1-.5h0m-6.4 3.1h0m.3 .1h0m.3 .3h0m.2-.7h0m.2 1.2h0m.1-1.5h0" stroke="#265175" stroke-width="1.9" stroke-linecap="round" fill="none"/>
<path d="M510.8 565.7h0m.4 .6h0m.5 .6h0m.4-.2h0m-6.1 3.1h0m.2 .1h0m.9-.7h0m.5 0h0m.1-.2h0m.2-1.4h0m.4 1.7h0m.2 .6h0m.2-1.7h0m.2-.3h0m.6-.3h0m.3 1.4h0m0-.9h0m.3-.4h0m.1 .8h0m.2-.2h0m.2-.2h0m.1-.6h0m.1-.2h0m.1 .8h0m.2-.7h0m.3 .3h0m.2 .1h0m0 .5h0m0-.5h0m.1 1.4h0m.2-1.2h0m.3-.6h0m.1 .2h0m.1 0h0m0 .3h0m.4 1.2h0m.2-1.2h0m-10.4 4h0m.4-.2h0m.4 .7h0m0 .2h0m0-.2h0m.4-1.2h0m0 .5h0m.3 .2h0m0 .3h0m1-.2h0m0-.7h0m.1-.7h0m.1 .9h0m.6-1.3h0m.2 .6h0m.2-.5h0m.2 2.3h0m.5-2.3h0m.3-.2h0m.3 1.7h0m.1-1.5h0m.2 .2h0m0 2.1h0m.1-1.9h0m.3 1.8h0m.5-1.9h0m.2 1h0m0-.4h0m1-.6h0m.3-.4h0m-9.3 3.1h0m.3 .7h0m.2 1.4h0m0-2.2h0m.3 1.1h0m0-.8h0m.1 .3h0m.1 .6h0m.2 .9h0m.5 .2h0m0-2.1h0m.1 .1h0m.1 .8h0m.1-.8h0m.2 .3h0m.7 .3h0m1.3 0h0m.2-.9h0m.1-.1h0m-1.2 3h0" stroke="#2B5B84" stroke-width="1.9" stroke-linecap="round" fill="none"/>
<path d="M491 575.6h0m.6-1.3h0m2.1 .9h0m.2 .7h0m0-2.1h0m.4 1h0m.2 .5h0m.1-.1h0m2.4-.3h0m.4 .4h0m.3 .3h0m.3 .1h0m.9-.5h0m.2 .6h0m.3-.9h0m.2 .9h0m.3-1.4h0m.3 1.1h0m.6 .3h0m.2 .2h0m-8.4 .3h0m.9 .3h0m.3 1.6h0m0 .5h0m.5 0h0m.2-.5h0m.1-1.4h0m.3 .8h0m.2 0h0m.1 1.1h0m0-.1h0m.2-1.2h0m.2 .2h0m.2-.7h0m.3 1.5h0m.7-.7h0m.3 .1h0m.3-.4h0m.1-1.1h0m.2 1.2h0m.6-.8h0m.5 1.6h0m.2-1.4h0m0 .6h0m.4-1.4h0m.5 .6h0m.3-.5h0m0-.1h0m.1 .2h0m.3 1.2h0m.1-.5h0m.4 .4h0m-13.3 2.1h0m2.3 .5h0m1.4 .4h0m.9-1h0m.1 .9h0m.4-.7h0m.4 .2h0m.6-.4h0m.6 .3h0m2 1.2h0m.1-1.9h0m.2 .2h0m.3 .7h0m.3-.4h0m2.3 1.2h0m-10.4 1.9h0m4.7-.3h0m-2.1 3.6h0" stroke="#306692" stroke-width="1.9" stroke-linecap="round" fill="none"/>
<path d="M487.2 581.8h0m-3.2 1h0m3.2 .4h0m.4 1.8h0m-3.9 .6h0m2.3 1.2h0m.2-1.8h0m-3.5 5.2h0m.9-.9h0m.7-.1h0m-3.9 1.8h0m.8 2.1h0m.2 .1h0" stroke="#3671A1" stroke-width="1.9" stroke-linecap="round" fill="none"/>
<path d="M465.2 584h0m2.4-1.1h0m7.3 4.9h0m1.9-.5h0m-11.1 1.1h0m4.3 .9h0m11.8 4.9h0m.4 .7h0m.4-.6h0m.1 1.8h0m0-.8h0m.3 0h0m.1 1.2h0m.2 .5h0m.2-.5h0m.1 .2h0m.4 .3h0m0-.1h0m-2.2 1.3h0m.3 .7h0m0-1.6h0m.3-.2h0m.3 2.5h0m.4-1.2h0m.2 0h0m.2-.2h0m.1 1.5h0m0-2h0m1 2.1h0m.2-.6h0m.3-.7h0m-2.1 2.3h0m.4 .8h0m.1-1.1h0m.2 1.6h0m.2-.2h0m.3-.2h0m0-.2h0m.2 .7h0m0-1.6h0m.1 1h0m0 1.1h0m.3-2.6h0m.1 .2h0m.1 1.7h0m.1 .8h0m0-.7h0m0-.4h0m.1-1h0m0 1.6h0m.2-.3h0m0 .7h0m.1-.3h0m.1-.2h0m.1 .5h0m-2.5 1h0m.4 .7h0m.1 .5h0m.1-1.7h0m.2 .3h0m.2 1.8h0m.1-1.1h0m.2-.4h0m.4 1h0m.1-.9h0m.4 .9h0m.1-1.3h0m.1-.4h0m0 .7h0m.1 0h0m.5 .9h0m.2 .3h0m.1-.1h0m.2 .6h0m-1.5 1.8h0m.1-.8h0m1.1 0h0" stroke="#3B7BAF" stroke-width="1.9" stroke-linecap="round" fill="none"/>
<path d="M450.3 575.6h0m-.7 1.3h0m1.4-.7h0m.5 .8h0m.1-.6h0m.2 .5h0m0 1.1h0m1.2-.8h0m1.2 0h0m.2 .7h0m.2-.9h0m.6 .8h0m.4 1h0m0-1.4h0m.5 1.5h0m0-.8h0m.2 .4h0m1.9 .4h0m-2 .5h0m.5-.1h0m.3-.3h0m.2 1.2h0m.7-.4h0m2-.6h0m-13.9 3.6h0m39 25h0m1.4 .2h0m.2-.4h0m.1 1h0m.1-1.1h0m-1 1.8h0m.1 .6h0m.3-.2h0m.1 .4h0m.6 .3h0m.2 .7h0m.3 .4h0m.1-.7h0m.3 1.2h0m.2-.5h0m-1.5 2.4h0m.4-.4h0m.4 .3h0m.2-.7h0m.1-.4h0m0 .6h0m.1 1.3h0m.1-.3h0m.3-2.2h0m.1 1.6h0m0 .8h0m.4 .4h0m.1-2.3h0m.2-.1h0m-1 2.6h0m.2 .8h0m0-.3h0m0 1.2h0m.1-1.5h0m.6 .2h0m0 2.1h0m.1-.2h0m.2-.4h0m.3-1.2h0m.1 0h0m.2 1.7h0m.6 .4h0m.4-1.7h0m-3.2 2h0m1.3 .2h0m.1 2.5h0m.2-2.8h0m.4 .5h0m.7 1.8h0m.1-.1h0m.4 .1h0m.5-.7h0m.5 1h0m.9-2h0m.6 1.7h0m-1.9 .6h0" stroke="#4186BD" stroke-width="1.9" stroke-linecap="round" fill="none"/>
<path d="M433.7 569.7h0m.8-.2h0m.8-1.7h0m.3-.5h0m0 1.5h0m.2-.1h0m3.1 .9h0m-5.6 1.8h0m1.3 .7h0m.5 .8h0m.7-1.6h0m.3-.9h0m0 1.2h0m.8-.6h0m.3 2h0m.2-2h0m.1 .6h0m1.4 .3h0m.1 .8h0m.4-.9h0m0 0h0m1.6 .4h0m.1-.2h0m.1 .3h0m.6-.7h0m-9.8 2.1h0m2.8 1.8h0m2.5-1.5h0m.7-.2h0m.9 0h0m1.1 .5h0m.2 1.3h0m.2-2.4h0m1.1 .3h0m.7-.3h0m.6 0h0m.7 .7h0m1.2-.1h0m.8-.5h0m.7 1.5h0m.2-.9h0m0 1.5h0m.3-.8h0m.7 .2h0m.2 1.1h0m.2-.8h0m.1-.9h0m0 .9h0m.3-.2h0m-5.4 1.4h0m1.6 2.1h0m.6 .5h0m44 43h0m.6 .2h0m.5 1.6h0m.4-.2h0m.1-2.1h0m.6 .6h0m.8 1.7h0m.4-2.6h0m-2.7 4.9h0m.4-.9h0m.1-.8h0m.2 .8h0m.1 1.5h0m.2-2h0m.4 1.1h0m.4-.4h0m0-.9h0m.1 .3h0m.2 1.7h0m.2 .2h0m.3-2.3h0m.1 .6h0m.2 2h0m.1-2h0m1 1.1h0m-3.5 1.6h0m1 1.9h0m.2 .1h0m0 0h0m.2-1.9h0m0 .3h0m.1 2h0m0-1.4h0m0 .7h0m.3-.4h0m.1 .1h0m.1-1.4h0m.3 .9h0m.1-.3h0m.2 .4h0m.6-.1h0m.1-1.4h0m1.8 2.3h0m11.2-1.6h0m-15.2 3.5h0m.1 1.1h0m.5 0h0m.2-.1h0m.1-1.6h0m.2 0h0m0-.1h0m.3 2h0m.2-2.1h0m.4 .5h0m.2-.6h0m0-.3h0m.1 1.5h0m.2-1.4h0m.3 2.4h0m.1-2.2h0m0 1.3h0m.2-1.2h0m.1 .9h0m.2 .2h0m.1 .6h0m.8-.8h0m-3.9 2.4h0m.9-.6h0m.1 1.4h0m.2-.9h0m.1-.2h0m0-.2h0m.1 0h0m.1 1h0m.1 0h0m.3 1h0m0 .1h0m.4-2.3h0m.1 .8h0m.2 1.4h0m.1-.7h0m0 .6h0m.6-1.3h0m.4 .9h0m.8-.1h0" stroke="#4691CC" stroke-width="1.9" stroke-linecap="round" fill="none"/>
<path d="M419.3 563.2h0m.6 .4h0m.1-.7h0m.2 .1h0m0 1h0m2.2-.2h0m-5.2 .9h0m.4 .3h0m.8-.2h0m.3 0h0m.5-.7h0m0 .7h0m.5 .2h0m.6 .9h0m.5-1.3h0m0-.3h0m.1 .3h0m.1-.5h0m0 .5h0m.5-.3h0m.1 .3h0m.5 1.6h0m.9-.4h0m0-1.2h0m.1 .5h0m.4 .5h0m.1-.3h0m.4-.3h0m.1-.7h0m0 1h0m.3 .9h0m.8-.4h0m.2 .6h0m.2-.1h0m.2 .4h0m.6-.1h0m.3-1.1h0m0-.1h0m1 .7h0m0 .8h0m.7-.8h0m.3 .6h0m.4 .2h0m.1-.5h0m0 0h0m.5 .3h0m-7 .7h0m1.8 .8h0m.9-1.2h0m.3 0h0m.1 .5h0m.3 0h0m.1 .7h0m1.3-1h0m.8 .1h0m.2 .2h0m0-.1h0m0 0h0m.5 .4h0m.3-.6h0m.7 1.5h0m.1-1.1h0m.1 .4h0m.1-1h0m1.4 1.6h0m.9 .1h0m0 .7h0m-1.2 2.7h0m.3-.9h0m62.1 64.4h0m.6 0h0m.7-.1h0m-2.6 .8h0m.8 .7h0m0 1.1h0m.3-1h0m.4-.5h0m.1 2.2h0m0-1.7h0m.4 1.7h0m.8-2.5h0m0 1.1h0m.6-.7h0m.1 .2h0m.8 1.6h0m.4-1.7h0m.1-.2h0m-4.5 4h0m.3-.9h0m.2 .1h0m1.4-.5h0m.7 2.4h0m.5-1.2h0m.2-.6h0m.2 .3h0m.1-1h0m.8 1.7h0m1.3 .7h0m1.2-1.4h0m.2-.5h0m-5.4 2.3h0m.2 1.9h0m.1-.3h0m.2-1.3h0m.3 .2h0m.5 1.8h0m0-1h0m.1 1.6h0m.1-1.7h0m.1 1.3h0m.3-2.2h0m.3 2.6h0m.2-2.4h0m.1 .3h0m.2 1.8h0m.3-.9h0m.3 1h0m.1-1.7h0m.1 .6h0m.7 1.1h0m2.6-.5h0m1-.1h0m-8.2 3.7h0m.1-1.4h0m1.3 .6h0m.2-1.8h0m.1 1.6h0m.1-.3h0m.1-.4h0m.1 1.2h0m0-1h0m0 .7h0m.1 .2h0m1.8-.3h0m-2.4 2.3h0m.4-.4h0m.1 .4h0m.6-.7h0m.2-.1h0m.3 1.1h0m.3-.3h0m.5-.9h0m0 1h0m.9-1h0m1 .1h0" stroke="#4B9CDA" stroke-width="1.9" stroke-linecap="round" fill="none"/>
<path d="M402.5 557.6h0m.8 .2h0m.3-.1h0m1.5 .1h0m.5-.4h0m1.8 .5h0m-5.9 1.7h0m.1 .1h0m.4-1.2h0m0 .3h0m.1 .4h0m0-.4h0m.1-.4h0m.4-.2h0m0 1.4h0m.1-1.2h0m0 1.8h0m.1-1.2h0m.1 0h0m.1 .1h0m0 1.8h0m.1-2.5h0m.3 .6h0m0 .9h0m.2 .1h0m0 0h0m0-1.6h0m0 1.3h0m.2 1.2h0m0-1.9h0m0 1.2h0m.1-1.3h0m0-.2h0m.1 1.3h0m0-1.2h0m.3 .9h0m.1-.9h0m0-.2h0m0 .9h0m.1 1.3h0m0-.8h0m.1 .5h0m0-.9h0m0 1h0m0-1.2h0m.1 1.2h0m.1-.7h0m0-.5h0m0-.7h0m0 1.5h0m0-.8h0m0-.7h0m.1-.5h0m.1 1.3h0m0 .4h0m0-1.3h0m.1 2.1h0m.1-1.1h0m.1-.6h0m.1 .6h0m0 .1h0m0-1h0m0 .9h0m.2-1.4h0m.1 1.3h0m0 .9h0m.1-1.3h0m.2 .1h0m0 .4h0m.1-.3h0m.1 1h0m0-.4h0m.1 0h0m0 .4h0m0-.6h0m.3 .3h0m0-.4h0m0 1.2h0m.1-.9h0m.1-1.2h0m.1 .4h0m0 .6h0m0 1h0m.2-.2h0m.1-.7h0m0 1h0m.1-.9h0m.1 1.1h0m0-.2h0m.1-.8h0m0 .5h0m0-.8h0m0 0h0m.2-.1h0m.1 .7h0m.1-1.3h0m0 1.9h0m0-1.4h0m.2-.3h0m0 1.5h0m0-.7h0m.1 .5h0m.1-1.7h0m0 1.6h0m.1 .6h0m0-1.7h0m0 1.6h0m0-.6h0m.1-1.6h0m.2 1.1h0m0-.9h0m.1 1.2h0m0 .4h0m0-1.6h0m.1 2.1h0m0-.1h0m0-.4h0m.1-.9h0m0 0h0m.2 .7h0m0-.3h0m0 .4h0m0 .2h0m.3-.3h0m.1 .2h0m0 .5h0m.1-.1h0m.1-1.2h0m0 0h0m0 .9h0m.1-.3h0m.2-.7h0m0 1.1h0m.2 .3h0m.4-.3h0m.2 .1h0m.1-1.3h0m0 .9h0m.1 .6h0m.5 0h0m1-.1h0m-7.1 .9h0m.4-.4h0m1 1h0m.1-1.4h0m.2 .3h0m.1 .6h0m.5-.4h0m.5 .9h0m.2-.9h0m.7 .2h0m.3-.6h0m0 0h0m.1 .9h0m.1-.1h0m.2-.2h0m1.5-.6h0m.2 0h0m.1 .4h0m.4 .5h0m.2 .1h0m.1 .7h0m.3-1.6h0m.8 .5h0m.2 1.1h0m.2-.9h0m.4-.3h0m0 .8h0m.6 .7h0m.2-.5h0m.2-.6h0m0 1.3h0m.4 .3h0m.4 0h0m.4-.1h0m.2 .4h0m.4-.6h0m.2 .4h0m.3-.7h0m.1-.3h0m0-.6h0m.1 .5h0m79.5 87.3h0m.2 .4h0m.5 .1h0m.6-1h0m.4 1.5h0m0-1.5h0m.1 .6h0m.6-.2h0m.2 .8h0m0-.9h0m.6 .9h0m-4.2 2.6h0m.3 .3h0m0-1.9h0m.3-.5h0m.4 2.9h0m.1-2.4h0m0 1.7h0m.4-.8h0m.2 .5h0m.1-1.9h0m0 1.6h0m.1-.6h0m0 1.2h0m0-1.2h0m.3 1.9h0m0-1h0m0 .7h0m.1 .1h0m.1-2.6h0m.2 .3h0m.2 .5h0m0 .8h0m.2 1h0m.1-2.1h0m.1 2.2h0m0-2.3h0m.3 1.3h0m.1 .8h0m.2-.7h0m.3-1.6h0m.1 1.5h0m1.3 .1h0m.1 .9h0m.4-1.7h0m.9 1.2h0m2.1 0h0m-9.9 1h0m.6 .8h0m.5-.1h0m.2-.7h0m.5 1.3h0m.4-1.3h0m0 .4h0m.3-.6h0m.2 1.7h0m.1-.7h0m.2 1.4h0m.2-.2h0m0-1h0m.1-.4h0m.1-.8h0m.3 2.6h0m.1-1h0m.1-1.7h0m0 1.9h0m0 .1h0m.2-1.9h0m0 .8h0m.1 1.4h0m0-.2h0m.3-2h0m0 1.3h0m.1-.6h0m.2-.8h0m.1 2.4h0m0-2.2h0m.1 1.9h0m.1-.6h0m0-.2h0m.5-.3h0m.2-.2h0m.3 2.1h0m.2-2.8h0m.3 1.3h0m.1-.4h0m.1-.5h0m.1 1.9h0m1.8-.4h0m-7.8 1h0m.2 0h0m.1 1h0m.4-.3h0m0-.5h0m.4 1.6h0m.4-1.4h0m.6 1.5h0m0-.7h0m.2-1h0m.1 .2h0m.9 1.6h0m.1-1.2h0m.2 .4h0m.1 .2h0m0 .2h0m.1-.6h0m0 .8h0m.1 .5h0m0-2.2h0m0 1h0m.1 1.2h0m.1-1.2h0m.2-1.1h0m0 .2h0m.1-.2h0m0 2.8h0m.1-2.5h0m.1 1.9h0m0-1.1h0m.3 .3h0m.2-.7h0m.2 .2h0m0-.8h0m.3 2.6h0m0 0h0m0-1h0m.4-1.3h0m.1 1.5h0m.1 0h0m.1-1.6h0m1.7 1.4h0m.3 .5h0m-9.1 1.7h0m2.3 .4h0m.1-.3h0m1.2-.1h0m.5 .5h0m.4 .8h0m0 .2h0m.1-1.2h0m.1 .5h0m.3 1.2h0m.3-2.3h0m.5-.2h0m.2 .8h0m.1-.8h0m0 .5h0m.3 1.9h0m.1-1.7h0m.4 1.3h0m.3-.4h0m.2-.9h0m.1-.1h0m.2 1.7h0m.3-2.7h0m0 2.4h0m.1-1.9h0m0 1.3h0m.2-1.1h0m.3 .5h0m1.1-.6h0m.4 .6h0m-6.8 2.8h0m.5-.8h0m.3 .7h0m.7-.9h0m1.3 .4h0m.4-.3h0m1.7 0h0" stroke="#51A6E9" stroke-width="1.9" stroke-linecap="round" fill="none"/>
<circle cx="480.9" cy="590.6" r="2.5" fill="#000"/>
<text x="480.9" y="591.8" font-size="3.6" fill="#fff" text-anchor="middle" font-weight="bold">1</text>
<text x="452.2" y="520" font-size="4.5" fill="#111" stroke="#111" stroke-width="0.1">Pseudotime</text>
<defs><linearGradient id="pg"><stop offset="0" stop-color="#132B43"/><stop offset="1" stop-color="#56B1F7"/></linearGradient></defs>
<rect x="477.8" y="510.7" width="36.4" height="10.5" fill="url(#pg)"/>
<text x="478.4" y="525.8" font-size="3.1" fill="#222" stroke="#222" stroke-width="0.1" text-anchor="middle">0</text>
<path d="M478.4 510.7L478.4 512.6" stroke="#fff" stroke-width="0.45" fill="none"/>
<path d="M478.4 519.3L478.4 521.2" stroke="#fff" stroke-width="0.45" fill="none"/>
<text x="487.2" y="525.8" font-size="3.1" fill="#222" stroke="#222" stroke-width="0.1" text-anchor="middle">4</text>
<path d="M487.2 510.7L487.2 512.6" stroke="#fff" stroke-width="0.45" fill="none"/>
<path d="M487.2 519.3L487.2 521.2" stroke="#fff" stroke-width="0.45" fill="none"/>
<text x="496.4" y="525.8" font-size="3.1" fill="#222" stroke="#222" stroke-width="0.1" text-anchor="middle">8</text>
<path d="M496.4 510.7L496.4 512.6" stroke="#fff" stroke-width="0.45" fill="none"/>
<path d="M496.4 519.3L496.4 521.2" stroke="#fff" stroke-width="0.45" fill="none"/>
<text x="505.9" y="525.8" font-size="3.1" fill="#222" stroke="#222" stroke-width="0.1" text-anchor="middle">12</text>
<path d="M505.9 510.7L505.9 512.6" stroke="#fff" stroke-width="0.45" fill="none"/>
<path d="M505.9 519.3L505.9 521.2" stroke="#fff" stroke-width="0.45" fill="none"/>
<path d="M599.8 527.9V671.2H777" stroke="#222" stroke-width="0.5" fill="none"/>
<path d="M598.5 572.5L599.8 572.5" stroke="#222" stroke-width="0.4" fill="none"/>
<text x="597.7" y="573.8" font-size="3.6" fill="#333" stroke="#333" stroke-width="0.1" text-anchor="end">0</text>
<path d="M598.5 626.7L599.8 626.7" stroke="#222" stroke-width="0.4" fill="none"/>
<text x="597.7" y="628" font-size="3.6" fill="#333" stroke="#333" stroke-width="0.1" text-anchor="end">−5</text>
<path d="M644.5 671.2L644.5 672.5" stroke="#222" stroke-width="0.4" fill="none"/>
<text x="644.5" y="676.2" font-size="3.6" fill="#333" stroke="#333" stroke-width="0.1" text-anchor="middle">−4</text>
<path d="M692.3 671.2L692.3 672.5" stroke="#222" stroke-width="0.4" fill="none"/>
<text x="692.3" y="676.2" font-size="3.6" fill="#333" stroke="#333" stroke-width="0.1" text-anchor="middle">0</text>
<path d="M740.1 671.2L740.1 672.5" stroke="#222" stroke-width="0.4" fill="none"/>
<text x="740.1" y="676.2" font-size="3.6" fill="#333" stroke="#333" stroke-width="0.1" text-anchor="middle">4</text>
<text x="687.6" y="681.1" font-size="4.4" fill="#111" stroke="#111" stroke-width="0.1" text-anchor="middle">Component 1</text>
<text x="591" y="601" font-size="4.26" fill="#111" stroke="#111" stroke-width="0.1" text-anchor="middle" transform="rotate(-90.03 591 601)">Component 2</text>
<path d="M685.7 587.3L688 585.3L690.3 583.4L692.6 581.4L694.8 579.5L697.1 577.6L699.4 575.7L701.8 573.8L704.1 571.9L706.5 570.1L708.8 568.3L711.2 566.5L713.7 564.7L716.1 563L718.6 561.3L721.1 559.6L723.6 558L726.1 556.4L728.7 554.8L731.3 553.3L733.9 551.8" stroke="#000" stroke-width="0.85" fill="none"/>
<path d="M685.7 587.3L683.4 586L681.1 584.8L678.7 583.6L676.4 582.4L674.1 581.2L671.7 580L669.4 578.8L667 577.6L664.7 576.4L662.3 575.3L659.9 574.2L657.5 573L655.2 571.9L652.8 570.8L650.3 569.8L647.9 568.7L645.5 567.7L643.1 566.7L640.6 565.7L638.1 564.7" stroke="#000" stroke-width="0.85" fill="none"/>
<path d="M685.7 587.3L686.4 589.6L687.1 592L687.8 594.3L688.5 596.7L689.2 599L689.9 601.4L690.6 603.7L691.2 606.1L691.9 608.4L692.6 610.8L693.3 613.1L693.9 615.5L694.6 617.8L695.3 620.2L695.9 622.5L696.6 624.9L697.2 627.3L697.9 629.6L698.5 632L699.1 634.3" stroke="#000" stroke-width="0.85" fill="none"/>
<circle cx="685.7" cy="587.3" r="2.5" fill="#000"/>
<text x="685.7" y="588.5" font-size="3.6" fill="#fff" text-anchor="middle" font-weight="bold">1</text>
<path d="M764.5 533.8h0m.5 0h0m-4.5 3h0m0 .1h0m1.3-.1h0m.1-.1h0m.3-.5h0m.2 .1h0m.1 .7h0m.2-.8h0m0 .2h0m.1-.6h0m.2 .6h0m0-.1h0m0-.8h0m.1 .4h0m0 .9h0m.1-.2h0m0-.9h0m.1 .9h0m.2-.4h0m.2-.3h0m.1-.3h0m0 1.3h0m0 0h0m.1-.3h0m0 .1h0m.1-1h0m.2 .3h0m0-.4h0m0-.5h0m.1 1.5h0m.1-2.4h0m0 2.6h0m.1-.8h0m.1-.2h0m.1 1h0m.2 .2h0m.1-.2h0m.1-2h0m.1 1.3h0m.2 .8h0m0-.7h0m0-.2h0m0 .5h0m0 .3h0m0-.8h0m.1 .3h0m0-1.5h0m.3-.3h0m.1 2.3h0m.2-.8h0m0-1.8h0m0 2.4h0m0-2h0m.1 1.7h0m0-.6h0m0 .4h0m.2-.3h0m0-.1h0m.1 .3h0m.1-1.5h0m0 1.2h0m0-.7h0m0 .7h0m.1-.6h0m0-.5h0m.1 2.2h0m.1-1.3h0m.1-.4h0m0 .6h0m0-.9h0m.3 1.7h0m0-.6h0m.2-.5h0m.1 .4h0m0 .5h0m.1 .1h0m0 .4h0m.1-.3h0m.2-.5h0m.1 .3h0m.1 .2h0m-16.5 3.3h0m2.5-1.6h0m1.4 .7h0m0 .7h0m.7 .2h0m.4-.3h0m.7 .3h0m.4-1h0m.1 1.1h0m.1-.5h0m.3-.2h0m.3-.1h0m.1-.2h0m.4 0h0m.4-1.7h0m0 2.2h0m.1-1.6h0m.1 .1h0m.3-.3h0m.1 1.2h0m.5 1h0m.5-2.7h0m.1-.1h0m.1 .9h0m0 .3h0m.1 .7h0m0 .5h0m0-.7h0m.1-1.5h0m.1 1.1h0m.3-1h0m.1-.1h0m0 .7h0m0 1h0m0-1.1h0m.1-.7h0m.1 2.4h0m0-1.5h0m.1-.4h0m0 1.5h0m0-1h0m.1 .9h0m0-1.4h0m.1 1.4h0m0 .4h0m0 .1h0m0-1.9h0m.1-.3h0m0 .3h0m.2 .8h0m0-.6h0m.1-.8h0m0 2.9h0m0-1.9h0m.1-.3h0m.2-.3h0m0 .8h0m0 .5h0m.1-.7h0m0 1h0m0-1.6h0m.1 .2h0m0-.1h0m.1-.2h0m0 .3h0m.1 .2h0m0-.4h0m.2 0h0m0 .8h0m0-.8h0m0-.2h0m.1 .3h0m.1 .1h0m0-.2h0m0-.2h0m.2-.2h0m0 .9h0m.1 1.2h0m0-1.3h0m.2-.6h0m0 .5h0m0 .3h0m.1-.7h0m0 .1h0m0 .8h0m.1 .2h0m.5-1.3h0m0-.1h0m.2 1.1h0m.1-.8h0m.3 1.6h0m.2-1.4h0m.2 .2h0m0-.2h0m.1-.5h0m.2 1.7h0m.1-.8h0m.1-.7h0m.1 .7h0m0-.4h0m.2 1.1h0m.2-1.5h0m0 1h0m-21.5 4.2h0m3.7-1.1h0m.2 0h0m.6 .6h0m.1 1h0m.2-.3h0m.7-1.6h0m0-.1h0m.4 1.2h0m.2-.4h0m.2-.1h0m.3-1h0m.2 2.4h0m.1-.7h0m.2-1.2h0m0 1.3h0m0-.5h0m.2-.5h0m0 1.2h0m.2-1.1h0m.2-.3h0m.2 1.6h0m.3 .1h0m.1-.8h0m.2-1h0m.4 1.6h0m.3-2.6h0m.1 .3h0m.1-.1h0m.1 1.2h0m0 .1h0m.2 0h0m0-.1h0m.2 1.4h0m.1-.7h0m.1-1h0m.1 .2h0m.9-1.1h0m.6 .7h0m.2 .2h0m.1-.3h0m0 .3h0m0 1.2h0m.3-.5h0m.1-1.2h0m.1-.2h0m.4 1.2h0m.1 .2h0m.1-1.2h0m.2 .2h0m.1-.1h0m.1-.5h0m.1 .6h0m0 .1h0m0-.1h0m1.3 0h0m-19.2 3.2h0m.8 1.4h0m.4 .5h0m1-.6h0m.5-.6h0m.1 0h0m0 0h0m.5 .8h0m.1-1.8h0m.1 1.9h0m0-.1h0m.8-.4h0m.1 .5h0m.1-1.9h0m0 1.2h0m0-.8h0m.3 0h0m.2-.2h0m.5 1.5h0m.4-2.1h0m.2 1.3h0m.2-1h0m.4 1.8h0m0-1.3h0m.1 1.7h0m.1-2h0m.1-.2h0m.3 .7h0m.2-1.2h0m.1 1.8h0m.4 .5h0m.3-1.6h0m0 .1h0m.1-.3h0m.1 0h0m.1 .2h0m.1 .2h0m0-.5h0m.3 .8h0m0-.2h0m.9-.9h0m.1 .4h0m.3 1h0m0-.3h0m.7-.9h0m.1 1.5h0m.9-1.3h0m.3 0h0m.4-.3h0m2.4 .4h0m-20.8 4.5h0m1.1 .3h0m1.3-.8h0m.3 0h0m.3 .8h0m.2 .4h0m.1-2.8h0m.2 2.6h0m0 0h0m0-.9h0m.1 .8h0m.1 .1h0m.5-.8h0m0-1h0m.2 2h0m.1-2h0m0 1.9h0m.1-.2h0m.1-1.8h0m.2 0h0m.1 1.4h0m.1-.2h0m.1 .4h0m0-.4h0m.2-.4h0m0-.5h0m.1 .2h0m.5-.3h0m.2 1.1h0m.5 .3h0m.2-1.1h0m.1 .7h0m0-1.7h0m.2 1.8h0m.1-1.2h0m.4 .3h0m.2 1.8h0m0-2.9h0m.3 .5h0m.1-.4h0m.2 .5h0m0-.6h0m.6 2.3h0m.1-2.1h0m.2 .9h0m.8-.5h0m0 1.6h0m.1-1.2h0m1.8-.9h0m-16.9 4.9h0m.7 0h0m.7-.3h0m0 0h0m.1 .8h0m.2 .3h0m.2-.4h0m.2 .5h0m0-1.6h0m0 .8h0m.2 .7h0m.8-1h0m.1 .5h0m.2-1.4h0m.2 .4h0m.3 1h0m.1-.8h0m.2 1.2h0m0-1.2h0m.2 .5h0m.2 .4h0m.1-2.3h0m0-.1h0m.2 0h0m0 .9h0m.1-.3h0m.1 1.6h0m.2 .2h0m.1-2h0m.4 .2h0m0 2h0m.1-1.6h0m.2 1.8h0m0-2.1h0m.3 .1h0m.1 .2h0m0 .7h0m.1-1.5h0m.2 1h0m.4-.4h0m.3 .4h0m0-.5h0m.3 0h0m.2 1.3h0m.4-1.5h0m.1 1h0m0-.5h0m.1-.8h0m.2-.1h0m.2 .2h0m0 .7h0m.4-.1h0m0 1h0m.1-.3h0m.7-1.6h0m.2 .3h0m2.3 .2h0m-18.9 5.3h0m1-.1h0m.8-.3h0m.2-.9h0m.2 1.2h0m0 .1h0m.3-.6h0m.4-.7h0m.1 .3h0m.5 .7h0m.1-1.5h0m.2 1.8h0m.2-1.2h0m.5-.9h0m.1 1.9h0m.6-2.6h0m.1 1.7h0m.1-.5h0m.2-.6h0m.1 .8h0m.1-.2h0m.5-.3h0m1.2 .8h0m.1-.6h0m.1 .8h0m.1-1.1h0m.3 2.1h0m0-2h0m.8-.7h0m0 .4h0m0 .7h0m0-1.3h0m.2 .3h0m.4 1h0m0-1.3h0m.5 1.5h0m.1-1.4h0m.1 .6h0m.1 .5h0m.8-1h0m.5 .4h0m-13.2 5.2h0m0-.4h0m.1 .2h0m.3-.4h0m.6-.7h0m.5-.7h0m0 1.2h0m0 .2h0m.1-1.5h0m.3 1.5h0m.3-1.9h0m.1 2h0m.1-1.7h0m.3 .3h0m.2-.3h0m.1 .1h0m.1-.7h0m.1 .9h0m1 .5h0m.1 .6h0m.1-1.9h0m0 2h0m0-.6h0m.4 .2h0m.2 .5h0m.2-2h0m.1-.1h0m.2 .1h0m.1 1.6h0m.5-1.6h0m.1 1.6h0m.6-1.9h0m.3 .5h0m.1-.3h0m.2-.2h0m1 .2h0m.3 .1h0m.6-.2h0m-16.2 4.7h0m1.3-.6h0m.4 .4h0m0 1.2h0m.1-.5h0m0 .4h0m.7-1.2h0m.1 1h0m.1 .2h0m.3-1h0m.6 .1h0m.2-1.4h0m0 1.3h0m.2-1.2h0m.1 1.6h0m.2-1.2h0m.5 .1h0m.2 .2h0m0-.7h0m.2 .9h0m0 .9h0m.1-1.3h0m.1 1.3h0m0-1h0m.2 .1h0m.4 .4h0m0 .6h0m0-1.9h0m0 1h0m.2-.9h0m.1 2.1h0m.2-1.2h0m.2 1.3h0m0-2.1h0m.3 .7h0m0-.2h0m.1-.8h0m.1-.1h0m.6 1.9h0m.3-1.6h0m.2-.1h0m.4 .5h0m.2 .1h0m.2-.9h0m.1 .4h0m.2 .7h0m.3-1.3h0m.3 .1h0m.2 .4h0m.1 .2h0m-14 4.6h0m.8 .7h0m.3-.4h0m.5-.2h0m.3 .5h0m.3-.4h0m.5 .4h0m.1-.7h0m.1-1.8h0m0 1.7h0m.1 .7h0m.2-.7h0m.1-1.1h0m0-.9h0m.2 2.4h0m.2 0h0m0 .1h0m.1-.9h0m.2 1h0m.1-1.3h0m.1-.7h0m.1 1.4h0m0-.8h0m.1 1h0m.1 .1h0m0 .3h0m.2-1.9h0m.4 1.9h0m.1-.3h0m.2-1.1h0m.1 1.3h0m0-2h0m.2 1.1h0m.1 1.2h0m.1-1.4h0m0 .6h0m.4-.2h0m.5-.7h0m1-1.2h0m-10.5 5.4h0m.8-.3h0m0-.5h0m.1 1.1h0m.1-1h0m.1 .4h0m.7 .1h0m.1-1.1h0m.3 .9h0m.2-1h0m.2 1.2h0m0-1.4h0m.1 1.6h0m.1 .1h0m.3-1.4h0m.2 .6h0m.3 .7h0m1-1.7h0m.3 1.8h0m.1-2.2h0m.1 1.7h0m.1-1.9h0m1.2 0h0m.1 .9h0m1.1-.1h0m1.3-.5h0m-20.1 5.4h0m7.1-.6h0m.5-.1h0m.3 .4h0m0 .3h0m.8-2h0m0 1.6h0m.2 .1h0m.1-1.9h0m.1 1.8h0m.2 .4h0m.1-1.4h0m0 .2h0m.1-.3h0m.3-1.2h0m.1 .6h0m.3 .1h0m0 .3h0m.9-.2h0m.1-.7h0m.2 .2h0m0 1.8h0m.1-.1h0m1.1-.6h0m1-.8h0m.4 .9h0m.3-.1h0m.7-1h0m.1-.4h0m-17.9 4.6h0m.5-1.4h0m1.1 2.1h0m.8 .3h0m.3-1.4h0m.1 .7h0m.4-1.1h0m.3 .5h0m0 1.5h0m0-1.6h0m2.4-.3h0m.5 .4h0m0 1h0m.3-.7h0m.2 .1h0m.3 1h0m.6-1.5h0m.2 .6h0m.3 .3h0m0-1.2h0m.2 .9h0m.3 1h0m0-2.5h0m.3 1.9h0m0-.1h0m0-.6h0m.1 .8h0m.5-.6h0m.2 .3h0m.3-2.1h0m.2 1.5h0m.3-1.2h0m.2 .2h0m.2 .8h0m.4 .2h0m.2-1.2h0m1.1-.2h0m.3 2.1h0m.9-2.1h0m-17.2 5.7h0m4.6-.1h0m.4 .1h0m.9-1.4h0m.1 .5h0m0 .7h0m.5-.7h0m.1 1.1h0m.1-1.6h0m.4-.6h0m.2 0h0m0 1.1h0m0-.1h0m.3-1.2h0m.1 .2h0m.2-.8h0m.4 1.6h0m.5 .6h0m.1-1.3h0m.1 1.6h0m.2-1.6h0m.3-.3h0m.1 2.1h0m.2-2h0m1.1 .8h0m.2-1.4h0m0 .5h0m1.6 0h0m.1-.4h0m.4 .3h0m-13.8 4.6h0m2.1 .9h0m.8-2.7h0m1.4 .3h0m.9-.1h0m.9-.5h0m.7 2.6h0m2.4-1.4h0m.6-1.1h0m2.6 .9h0m-15.6 2.2h0m2.2 2.3h0m1.1-1.9h0m.3 1.8h0m-3.9 .7h0m2.3 1.3h0m5.8-1h0m-9.1 4.5h0m1-.9h0m.6-.2h0" stroke="#F8766D" stroke-width="1.9" stroke-linecap="round" fill="none"/>
<path d="M607 555h0m.5-1.2h0m0 .4h0m.1 .4h0m0-.5h0m.1-.4h0m.3-.8h0m.1 .6h0m.1 .3h0m.1 .6h0m.1-.1h0m.1 .2h0m.1-.8h0m.2-.6h0m.1 1.3h0m.2-1.3h0m0 .6h0m.2 .7h0m0-.1h0m.1-.3h0m.1 .1h0m.4 .1h0m0-.2h0m0 .9h0m.2 .1h0m0-.2h0m.2-.1h0m0-.7h0m0 .8h0m0-.7h0m0-.5h0m.2 1.3h0m0-.9h0m.1-.9h0m.2 1.3h0m0 .6h0m.1-.9h0m.1-.6h0m.1-.8h0m.1 2.2h0m.1-.4h0m.2 0h0m.1 .2h0m.5 .3h0m.2-1h0m0 .5h0m.5-1.3h0m.5 1.2h0m.1 .5h0m.1-.3h0m.3-.5h0m0 .5h0m.2-.5h0m.2 .1h0m.1 0h0m1.3 .8h0m.8-.1h0m-9.3 .2h0m1-.1h0m.1 .7h0m.3 .7h0m.4-1.1h0m.2 .1h0m0 0h0m0-.3h0m.1 1.2h0m.1-.7h0m.2-.2h0m.3-.3h0m.1 1.1h0m.1-.8h0m0 .5h0m.1 .2h0m.1 0h0m.1-.8h0m0 .3h0m.2-.3h0m.1 .8h0m.1-1.1h0m.2 .1h0m0-.1h0m.1 2.2h0m.2-1.4h0m.2 1h0m.1-1.8h0m.2 .8h0m0-.5h0m.1 0h0m0 .4h0m0-.6h0m.2 .3h0m.1 .9h0m.1-1h0m.1 2.6h0m.1-2.8h0m0 1.1h0m.1 .3h0m.1-.6h0m.1-.7h0m0 1.1h0m0 .5h0m0-1.5h0m.1 2.1h0m.1-.9h0m0-.2h0m.1-.9h0m0 .6h0m0-.9h0m0 0h0m.1-.1h0m.2 .8h0m0 1.1h0m0-.5h0m.2-.3h0m.1-.7h0m0 .5h0m.2 2h0m0-2.1h0m0 .6h0m0-.1h0m.1-.6h0m0 1.3h0m.2-1.8h0m.1 .3h0m0 .4h0m.1 .5h0m.1 0h0m0-.5h0m0-.9h0m.1 0h0m.1 .8h0m0-.4h0m0 .5h0m.1 1.3h0m0-1.2h0m.2 .6h0m0-.9h0m.1 .8h0m0-.6h0m0 .5h0m0 1.1h0m.1-1.1h0m.1 1h0m0-2.3h0m0 0h0m.1 .9h0m.1-.2h0m0 1.4h0m.2-1.1h0m.2 .3h0m.3-.3h0m.2 .1h0m.1-.3h0m.1 .6h0m.3 .1h0m.2 0h0m.1-.2h0m0 .6h0m.4 .5h0m.2 .1h0m.3-1.3h0m.1 .3h0m.8 .6h0m.4 .2h0m.4-.3h0m0 .8h0m1-.4h0m2.4 .1h0m-5.3 .7h0m1.3 .1h0m1.2 .3h0m.2-.6h0m.2 .7h0m.3 .3h0m.5 .1h0m.4-.1h0m.2 .4h0m.3-.7h0m.1 1.5h0m.1-1.1h0m.4-.7h0m0 2.2h0m0-2.5h0m.2 0h0m.5 2.2h0m.3 0h0m.5-.7h0m0 .7h0m.1-1.6h0m.5 1.9h0m.1-1.5h0m.2-.7h0m.2 .1h0m0 1h0m.5 .6h0m.1-.3h0m0 .3h0m.1-.5h0m.1 .5h0m.5-.3h0m0 .3h0m.9-.8h0m.6 .8h0m.1 .6h0m.4 .2h0m.4-.4h0m.1-.7h0m0 1.1h0m-3.7 .6h0m1.7 .3h0m.6 1.2h0m.3-1.6h0m.6-.2h0m.9 .6h0m0 2h0m.7-2.4h0m.2 .6h0m.1 .6h0m.1-.7h0m.1 .7h0m.1-.3h0m.1 .9h0m.2-.1h0m.1 .7h0m.2-1.6h0m.3-1.1h0m0-.1h0m.8 1.8h0m.2-1.2h0m0 .9h0m.6 .4h0m.1-1.2h0m.1 1.5h0m0-.2h0m0 0h0m.2-.7h0m.2 1.2h0m.2-1h0m.1-.5h0m0 0h0m.1 .8h0m.4-.5h0m.4 .9h0m.1 .4h0m.1-1h0m5 .9h0m.2-.6h0m-5.5 1.5h0m1.7-.2h0m.8 .2h0m.1 .7h0m1 .3h0m.9-.2h0m1-.7h0m.2-.2h0m.3 1.8h0m.8 .7h0m.5 0h0m1.5-1.5h0m-7.5 2.6h0m.3-.9h0m.4 2.6h0m1.3-2.4h0m1.2 .7h0m.6 .9h0m.6-1.7h0m.3 .3h0m1.1 1.5h0m.1 1h0m.2-2.5h0m.5 2.3h0m.9 0h0m0-2h0m.1 .8h0m.4-.8h0m0-.1h0m1 1.5h0m.6-1.1h0m.1-.2h0m.1 .3h0m.3 1.3h0m.3-2h0m.4 1.7h0m.6 0h0m.7 .7h0m1.1-.1h0m.9-.5h0m.8 .6h0m-11.5 1.7h0m5.2-1.3h0m.2 1.4h0m2.6 .7h0m3.3-1.6h0m.3 .6h0m.3-.8h0m.6 .3h0m.2 1.1h0m.2-.9h0m.1-.9h0m0 1h0m.3-.2h0m2.1 .7h0m.7 .6h0m.6 .2h0m-7.1 2.1h0m.5 .5h0m4.6-2.1h0m1.9 .2h0m.2-.2h0m.1 1.2h0m1.2-.9h0m1.2 0h0m.1 .7h0m.3-.9h0m.6 .8h0m.3 1.1h0m.1-1.4h0m.5 1.5h0m0-.9h0m0 1.5h0m.2-1h0m.4 .9h0m.2-.4h0m1.2-.1h0m1.8 .4h0m-2.8 1h0m.7-.5h0m-11.8 3.2h0m19.1 1.2h0m2.4-1.1h0m-1.9 5.7h0m9.1-.6h0m1.9-.5h0m-6.8 2.1h0" stroke="#00BA38" stroke-width="1.9" stroke-linecap="round" fill="none"/>
<path d="M685.2 587.8h0m.9 2.2h0m.2 0h0m.4 1.1h0m.4 .7h0m.4-.6h0m0 1.8h0m0-.8h0m.4 0h0m.1 1.3h0m.1 .5h0m.2-.5h0m.1 .2h0m.4 .2h0m.1-.1h0m-2.2 1.5h0m.2 .6h0m0-1.7h0m.4-.1h0m.3 2.6h0m.4-1.3h0m.1 0h0m.2-.1h0m.1 1.5h0m0-2.1h0m1.1 2.2h0m.1-.6h0m.3-.8h0m-2.1 2.4h0m.5 .9h0m.1-1.1h0m.2 1.6h0m.1-.2h0m.3-.2h0m0-.2h0m.2 .7h0m0-1.7h0m.1 1.1h0m0 1.1h0m.3-2.7h0m.1 .2h0m.2 1.8h0m0 .1h0m0-.4h0m.1-1h0m0 1.6h0m.2-.3h0m.1 .7h0m0-.3h0m.1-.2h0m.1 .5h0m-2.4 1.1h0m.3 .6h0m.1 .6h0m.1-1.7h0m.2 .3h0m.2 1.8h0m.2-1.1h0m.1-.5h0m.4 1.2h0m.1-1h0m.1-1.1h0m.3 2h0m.1-1.4h0m.1-.3h0m0 .6h0m.1 0h0m.5 1h0m.2 .3h0m.1-.1h0m.2 .7h0m-1.7 2.4h0m.2-.6h0m.1-.8h0m1.1 0h0m0 1.6h0m.2-.5h0m.2-.1h0m-1 1.9h0m.1 .6h0m.3-.2h0m.1 .4h0m.4-1.5h0m.2 1.9h0m.2 .7h0m.4-.3h0m-1 3.2h0m.4-.4h0m.4 .3h0m.1-2.4h0m.1 1.6h0m.1-.4h0m0 .7h0m.2-1.4h0m.2-.5h0m.1 .6h0m.1 1.7h0m.5-1.2h0m.2 0h0m-1.2 2.1h0m.1-.3h0m.1 .9h0m.2 .8h0m0-.4h0m0 1.3h0m.1-1.5h0m0-.9h0m.4 .4h0m.1 .7h0m.4 1.5h0m.3-1.2h0m.1-.1h0m1.2 .5h0m-3.2 2.1h0m1.3-.6h0m0 .8h0m.1-1.1h0m.2 .8h0m.4 .5h0m.2-1.1h0m.6 .4h0m.8 1.8h0m1.5-1h0m-3.7 2.3h0m.1 1.1h0m.6 .2h0m.6-1.9h0m.1 0h0m.3 1.1h0m.1-1h0m.4 1.7h0m.2-1.1h0m.4-.3h0m.6 .4h0m.9-.7h0m-3.1 3.4h0m0 1.5h0m.1-.9h0m.2 .9h0m.1-1.7h0m.2 1.1h0m.4 1.2h0m.3-.4h0m.1-1h0m.1 .3h0m.3-1h0m.4 .6h0m.1 .6h0m.2 0h0m-2.9 1.2h0m.5 1.6h0m.3-1h0m1 1.2h0m.1 .3h0m.1 .6h0m.1-2.3h0m.1 .2h0m.3 1.1h0m.3 .9h0m.1-.3h0m0-1.4h0m.1 1.8h0m.6-.1h0m.1-1.4h0m.3-1.2h0m12.7 1.9h0m-15.3 1.7h0m.1 2h0m.2-1.9h0m0 .1h0m.3 .3h0m0-.7h0m.2-.3h0m.1 0h0m.2 1.8h0m.2 .1h0m0-.2h0m.5-.1h0m.4 .5h0m.2-.6h0m0-.4h0m.2 .2h0m.5 .2h0m.1 .1h0m.1 1h0m.8-2.1h0m.3 2h0m-4.2 1.1h0m.4 1.4h0m.1-1.5h0m.3 0h0m.5 .9h0m0-.6h0m.3 1.1h0m0-.2h0m.1-.1h0m.1-.1h0m0 1h0m.1 0h0m.4-2.7h0m.3 1.5h0m.1 .8h0m0-1.3h0m.2-.9h0m.4-.1h0m.2 .6h0m.1 1.7h0m-2.4 2.5h0m.1-1.7h0m.6 2.4h0m.3 .2h0m0-1.9h0m.1 .1h0m.2 .2h0m.1 1.1h0m.2 .5h0m.1-1.9h0m.1-.7h0m0 1h0m.1-.4h0m.7 .3h0m.1 .9h0m.1-1.6h0m.6 2h0m0 .2h0m.2-2.3h0m1 2.1h0m.1-.1h0m-4.1 3.2h0m.1 .1h0m.1-1.8h0m.8 .8h0m.4 0h0m.2 .5h0m.5-2.1h0m.9 2.7h0m.2-.8h0m.4-.7h0m2.9 1.8h0m.2-.6h0m-7 1h0m1.6 1.5h0m.6 .3h0m.2 .2h0m.2-.9h0m.4-1.2h0m.4-.2h0m.2 2.1h0m.4 .2h0m.2 .3h0m.1-2h0m.8 2.2h0m.5-1.5h0m-3.7 2.5h0m.1-.4h0m.8 1.7h0m.1-.9h0m.1-1.1h0m.1 1.7h0m0-1.8h0m.1 1.4h0m.6 .4h0m.5-.3h0m.3-.9h0m.4 1h0m.1-1.1h0m.8 1.1h0m2.5-.5h0m.9-.1h0m-8 3.8h0m0-1.4h0m1.4 .6h0m.2-.2h0m.1-.3h0m.1-.4h0m.1 1.2h0m0-1.1h0m0 .8h0m.2 .2h0m.4 1.3h0m.2 0h0m1.1-.2h0m.1-1.4h0m.8 1.5h0m1 0h0m-4.3 .9h0m.4-.4h0m.1 .4h0m.5 2.5h0m.4-.6h0m.2-1.6h0m.1 .4h0m.1 1.8h0m.1-1.4h0m.1-1.1h0m.4 .1h0m0 1.2h0m.1 .6h0m.5-1.7h0m.1 1.9h0m.2 .3h0m.1-.6h0m0-1.6h0m.1 .6h0m.4 1.6h0m.2-1.8h0m.2 .9h0m0-1h0m.5 1.8h0m.1-.8h0m-5.1 3.9h0m1-1.3h0m.2 .4h0m.2 .9h0m.5-.5h0m.1-.6h0m.2 1.1h0m.2-1.9h0m.1 1.7h0m.1-1.3h0m.1-.3h0m.1-.6h0m0 1.2h0m0-1.2h0m.3 1.9h0m0-.9h0m0 .7h0m.1 .1h0m.3 .4h0m.2-2.3h0m0 .9h0m.2 1.3h0m0-.3h0m.1-2.2h0m.1 2.3h0m0 .4h0m.3-1.4h0m.1 .8h0m0 .5h0m.2-1.2h0m.1 1.1h0m.1 .2h0m.2-1.5h0m1.1 1.4h0m.2-1.2h0m.1 .9h0m.3-1.8h0m1 1.2h0m2.1 .1h0m-9.3 1.9h0m.3 2h0m.2-2.1h0m.1 2h0m.4 .2h0m.2-1.7h0m.4-.8h0m.5 1h0m.1-.7h0m.2 1.5h0m.2-.2h0m0-1.1h0m0 2.1h0m.1-2.4h0m.4 1.8h0m.1-1h0m.1 .2h0m0 .1h0m.2-1.1h0m.1 1.4h0m0-.3h0m.3-.7h0m.1-.6h0m.2 2.5h0m0-.8h0m.2-.3h0m.1-.6h0m0-.3h0m0 1.8h0m.1 .2h0m.1-.1h0m.1 .2h0m.2-2.4h0m.2-.2h0m.3 2.2h0m.1 .2h0m.3-1.7h0m.2-.5h0m0-.5h0m.2 2h0m.3 .9h0m1.5-1.3h0m-7.5 2h0m.4-.2h0m.4 1.1h0m.4-1.4h0m.6 1.5h0m0-.7h0m.3-.8h0m.9 1.6h0m.1-1.3h0m.2 .4h0m.1 .3h0m0 .1h0m.1-.6h0m0 .9h0m0 .6h0m.1-1.3h0m.1 1.2h0m.1-1.3h0m.3 1.9h0m.2-.7h0m0-1.1h0m.3 .3h0m.2-.7h0m.2 .2h0m.2 1.8h0m.1 0h0m0-1.1h0m.3-1.2h0m.1 1.5h0m.2 .1h0m.9 1h0m.9-1.3h0m.2 .6h0m-9 1.7h0m2.3 .4h0m.1-.3h0m1.2-.2h0m.5 .6h0m.3 .8h0m.1 .3h0m.1-1.3h0m.1 .5h0m.1 1.4h0m.2-.2h0m.3-2.3h0m.5-.2h0m.2 .8h0m.1-.8h0m0 .5h0m.2 1.9h0m.2-1.7h0m.4 1.3h0m.3-.4h0m.2-.9h0m.1-.1h0m.1 1.7h0m.3-.2h0m.2-2h0m0 1.3h0m.1 1.3h0m.1-2.4h0m.3 .5h0m1.1-.6h0m.4 .6h0m-6.8 3h0m.5-.9h0m.3 .7h0m2-.6h0m.4-.2h0" stroke="#619CFF" stroke-width="1.9" stroke-linecap="round" fill="none"/>
<circle cx="685.7" cy="587.3" r="2.5" fill="#000"/>
<text x="685.7" y="588.5" font-size="3.6" fill="#fff" text-anchor="middle" font-weight="bold">1</text>
<text x="661.7" y="517.9" font-size="4.7" fill="#111" stroke="#111" stroke-width="0.1">State</text>
<path d="M678.4 516.2h0" stroke="#F8766D" stroke-width="1.7" stroke-linecap="round" fill="none"/>
<text x="684.8" y="517.5" font-size="3.7" fill="#222" stroke="#222" stroke-width="0.1">1</text>
<path d="M692.3 516.2h0" stroke="#00BA38" stroke-width="1.7" stroke-linecap="round" fill="none"/>
<text x="698.7" y="517.5" font-size="3.7" fill="#222" stroke="#222" stroke-width="0.1">2</text>
<path d="M706.2 516.2h0" stroke="#619CFF" stroke-width="1.7" stroke-linecap="round" fill="none"/>
<text x="712.6" y="517.5" font-size="3.7" fill="#222" stroke="#222" stroke-width="0.1">3</text></svg></body></html>
